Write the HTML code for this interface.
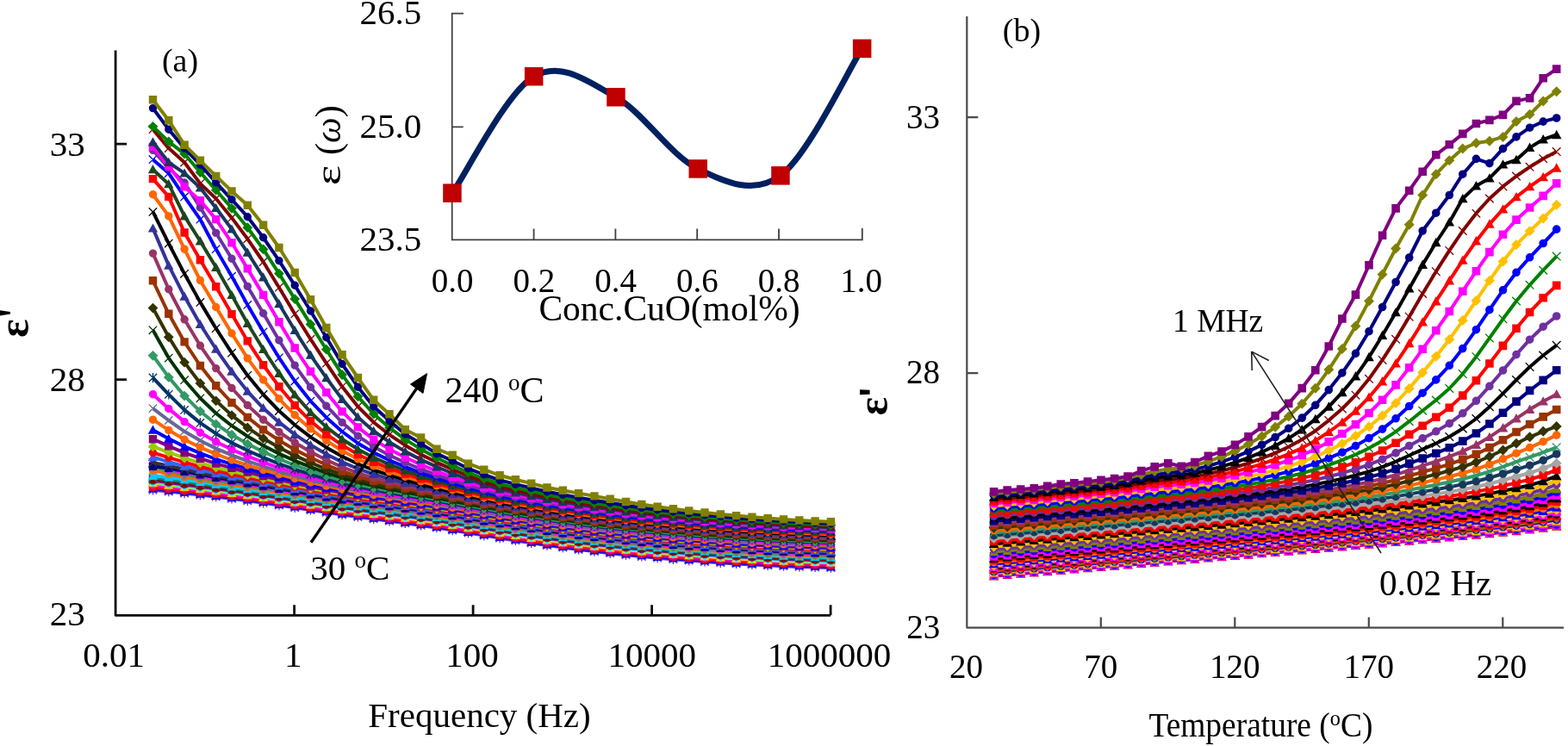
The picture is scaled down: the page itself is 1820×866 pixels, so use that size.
<!DOCTYPE html>
<html><head><meta charset="utf-8"><title>Dielectric constant</title>
<style>html,body{margin:0;padding:0;background:#fff;width:1820px;height:866px;overflow:hidden}svg{display:block}</style>
</head><body>
<svg width="1820" height="866" viewBox="0 0 1820 866" font-family="Liberation Serif, serif">
<rect width="1820" height="866" fill="#fff"/>
<!-- panel a axes -->
<path d="M134.1 58.5V714.3H964" fill="none" stroke="#0d0d0d" stroke-width="2.8" stroke-linejoin="round"/>
<path d="M134.1 167.1h13M134.1 440.7h13M341.6 714.3v-12M549.1 714.3v-12M756.6 714.3v-12M964.1 714.3v-12" stroke="#0d0d0d" stroke-width="2.8"/>
<g font-size="41" fill="#000" text-anchor="end">
<text x="98.7" y="180.5">33</text><text x="98.7" y="453.8">28</text><text x="98.8" y="725.5">23</text>
</g>
<g font-size="41" fill="#000" text-anchor="middle">
<text x="132.2" y="774">0.01</text><text x="340.3" y="774">1</text><text x="548" y="774">100</text><text x="756.8" y="774">10000</text><text x="962.5" y="774">1000000</text>
</g>
<text x="556.5" y="843.5" font-size="41" text-anchor="middle">Frequency (Hz)</text>
<text x="209" y="83.1" font-size="38" text-anchor="middle">(a)</text>
<text transform="translate(33,374) rotate(-90)" font-size="50" font-weight="bold" text-anchor="middle">ε'</text>
<path d="M177.5 568.8L195.8 570.6L214.1 572.5L232.4 574.5L250.7 576.7L269.0 578.9L287.3 581.3L305.6 583.8L323.9 586.5L342.2 589.3L360.5 592.1L378.8 594.8L397.1 597.5L415.4 600.0L433.7 602.4L452.0 604.8L470.3 607.3L488.6 609.9L506.9 612.6L525.2 615.5L543.5 618.6L561.8 621.6L580.1 624.5L598.4 627.4L616.7 630.3L635.0 633.0L653.3 635.6L671.6 638.0L689.9 640.1L708.2 642.2L726.5 644.2L744.8 646.0L763.1 647.7L781.4 649.2L799.7 650.6L818.0 652.0L836.3 653.2L854.6 654.4L872.9 655.4L891.2 656.3L909.5 657.2L927.8 657.9L946.1 658.5L964.4 659.0" fill="none" stroke="#7030A0" stroke-width="4.0" stroke-linejoin="round"/><path d="M172.8 564.1l9.4 9.4M172.8 573.5l9.4 -9.4M177.5 563.1v11.3M191.1 565.9l9.4 9.4M191.1 575.3l9.4 -9.4M195.8 564.9v11.3M209.4 567.8l9.4 9.4M209.4 577.2l9.4 -9.4M214.1 566.9v11.3M227.7 569.8l9.4 9.4M227.7 579.2l9.4 -9.4M232.4 568.9v11.3M246.0 572.0l9.4 9.4M246.0 581.4l9.4 -9.4M250.7 571.0v11.3M264.3 574.2l9.4 9.4M264.3 583.6l9.4 -9.4M269.0 573.3v11.3M282.6 576.6l9.4 9.4M282.6 586.0l9.4 -9.4M287.3 575.6v11.3M300.9 579.1l9.4 9.4M300.9 588.5l9.4 -9.4M305.6 578.2v11.3M319.2 581.8l9.4 9.4M319.2 591.2l9.4 -9.4M323.9 580.9v11.3M337.5 584.6l9.4 9.4M337.5 594.0l9.4 -9.4M342.2 583.7v11.3M355.8 587.4l9.4 9.4M355.8 596.8l9.4 -9.4M360.5 586.5v11.3M374.1 590.1l9.4 9.4M374.1 599.5l9.4 -9.4M378.8 589.2v11.3M392.4 592.8l9.4 9.4M392.4 602.2l9.4 -9.4M397.1 591.8v11.3M410.7 595.3l9.4 9.4M410.7 604.7l9.4 -9.4M415.4 594.3v11.3M429.0 597.7l9.4 9.4M429.0 607.1l9.4 -9.4M433.7 596.8v11.3M447.3 600.1l9.4 9.4M447.3 609.5l9.4 -9.4M452.0 599.2v11.3M465.6 602.6l9.4 9.4M465.6 612.0l9.4 -9.4M470.3 601.7v11.3M483.9 605.2l9.4 9.4M483.9 614.6l9.4 -9.4M488.6 604.2v11.3M502.2 607.9l9.4 9.4M502.2 617.3l9.4 -9.4M506.9 606.9v11.3M520.5 610.8l9.4 9.4M520.5 620.2l9.4 -9.4M525.2 609.9v11.3M538.8 613.9l9.4 9.4M538.8 623.3l9.4 -9.4M543.5 613.0v11.3M557.1 616.9l9.4 9.4M557.1 626.3l9.4 -9.4M561.8 616.0v11.3M575.4 619.8l9.4 9.4M575.4 629.2l9.4 -9.4M580.1 618.9v11.3M593.7 622.7l9.4 9.4M593.7 632.1l9.4 -9.4M598.4 621.8v11.3M612.0 625.6l9.4 9.4M612.0 635.0l9.4 -9.4M616.7 624.7v11.3M630.3 628.3l9.4 9.4M630.3 637.7l9.4 -9.4M635.0 627.4v11.3M648.6 630.9l9.4 9.4M648.6 640.3l9.4 -9.4M653.3 630.0v11.3M666.9 633.3l9.4 9.4M666.9 642.7l9.4 -9.4M671.6 632.3v11.3M685.2 635.4l9.4 9.4M685.2 644.8l9.4 -9.4M689.9 634.5v11.3M703.5 637.5l9.4 9.4M703.5 646.9l9.4 -9.4M708.2 636.6v11.3M721.8 639.5l9.4 9.4M721.8 648.9l9.4 -9.4M726.5 638.5v11.3M740.1 641.3l9.4 9.4M740.1 650.7l9.4 -9.4M744.8 640.3v11.3M758.4 643.0l9.4 9.4M758.4 652.4l9.4 -9.4M763.1 642.0v11.3M776.7 644.5l9.4 9.4M776.7 653.9l9.4 -9.4M781.4 643.6v11.3M795.0 645.9l9.4 9.4M795.0 655.3l9.4 -9.4M799.7 645.0v11.3M813.3 647.3l9.4 9.4M813.3 656.7l9.4 -9.4M818.0 646.3v11.3M831.6 648.5l9.4 9.4M831.6 657.9l9.4 -9.4M836.3 647.6v11.3M849.9 649.7l9.4 9.4M849.9 659.1l9.4 -9.4M854.6 648.7v11.3M868.2 650.7l9.4 9.4M868.2 660.1l9.4 -9.4M872.9 649.8v11.3M886.5 651.6l9.4 9.4M886.5 661.0l9.4 -9.4M891.2 650.7v11.3M904.8 652.5l9.4 9.4M904.8 661.9l9.4 -9.4M909.5 651.5v11.3M923.1 653.2l9.4 9.4M923.1 662.6l9.4 -9.4M927.8 652.2v11.3M941.4 653.8l9.4 9.4M941.4 663.2l9.4 -9.4M946.1 652.8v11.3M959.7 654.3l9.4 9.4M959.7 663.7l9.4 -9.4M964.4 653.4v11.3" fill="none" stroke="#7030A0" stroke-width="1.3"/>
<path d="M177.5 567.1L195.8 569.2L214.1 571.2L232.4 573.2L250.7 575.4L269.0 577.6L287.3 580.0L305.6 582.6L323.9 585.3L342.2 588.1L360.5 590.9L378.8 593.6L397.1 596.2L415.4 598.8L433.7 601.2L452.0 603.6L470.3 606.1L488.6 608.7L506.9 611.4L525.2 614.3L543.5 617.4L561.8 620.4L580.1 623.3L598.4 626.2L616.7 629.1L635.0 631.8L653.3 634.4L671.6 636.8L689.9 638.9L708.2 641.0L726.5 643.0L744.8 644.8L763.1 646.5L781.4 648.0L799.7 649.4L818.0 650.8L836.3 652.0L854.6 653.2L872.9 654.2L891.2 655.1L909.5 656.0L927.8 656.7L946.1 657.3L964.4 657.8" fill="none" stroke="#0000FF" stroke-width="4.0" stroke-linejoin="round"/><path d="M177.5 561.5l5.6 10.2h-11.3zM195.8 563.5l5.6 10.2h-11.3zM214.1 565.5l5.6 10.2h-11.3zM232.4 567.6l5.6 10.2h-11.3zM250.7 569.7l5.6 10.2h-11.3zM269.0 572.0l5.6 10.2h-11.3zM287.3 574.4l5.6 10.2h-11.3zM305.6 576.9l5.6 10.2h-11.3zM323.9 579.7l5.6 10.2h-11.3zM342.2 582.4l5.6 10.2h-11.3zM360.5 585.2l5.6 10.2h-11.3zM378.8 588.0l5.6 10.2h-11.3zM397.1 590.6l5.6 10.2h-11.3zM415.4 593.1l5.6 10.2h-11.3zM433.7 595.6l5.6 10.2h-11.3zM452.0 598.0l5.6 10.2h-11.3zM470.3 600.5l5.6 10.2h-11.3zM488.6 603.0l5.6 10.2h-11.3zM506.9 605.7l5.6 10.2h-11.3zM525.2 608.7l5.6 10.2h-11.3zM543.5 611.8l5.6 10.2h-11.3zM561.8 614.8l5.6 10.2h-11.3zM580.1 617.7l5.6 10.2h-11.3zM598.4 620.6l5.6 10.2h-11.3zM616.7 623.5l5.6 10.2h-11.3zM635.0 626.2l5.6 10.2h-11.3zM653.3 628.8l5.6 10.2h-11.3zM671.6 631.1l5.6 10.2h-11.3zM689.9 633.3l5.6 10.2h-11.3zM708.2 635.4l5.6 10.2h-11.3zM726.5 637.3l5.6 10.2h-11.3zM744.8 639.1l5.6 10.2h-11.3zM763.1 640.8l5.6 10.2h-11.3zM781.4 642.4l5.6 10.2h-11.3zM799.7 643.8l5.6 10.2h-11.3zM818.0 645.1l5.6 10.2h-11.3zM836.3 646.4l5.6 10.2h-11.3zM854.6 647.5l5.6 10.2h-11.3zM872.9 648.6l5.6 10.2h-11.3zM891.2 649.5l5.6 10.2h-11.3zM909.5 650.3l5.6 10.2h-11.3zM927.8 651.0l5.6 10.2h-11.3zM946.1 651.6l5.6 10.2h-11.3zM964.4 652.2l5.6 10.2h-11.3z" fill="#0000FF"/>
<path d="M177.5 566.0L195.8 567.9L214.1 569.9L232.4 572.0L250.7 574.1L269.0 576.4L287.3 578.8L305.6 581.4L323.9 584.1L342.2 586.9L360.5 589.7L378.8 592.4L397.1 595.0L415.4 597.5L433.7 600.0L452.0 602.4L470.3 604.9L488.6 607.5L506.9 610.2L525.2 613.1L543.5 616.2L561.8 619.2L580.1 622.1L598.4 625.0L616.7 627.9L635.0 630.6L653.3 633.2L671.6 635.6L689.9 637.7L708.2 639.8L726.5 641.8L744.8 643.6L763.1 645.3L781.4 646.8L799.7 648.2L818.0 649.6L836.3 650.8L854.6 652.0L872.9 653.0L891.2 653.9L909.5 654.8L927.8 655.5L946.1 656.1L964.4 656.6" fill="none" stroke="#CC0066" stroke-width="4.0" stroke-linejoin="round"/><path d="M172.8 566.0a4.7 4.7 0 1 0 9.4 0a4.7 4.7 0 1 0 -9.4 0zM191.1 567.9a4.7 4.7 0 1 0 9.4 0a4.7 4.7 0 1 0 -9.4 0zM209.4 569.9a4.7 4.7 0 1 0 9.4 0a4.7 4.7 0 1 0 -9.4 0zM227.7 572.0a4.7 4.7 0 1 0 9.4 0a4.7 4.7 0 1 0 -9.4 0zM246.0 574.1a4.7 4.7 0 1 0 9.4 0a4.7 4.7 0 1 0 -9.4 0zM264.3 576.4a4.7 4.7 0 1 0 9.4 0a4.7 4.7 0 1 0 -9.4 0zM282.6 578.8a4.7 4.7 0 1 0 9.4 0a4.7 4.7 0 1 0 -9.4 0zM300.9 581.4a4.7 4.7 0 1 0 9.4 0a4.7 4.7 0 1 0 -9.4 0zM319.2 584.1a4.7 4.7 0 1 0 9.4 0a4.7 4.7 0 1 0 -9.4 0zM337.5 586.9a4.7 4.7 0 1 0 9.4 0a4.7 4.7 0 1 0 -9.4 0zM355.8 589.7a4.7 4.7 0 1 0 9.4 0a4.7 4.7 0 1 0 -9.4 0zM374.1 592.4a4.7 4.7 0 1 0 9.4 0a4.7 4.7 0 1 0 -9.4 0zM392.4 595.0a4.7 4.7 0 1 0 9.4 0a4.7 4.7 0 1 0 -9.4 0zM410.7 597.5a4.7 4.7 0 1 0 9.4 0a4.7 4.7 0 1 0 -9.4 0zM429.0 600.0a4.7 4.7 0 1 0 9.4 0a4.7 4.7 0 1 0 -9.4 0zM447.3 602.4a4.7 4.7 0 1 0 9.4 0a4.7 4.7 0 1 0 -9.4 0zM465.6 604.9a4.7 4.7 0 1 0 9.4 0a4.7 4.7 0 1 0 -9.4 0zM483.9 607.5a4.7 4.7 0 1 0 9.4 0a4.7 4.7 0 1 0 -9.4 0zM502.2 610.2a4.7 4.7 0 1 0 9.4 0a4.7 4.7 0 1 0 -9.4 0zM520.5 613.1a4.7 4.7 0 1 0 9.4 0a4.7 4.7 0 1 0 -9.4 0zM538.8 616.2a4.7 4.7 0 1 0 9.4 0a4.7 4.7 0 1 0 -9.4 0zM557.1 619.2a4.7 4.7 0 1 0 9.4 0a4.7 4.7 0 1 0 -9.4 0zM575.4 622.1a4.7 4.7 0 1 0 9.4 0a4.7 4.7 0 1 0 -9.4 0zM593.7 625.0a4.7 4.7 0 1 0 9.4 0a4.7 4.7 0 1 0 -9.4 0zM612.0 627.9a4.7 4.7 0 1 0 9.4 0a4.7 4.7 0 1 0 -9.4 0zM630.3 630.6a4.7 4.7 0 1 0 9.4 0a4.7 4.7 0 1 0 -9.4 0zM648.6 633.2a4.7 4.7 0 1 0 9.4 0a4.7 4.7 0 1 0 -9.4 0zM666.9 635.6a4.7 4.7 0 1 0 9.4 0a4.7 4.7 0 1 0 -9.4 0zM685.2 637.7a4.7 4.7 0 1 0 9.4 0a4.7 4.7 0 1 0 -9.4 0zM703.5 639.8a4.7 4.7 0 1 0 9.4 0a4.7 4.7 0 1 0 -9.4 0zM721.8 641.8a4.7 4.7 0 1 0 9.4 0a4.7 4.7 0 1 0 -9.4 0zM740.1 643.6a4.7 4.7 0 1 0 9.4 0a4.7 4.7 0 1 0 -9.4 0zM758.4 645.3a4.7 4.7 0 1 0 9.4 0a4.7 4.7 0 1 0 -9.4 0zM776.7 646.8a4.7 4.7 0 1 0 9.4 0a4.7 4.7 0 1 0 -9.4 0zM795.0 648.2a4.7 4.7 0 1 0 9.4 0a4.7 4.7 0 1 0 -9.4 0zM813.3 649.6a4.7 4.7 0 1 0 9.4 0a4.7 4.7 0 1 0 -9.4 0zM831.6 650.8a4.7 4.7 0 1 0 9.4 0a4.7 4.7 0 1 0 -9.4 0zM849.9 652.0a4.7 4.7 0 1 0 9.4 0a4.7 4.7 0 1 0 -9.4 0zM868.2 653.0a4.7 4.7 0 1 0 9.4 0a4.7 4.7 0 1 0 -9.4 0zM886.5 653.9a4.7 4.7 0 1 0 9.4 0a4.7 4.7 0 1 0 -9.4 0zM904.8 654.8a4.7 4.7 0 1 0 9.4 0a4.7 4.7 0 1 0 -9.4 0zM923.1 655.5a4.7 4.7 0 1 0 9.4 0a4.7 4.7 0 1 0 -9.4 0zM941.4 656.1a4.7 4.7 0 1 0 9.4 0a4.7 4.7 0 1 0 -9.4 0zM959.7 656.6a4.7 4.7 0 1 0 9.4 0a4.7 4.7 0 1 0 -9.4 0z" fill="#CC0066"/>
<path d="M177.5 564.9L195.8 566.5L214.1 568.5L232.4 570.6L250.7 572.8L269.0 575.1L287.3 577.5L305.6 580.1L323.9 582.8L342.2 585.6L360.5 588.4L378.8 591.2L397.1 593.8L415.4 596.3L433.7 598.8L452.0 601.2L470.3 603.7L488.6 606.3L506.9 609.0L525.2 611.9L543.5 615.0L561.8 618.0L580.1 620.9L598.4 623.8L616.7 626.7L635.0 629.4L653.3 632.0L671.6 634.4L689.9 636.5L708.2 638.6L726.5 640.6L744.8 642.4L763.1 644.1L781.4 645.6L799.7 647.0L818.0 648.4L836.3 649.6L854.6 650.8L872.9 651.8L891.2 652.7L909.5 653.6L927.8 654.3L946.1 654.9L964.4 655.4" fill="none" stroke="#FF0000" stroke-width="4.0" stroke-linejoin="round"/><path d="M172.8 560.2h9.4v9.4h-9.4zM191.1 561.8h9.4v9.4h-9.4zM209.4 563.8h9.4v9.4h-9.4zM227.7 565.9h9.4v9.4h-9.4zM246.0 568.1h9.4v9.4h-9.4zM264.3 570.4h9.4v9.4h-9.4zM282.6 572.8h9.4v9.4h-9.4zM300.9 575.4h9.4v9.4h-9.4zM319.2 578.1h9.4v9.4h-9.4zM337.5 580.9h9.4v9.4h-9.4zM355.8 583.7h9.4v9.4h-9.4zM374.1 586.5h9.4v9.4h-9.4zM392.4 589.1h9.4v9.4h-9.4zM410.7 591.6h9.4v9.4h-9.4zM429.0 594.1h9.4v9.4h-9.4zM447.3 596.5h9.4v9.4h-9.4zM465.6 599.0h9.4v9.4h-9.4zM483.9 601.6h9.4v9.4h-9.4zM502.2 604.3h9.4v9.4h-9.4zM520.5 607.2h9.4v9.4h-9.4zM538.8 610.3h9.4v9.4h-9.4zM557.1 613.3h9.4v9.4h-9.4zM575.4 616.2h9.4v9.4h-9.4zM593.7 619.1h9.4v9.4h-9.4zM612.0 622.0h9.4v9.4h-9.4zM630.3 624.7h9.4v9.4h-9.4zM648.6 627.3h9.4v9.4h-9.4zM666.9 629.7h9.4v9.4h-9.4zM685.2 631.8h9.4v9.4h-9.4zM703.5 633.9h9.4v9.4h-9.4zM721.8 635.9h9.4v9.4h-9.4zM740.1 637.7h9.4v9.4h-9.4zM758.4 639.4h9.4v9.4h-9.4zM776.7 640.9h9.4v9.4h-9.4zM795.0 642.3h9.4v9.4h-9.4zM813.3 643.7h9.4v9.4h-9.4zM831.6 644.9h9.4v9.4h-9.4zM849.9 646.1h9.4v9.4h-9.4zM868.2 647.1h9.4v9.4h-9.4zM886.5 648.0h9.4v9.4h-9.4zM904.8 648.9h9.4v9.4h-9.4zM923.1 649.6h9.4v9.4h-9.4zM941.4 650.2h9.4v9.4h-9.4zM959.7 650.7h9.4v9.4h-9.4z" fill="#FF0000"/>
<path d="M177.5 562.7L195.8 564.8L214.1 566.9L232.4 569.1L250.7 571.4L269.0 573.7L287.3 576.1L305.6 578.8L323.9 581.5L342.2 584.3L360.5 587.2L378.8 589.9L397.1 592.6L415.4 595.1L433.7 597.6L452.0 600.0L470.3 602.5L488.6 605.0L506.9 607.7L525.2 610.7L543.5 613.8L561.8 616.8L580.1 619.7L598.4 622.6L616.7 625.5L635.0 628.2L653.3 630.8L671.6 633.2L689.9 635.3L708.2 637.4L726.5 639.4L744.8 641.2L763.1 642.9L781.4 644.4L799.7 645.8L818.0 647.2L836.3 648.4L854.6 649.6L872.9 650.6L891.2 651.5L909.5 652.4L927.8 653.1L946.1 653.7L964.4 654.2" fill="none" stroke="#FF00FF" stroke-width="4.0" stroke-linejoin="round"/><path d="M172.8 562.7a4.7 4.7 0 1 0 9.4 0a4.7 4.7 0 1 0 -9.4 0zM191.1 564.8a4.7 4.7 0 1 0 9.4 0a4.7 4.7 0 1 0 -9.4 0zM209.4 566.9a4.7 4.7 0 1 0 9.4 0a4.7 4.7 0 1 0 -9.4 0zM227.7 569.1a4.7 4.7 0 1 0 9.4 0a4.7 4.7 0 1 0 -9.4 0zM246.0 571.4a4.7 4.7 0 1 0 9.4 0a4.7 4.7 0 1 0 -9.4 0zM264.3 573.7a4.7 4.7 0 1 0 9.4 0a4.7 4.7 0 1 0 -9.4 0zM282.6 576.1a4.7 4.7 0 1 0 9.4 0a4.7 4.7 0 1 0 -9.4 0zM300.9 578.8a4.7 4.7 0 1 0 9.4 0a4.7 4.7 0 1 0 -9.4 0zM319.2 581.5a4.7 4.7 0 1 0 9.4 0a4.7 4.7 0 1 0 -9.4 0zM337.5 584.3a4.7 4.7 0 1 0 9.4 0a4.7 4.7 0 1 0 -9.4 0zM355.8 587.2a4.7 4.7 0 1 0 9.4 0a4.7 4.7 0 1 0 -9.4 0zM374.1 589.9a4.7 4.7 0 1 0 9.4 0a4.7 4.7 0 1 0 -9.4 0zM392.4 592.6a4.7 4.7 0 1 0 9.4 0a4.7 4.7 0 1 0 -9.4 0zM410.7 595.1a4.7 4.7 0 1 0 9.4 0a4.7 4.7 0 1 0 -9.4 0zM429.0 597.6a4.7 4.7 0 1 0 9.4 0a4.7 4.7 0 1 0 -9.4 0zM447.3 600.0a4.7 4.7 0 1 0 9.4 0a4.7 4.7 0 1 0 -9.4 0zM465.6 602.5a4.7 4.7 0 1 0 9.4 0a4.7 4.7 0 1 0 -9.4 0zM483.9 605.0a4.7 4.7 0 1 0 9.4 0a4.7 4.7 0 1 0 -9.4 0zM502.2 607.7a4.7 4.7 0 1 0 9.4 0a4.7 4.7 0 1 0 -9.4 0zM520.5 610.7a4.7 4.7 0 1 0 9.4 0a4.7 4.7 0 1 0 -9.4 0zM538.8 613.8a4.7 4.7 0 1 0 9.4 0a4.7 4.7 0 1 0 -9.4 0zM557.1 616.8a4.7 4.7 0 1 0 9.4 0a4.7 4.7 0 1 0 -9.4 0zM575.4 619.7a4.7 4.7 0 1 0 9.4 0a4.7 4.7 0 1 0 -9.4 0zM593.7 622.6a4.7 4.7 0 1 0 9.4 0a4.7 4.7 0 1 0 -9.4 0zM612.0 625.5a4.7 4.7 0 1 0 9.4 0a4.7 4.7 0 1 0 -9.4 0zM630.3 628.2a4.7 4.7 0 1 0 9.4 0a4.7 4.7 0 1 0 -9.4 0zM648.6 630.8a4.7 4.7 0 1 0 9.4 0a4.7 4.7 0 1 0 -9.4 0zM666.9 633.2a4.7 4.7 0 1 0 9.4 0a4.7 4.7 0 1 0 -9.4 0zM685.2 635.3a4.7 4.7 0 1 0 9.4 0a4.7 4.7 0 1 0 -9.4 0zM703.5 637.4a4.7 4.7 0 1 0 9.4 0a4.7 4.7 0 1 0 -9.4 0zM721.8 639.4a4.7 4.7 0 1 0 9.4 0a4.7 4.7 0 1 0 -9.4 0zM740.1 641.2a4.7 4.7 0 1 0 9.4 0a4.7 4.7 0 1 0 -9.4 0zM758.4 642.9a4.7 4.7 0 1 0 9.4 0a4.7 4.7 0 1 0 -9.4 0zM776.7 644.4a4.7 4.7 0 1 0 9.4 0a4.7 4.7 0 1 0 -9.4 0zM795.0 645.8a4.7 4.7 0 1 0 9.4 0a4.7 4.7 0 1 0 -9.4 0zM813.3 647.2a4.7 4.7 0 1 0 9.4 0a4.7 4.7 0 1 0 -9.4 0zM831.6 648.4a4.7 4.7 0 1 0 9.4 0a4.7 4.7 0 1 0 -9.4 0zM849.9 649.6a4.7 4.7 0 1 0 9.4 0a4.7 4.7 0 1 0 -9.4 0zM868.2 650.6a4.7 4.7 0 1 0 9.4 0a4.7 4.7 0 1 0 -9.4 0zM886.5 651.5a4.7 4.7 0 1 0 9.4 0a4.7 4.7 0 1 0 -9.4 0zM904.8 652.4a4.7 4.7 0 1 0 9.4 0a4.7 4.7 0 1 0 -9.4 0zM923.1 653.1a4.7 4.7 0 1 0 9.4 0a4.7 4.7 0 1 0 -9.4 0zM941.4 653.7a4.7 4.7 0 1 0 9.4 0a4.7 4.7 0 1 0 -9.4 0zM959.7 654.2a4.7 4.7 0 1 0 9.4 0a4.7 4.7 0 1 0 -9.4 0z" fill="#FF00FF"/>
<path d="M177.5 560.6L195.8 563.1L214.1 565.3L232.4 567.6L250.7 569.9L269.0 572.3L287.3 574.8L305.6 577.4L323.9 580.2L342.2 583.0L360.5 585.9L378.8 588.7L397.1 591.3L415.4 593.9L433.7 596.3L452.0 598.8L470.3 601.3L488.6 603.8L506.9 606.5L525.2 609.5L543.5 612.6L561.8 615.6L580.1 618.5L598.4 621.4L616.7 624.3L635.0 627.0L653.3 629.6L671.6 632.0L689.9 634.1L708.2 636.2L726.5 638.2L744.8 640.0L763.1 641.7L781.4 643.2L799.7 644.6L818.0 646.0L836.3 647.2L854.6 648.4L872.9 649.4L891.2 650.4L909.5 651.2L927.8 651.9L946.1 652.5L964.4 653.0" fill="none" stroke="#FFCC00" stroke-width="4.0" stroke-linejoin="round"/><path d="M177.5 554.9l5.6 10.2h-11.3zM195.8 557.5l5.6 10.2h-11.3zM214.1 559.7l5.6 10.2h-11.3zM232.4 561.9l5.6 10.2h-11.3zM250.7 564.3l5.6 10.2h-11.3zM269.0 566.7l5.6 10.2h-11.3zM287.3 569.1l5.6 10.2h-11.3zM305.6 571.8l5.6 10.2h-11.3zM323.9 574.6l5.6 10.2h-11.3zM342.2 577.4l5.6 10.2h-11.3zM360.5 580.2l5.6 10.2h-11.3zM378.8 583.0l5.6 10.2h-11.3zM397.1 585.7l5.6 10.2h-11.3zM415.4 588.2l5.6 10.2h-11.3zM433.7 590.7l5.6 10.2h-11.3zM452.0 593.1l5.6 10.2h-11.3zM470.3 595.6l5.6 10.2h-11.3zM488.6 598.2l5.6 10.2h-11.3zM506.9 600.9l5.6 10.2h-11.3zM525.2 603.9l5.6 10.2h-11.3zM543.5 607.0l5.6 10.2h-11.3zM561.8 610.0l5.6 10.2h-11.3zM580.1 612.9l5.6 10.2h-11.3zM598.4 615.8l5.6 10.2h-11.3zM616.7 618.7l5.6 10.2h-11.3zM635.0 621.4l5.6 10.2h-11.3zM653.3 624.0l5.6 10.2h-11.3zM671.6 626.3l5.6 10.2h-11.3zM689.9 628.5l5.6 10.2h-11.3zM708.2 630.6l5.6 10.2h-11.3zM726.5 632.5l5.6 10.2h-11.3zM744.8 634.3l5.6 10.2h-11.3zM763.1 636.0l5.6 10.2h-11.3zM781.4 637.6l5.6 10.2h-11.3zM799.7 639.0l5.6 10.2h-11.3zM818.0 640.3l5.6 10.2h-11.3zM836.3 641.6l5.6 10.2h-11.3zM854.6 642.7l5.6 10.2h-11.3zM872.9 643.8l5.6 10.2h-11.3zM891.2 644.7l5.6 10.2h-11.3zM909.5 645.5l5.6 10.2h-11.3zM927.8 646.2l5.6 10.2h-11.3zM946.1 646.8l5.6 10.2h-11.3zM964.4 647.4l5.6 10.2h-11.3z" fill="#FFCC00"/>
<path d="M177.5 559.5L195.8 561.6L214.1 563.9L232.4 566.2L250.7 568.5L269.0 571.0L287.3 573.5L305.6 576.1L323.9 578.9L342.2 581.8L360.5 584.6L378.8 587.4L397.1 590.1L415.4 592.6L433.7 595.1L452.0 597.6L470.3 600.1L488.6 602.6L506.9 605.3L525.2 608.3L543.5 611.4L561.8 614.4L580.1 617.3L598.4 620.2L616.7 623.1L635.0 625.8L653.3 628.4L671.6 630.8L689.9 632.9L708.2 635.0L726.5 637.0L744.8 638.8L763.1 640.5L781.4 642.0L799.7 643.4L818.0 644.8L836.3 646.0L854.6 647.2L872.9 648.2L891.2 649.2L909.5 650.0L927.8 650.7L946.1 651.3L964.4 651.8" fill="none" stroke="#00FFFF" stroke-width="4.0" stroke-linejoin="round"/><path d="M177.5 553.6l5.9 5.9l-5.9 5.9l-5.9 -5.9zM195.8 555.7l5.9 5.9l-5.9 5.9l-5.9 -5.9zM214.1 558.0l5.9 5.9l-5.9 5.9l-5.9 -5.9zM232.4 560.3l5.9 5.9l-5.9 5.9l-5.9 -5.9zM250.7 562.7l5.9 5.9l-5.9 5.9l-5.9 -5.9zM269.0 565.1l5.9 5.9l-5.9 5.9l-5.9 -5.9zM287.3 567.6l5.9 5.9l-5.9 5.9l-5.9 -5.9zM305.6 570.3l5.9 5.9l-5.9 5.9l-5.9 -5.9zM323.9 573.1l5.9 5.9l-5.9 5.9l-5.9 -5.9zM342.2 575.9l5.9 5.9l-5.9 5.9l-5.9 -5.9zM360.5 578.8l5.9 5.9l-5.9 5.9l-5.9 -5.9zM378.8 581.6l5.9 5.9l-5.9 5.9l-5.9 -5.9zM397.1 584.2l5.9 5.9l-5.9 5.9l-5.9 -5.9zM415.4 586.8l5.9 5.9l-5.9 5.9l-5.9 -5.9zM433.7 589.2l5.9 5.9l-5.9 5.9l-5.9 -5.9zM452.0 591.7l5.9 5.9l-5.9 5.9l-5.9 -5.9zM470.3 594.2l5.9 5.9l-5.9 5.9l-5.9 -5.9zM488.6 596.7l5.9 5.9l-5.9 5.9l-5.9 -5.9zM506.9 599.5l5.9 5.9l-5.9 5.9l-5.9 -5.9zM525.2 602.4l5.9 5.9l-5.9 5.9l-5.9 -5.9zM543.5 605.5l5.9 5.9l-5.9 5.9l-5.9 -5.9zM561.8 608.5l5.9 5.9l-5.9 5.9l-5.9 -5.9zM580.1 611.5l5.9 5.9l-5.9 5.9l-5.9 -5.9zM598.4 614.4l5.9 5.9l-5.9 5.9l-5.9 -5.9zM616.7 617.2l5.9 5.9l-5.9 5.9l-5.9 -5.9zM635.0 620.0l5.9 5.9l-5.9 5.9l-5.9 -5.9zM653.3 622.5l5.9 5.9l-5.9 5.9l-5.9 -5.9zM671.6 624.9l5.9 5.9l-5.9 5.9l-5.9 -5.9zM689.9 627.1l5.9 5.9l-5.9 5.9l-5.9 -5.9zM708.2 629.1l5.9 5.9l-5.9 5.9l-5.9 -5.9zM726.5 631.1l5.9 5.9l-5.9 5.9l-5.9 -5.9zM744.8 632.9l5.9 5.9l-5.9 5.9l-5.9 -5.9zM763.1 634.6l5.9 5.9l-5.9 5.9l-5.9 -5.9zM781.4 636.1l5.9 5.9l-5.9 5.9l-5.9 -5.9zM799.7 637.6l5.9 5.9l-5.9 5.9l-5.9 -5.9zM818.0 638.9l5.9 5.9l-5.9 5.9l-5.9 -5.9zM836.3 640.1l5.9 5.9l-5.9 5.9l-5.9 -5.9zM854.6 641.3l5.9 5.9l-5.9 5.9l-5.9 -5.9zM872.9 642.3l5.9 5.9l-5.9 5.9l-5.9 -5.9zM891.2 643.3l5.9 5.9l-5.9 5.9l-5.9 -5.9zM909.5 644.1l5.9 5.9l-5.9 5.9l-5.9 -5.9zM927.8 644.8l5.9 5.9l-5.9 5.9l-5.9 -5.9zM946.1 645.4l5.9 5.9l-5.9 5.9l-5.9 -5.9zM964.4 646.0l5.9 5.9l-5.9 5.9l-5.9 -5.9z" fill="#00FFFF"/>
<path d="M177.5 557.8L195.8 560.1L214.1 562.4L232.4 564.8L250.7 567.2L269.0 569.6L287.3 572.2L305.6 574.9L323.9 577.7L342.2 580.5L360.5 583.4L378.8 586.2L397.1 588.9L415.4 591.4L433.7 593.9L452.0 596.4L470.3 598.8L488.6 601.4L506.9 604.1L525.2 607.1L543.5 610.2L561.8 613.2L580.1 616.1L598.4 619.0L616.7 621.9L635.0 624.6L653.3 627.2L671.6 629.6L689.9 631.7L708.2 633.8L726.5 635.8L744.8 637.6L763.1 639.3L781.4 640.8L799.7 642.2L818.0 643.6L836.3 644.8L854.6 646.0L872.9 647.0L891.2 648.0L909.5 648.8L927.8 649.5L946.1 650.1L964.4 650.6" fill="none" stroke="#800080" stroke-width="4.0" stroke-linejoin="round"/><path d="M172.8 557.8a4.7 4.7 0 1 0 9.4 0a4.7 4.7 0 1 0 -9.4 0zM191.1 560.1a4.7 4.7 0 1 0 9.4 0a4.7 4.7 0 1 0 -9.4 0zM209.4 562.4a4.7 4.7 0 1 0 9.4 0a4.7 4.7 0 1 0 -9.4 0zM227.7 564.8a4.7 4.7 0 1 0 9.4 0a4.7 4.7 0 1 0 -9.4 0zM246.0 567.2a4.7 4.7 0 1 0 9.4 0a4.7 4.7 0 1 0 -9.4 0zM264.3 569.6a4.7 4.7 0 1 0 9.4 0a4.7 4.7 0 1 0 -9.4 0zM282.6 572.2a4.7 4.7 0 1 0 9.4 0a4.7 4.7 0 1 0 -9.4 0zM300.9 574.9a4.7 4.7 0 1 0 9.4 0a4.7 4.7 0 1 0 -9.4 0zM319.2 577.7a4.7 4.7 0 1 0 9.4 0a4.7 4.7 0 1 0 -9.4 0zM337.5 580.5a4.7 4.7 0 1 0 9.4 0a4.7 4.7 0 1 0 -9.4 0zM355.8 583.4a4.7 4.7 0 1 0 9.4 0a4.7 4.7 0 1 0 -9.4 0zM374.1 586.2a4.7 4.7 0 1 0 9.4 0a4.7 4.7 0 1 0 -9.4 0zM392.4 588.9a4.7 4.7 0 1 0 9.4 0a4.7 4.7 0 1 0 -9.4 0zM410.7 591.4a4.7 4.7 0 1 0 9.4 0a4.7 4.7 0 1 0 -9.4 0zM429.0 593.9a4.7 4.7 0 1 0 9.4 0a4.7 4.7 0 1 0 -9.4 0zM447.3 596.4a4.7 4.7 0 1 0 9.4 0a4.7 4.7 0 1 0 -9.4 0zM465.6 598.8a4.7 4.7 0 1 0 9.4 0a4.7 4.7 0 1 0 -9.4 0zM483.9 601.4a4.7 4.7 0 1 0 9.4 0a4.7 4.7 0 1 0 -9.4 0zM502.2 604.1a4.7 4.7 0 1 0 9.4 0a4.7 4.7 0 1 0 -9.4 0zM520.5 607.1a4.7 4.7 0 1 0 9.4 0a4.7 4.7 0 1 0 -9.4 0zM538.8 610.2a4.7 4.7 0 1 0 9.4 0a4.7 4.7 0 1 0 -9.4 0zM557.1 613.2a4.7 4.7 0 1 0 9.4 0a4.7 4.7 0 1 0 -9.4 0zM575.4 616.1a4.7 4.7 0 1 0 9.4 0a4.7 4.7 0 1 0 -9.4 0zM593.7 619.0a4.7 4.7 0 1 0 9.4 0a4.7 4.7 0 1 0 -9.4 0zM612.0 621.9a4.7 4.7 0 1 0 9.4 0a4.7 4.7 0 1 0 -9.4 0zM630.3 624.6a4.7 4.7 0 1 0 9.4 0a4.7 4.7 0 1 0 -9.4 0zM648.6 627.2a4.7 4.7 0 1 0 9.4 0a4.7 4.7 0 1 0 -9.4 0zM666.9 629.6a4.7 4.7 0 1 0 9.4 0a4.7 4.7 0 1 0 -9.4 0zM685.2 631.7a4.7 4.7 0 1 0 9.4 0a4.7 4.7 0 1 0 -9.4 0zM703.5 633.8a4.7 4.7 0 1 0 9.4 0a4.7 4.7 0 1 0 -9.4 0zM721.8 635.8a4.7 4.7 0 1 0 9.4 0a4.7 4.7 0 1 0 -9.4 0zM740.1 637.6a4.7 4.7 0 1 0 9.4 0a4.7 4.7 0 1 0 -9.4 0zM758.4 639.3a4.7 4.7 0 1 0 9.4 0a4.7 4.7 0 1 0 -9.4 0zM776.7 640.8a4.7 4.7 0 1 0 9.4 0a4.7 4.7 0 1 0 -9.4 0zM795.0 642.2a4.7 4.7 0 1 0 9.4 0a4.7 4.7 0 1 0 -9.4 0zM813.3 643.6a4.7 4.7 0 1 0 9.4 0a4.7 4.7 0 1 0 -9.4 0zM831.6 644.8a4.7 4.7 0 1 0 9.4 0a4.7 4.7 0 1 0 -9.4 0zM849.9 646.0a4.7 4.7 0 1 0 9.4 0a4.7 4.7 0 1 0 -9.4 0zM868.2 647.0a4.7 4.7 0 1 0 9.4 0a4.7 4.7 0 1 0 -9.4 0zM886.5 648.0a4.7 4.7 0 1 0 9.4 0a4.7 4.7 0 1 0 -9.4 0zM904.8 648.8a4.7 4.7 0 1 0 9.4 0a4.7 4.7 0 1 0 -9.4 0zM923.1 649.5a4.7 4.7 0 1 0 9.4 0a4.7 4.7 0 1 0 -9.4 0zM941.4 650.1a4.7 4.7 0 1 0 9.4 0a4.7 4.7 0 1 0 -9.4 0zM959.7 650.6a4.7 4.7 0 1 0 9.4 0a4.7 4.7 0 1 0 -9.4 0z" fill="#800080"/>
<path d="M177.5 556.2L195.8 558.5L214.1 560.9L232.4 563.4L250.7 565.8L269.0 568.3L287.3 570.8L305.6 573.6L323.9 576.4L342.2 579.3L360.5 582.1L378.8 585.0L397.1 587.6L415.4 590.2L433.7 592.7L452.0 595.1L470.3 597.6L488.6 600.2L506.9 602.9L525.2 605.9L543.5 609.0L561.8 612.0L580.1 614.9L598.4 617.8L616.7 620.7L635.0 623.4L653.3 626.0L671.6 628.4L689.9 630.5L708.2 632.6L726.5 634.6L744.8 636.4L763.1 638.1L781.4 639.6L799.7 641.0L818.0 642.4L836.3 643.6L854.6 644.8L872.9 645.8L891.2 646.8L909.5 647.6L927.8 648.3L946.1 648.9L964.4 649.4" fill="none" stroke="#800000" stroke-width="4.0" stroke-linejoin="round"/><path d="M172.8 551.5h9.4v9.4h-9.4zM191.1 553.8h9.4v9.4h-9.4zM209.4 556.2h9.4v9.4h-9.4zM227.7 558.7h9.4v9.4h-9.4zM246.0 561.1h9.4v9.4h-9.4zM264.3 563.6h9.4v9.4h-9.4zM282.6 566.1h9.4v9.4h-9.4zM300.9 568.9h9.4v9.4h-9.4zM319.2 571.7h9.4v9.4h-9.4zM337.5 574.6h9.4v9.4h-9.4zM355.8 577.4h9.4v9.4h-9.4zM374.1 580.3h9.4v9.4h-9.4zM392.4 582.9h9.4v9.4h-9.4zM410.7 585.5h9.4v9.4h-9.4zM429.0 588.0h9.4v9.4h-9.4zM447.3 590.4h9.4v9.4h-9.4zM465.6 592.9h9.4v9.4h-9.4zM483.9 595.5h9.4v9.4h-9.4zM502.2 598.2h9.4v9.4h-9.4zM520.5 601.2h9.4v9.4h-9.4zM538.8 604.3h9.4v9.4h-9.4zM557.1 607.3h9.4v9.4h-9.4zM575.4 610.2h9.4v9.4h-9.4zM593.7 613.1h9.4v9.4h-9.4zM612.0 616.0h9.4v9.4h-9.4zM630.3 618.7h9.4v9.4h-9.4zM648.6 621.3h9.4v9.4h-9.4zM666.9 623.7h9.4v9.4h-9.4zM685.2 625.8h9.4v9.4h-9.4zM703.5 627.9h9.4v9.4h-9.4zM721.8 629.9h9.4v9.4h-9.4zM740.1 631.7h9.4v9.4h-9.4zM758.4 633.4h9.4v9.4h-9.4zM776.7 634.9h9.4v9.4h-9.4zM795.0 636.3h9.4v9.4h-9.4zM813.3 637.7h9.4v9.4h-9.4zM831.6 638.9h9.4v9.4h-9.4zM849.9 640.1h9.4v9.4h-9.4zM868.2 641.1h9.4v9.4h-9.4zM886.5 642.1h9.4v9.4h-9.4zM904.8 642.9h9.4v9.4h-9.4zM923.1 643.6h9.4v9.4h-9.4zM941.4 644.2h9.4v9.4h-9.4zM959.7 644.7h9.4v9.4h-9.4z" fill="#800000"/>
<path d="M177.5 554.5L195.8 556.7L214.1 559.2L232.4 561.7L250.7 564.2L269.0 566.8L287.3 569.4L305.6 572.2L323.9 575.0L342.2 577.9L360.5 580.8L378.8 583.7L397.1 586.4L415.4 588.9L433.7 591.4L452.0 593.9L470.3 596.4L488.6 599.0L506.9 601.7L525.2 604.7L543.5 607.8L561.8 610.8L580.1 613.7L598.4 616.6L616.7 619.5L635.0 622.2L653.3 624.8L671.6 627.2L689.9 629.3L708.2 631.4L726.5 633.4L744.8 635.2L763.1 636.9L781.4 638.4L799.7 639.8L818.0 641.2L836.3 642.4L854.6 643.6L872.9 644.6L891.2 645.6L909.5 646.4L927.8 647.1L946.1 647.7L964.4 648.2" fill="none" stroke="#008080" stroke-width="4.0" stroke-linejoin="round"/><path d="M172.8 549.8l9.4 9.4M172.8 559.2l9.4 -9.4M191.1 552.0l9.4 9.4M191.1 561.4l9.4 -9.4M209.4 554.5l9.4 9.4M209.4 563.9l9.4 -9.4M227.7 557.0l9.4 9.4M227.7 566.4l9.4 -9.4M246.0 559.5l9.4 9.4M246.0 568.9l9.4 -9.4M264.3 562.1l9.4 9.4M264.3 571.5l9.4 -9.4M282.6 564.7l9.4 9.4M282.6 574.1l9.4 -9.4M300.9 567.5l9.4 9.4M300.9 576.9l9.4 -9.4M319.2 570.3l9.4 9.4M319.2 579.7l9.4 -9.4M337.5 573.2l9.4 9.4M337.5 582.6l9.4 -9.4M355.8 576.1l9.4 9.4M355.8 585.5l9.4 -9.4M374.1 579.0l9.4 9.4M374.1 588.4l9.4 -9.4M392.4 581.7l9.4 9.4M392.4 591.1l9.4 -9.4M410.7 584.2l9.4 9.4M410.7 593.6l9.4 -9.4M429.0 586.7l9.4 9.4M429.0 596.1l9.4 -9.4M447.3 589.2l9.4 9.4M447.3 598.6l9.4 -9.4M465.6 591.7l9.4 9.4M465.6 601.1l9.4 -9.4M483.9 594.3l9.4 9.4M483.9 603.7l9.4 -9.4M502.2 597.0l9.4 9.4M502.2 606.4l9.4 -9.4M520.5 600.0l9.4 9.4M520.5 609.4l9.4 -9.4M538.8 603.1l9.4 9.4M538.8 612.5l9.4 -9.4M557.1 606.1l9.4 9.4M557.1 615.5l9.4 -9.4M575.4 609.0l9.4 9.4M575.4 618.4l9.4 -9.4M593.7 611.9l9.4 9.4M593.7 621.3l9.4 -9.4M612.0 614.8l9.4 9.4M612.0 624.2l9.4 -9.4M630.3 617.5l9.4 9.4M630.3 626.9l9.4 -9.4M648.6 620.1l9.4 9.4M648.6 629.5l9.4 -9.4M666.9 622.5l9.4 9.4M666.9 631.9l9.4 -9.4M685.2 624.6l9.4 9.4M685.2 634.0l9.4 -9.4M703.5 626.7l9.4 9.4M703.5 636.1l9.4 -9.4M721.8 628.7l9.4 9.4M721.8 638.1l9.4 -9.4M740.1 630.5l9.4 9.4M740.1 639.9l9.4 -9.4M758.4 632.2l9.4 9.4M758.4 641.6l9.4 -9.4M776.7 633.7l9.4 9.4M776.7 643.1l9.4 -9.4M795.0 635.1l9.4 9.4M795.0 644.5l9.4 -9.4M813.3 636.5l9.4 9.4M813.3 645.9l9.4 -9.4M831.6 637.7l9.4 9.4M831.6 647.1l9.4 -9.4M849.9 638.9l9.4 9.4M849.9 648.3l9.4 -9.4M868.2 639.9l9.4 9.4M868.2 649.3l9.4 -9.4M886.5 640.9l9.4 9.4M886.5 650.3l9.4 -9.4M904.8 641.7l9.4 9.4M904.8 651.1l9.4 -9.4M923.1 642.4l9.4 9.4M923.1 651.8l9.4 -9.4M941.4 643.0l9.4 9.4M941.4 652.4l9.4 -9.4M959.7 643.5l9.4 9.4M959.7 652.9l9.4 -9.4" fill="none" stroke="#008080" stroke-width="1.3"/>
<path d="M177.5 552.3L195.8 553.9L214.1 556.8L232.4 559.5L250.7 562.2L269.0 564.9L287.3 567.7L305.6 570.5L323.9 573.5L342.2 576.5L360.5 579.4L378.8 582.3L397.1 585.0L415.4 587.6L433.7 590.2L452.0 592.6L470.3 595.1L488.6 597.7L506.9 600.5L525.2 603.4L543.5 606.6L561.8 609.6L580.1 612.5L598.4 615.4L616.7 618.3L635.0 621.0L653.3 623.6L671.6 626.0L689.9 628.1L708.2 630.2L726.5 632.2L744.8 634.0L763.1 635.7L781.4 637.2L799.7 638.6L818.0 640.0L836.3 641.2L854.6 642.4L872.9 643.4L891.2 644.4L909.5 645.2L927.8 645.9L946.1 646.5L964.4 647.0" fill="none" stroke="#00CCFF" stroke-width="4.0" stroke-linejoin="round"/><path d="M177.5 546.7l5.6 10.2h-11.3zM195.8 548.3l5.6 10.2h-11.3zM214.1 551.1l5.6 10.2h-11.3zM232.4 553.9l5.6 10.2h-11.3zM250.7 556.6l5.6 10.2h-11.3zM269.0 559.3l5.6 10.2h-11.3zM287.3 562.0l5.6 10.2h-11.3zM305.6 564.9l5.6 10.2h-11.3zM323.9 567.8l5.6 10.2h-11.3zM342.2 570.8l5.6 10.2h-11.3zM360.5 573.8l5.6 10.2h-11.3zM378.8 576.7l5.6 10.2h-11.3zM397.1 579.4l5.6 10.2h-11.3zM415.4 582.0l5.6 10.2h-11.3zM433.7 584.5l5.6 10.2h-11.3zM452.0 587.0l5.6 10.2h-11.3zM470.3 589.5l5.6 10.2h-11.3zM488.6 592.1l5.6 10.2h-11.3zM506.9 594.8l5.6 10.2h-11.3zM525.2 597.8l5.6 10.2h-11.3zM543.5 600.9l5.6 10.2h-11.3zM561.8 603.9l5.6 10.2h-11.3zM580.1 606.9l5.6 10.2h-11.3zM598.4 609.8l5.6 10.2h-11.3zM616.7 612.6l5.6 10.2h-11.3zM635.0 615.4l5.6 10.2h-11.3zM653.3 618.0l5.6 10.2h-11.3zM671.6 620.3l5.6 10.2h-11.3zM689.9 622.5l5.6 10.2h-11.3zM708.2 624.6l5.6 10.2h-11.3zM726.5 626.5l5.6 10.2h-11.3zM744.8 628.3l5.6 10.2h-11.3zM763.1 630.0l5.6 10.2h-11.3zM781.4 631.6l5.6 10.2h-11.3zM799.7 633.0l5.6 10.2h-11.3zM818.0 634.3l5.6 10.2h-11.3zM836.3 635.6l5.6 10.2h-11.3zM854.6 636.7l5.6 10.2h-11.3zM872.9 637.8l5.6 10.2h-11.3zM891.2 638.7l5.6 10.2h-11.3zM909.5 639.5l5.6 10.2h-11.3zM927.8 640.2l5.6 10.2h-11.3zM946.1 640.8l5.6 10.2h-11.3zM964.4 641.4l5.6 10.2h-11.3z" fill="#00CCFF"/>
<path d="M177.5 546.3L195.8 550.3L214.1 553.6L232.4 556.7L250.7 559.7L269.0 562.7L287.3 565.6L305.6 568.6L323.9 571.7L342.2 574.8L360.5 577.8L378.8 580.8L397.1 583.6L415.4 586.3L433.7 588.8L452.0 591.3L470.3 593.8L488.6 596.5L506.9 599.2L525.2 602.2L543.5 605.3L561.8 608.3L580.1 611.3L598.4 614.2L616.7 617.1L635.0 619.8L653.3 622.4L671.6 624.8L689.9 626.9L708.2 629.0L726.5 630.9L744.8 632.8L763.1 634.5L781.4 636.0L799.7 637.4L818.0 638.8L836.3 640.0L854.6 641.2L872.9 642.2L891.2 643.2L909.5 644.0L927.8 644.7L946.1 645.3L964.4 645.8" fill="none" stroke="#FF6600" stroke-width="4.0" stroke-linejoin="round"/><path d="M172.8 546.3a4.7 4.7 0 1 0 9.4 0a4.7 4.7 0 1 0 -9.4 0zM191.1 550.3a4.7 4.7 0 1 0 9.4 0a4.7 4.7 0 1 0 -9.4 0zM209.4 553.6a4.7 4.7 0 1 0 9.4 0a4.7 4.7 0 1 0 -9.4 0zM227.7 556.7a4.7 4.7 0 1 0 9.4 0a4.7 4.7 0 1 0 -9.4 0zM246.0 559.7a4.7 4.7 0 1 0 9.4 0a4.7 4.7 0 1 0 -9.4 0zM264.3 562.7a4.7 4.7 0 1 0 9.4 0a4.7 4.7 0 1 0 -9.4 0zM282.6 565.6a4.7 4.7 0 1 0 9.4 0a4.7 4.7 0 1 0 -9.4 0zM300.9 568.6a4.7 4.7 0 1 0 9.4 0a4.7 4.7 0 1 0 -9.4 0zM319.2 571.7a4.7 4.7 0 1 0 9.4 0a4.7 4.7 0 1 0 -9.4 0zM337.5 574.8a4.7 4.7 0 1 0 9.4 0a4.7 4.7 0 1 0 -9.4 0zM355.8 577.8a4.7 4.7 0 1 0 9.4 0a4.7 4.7 0 1 0 -9.4 0zM374.1 580.8a4.7 4.7 0 1 0 9.4 0a4.7 4.7 0 1 0 -9.4 0zM392.4 583.6a4.7 4.7 0 1 0 9.4 0a4.7 4.7 0 1 0 -9.4 0zM410.7 586.3a4.7 4.7 0 1 0 9.4 0a4.7 4.7 0 1 0 -9.4 0zM429.0 588.8a4.7 4.7 0 1 0 9.4 0a4.7 4.7 0 1 0 -9.4 0zM447.3 591.3a4.7 4.7 0 1 0 9.4 0a4.7 4.7 0 1 0 -9.4 0zM465.6 593.8a4.7 4.7 0 1 0 9.4 0a4.7 4.7 0 1 0 -9.4 0zM483.9 596.5a4.7 4.7 0 1 0 9.4 0a4.7 4.7 0 1 0 -9.4 0zM502.2 599.2a4.7 4.7 0 1 0 9.4 0a4.7 4.7 0 1 0 -9.4 0zM520.5 602.2a4.7 4.7 0 1 0 9.4 0a4.7 4.7 0 1 0 -9.4 0zM538.8 605.3a4.7 4.7 0 1 0 9.4 0a4.7 4.7 0 1 0 -9.4 0zM557.1 608.3a4.7 4.7 0 1 0 9.4 0a4.7 4.7 0 1 0 -9.4 0zM575.4 611.3a4.7 4.7 0 1 0 9.4 0a4.7 4.7 0 1 0 -9.4 0zM593.7 614.2a4.7 4.7 0 1 0 9.4 0a4.7 4.7 0 1 0 -9.4 0zM612.0 617.1a4.7 4.7 0 1 0 9.4 0a4.7 4.7 0 1 0 -9.4 0zM630.3 619.8a4.7 4.7 0 1 0 9.4 0a4.7 4.7 0 1 0 -9.4 0zM648.6 622.4a4.7 4.7 0 1 0 9.4 0a4.7 4.7 0 1 0 -9.4 0zM666.9 624.8a4.7 4.7 0 1 0 9.4 0a4.7 4.7 0 1 0 -9.4 0zM685.2 626.9a4.7 4.7 0 1 0 9.4 0a4.7 4.7 0 1 0 -9.4 0zM703.5 629.0a4.7 4.7 0 1 0 9.4 0a4.7 4.7 0 1 0 -9.4 0zM721.8 630.9a4.7 4.7 0 1 0 9.4 0a4.7 4.7 0 1 0 -9.4 0zM740.1 632.8a4.7 4.7 0 1 0 9.4 0a4.7 4.7 0 1 0 -9.4 0zM758.4 634.5a4.7 4.7 0 1 0 9.4 0a4.7 4.7 0 1 0 -9.4 0zM776.7 636.0a4.7 4.7 0 1 0 9.4 0a4.7 4.7 0 1 0 -9.4 0zM795.0 637.4a4.7 4.7 0 1 0 9.4 0a4.7 4.7 0 1 0 -9.4 0zM813.3 638.8a4.7 4.7 0 1 0 9.4 0a4.7 4.7 0 1 0 -9.4 0zM831.6 640.0a4.7 4.7 0 1 0 9.4 0a4.7 4.7 0 1 0 -9.4 0zM849.9 641.2a4.7 4.7 0 1 0 9.4 0a4.7 4.7 0 1 0 -9.4 0zM868.2 642.2a4.7 4.7 0 1 0 9.4 0a4.7 4.7 0 1 0 -9.4 0zM886.5 643.2a4.7 4.7 0 1 0 9.4 0a4.7 4.7 0 1 0 -9.4 0zM904.8 644.0a4.7 4.7 0 1 0 9.4 0a4.7 4.7 0 1 0 -9.4 0zM923.1 644.7a4.7 4.7 0 1 0 9.4 0a4.7 4.7 0 1 0 -9.4 0zM941.4 645.3a4.7 4.7 0 1 0 9.4 0a4.7 4.7 0 1 0 -9.4 0zM959.7 645.8a4.7 4.7 0 1 0 9.4 0a4.7 4.7 0 1 0 -9.4 0z" fill="#FF6600"/>
<path d="M177.5 541.9L195.8 546.8L214.1 550.5L232.4 554.0L250.7 557.3L269.0 560.5L287.3 563.6L305.6 566.8L323.9 570.0L342.2 573.2L360.5 576.3L378.8 579.3L397.1 582.2L415.4 584.9L433.7 587.5L452.0 590.0L470.3 592.6L488.6 595.2L506.9 597.9L525.2 600.9L543.5 604.1L561.8 607.1L580.1 610.1L598.4 613.0L616.7 615.8L635.0 618.6L653.3 621.2L671.6 623.5L689.9 625.7L708.2 627.8L726.5 629.7L744.8 631.6L763.1 633.3L781.4 634.8L799.7 636.2L818.0 637.5L836.3 638.8L854.6 640.0L872.9 641.0L891.2 641.9L909.5 642.8L927.8 643.5L946.1 644.1L964.4 644.6" fill="none" stroke="#339966" stroke-width="4.0" stroke-linejoin="round"/><path d="M177.5 536.1l5.9 5.9l-5.9 5.9l-5.9 -5.9zM195.8 540.9l5.9 5.9l-5.9 5.9l-5.9 -5.9zM214.1 544.7l5.9 5.9l-5.9 5.9l-5.9 -5.9zM232.4 548.2l5.9 5.9l-5.9 5.9l-5.9 -5.9zM250.7 551.5l5.9 5.9l-5.9 5.9l-5.9 -5.9zM269.0 554.6l5.9 5.9l-5.9 5.9l-5.9 -5.9zM287.3 557.7l5.9 5.9l-5.9 5.9l-5.9 -5.9zM305.6 560.9l5.9 5.9l-5.9 5.9l-5.9 -5.9zM323.9 564.1l5.9 5.9l-5.9 5.9l-5.9 -5.9zM342.2 567.3l5.9 5.9l-5.9 5.9l-5.9 -5.9zM360.5 570.4l5.9 5.9l-5.9 5.9l-5.9 -5.9zM378.8 573.5l5.9 5.9l-5.9 5.9l-5.9 -5.9zM397.1 576.3l5.9 5.9l-5.9 5.9l-5.9 -5.9zM415.4 579.0l5.9 5.9l-5.9 5.9l-5.9 -5.9zM433.7 581.6l5.9 5.9l-5.9 5.9l-5.9 -5.9zM452.0 584.1l5.9 5.9l-5.9 5.9l-5.9 -5.9zM470.3 586.7l5.9 5.9l-5.9 5.9l-5.9 -5.9zM488.6 589.3l5.9 5.9l-5.9 5.9l-5.9 -5.9zM506.9 592.1l5.9 5.9l-5.9 5.9l-5.9 -5.9zM525.2 595.1l5.9 5.9l-5.9 5.9l-5.9 -5.9zM543.5 598.2l5.9 5.9l-5.9 5.9l-5.9 -5.9zM561.8 601.2l5.9 5.9l-5.9 5.9l-5.9 -5.9zM580.1 604.2l5.9 5.9l-5.9 5.9l-5.9 -5.9zM598.4 607.1l5.9 5.9l-5.9 5.9l-5.9 -5.9zM616.7 610.0l5.9 5.9l-5.9 5.9l-5.9 -5.9zM635.0 612.7l5.9 5.9l-5.9 5.9l-5.9 -5.9zM653.3 615.3l5.9 5.9l-5.9 5.9l-5.9 -5.9zM671.6 617.7l5.9 5.9l-5.9 5.9l-5.9 -5.9zM689.9 619.8l5.9 5.9l-5.9 5.9l-5.9 -5.9zM708.2 621.9l5.9 5.9l-5.9 5.9l-5.9 -5.9zM726.5 623.9l5.9 5.9l-5.9 5.9l-5.9 -5.9zM744.8 625.7l5.9 5.9l-5.9 5.9l-5.9 -5.9zM763.1 627.4l5.9 5.9l-5.9 5.9l-5.9 -5.9zM781.4 628.9l5.9 5.9l-5.9 5.9l-5.9 -5.9zM799.7 630.3l5.9 5.9l-5.9 5.9l-5.9 -5.9zM818.0 631.7l5.9 5.9l-5.9 5.9l-5.9 -5.9zM836.3 632.9l5.9 5.9l-5.9 5.9l-5.9 -5.9zM854.6 634.1l5.9 5.9l-5.9 5.9l-5.9 -5.9zM872.9 635.1l5.9 5.9l-5.9 5.9l-5.9 -5.9zM891.2 636.1l5.9 5.9l-5.9 5.9l-5.9 -5.9zM909.5 636.9l5.9 5.9l-5.9 5.9l-5.9 -5.9zM927.8 637.6l5.9 5.9l-5.9 5.9l-5.9 -5.9zM946.1 638.2l5.9 5.9l-5.9 5.9l-5.9 -5.9zM964.4 638.8l5.9 5.9l-5.9 5.9l-5.9 -5.9z" fill="#339966"/>
<path d="M177.5 538.1L195.8 544.7L214.1 548.6L232.4 552.2L250.7 555.6L269.0 558.9L287.3 562.1L305.6 565.3L323.9 568.6L342.2 571.8L360.5 575.0L378.8 578.0L397.1 580.9L415.4 583.6L433.7 586.2L452.0 588.8L470.3 591.3L488.6 594.0L506.9 596.7L525.2 599.7L543.5 602.9L561.8 605.9L580.1 608.8L598.4 611.8L616.7 614.6L635.0 617.4L653.3 620.0L671.6 622.3L689.9 624.5L708.2 626.6L726.5 628.5L744.8 630.4L763.1 632.1L781.4 633.6L799.7 635.0L818.0 636.3L836.3 637.6L854.6 638.8L872.9 639.8L891.2 640.7L909.5 641.6L927.8 642.3L946.1 642.9L964.4 643.4" fill="none" stroke="#FF00FF" stroke-width="4.0" stroke-linejoin="round"/><path d="M172.8 538.1a4.7 4.7 0 1 0 9.4 0a4.7 4.7 0 1 0 -9.4 0zM191.1 544.7a4.7 4.7 0 1 0 9.4 0a4.7 4.7 0 1 0 -9.4 0zM209.4 548.6a4.7 4.7 0 1 0 9.4 0a4.7 4.7 0 1 0 -9.4 0zM227.7 552.2a4.7 4.7 0 1 0 9.4 0a4.7 4.7 0 1 0 -9.4 0zM246.0 555.6a4.7 4.7 0 1 0 9.4 0a4.7 4.7 0 1 0 -9.4 0zM264.3 558.9a4.7 4.7 0 1 0 9.4 0a4.7 4.7 0 1 0 -9.4 0zM282.6 562.1a4.7 4.7 0 1 0 9.4 0a4.7 4.7 0 1 0 -9.4 0zM300.9 565.3a4.7 4.7 0 1 0 9.4 0a4.7 4.7 0 1 0 -9.4 0zM319.2 568.6a4.7 4.7 0 1 0 9.4 0a4.7 4.7 0 1 0 -9.4 0zM337.5 571.8a4.7 4.7 0 1 0 9.4 0a4.7 4.7 0 1 0 -9.4 0zM355.8 575.0a4.7 4.7 0 1 0 9.4 0a4.7 4.7 0 1 0 -9.4 0zM374.1 578.0a4.7 4.7 0 1 0 9.4 0a4.7 4.7 0 1 0 -9.4 0zM392.4 580.9a4.7 4.7 0 1 0 9.4 0a4.7 4.7 0 1 0 -9.4 0zM410.7 583.6a4.7 4.7 0 1 0 9.4 0a4.7 4.7 0 1 0 -9.4 0zM429.0 586.2a4.7 4.7 0 1 0 9.4 0a4.7 4.7 0 1 0 -9.4 0zM447.3 588.8a4.7 4.7 0 1 0 9.4 0a4.7 4.7 0 1 0 -9.4 0zM465.6 591.3a4.7 4.7 0 1 0 9.4 0a4.7 4.7 0 1 0 -9.4 0zM483.9 594.0a4.7 4.7 0 1 0 9.4 0a4.7 4.7 0 1 0 -9.4 0zM502.2 596.7a4.7 4.7 0 1 0 9.4 0a4.7 4.7 0 1 0 -9.4 0zM520.5 599.7a4.7 4.7 0 1 0 9.4 0a4.7 4.7 0 1 0 -9.4 0zM538.8 602.9a4.7 4.7 0 1 0 9.4 0a4.7 4.7 0 1 0 -9.4 0zM557.1 605.9a4.7 4.7 0 1 0 9.4 0a4.7 4.7 0 1 0 -9.4 0zM575.4 608.8a4.7 4.7 0 1 0 9.4 0a4.7 4.7 0 1 0 -9.4 0zM593.7 611.8a4.7 4.7 0 1 0 9.4 0a4.7 4.7 0 1 0 -9.4 0zM612.0 614.6a4.7 4.7 0 1 0 9.4 0a4.7 4.7 0 1 0 -9.4 0zM630.3 617.4a4.7 4.7 0 1 0 9.4 0a4.7 4.7 0 1 0 -9.4 0zM648.6 620.0a4.7 4.7 0 1 0 9.4 0a4.7 4.7 0 1 0 -9.4 0zM666.9 622.3a4.7 4.7 0 1 0 9.4 0a4.7 4.7 0 1 0 -9.4 0zM685.2 624.5a4.7 4.7 0 1 0 9.4 0a4.7 4.7 0 1 0 -9.4 0zM703.5 626.6a4.7 4.7 0 1 0 9.4 0a4.7 4.7 0 1 0 -9.4 0zM721.8 628.5a4.7 4.7 0 1 0 9.4 0a4.7 4.7 0 1 0 -9.4 0zM740.1 630.4a4.7 4.7 0 1 0 9.4 0a4.7 4.7 0 1 0 -9.4 0zM758.4 632.1a4.7 4.7 0 1 0 9.4 0a4.7 4.7 0 1 0 -9.4 0zM776.7 633.6a4.7 4.7 0 1 0 9.4 0a4.7 4.7 0 1 0 -9.4 0zM795.0 635.0a4.7 4.7 0 1 0 9.4 0a4.7 4.7 0 1 0 -9.4 0zM813.3 636.3a4.7 4.7 0 1 0 9.4 0a4.7 4.7 0 1 0 -9.4 0zM831.6 637.6a4.7 4.7 0 1 0 9.4 0a4.7 4.7 0 1 0 -9.4 0zM849.9 638.8a4.7 4.7 0 1 0 9.4 0a4.7 4.7 0 1 0 -9.4 0zM868.2 639.8a4.7 4.7 0 1 0 9.4 0a4.7 4.7 0 1 0 -9.4 0zM886.5 640.7a4.7 4.7 0 1 0 9.4 0a4.7 4.7 0 1 0 -9.4 0zM904.8 641.6a4.7 4.7 0 1 0 9.4 0a4.7 4.7 0 1 0 -9.4 0zM923.1 642.3a4.7 4.7 0 1 0 9.4 0a4.7 4.7 0 1 0 -9.4 0zM941.4 642.9a4.7 4.7 0 1 0 9.4 0a4.7 4.7 0 1 0 -9.4 0zM959.7 643.4a4.7 4.7 0 1 0 9.4 0a4.7 4.7 0 1 0 -9.4 0z" fill="#FF00FF"/>
<path d="M177.5 541.4L195.8 543.2L214.1 547.2L232.4 550.9L250.7 554.3L269.0 557.6L287.3 560.8L305.6 564.0L323.9 567.3L342.2 570.5L360.5 573.7L378.8 576.8L397.1 579.7L415.4 582.4L433.7 585.0L452.0 587.6L470.3 590.1L488.6 592.8L506.9 595.5L525.2 598.5L543.5 601.7L561.8 604.7L580.1 607.6L598.4 610.6L616.7 613.4L635.0 616.2L653.3 618.8L671.6 621.1L689.9 623.3L708.2 625.4L726.5 627.3L744.8 629.2L763.1 630.9L781.4 632.4L799.7 633.8L818.0 635.1L836.3 636.4L854.6 637.6L872.9 638.6L891.2 639.5L909.5 640.4L927.8 641.1L946.1 641.7L964.4 642.2" fill="none" stroke="#000080" stroke-width="4.0" stroke-linejoin="round"/><path d="M172.8 536.7h9.4v9.4h-9.4zM191.1 538.5h9.4v9.4h-9.4zM209.4 542.5h9.4v9.4h-9.4zM227.7 546.2h9.4v9.4h-9.4zM246.0 549.6h9.4v9.4h-9.4zM264.3 552.9h9.4v9.4h-9.4zM282.6 556.1h9.4v9.4h-9.4zM300.9 559.3h9.4v9.4h-9.4zM319.2 562.6h9.4v9.4h-9.4zM337.5 565.8h9.4v9.4h-9.4zM355.8 569.0h9.4v9.4h-9.4zM374.1 572.1h9.4v9.4h-9.4zM392.4 575.0h9.4v9.4h-9.4zM410.7 577.7h9.4v9.4h-9.4zM429.0 580.3h9.4v9.4h-9.4zM447.3 582.9h9.4v9.4h-9.4zM465.6 585.4h9.4v9.4h-9.4zM483.9 588.1h9.4v9.4h-9.4zM502.2 590.8h9.4v9.4h-9.4zM520.5 593.8h9.4v9.4h-9.4zM538.8 597.0h9.4v9.4h-9.4zM557.1 600.0h9.4v9.4h-9.4zM575.4 602.9h9.4v9.4h-9.4zM593.7 605.9h9.4v9.4h-9.4zM612.0 608.7h9.4v9.4h-9.4zM630.3 611.5h9.4v9.4h-9.4zM648.6 614.1h9.4v9.4h-9.4zM666.9 616.4h9.4v9.4h-9.4zM685.2 618.6h9.4v9.4h-9.4zM703.5 620.7h9.4v9.4h-9.4zM721.8 622.6h9.4v9.4h-9.4zM740.1 624.5h9.4v9.4h-9.4zM758.4 626.2h9.4v9.4h-9.4zM776.7 627.7h9.4v9.4h-9.4zM795.0 629.1h9.4v9.4h-9.4zM813.3 630.4h9.4v9.4h-9.4zM831.6 631.7h9.4v9.4h-9.4zM849.9 632.9h9.4v9.4h-9.4zM868.2 633.9h9.4v9.4h-9.4zM886.5 634.8h9.4v9.4h-9.4zM904.8 635.7h9.4v9.4h-9.4zM923.1 636.4h9.4v9.4h-9.4zM941.4 637.0h9.4v9.4h-9.4zM959.7 637.5h9.4v9.4h-9.4z" fill="#000080"/>
<path d="M177.5 537.0L195.8 540.6L214.1 544.8L232.4 548.7L250.7 552.3L269.0 555.8L287.3 559.1L305.6 562.4L323.9 565.8L342.2 569.1L360.5 572.3L378.8 575.4L397.1 578.3L415.4 581.1L433.7 583.7L452.0 586.3L470.3 588.9L488.6 591.5L506.9 594.3L525.2 597.3L543.5 600.5L561.8 603.5L580.1 606.4L598.4 609.3L616.7 612.2L635.0 615.0L653.3 617.6L671.6 619.9L689.9 622.1L708.2 624.2L726.5 626.1L744.8 628.0L763.1 629.7L781.4 631.2L799.7 632.6L818.0 633.9L836.3 635.2L854.6 636.4L872.9 637.4L891.2 638.3L909.5 639.2L927.8 639.9L946.1 640.5L964.4 641.0" fill="none" stroke="#333333" stroke-width="4.0" stroke-linejoin="round"/><path d="M172.8 532.3l9.4 9.4M172.8 541.7l9.4 -9.4M191.1 535.9l9.4 9.4M191.1 545.3l9.4 -9.4M209.4 540.1l9.4 9.4M209.4 549.5l9.4 -9.4M227.7 544.0l9.4 9.4M227.7 553.4l9.4 -9.4M246.0 547.6l9.4 9.4M246.0 557.0l9.4 -9.4M264.3 551.1l9.4 9.4M264.3 560.5l9.4 -9.4M282.6 554.4l9.4 9.4M282.6 563.8l9.4 -9.4M300.9 557.7l9.4 9.4M300.9 567.1l9.4 -9.4M319.2 561.1l9.4 9.4M319.2 570.5l9.4 -9.4M337.5 564.4l9.4 9.4M337.5 573.8l9.4 -9.4M355.8 567.6l9.4 9.4M355.8 577.0l9.4 -9.4M374.1 570.7l9.4 9.4M374.1 580.1l9.4 -9.4M392.4 573.6l9.4 9.4M392.4 583.0l9.4 -9.4M410.7 576.4l9.4 9.4M410.7 585.8l9.4 -9.4M429.0 579.0l9.4 9.4M429.0 588.4l9.4 -9.4M447.3 581.6l9.4 9.4M447.3 591.0l9.4 -9.4M465.6 584.2l9.4 9.4M465.6 593.6l9.4 -9.4M483.9 586.8l9.4 9.4M483.9 596.2l9.4 -9.4M502.2 589.6l9.4 9.4M502.2 599.0l9.4 -9.4M520.5 592.6l9.4 9.4M520.5 602.0l9.4 -9.4M538.8 595.8l9.4 9.4M538.8 605.2l9.4 -9.4M557.1 598.8l9.4 9.4M557.1 608.2l9.4 -9.4M575.4 601.7l9.4 9.4M575.4 611.1l9.4 -9.4M593.7 604.6l9.4 9.4M593.7 614.0l9.4 -9.4M612.0 607.5l9.4 9.4M612.0 616.9l9.4 -9.4M630.3 610.3l9.4 9.4M630.3 619.7l9.4 -9.4M648.6 612.9l9.4 9.4M648.6 622.3l9.4 -9.4M666.9 615.2l9.4 9.4M666.9 624.6l9.4 -9.4M685.2 617.4l9.4 9.4M685.2 626.8l9.4 -9.4M703.5 619.5l9.4 9.4M703.5 628.9l9.4 -9.4M721.8 621.4l9.4 9.4M721.8 630.8l9.4 -9.4M740.1 623.3l9.4 9.4M740.1 632.7l9.4 -9.4M758.4 625.0l9.4 9.4M758.4 634.4l9.4 -9.4M776.7 626.5l9.4 9.4M776.7 635.9l9.4 -9.4M795.0 627.9l9.4 9.4M795.0 637.3l9.4 -9.4M813.3 629.2l9.4 9.4M813.3 638.6l9.4 -9.4M831.6 630.5l9.4 9.4M831.6 639.9l9.4 -9.4M849.9 631.7l9.4 9.4M849.9 641.1l9.4 -9.4M868.2 632.7l9.4 9.4M868.2 642.1l9.4 -9.4M886.5 633.6l9.4 9.4M886.5 643.0l9.4 -9.4M904.8 634.5l9.4 9.4M904.8 643.9l9.4 -9.4M923.1 635.2l9.4 9.4M923.1 644.6l9.4 -9.4M941.4 635.8l9.4 9.4M941.4 645.2l9.4 -9.4M959.7 636.3l9.4 9.4M959.7 645.7l9.4 -9.4" fill="none" stroke="#333333" stroke-width="1.3"/>
<path d="M177.5 530.5L195.8 536.3L214.1 541.1L232.4 545.5L250.7 549.5L269.0 553.2L287.3 556.8L305.6 560.3L323.9 563.9L342.2 567.3L360.5 570.6L378.8 573.8L397.1 576.9L415.4 579.7L433.7 582.3L452.0 584.9L470.3 587.5L488.6 590.2L506.9 593.0L525.2 596.0L543.5 599.2L561.8 602.2L580.1 605.2L598.4 608.1L616.7 611.0L635.0 613.7L653.3 616.3L671.6 618.7L689.9 620.9L708.2 622.9L726.5 624.9L744.8 626.7L763.1 628.4L781.4 630.0L799.7 631.4L818.0 632.7L836.3 634.0L854.6 635.1L872.9 636.2L891.2 637.1L909.5 638.0L927.8 638.7L946.1 639.3L964.4 639.8" fill="none" stroke="#3366FF" stroke-width="4.0" stroke-linejoin="round"/><path d="M177.5 524.8l5.6 10.2h-11.3zM195.8 530.6l5.6 10.2h-11.3zM214.1 535.5l5.6 10.2h-11.3zM232.4 539.9l5.6 10.2h-11.3zM250.7 543.9l5.6 10.2h-11.3zM269.0 547.6l5.6 10.2h-11.3zM287.3 551.2l5.6 10.2h-11.3zM305.6 554.7l5.6 10.2h-11.3zM323.9 558.2l5.6 10.2h-11.3zM342.2 561.7l5.6 10.2h-11.3zM360.5 565.0l5.6 10.2h-11.3zM378.8 568.2l5.6 10.2h-11.3zM397.1 571.2l5.6 10.2h-11.3zM415.4 574.0l5.6 10.2h-11.3zM433.7 576.7l5.6 10.2h-11.3zM452.0 579.3l5.6 10.2h-11.3zM470.3 581.9l5.6 10.2h-11.3zM488.6 584.6l5.6 10.2h-11.3zM506.9 587.4l5.6 10.2h-11.3zM525.2 590.4l5.6 10.2h-11.3zM543.5 593.6l5.6 10.2h-11.3zM561.8 596.6l5.6 10.2h-11.3zM580.1 599.6l5.6 10.2h-11.3zM598.4 602.5l5.6 10.2h-11.3zM616.7 605.3l5.6 10.2h-11.3zM635.0 608.1l5.6 10.2h-11.3zM653.3 610.7l5.6 10.2h-11.3zM671.6 613.1l5.6 10.2h-11.3zM689.9 615.2l5.6 10.2h-11.3zM708.2 617.3l5.6 10.2h-11.3zM726.5 619.3l5.6 10.2h-11.3zM744.8 621.1l5.6 10.2h-11.3zM763.1 622.8l5.6 10.2h-11.3zM781.4 624.4l5.6 10.2h-11.3zM799.7 625.8l5.6 10.2h-11.3zM818.0 627.1l5.6 10.2h-11.3zM836.3 628.3l5.6 10.2h-11.3zM854.6 629.5l5.6 10.2h-11.3zM872.9 630.6l5.6 10.2h-11.3zM891.2 631.5l5.6 10.2h-11.3zM909.5 632.3l5.6 10.2h-11.3zM927.8 633.0l5.6 10.2h-11.3zM946.1 633.6l5.6 10.2h-11.3zM964.4 634.2l5.6 10.2h-11.3z" fill="#3366FF"/>
<path d="M177.5 525.5L195.8 531.1L214.1 536.7L232.4 541.7L250.7 546.2L269.0 550.3L287.3 554.2L305.6 558.0L323.9 561.7L342.2 565.4L360.5 568.8L378.8 572.2L397.1 575.3L415.4 578.2L433.7 580.9L452.0 583.6L470.3 586.2L488.6 588.9L506.9 591.7L525.2 594.7L543.5 597.9L561.8 601.0L580.1 603.9L598.4 606.9L616.7 609.8L635.0 612.5L653.3 615.1L671.6 617.5L689.9 619.7L708.2 621.7L726.5 623.7L744.8 625.5L763.1 627.2L781.4 628.8L799.7 630.2L818.0 631.5L836.3 632.8L854.6 633.9L872.9 635.0L891.2 635.9L909.5 636.8L927.8 637.5L946.1 638.1L964.4 638.6" fill="none" stroke="#FF0000" stroke-width="4.0" stroke-linejoin="round"/><path d="M172.8 525.5a4.7 4.7 0 1 0 9.4 0a4.7 4.7 0 1 0 -9.4 0zM191.1 531.1a4.7 4.7 0 1 0 9.4 0a4.7 4.7 0 1 0 -9.4 0zM209.4 536.7a4.7 4.7 0 1 0 9.4 0a4.7 4.7 0 1 0 -9.4 0zM227.7 541.7a4.7 4.7 0 1 0 9.4 0a4.7 4.7 0 1 0 -9.4 0zM246.0 546.2a4.7 4.7 0 1 0 9.4 0a4.7 4.7 0 1 0 -9.4 0zM264.3 550.3a4.7 4.7 0 1 0 9.4 0a4.7 4.7 0 1 0 -9.4 0zM282.6 554.2a4.7 4.7 0 1 0 9.4 0a4.7 4.7 0 1 0 -9.4 0zM300.9 558.0a4.7 4.7 0 1 0 9.4 0a4.7 4.7 0 1 0 -9.4 0zM319.2 561.7a4.7 4.7 0 1 0 9.4 0a4.7 4.7 0 1 0 -9.4 0zM337.5 565.4a4.7 4.7 0 1 0 9.4 0a4.7 4.7 0 1 0 -9.4 0zM355.8 568.8a4.7 4.7 0 1 0 9.4 0a4.7 4.7 0 1 0 -9.4 0zM374.1 572.2a4.7 4.7 0 1 0 9.4 0a4.7 4.7 0 1 0 -9.4 0zM392.4 575.3a4.7 4.7 0 1 0 9.4 0a4.7 4.7 0 1 0 -9.4 0zM410.7 578.2a4.7 4.7 0 1 0 9.4 0a4.7 4.7 0 1 0 -9.4 0zM429.0 580.9a4.7 4.7 0 1 0 9.4 0a4.7 4.7 0 1 0 -9.4 0zM447.3 583.6a4.7 4.7 0 1 0 9.4 0a4.7 4.7 0 1 0 -9.4 0zM465.6 586.2a4.7 4.7 0 1 0 9.4 0a4.7 4.7 0 1 0 -9.4 0zM483.9 588.9a4.7 4.7 0 1 0 9.4 0a4.7 4.7 0 1 0 -9.4 0zM502.2 591.7a4.7 4.7 0 1 0 9.4 0a4.7 4.7 0 1 0 -9.4 0zM520.5 594.7a4.7 4.7 0 1 0 9.4 0a4.7 4.7 0 1 0 -9.4 0zM538.8 597.9a4.7 4.7 0 1 0 9.4 0a4.7 4.7 0 1 0 -9.4 0zM557.1 601.0a4.7 4.7 0 1 0 9.4 0a4.7 4.7 0 1 0 -9.4 0zM575.4 603.9a4.7 4.7 0 1 0 9.4 0a4.7 4.7 0 1 0 -9.4 0zM593.7 606.9a4.7 4.7 0 1 0 9.4 0a4.7 4.7 0 1 0 -9.4 0zM612.0 609.8a4.7 4.7 0 1 0 9.4 0a4.7 4.7 0 1 0 -9.4 0zM630.3 612.5a4.7 4.7 0 1 0 9.4 0a4.7 4.7 0 1 0 -9.4 0zM648.6 615.1a4.7 4.7 0 1 0 9.4 0a4.7 4.7 0 1 0 -9.4 0zM666.9 617.5a4.7 4.7 0 1 0 9.4 0a4.7 4.7 0 1 0 -9.4 0zM685.2 619.7a4.7 4.7 0 1 0 9.4 0a4.7 4.7 0 1 0 -9.4 0zM703.5 621.7a4.7 4.7 0 1 0 9.4 0a4.7 4.7 0 1 0 -9.4 0zM721.8 623.7a4.7 4.7 0 1 0 9.4 0a4.7 4.7 0 1 0 -9.4 0zM740.1 625.5a4.7 4.7 0 1 0 9.4 0a4.7 4.7 0 1 0 -9.4 0zM758.4 627.2a4.7 4.7 0 1 0 9.4 0a4.7 4.7 0 1 0 -9.4 0zM776.7 628.8a4.7 4.7 0 1 0 9.4 0a4.7 4.7 0 1 0 -9.4 0zM795.0 630.2a4.7 4.7 0 1 0 9.4 0a4.7 4.7 0 1 0 -9.4 0zM813.3 631.5a4.7 4.7 0 1 0 9.4 0a4.7 4.7 0 1 0 -9.4 0zM831.6 632.8a4.7 4.7 0 1 0 9.4 0a4.7 4.7 0 1 0 -9.4 0zM849.9 633.9a4.7 4.7 0 1 0 9.4 0a4.7 4.7 0 1 0 -9.4 0zM868.2 635.0a4.7 4.7 0 1 0 9.4 0a4.7 4.7 0 1 0 -9.4 0zM886.5 635.9a4.7 4.7 0 1 0 9.4 0a4.7 4.7 0 1 0 -9.4 0zM904.8 636.8a4.7 4.7 0 1 0 9.4 0a4.7 4.7 0 1 0 -9.4 0zM923.1 637.5a4.7 4.7 0 1 0 9.4 0a4.7 4.7 0 1 0 -9.4 0zM941.4 638.1a4.7 4.7 0 1 0 9.4 0a4.7 4.7 0 1 0 -9.4 0zM959.7 638.6a4.7 4.7 0 1 0 9.4 0a4.7 4.7 0 1 0 -9.4 0z" fill="#FF0000"/>
<path d="M177.5 518.4L195.8 525.1L214.1 531.7L232.4 537.4L250.7 542.5L269.0 547.1L287.3 551.3L305.6 555.5L323.9 559.4L342.2 563.3L360.5 566.9L378.8 570.4L397.1 573.6L415.4 576.6L433.7 579.4L452.0 582.1L470.3 584.8L488.6 587.5L506.9 590.4L525.2 593.4L543.5 596.6L561.8 599.7L580.1 602.7L598.4 605.6L616.7 608.5L635.0 611.3L653.3 613.9L671.6 616.2L689.9 618.4L708.2 620.5L726.5 622.5L744.8 624.3L763.1 626.0L781.4 627.6L799.7 629.0L818.0 630.3L836.3 631.6L854.6 632.7L872.9 633.8L891.2 634.7L909.5 635.5L927.8 636.3L946.1 636.9L964.4 637.4" fill="none" stroke="#99CC00" stroke-width="4.0" stroke-linejoin="round"/><path d="M177.5 512.5l5.9 5.9l-5.9 5.9l-5.9 -5.9zM195.8 519.3l5.9 5.9l-5.9 5.9l-5.9 -5.9zM214.1 525.8l5.9 5.9l-5.9 5.9l-5.9 -5.9zM232.4 531.5l5.9 5.9l-5.9 5.9l-5.9 -5.9zM250.7 536.6l5.9 5.9l-5.9 5.9l-5.9 -5.9zM269.0 541.2l5.9 5.9l-5.9 5.9l-5.9 -5.9zM287.3 545.5l5.9 5.9l-5.9 5.9l-5.9 -5.9zM305.6 549.6l5.9 5.9l-5.9 5.9l-5.9 -5.9zM323.9 553.6l5.9 5.9l-5.9 5.9l-5.9 -5.9zM342.2 557.4l5.9 5.9l-5.9 5.9l-5.9 -5.9zM360.5 561.0l5.9 5.9l-5.9 5.9l-5.9 -5.9zM378.8 564.5l5.9 5.9l-5.9 5.9l-5.9 -5.9zM397.1 567.8l5.9 5.9l-5.9 5.9l-5.9 -5.9zM415.4 570.8l5.9 5.9l-5.9 5.9l-5.9 -5.9zM433.7 573.6l5.9 5.9l-5.9 5.9l-5.9 -5.9zM452.0 576.2l5.9 5.9l-5.9 5.9l-5.9 -5.9zM470.3 578.9l5.9 5.9l-5.9 5.9l-5.9 -5.9zM488.6 581.7l5.9 5.9l-5.9 5.9l-5.9 -5.9zM506.9 584.5l5.9 5.9l-5.9 5.9l-5.9 -5.9zM525.2 587.6l5.9 5.9l-5.9 5.9l-5.9 -5.9zM543.5 590.8l5.9 5.9l-5.9 5.9l-5.9 -5.9zM561.8 593.8l5.9 5.9l-5.9 5.9l-5.9 -5.9zM580.1 596.8l5.9 5.9l-5.9 5.9l-5.9 -5.9zM598.4 599.8l5.9 5.9l-5.9 5.9l-5.9 -5.9zM616.7 602.6l5.9 5.9l-5.9 5.9l-5.9 -5.9zM635.0 605.4l5.9 5.9l-5.9 5.9l-5.9 -5.9zM653.3 608.0l5.9 5.9l-5.9 5.9l-5.9 -5.9zM671.6 610.4l5.9 5.9l-5.9 5.9l-5.9 -5.9zM689.9 612.6l5.9 5.9l-5.9 5.9l-5.9 -5.9zM708.2 614.6l5.9 5.9l-5.9 5.9l-5.9 -5.9zM726.5 616.6l5.9 5.9l-5.9 5.9l-5.9 -5.9zM744.8 618.4l5.9 5.9l-5.9 5.9l-5.9 -5.9zM763.1 620.1l5.9 5.9l-5.9 5.9l-5.9 -5.9zM781.4 621.7l5.9 5.9l-5.9 5.9l-5.9 -5.9zM799.7 623.1l5.9 5.9l-5.9 5.9l-5.9 -5.9zM818.0 624.4l5.9 5.9l-5.9 5.9l-5.9 -5.9zM836.3 625.7l5.9 5.9l-5.9 5.9l-5.9 -5.9zM854.6 626.9l5.9 5.9l-5.9 5.9l-5.9 -5.9zM872.9 627.9l5.9 5.9l-5.9 5.9l-5.9 -5.9zM891.2 628.9l5.9 5.9l-5.9 5.9l-5.9 -5.9zM909.5 629.7l5.9 5.9l-5.9 5.9l-5.9 -5.9zM927.8 630.4l5.9 5.9l-5.9 5.9l-5.9 -5.9zM946.1 631.0l5.9 5.9l-5.9 5.9l-5.9 -5.9zM964.4 631.6l5.9 5.9l-5.9 5.9l-5.9 -5.9z" fill="#99CC00"/>
<path d="M177.5 509.7L195.8 517.9L214.1 525.6L232.4 532.2L250.7 538.1L269.0 543.3L287.3 548.0L305.6 552.5L323.9 556.8L342.2 560.9L360.5 564.8L378.8 568.5L397.1 571.9L415.4 575.0L433.7 577.9L452.0 580.6L470.3 583.4L488.6 586.1L506.9 589.0L525.2 592.1L543.5 595.3L561.8 598.4L580.1 601.4L598.4 604.4L616.7 607.3L635.0 610.0L653.3 612.6L671.6 615.0L689.9 617.2L708.2 619.3L726.5 621.2L744.8 623.1L763.1 624.8L781.4 626.3L799.7 627.8L818.0 629.1L836.3 630.4L854.6 631.5L872.9 632.6L891.2 633.5L909.5 634.3L927.8 635.0L946.1 635.7L964.4 636.2" fill="none" stroke="#800080" stroke-width="4.0" stroke-linejoin="round"/><path d="M172.8 505.0h9.4v9.4h-9.4zM191.1 513.2h9.4v9.4h-9.4zM209.4 520.9h9.4v9.4h-9.4zM227.7 527.5h9.4v9.4h-9.4zM246.0 533.4h9.4v9.4h-9.4zM264.3 538.6h9.4v9.4h-9.4zM282.6 543.3h9.4v9.4h-9.4zM300.9 547.8h9.4v9.4h-9.4zM319.2 552.1h9.4v9.4h-9.4zM337.5 556.2h9.4v9.4h-9.4zM355.8 560.1h9.4v9.4h-9.4zM374.1 563.8h9.4v9.4h-9.4zM392.4 567.2h9.4v9.4h-9.4zM410.7 570.3h9.4v9.4h-9.4zM429.0 573.2h9.4v9.4h-9.4zM447.3 575.9h9.4v9.4h-9.4zM465.6 578.7h9.4v9.4h-9.4zM483.9 581.4h9.4v9.4h-9.4zM502.2 584.3h9.4v9.4h-9.4zM520.5 587.4h9.4v9.4h-9.4zM538.8 590.6h9.4v9.4h-9.4zM557.1 593.7h9.4v9.4h-9.4zM575.4 596.7h9.4v9.4h-9.4zM593.7 599.7h9.4v9.4h-9.4zM612.0 602.6h9.4v9.4h-9.4zM630.3 605.3h9.4v9.4h-9.4zM648.6 607.9h9.4v9.4h-9.4zM666.9 610.3h9.4v9.4h-9.4zM685.2 612.5h9.4v9.4h-9.4zM703.5 614.6h9.4v9.4h-9.4zM721.8 616.5h9.4v9.4h-9.4zM740.1 618.4h9.4v9.4h-9.4zM758.4 620.1h9.4v9.4h-9.4zM776.7 621.6h9.4v9.4h-9.4zM795.0 623.1h9.4v9.4h-9.4zM813.3 624.4h9.4v9.4h-9.4zM831.6 625.7h9.4v9.4h-9.4zM849.9 626.8h9.4v9.4h-9.4zM868.2 627.9h9.4v9.4h-9.4zM886.5 628.8h9.4v9.4h-9.4zM904.8 629.6h9.4v9.4h-9.4zM923.1 630.3h9.4v9.4h-9.4zM941.4 631.0h9.4v9.4h-9.4zM959.7 631.5h9.4v9.4h-9.4z" fill="#800080"/>
<path d="M177.5 499.3L195.8 509.3L214.1 518.4L232.4 526.2L250.7 533.0L269.0 538.9L287.3 544.2L305.6 549.2L323.9 553.9L342.2 558.3L360.5 562.5L378.8 566.4L397.1 570.0L415.4 573.2L433.7 576.2L452.0 579.1L470.3 581.9L488.6 584.7L506.9 587.6L525.2 590.8L543.5 594.0L561.8 597.1L580.1 600.1L598.4 603.1L616.7 606.0L635.0 608.8L653.3 611.4L671.6 613.8L689.9 615.9L708.2 618.0L726.5 620.0L744.8 621.8L763.1 623.6L781.4 625.1L799.7 626.5L818.0 627.9L836.3 629.1L854.6 630.3L872.9 631.4L891.2 632.3L909.5 633.1L927.8 633.8L946.1 634.5L964.4 635.0" fill="none" stroke="#0000FF" stroke-width="4.0" stroke-linejoin="round"/><path d="M177.5 493.6l5.6 10.2h-11.3zM195.8 503.7l5.6 10.2h-11.3zM214.1 512.8l5.6 10.2h-11.3zM232.4 520.6l5.6 10.2h-11.3zM250.7 527.3l5.6 10.2h-11.3zM269.0 533.3l5.6 10.2h-11.3zM287.3 538.6l5.6 10.2h-11.3zM305.6 543.6l5.6 10.2h-11.3zM323.9 548.3l5.6 10.2h-11.3zM342.2 552.7l5.6 10.2h-11.3zM360.5 556.9l5.6 10.2h-11.3zM378.8 560.7l5.6 10.2h-11.3zM397.1 564.3l5.6 10.2h-11.3zM415.4 567.6l5.6 10.2h-11.3zM433.7 570.6l5.6 10.2h-11.3zM452.0 573.4l5.6 10.2h-11.3zM470.3 576.2l5.6 10.2h-11.3zM488.6 579.1l5.6 10.2h-11.3zM506.9 582.0l5.6 10.2h-11.3zM525.2 585.1l5.6 10.2h-11.3zM543.5 588.4l5.6 10.2h-11.3zM561.8 591.5l5.6 10.2h-11.3zM580.1 594.5l5.6 10.2h-11.3zM598.4 597.5l5.6 10.2h-11.3zM616.7 600.3l5.6 10.2h-11.3zM635.0 603.1l5.6 10.2h-11.3zM653.3 605.7l5.6 10.2h-11.3zM671.6 608.1l5.6 10.2h-11.3zM689.9 610.3l5.6 10.2h-11.3zM708.2 612.4l5.6 10.2h-11.3zM726.5 614.4l5.6 10.2h-11.3zM744.8 616.2l5.6 10.2h-11.3zM763.1 617.9l5.6 10.2h-11.3zM781.4 619.5l5.6 10.2h-11.3zM799.7 620.9l5.6 10.2h-11.3zM818.0 622.2l5.6 10.2h-11.3zM836.3 623.5l5.6 10.2h-11.3zM854.6 624.7l5.6 10.2h-11.3zM872.9 625.7l5.6 10.2h-11.3zM891.2 626.7l5.6 10.2h-11.3zM909.5 627.5l5.6 10.2h-11.3zM927.8 628.2l5.6 10.2h-11.3zM946.1 628.8l5.6 10.2h-11.3zM964.4 629.4l5.6 10.2h-11.3z" fill="#0000FF"/>
<path d="M177.5 487.2L195.8 499.4L214.1 510.2L232.4 519.4L250.7 527.2L269.0 534.0L287.3 540.0L305.6 545.5L323.9 550.7L342.2 555.5L360.5 560.0L378.8 564.1L397.1 568.0L415.4 571.4L433.7 574.5L452.0 577.5L470.3 580.3L488.6 583.2L506.9 586.2L525.2 589.4L543.5 592.7L561.8 595.8L580.1 598.8L598.4 601.8L616.7 604.7L635.0 607.5L653.3 610.1L671.6 612.5L689.9 614.7L708.2 616.8L726.5 618.8L744.8 620.6L763.1 622.3L781.4 623.9L799.7 625.3L818.0 626.7L836.3 627.9L854.6 629.1L872.9 630.1L891.2 631.1L909.5 631.9L927.8 632.6L946.1 633.2L964.4 633.8" fill="none" stroke="#FF6600" stroke-width="4.0" stroke-linejoin="round"/><path d="M172.8 487.2a4.7 4.7 0 1 0 9.4 0a4.7 4.7 0 1 0 -9.4 0zM191.1 499.4a4.7 4.7 0 1 0 9.4 0a4.7 4.7 0 1 0 -9.4 0zM209.4 510.2a4.7 4.7 0 1 0 9.4 0a4.7 4.7 0 1 0 -9.4 0zM227.7 519.4a4.7 4.7 0 1 0 9.4 0a4.7 4.7 0 1 0 -9.4 0zM246.0 527.2a4.7 4.7 0 1 0 9.4 0a4.7 4.7 0 1 0 -9.4 0zM264.3 534.0a4.7 4.7 0 1 0 9.4 0a4.7 4.7 0 1 0 -9.4 0zM282.6 540.0a4.7 4.7 0 1 0 9.4 0a4.7 4.7 0 1 0 -9.4 0zM300.9 545.5a4.7 4.7 0 1 0 9.4 0a4.7 4.7 0 1 0 -9.4 0zM319.2 550.7a4.7 4.7 0 1 0 9.4 0a4.7 4.7 0 1 0 -9.4 0zM337.5 555.5a4.7 4.7 0 1 0 9.4 0a4.7 4.7 0 1 0 -9.4 0zM355.8 560.0a4.7 4.7 0 1 0 9.4 0a4.7 4.7 0 1 0 -9.4 0zM374.1 564.1a4.7 4.7 0 1 0 9.4 0a4.7 4.7 0 1 0 -9.4 0zM392.4 568.0a4.7 4.7 0 1 0 9.4 0a4.7 4.7 0 1 0 -9.4 0zM410.7 571.4a4.7 4.7 0 1 0 9.4 0a4.7 4.7 0 1 0 -9.4 0zM429.0 574.5a4.7 4.7 0 1 0 9.4 0a4.7 4.7 0 1 0 -9.4 0zM447.3 577.5a4.7 4.7 0 1 0 9.4 0a4.7 4.7 0 1 0 -9.4 0zM465.6 580.3a4.7 4.7 0 1 0 9.4 0a4.7 4.7 0 1 0 -9.4 0zM483.9 583.2a4.7 4.7 0 1 0 9.4 0a4.7 4.7 0 1 0 -9.4 0zM502.2 586.2a4.7 4.7 0 1 0 9.4 0a4.7 4.7 0 1 0 -9.4 0zM520.5 589.4a4.7 4.7 0 1 0 9.4 0a4.7 4.7 0 1 0 -9.4 0zM538.8 592.7a4.7 4.7 0 1 0 9.4 0a4.7 4.7 0 1 0 -9.4 0zM557.1 595.8a4.7 4.7 0 1 0 9.4 0a4.7 4.7 0 1 0 -9.4 0zM575.4 598.8a4.7 4.7 0 1 0 9.4 0a4.7 4.7 0 1 0 -9.4 0zM593.7 601.8a4.7 4.7 0 1 0 9.4 0a4.7 4.7 0 1 0 -9.4 0zM612.0 604.7a4.7 4.7 0 1 0 9.4 0a4.7 4.7 0 1 0 -9.4 0zM630.3 607.5a4.7 4.7 0 1 0 9.4 0a4.7 4.7 0 1 0 -9.4 0zM648.6 610.1a4.7 4.7 0 1 0 9.4 0a4.7 4.7 0 1 0 -9.4 0zM666.9 612.5a4.7 4.7 0 1 0 9.4 0a4.7 4.7 0 1 0 -9.4 0zM685.2 614.7a4.7 4.7 0 1 0 9.4 0a4.7 4.7 0 1 0 -9.4 0zM703.5 616.8a4.7 4.7 0 1 0 9.4 0a4.7 4.7 0 1 0 -9.4 0zM721.8 618.8a4.7 4.7 0 1 0 9.4 0a4.7 4.7 0 1 0 -9.4 0zM740.1 620.6a4.7 4.7 0 1 0 9.4 0a4.7 4.7 0 1 0 -9.4 0zM758.4 622.3a4.7 4.7 0 1 0 9.4 0a4.7 4.7 0 1 0 -9.4 0zM776.7 623.9a4.7 4.7 0 1 0 9.4 0a4.7 4.7 0 1 0 -9.4 0zM795.0 625.3a4.7 4.7 0 1 0 9.4 0a4.7 4.7 0 1 0 -9.4 0zM813.3 626.7a4.7 4.7 0 1 0 9.4 0a4.7 4.7 0 1 0 -9.4 0zM831.6 627.9a4.7 4.7 0 1 0 9.4 0a4.7 4.7 0 1 0 -9.4 0zM849.9 629.1a4.7 4.7 0 1 0 9.4 0a4.7 4.7 0 1 0 -9.4 0zM868.2 630.1a4.7 4.7 0 1 0 9.4 0a4.7 4.7 0 1 0 -9.4 0zM886.5 631.1a4.7 4.7 0 1 0 9.4 0a4.7 4.7 0 1 0 -9.4 0zM904.8 631.9a4.7 4.7 0 1 0 9.4 0a4.7 4.7 0 1 0 -9.4 0zM923.1 632.6a4.7 4.7 0 1 0 9.4 0a4.7 4.7 0 1 0 -9.4 0zM941.4 633.2a4.7 4.7 0 1 0 9.4 0a4.7 4.7 0 1 0 -9.4 0zM959.7 633.8a4.7 4.7 0 1 0 9.4 0a4.7 4.7 0 1 0 -9.4 0z" fill="#FF6600"/>
<path d="M177.5 474.1L195.8 488.0L214.1 500.8L232.4 511.5L250.7 520.6L269.0 528.4L287.3 535.2L305.6 541.4L323.9 547.1L342.2 552.4L360.5 557.2L378.8 561.7L397.1 565.8L415.4 569.5L433.7 572.7L452.0 575.8L470.3 578.7L488.6 581.7L506.9 584.7L525.2 588.0L543.5 591.3L561.8 594.5L580.1 597.5L598.4 600.5L616.7 603.4L635.0 606.2L653.3 608.8L671.6 611.2L689.9 613.4L708.2 615.5L726.5 617.5L744.8 619.4L763.1 621.1L781.4 622.7L799.7 624.1L818.0 625.4L836.3 626.7L854.6 627.9L872.9 628.9L891.2 629.9L909.5 630.7L927.8 631.4L946.1 632.0L964.4 632.6" fill="none" stroke="#666699" stroke-width="4.0" stroke-linejoin="round"/><path d="M172.8 469.4l9.4 9.4M172.8 478.8l9.4 -9.4M191.1 483.3l9.4 9.4M191.1 492.7l9.4 -9.4M209.4 496.1l9.4 9.4M209.4 505.5l9.4 -9.4M227.7 506.8l9.4 9.4M227.7 516.2l9.4 -9.4M246.0 515.9l9.4 9.4M246.0 525.3l9.4 -9.4M264.3 523.7l9.4 9.4M264.3 533.1l9.4 -9.4M282.6 530.5l9.4 9.4M282.6 539.9l9.4 -9.4M300.9 536.7l9.4 9.4M300.9 546.1l9.4 -9.4M319.2 542.4l9.4 9.4M319.2 551.8l9.4 -9.4M337.5 547.7l9.4 9.4M337.5 557.1l9.4 -9.4M355.8 552.5l9.4 9.4M355.8 561.9l9.4 -9.4M374.1 557.0l9.4 9.4M374.1 566.4l9.4 -9.4M392.4 561.1l9.4 9.4M392.4 570.5l9.4 -9.4M410.7 564.8l9.4 9.4M410.7 574.2l9.4 -9.4M429.0 568.0l9.4 9.4M429.0 577.4l9.4 -9.4M447.3 571.1l9.4 9.4M447.3 580.5l9.4 -9.4M465.6 574.0l9.4 9.4M465.6 583.4l9.4 -9.4M483.9 577.0l9.4 9.4M483.9 586.4l9.4 -9.4M502.2 580.0l9.4 9.4M502.2 589.4l9.4 -9.4M520.5 583.3l9.4 9.4M520.5 592.7l9.4 -9.4M538.8 586.6l9.4 9.4M538.8 596.0l9.4 -9.4M557.1 589.8l9.4 9.4M557.1 599.2l9.4 -9.4M575.4 592.8l9.4 9.4M575.4 602.2l9.4 -9.4M593.7 595.8l9.4 9.4M593.7 605.2l9.4 -9.4M612.0 598.7l9.4 9.4M612.0 608.1l9.4 -9.4M630.3 601.5l9.4 9.4M630.3 610.9l9.4 -9.4M648.6 604.1l9.4 9.4M648.6 613.5l9.4 -9.4M666.9 606.5l9.4 9.4M666.9 615.9l9.4 -9.4M685.2 608.7l9.4 9.4M685.2 618.1l9.4 -9.4M703.5 610.8l9.4 9.4M703.5 620.2l9.4 -9.4M721.8 612.8l9.4 9.4M721.8 622.2l9.4 -9.4M740.1 614.7l9.4 9.4M740.1 624.1l9.4 -9.4M758.4 616.4l9.4 9.4M758.4 625.8l9.4 -9.4M776.7 618.0l9.4 9.4M776.7 627.4l9.4 -9.4M795.0 619.4l9.4 9.4M795.0 628.8l9.4 -9.4M813.3 620.7l9.4 9.4M813.3 630.1l9.4 -9.4M831.6 622.0l9.4 9.4M831.6 631.4l9.4 -9.4M849.9 623.2l9.4 9.4M849.9 632.6l9.4 -9.4M868.2 624.2l9.4 9.4M868.2 633.6l9.4 -9.4M886.5 625.2l9.4 9.4M886.5 634.6l9.4 -9.4M904.8 626.0l9.4 9.4M904.8 635.4l9.4 -9.4M923.1 626.7l9.4 9.4M923.1 636.1l9.4 -9.4M941.4 627.3l9.4 9.4M941.4 636.7l9.4 -9.4M959.7 627.9l9.4 9.4M959.7 637.3l9.4 -9.4" fill="none" stroke="#666699" stroke-width="1.3"/>
<path d="M177.5 457.7L195.8 474.4L214.1 489.6L232.4 502.2L250.7 512.8L269.0 521.8L287.3 529.6L305.6 536.7L323.9 543.1L342.2 548.9L360.5 554.2L378.8 559.0L397.1 563.4L415.4 567.3L433.7 570.8L452.0 574.0L470.3 577.0L488.6 580.1L506.9 583.2L525.2 586.5L543.5 589.9L561.8 593.1L580.1 596.2L598.4 599.2L616.7 602.1L635.0 604.9L653.3 607.5L671.6 609.9L689.9 612.2L708.2 614.3L726.5 616.3L744.8 618.1L763.1 619.8L781.4 621.4L799.7 622.8L818.0 624.2L836.3 625.5L854.6 626.6L872.9 627.7L891.2 628.7L909.5 629.5L927.8 630.2L946.1 630.8L964.4 631.4" fill="none" stroke="#FF00FF" stroke-width="4.0" stroke-linejoin="round"/><path d="M172.8 457.7a4.7 4.7 0 1 0 9.4 0a4.7 4.7 0 1 0 -9.4 0zM191.1 474.4a4.7 4.7 0 1 0 9.4 0a4.7 4.7 0 1 0 -9.4 0zM209.4 489.6a4.7 4.7 0 1 0 9.4 0a4.7 4.7 0 1 0 -9.4 0zM227.7 502.2a4.7 4.7 0 1 0 9.4 0a4.7 4.7 0 1 0 -9.4 0zM246.0 512.8a4.7 4.7 0 1 0 9.4 0a4.7 4.7 0 1 0 -9.4 0zM264.3 521.8a4.7 4.7 0 1 0 9.4 0a4.7 4.7 0 1 0 -9.4 0zM282.6 529.6a4.7 4.7 0 1 0 9.4 0a4.7 4.7 0 1 0 -9.4 0zM300.9 536.7a4.7 4.7 0 1 0 9.4 0a4.7 4.7 0 1 0 -9.4 0zM319.2 543.1a4.7 4.7 0 1 0 9.4 0a4.7 4.7 0 1 0 -9.4 0zM337.5 548.9a4.7 4.7 0 1 0 9.4 0a4.7 4.7 0 1 0 -9.4 0zM355.8 554.2a4.7 4.7 0 1 0 9.4 0a4.7 4.7 0 1 0 -9.4 0zM374.1 559.0a4.7 4.7 0 1 0 9.4 0a4.7 4.7 0 1 0 -9.4 0zM392.4 563.4a4.7 4.7 0 1 0 9.4 0a4.7 4.7 0 1 0 -9.4 0zM410.7 567.3a4.7 4.7 0 1 0 9.4 0a4.7 4.7 0 1 0 -9.4 0zM429.0 570.8a4.7 4.7 0 1 0 9.4 0a4.7 4.7 0 1 0 -9.4 0zM447.3 574.0a4.7 4.7 0 1 0 9.4 0a4.7 4.7 0 1 0 -9.4 0zM465.6 577.0a4.7 4.7 0 1 0 9.4 0a4.7 4.7 0 1 0 -9.4 0zM483.9 580.1a4.7 4.7 0 1 0 9.4 0a4.7 4.7 0 1 0 -9.4 0zM502.2 583.2a4.7 4.7 0 1 0 9.4 0a4.7 4.7 0 1 0 -9.4 0zM520.5 586.5a4.7 4.7 0 1 0 9.4 0a4.7 4.7 0 1 0 -9.4 0zM538.8 589.9a4.7 4.7 0 1 0 9.4 0a4.7 4.7 0 1 0 -9.4 0zM557.1 593.1a4.7 4.7 0 1 0 9.4 0a4.7 4.7 0 1 0 -9.4 0zM575.4 596.2a4.7 4.7 0 1 0 9.4 0a4.7 4.7 0 1 0 -9.4 0zM593.7 599.2a4.7 4.7 0 1 0 9.4 0a4.7 4.7 0 1 0 -9.4 0zM612.0 602.1a4.7 4.7 0 1 0 9.4 0a4.7 4.7 0 1 0 -9.4 0zM630.3 604.9a4.7 4.7 0 1 0 9.4 0a4.7 4.7 0 1 0 -9.4 0zM648.6 607.5a4.7 4.7 0 1 0 9.4 0a4.7 4.7 0 1 0 -9.4 0zM666.9 609.9a4.7 4.7 0 1 0 9.4 0a4.7 4.7 0 1 0 -9.4 0zM685.2 612.2a4.7 4.7 0 1 0 9.4 0a4.7 4.7 0 1 0 -9.4 0zM703.5 614.3a4.7 4.7 0 1 0 9.4 0a4.7 4.7 0 1 0 -9.4 0zM721.8 616.3a4.7 4.7 0 1 0 9.4 0a4.7 4.7 0 1 0 -9.4 0zM740.1 618.1a4.7 4.7 0 1 0 9.4 0a4.7 4.7 0 1 0 -9.4 0zM758.4 619.8a4.7 4.7 0 1 0 9.4 0a4.7 4.7 0 1 0 -9.4 0zM776.7 621.4a4.7 4.7 0 1 0 9.4 0a4.7 4.7 0 1 0 -9.4 0zM795.0 622.8a4.7 4.7 0 1 0 9.4 0a4.7 4.7 0 1 0 -9.4 0zM813.3 624.2a4.7 4.7 0 1 0 9.4 0a4.7 4.7 0 1 0 -9.4 0zM831.6 625.5a4.7 4.7 0 1 0 9.4 0a4.7 4.7 0 1 0 -9.4 0zM849.9 626.6a4.7 4.7 0 1 0 9.4 0a4.7 4.7 0 1 0 -9.4 0zM868.2 627.7a4.7 4.7 0 1 0 9.4 0a4.7 4.7 0 1 0 -9.4 0zM886.5 628.7a4.7 4.7 0 1 0 9.4 0a4.7 4.7 0 1 0 -9.4 0zM904.8 629.5a4.7 4.7 0 1 0 9.4 0a4.7 4.7 0 1 0 -9.4 0zM923.1 630.2a4.7 4.7 0 1 0 9.4 0a4.7 4.7 0 1 0 -9.4 0zM941.4 630.8a4.7 4.7 0 1 0 9.4 0a4.7 4.7 0 1 0 -9.4 0zM959.7 631.4a4.7 4.7 0 1 0 9.4 0a4.7 4.7 0 1 0 -9.4 0z" fill="#FF00FF"/>
<path d="M177.5 438.5L195.8 457.8L214.1 475.9L232.4 490.9L250.7 503.4L269.0 514.0L287.3 523.0L305.6 531.1L323.9 538.3L342.2 544.8L360.5 550.6L378.8 556.0L397.1 560.8L415.4 565.0L433.7 568.7L452.0 572.0L470.3 575.2L488.6 578.4L506.9 581.6L525.2 585.0L543.5 588.4L561.8 591.7L580.1 594.8L598.4 597.8L616.7 600.7L635.0 603.6L653.3 606.2L671.6 608.6L689.9 610.9L708.2 613.0L726.5 615.0L744.8 616.8L763.1 618.6L781.4 620.2L799.7 621.6L818.0 622.9L836.3 624.2L854.6 625.4L872.9 626.5L891.2 627.4L909.5 628.3L927.8 629.0L946.1 629.6L964.4 630.2" fill="none" stroke="#003366" stroke-width="4.0" stroke-linejoin="round"/><path d="M172.8 433.8l9.4 9.4M172.8 443.2l9.4 -9.4M177.5 432.9v11.3M191.1 453.1l9.4 9.4M191.1 462.5l9.4 -9.4M195.8 452.1v11.3M209.4 471.2l9.4 9.4M209.4 480.6l9.4 -9.4M214.1 470.3v11.3M227.7 486.2l9.4 9.4M227.7 495.6l9.4 -9.4M232.4 485.3v11.3M246.0 498.7l9.4 9.4M246.0 508.1l9.4 -9.4M250.7 497.8v11.3M264.3 509.3l9.4 9.4M264.3 518.7l9.4 -9.4M269.0 508.3v11.3M282.6 518.3l9.4 9.4M282.6 527.7l9.4 -9.4M287.3 517.4v11.3M300.9 526.4l9.4 9.4M300.9 535.8l9.4 -9.4M305.6 525.4v11.3M319.2 533.6l9.4 9.4M319.2 543.0l9.4 -9.4M323.9 532.7v11.3M337.5 540.1l9.4 9.4M337.5 549.5l9.4 -9.4M342.2 539.1v11.3M355.8 545.9l9.4 9.4M355.8 555.3l9.4 -9.4M360.5 545.0v11.3M374.1 551.3l9.4 9.4M374.1 560.7l9.4 -9.4M378.8 550.3v11.3M392.4 556.1l9.4 9.4M392.4 565.5l9.4 -9.4M397.1 555.1v11.3M410.7 560.3l9.4 9.4M410.7 569.7l9.4 -9.4M415.4 559.4v11.3M429.0 564.0l9.4 9.4M429.0 573.4l9.4 -9.4M433.7 563.1v11.3M447.3 567.3l9.4 9.4M447.3 576.7l9.4 -9.4M452.0 566.4v11.3M465.6 570.5l9.4 9.4M465.6 579.9l9.4 -9.4M470.3 569.6v11.3M483.9 573.7l9.4 9.4M483.9 583.1l9.4 -9.4M488.6 572.8v11.3M502.2 576.9l9.4 9.4M502.2 586.3l9.4 -9.4M506.9 576.0v11.3M520.5 580.3l9.4 9.4M520.5 589.7l9.4 -9.4M525.2 579.3v11.3M538.8 583.7l9.4 9.4M538.8 593.1l9.4 -9.4M543.5 582.8v11.3M557.1 587.0l9.4 9.4M557.1 596.4l9.4 -9.4M561.8 586.0v11.3M575.4 590.1l9.4 9.4M575.4 599.5l9.4 -9.4M580.1 589.2v11.3M593.7 593.1l9.4 9.4M593.7 602.5l9.4 -9.4M598.4 592.2v11.3M612.0 596.0l9.4 9.4M612.0 605.4l9.4 -9.4M616.7 595.1v11.3M630.3 598.9l9.4 9.4M630.3 608.3l9.4 -9.4M635.0 597.9v11.3M648.6 601.5l9.4 9.4M648.6 610.9l9.4 -9.4M653.3 600.6v11.3M666.9 603.9l9.4 9.4M666.9 613.3l9.4 -9.4M671.6 603.0v11.3M685.2 606.2l9.4 9.4M685.2 615.6l9.4 -9.4M689.9 605.2v11.3M703.5 608.3l9.4 9.4M703.5 617.7l9.4 -9.4M708.2 607.3v11.3M721.8 610.3l9.4 9.4M721.8 619.7l9.4 -9.4M726.5 609.3v11.3M740.1 612.1l9.4 9.4M740.1 621.5l9.4 -9.4M744.8 611.2v11.3M758.4 613.9l9.4 9.4M758.4 623.3l9.4 -9.4M763.1 612.9v11.3M776.7 615.5l9.4 9.4M776.7 624.9l9.4 -9.4M781.4 614.5v11.3M795.0 616.9l9.4 9.4M795.0 626.3l9.4 -9.4M799.7 615.9v11.3M813.3 618.2l9.4 9.4M813.3 627.6l9.4 -9.4M818.0 617.3v11.3M831.6 619.5l9.4 9.4M831.6 628.9l9.4 -9.4M836.3 618.6v11.3M849.9 620.7l9.4 9.4M849.9 630.1l9.4 -9.4M854.6 619.8v11.3M868.2 621.8l9.4 9.4M868.2 631.2l9.4 -9.4M872.9 620.8v11.3M886.5 622.7l9.4 9.4M886.5 632.1l9.4 -9.4M891.2 621.8v11.3M904.8 623.6l9.4 9.4M904.8 633.0l9.4 -9.4M909.5 622.6v11.3M923.1 624.3l9.4 9.4M923.1 633.7l9.4 -9.4M927.8 623.3v11.3M941.4 624.9l9.4 9.4M941.4 634.3l9.4 -9.4M946.1 624.0v11.3M959.7 625.5l9.4 9.4M959.7 634.9l9.4 -9.4M964.4 624.5v11.3" fill="none" stroke="#003366" stroke-width="1.3"/>
<path d="M177.5 412.8L195.8 437.9L214.1 459.6L232.4 477.5L250.7 492.3L269.0 504.7L287.3 515.2L305.6 524.5L323.9 532.8L342.2 540.0L360.5 546.6L378.8 552.5L397.1 557.8L415.4 562.4L433.7 566.4L452.0 569.9L470.3 573.3L488.6 576.6L506.9 579.9L525.2 583.4L543.5 586.9L561.8 590.2L580.1 593.4L598.4 596.4L616.7 599.4L635.0 602.2L653.3 604.9L671.6 607.3L689.9 609.5L708.2 611.7L726.5 613.7L744.8 615.6L763.1 617.3L781.4 618.9L799.7 620.3L818.0 621.7L836.3 623.0L854.6 624.2L872.9 625.2L891.2 626.2L909.5 627.0L927.8 627.7L946.1 628.4L964.4 628.9" fill="none" stroke="#339966" stroke-width="4.0" stroke-linejoin="round"/><path d="M177.5 406.9l5.9 5.9l-5.9 5.9l-5.9 -5.9zM195.8 432.0l5.9 5.9l-5.9 5.9l-5.9 -5.9zM214.1 453.7l5.9 5.9l-5.9 5.9l-5.9 -5.9zM232.4 471.6l5.9 5.9l-5.9 5.9l-5.9 -5.9zM250.7 486.5l5.9 5.9l-5.9 5.9l-5.9 -5.9zM269.0 498.8l5.9 5.9l-5.9 5.9l-5.9 -5.9zM287.3 509.4l5.9 5.9l-5.9 5.9l-5.9 -5.9zM305.6 518.7l5.9 5.9l-5.9 5.9l-5.9 -5.9zM323.9 526.9l5.9 5.9l-5.9 5.9l-5.9 -5.9zM342.2 534.2l5.9 5.9l-5.9 5.9l-5.9 -5.9zM360.5 540.7l5.9 5.9l-5.9 5.9l-5.9 -5.9zM378.8 546.7l5.9 5.9l-5.9 5.9l-5.9 -5.9zM397.1 552.0l5.9 5.9l-5.9 5.9l-5.9 -5.9zM415.4 556.5l5.9 5.9l-5.9 5.9l-5.9 -5.9zM433.7 560.5l5.9 5.9l-5.9 5.9l-5.9 -5.9zM452.0 564.1l5.9 5.9l-5.9 5.9l-5.9 -5.9zM470.3 567.4l5.9 5.9l-5.9 5.9l-5.9 -5.9zM488.6 570.7l5.9 5.9l-5.9 5.9l-5.9 -5.9zM506.9 574.0l5.9 5.9l-5.9 5.9l-5.9 -5.9zM525.2 577.5l5.9 5.9l-5.9 5.9l-5.9 -5.9zM543.5 581.0l5.9 5.9l-5.9 5.9l-5.9 -5.9zM561.8 584.3l5.9 5.9l-5.9 5.9l-5.9 -5.9zM580.1 587.5l5.9 5.9l-5.9 5.9l-5.9 -5.9zM598.4 590.5l5.9 5.9l-5.9 5.9l-5.9 -5.9zM616.7 593.5l5.9 5.9l-5.9 5.9l-5.9 -5.9zM635.0 596.3l5.9 5.9l-5.9 5.9l-5.9 -5.9zM653.3 599.0l5.9 5.9l-5.9 5.9l-5.9 -5.9zM671.6 601.4l5.9 5.9l-5.9 5.9l-5.9 -5.9zM689.9 603.7l5.9 5.9l-5.9 5.9l-5.9 -5.9zM708.2 605.8l5.9 5.9l-5.9 5.9l-5.9 -5.9zM726.5 607.8l5.9 5.9l-5.9 5.9l-5.9 -5.9zM744.8 609.7l5.9 5.9l-5.9 5.9l-5.9 -5.9zM763.1 611.4l5.9 5.9l-5.9 5.9l-5.9 -5.9zM781.4 613.0l5.9 5.9l-5.9 5.9l-5.9 -5.9zM799.7 614.5l5.9 5.9l-5.9 5.9l-5.9 -5.9zM818.0 615.8l5.9 5.9l-5.9 5.9l-5.9 -5.9zM836.3 617.1l5.9 5.9l-5.9 5.9l-5.9 -5.9zM854.6 618.3l5.9 5.9l-5.9 5.9l-5.9 -5.9zM872.9 619.4l5.9 5.9l-5.9 5.9l-5.9 -5.9zM891.2 620.3l5.9 5.9l-5.9 5.9l-5.9 -5.9zM909.5 621.1l5.9 5.9l-5.9 5.9l-5.9 -5.9zM927.8 621.9l5.9 5.9l-5.9 5.9l-5.9 -5.9zM946.1 622.5l5.9 5.9l-5.9 5.9l-5.9 -5.9zM964.4 623.1l5.9 5.9l-5.9 5.9l-5.9 -5.9z" fill="#339966"/>
<path d="M177.5 383.3L195.8 415.6L214.1 441.2L232.4 462.3L250.7 479.8L269.0 494.2L287.3 506.5L305.6 517.2L323.9 526.6L342.2 534.8L360.5 542.2L378.8 548.8L397.1 554.6L415.4 559.6L433.7 563.9L452.0 567.7L470.3 571.3L488.6 574.7L506.9 578.1L525.2 581.7L543.5 585.3L561.8 588.7L580.1 591.9L598.4 595.0L616.7 598.0L635.0 600.8L653.3 603.5L671.6 606.0L689.9 608.2L708.2 610.4L726.5 612.4L744.8 614.3L763.1 616.0L781.4 617.6L799.7 619.1L818.0 620.4L836.3 621.7L854.6 622.9L872.9 624.0L891.2 624.9L909.5 625.8L927.8 626.5L946.1 627.1L964.4 627.7" fill="none" stroke="#003300" stroke-width="4.0" stroke-linejoin="round"/><path d="M172.8 378.6l9.4 9.4M172.8 388.0l9.4 -9.4M191.1 410.9l9.4 9.4M191.1 420.3l9.4 -9.4M209.4 436.5l9.4 9.4M209.4 445.9l9.4 -9.4M227.7 457.6l9.4 9.4M227.7 467.0l9.4 -9.4M246.0 475.1l9.4 9.4M246.0 484.5l9.4 -9.4M264.3 489.5l9.4 9.4M264.3 498.9l9.4 -9.4M282.6 501.8l9.4 9.4M282.6 511.2l9.4 -9.4M300.9 512.5l9.4 9.4M300.9 521.9l9.4 -9.4M319.2 521.9l9.4 9.4M319.2 531.3l9.4 -9.4M337.5 530.1l9.4 9.4M337.5 539.5l9.4 -9.4M355.8 537.5l9.4 9.4M355.8 546.9l9.4 -9.4M374.1 544.1l9.4 9.4M374.1 553.5l9.4 -9.4M392.4 549.9l9.4 9.4M392.4 559.3l9.4 -9.4M410.7 554.9l9.4 9.4M410.7 564.3l9.4 -9.4M429.0 559.2l9.4 9.4M429.0 568.6l9.4 -9.4M447.3 563.0l9.4 9.4M447.3 572.4l9.4 -9.4M465.6 566.6l9.4 9.4M465.6 576.0l9.4 -9.4M483.9 570.0l9.4 9.4M483.9 579.4l9.4 -9.4M502.2 573.4l9.4 9.4M502.2 582.8l9.4 -9.4M520.5 577.0l9.4 9.4M520.5 586.4l9.4 -9.4M538.8 580.6l9.4 9.4M538.8 590.0l9.4 -9.4M557.1 584.0l9.4 9.4M557.1 593.4l9.4 -9.4M575.4 587.2l9.4 9.4M575.4 596.6l9.4 -9.4M593.7 590.3l9.4 9.4M593.7 599.7l9.4 -9.4M612.0 593.3l9.4 9.4M612.0 602.7l9.4 -9.4M630.3 596.1l9.4 9.4M630.3 605.5l9.4 -9.4M648.6 598.8l9.4 9.4M648.6 608.2l9.4 -9.4M666.9 601.3l9.4 9.4M666.9 610.7l9.4 -9.4M685.2 603.5l9.4 9.4M685.2 612.9l9.4 -9.4M703.5 605.7l9.4 9.4M703.5 615.1l9.4 -9.4M721.8 607.7l9.4 9.4M721.8 617.1l9.4 -9.4M740.1 609.6l9.4 9.4M740.1 619.0l9.4 -9.4M758.4 611.3l9.4 9.4M758.4 620.7l9.4 -9.4M776.7 612.9l9.4 9.4M776.7 622.3l9.4 -9.4M795.0 614.4l9.4 9.4M795.0 623.8l9.4 -9.4M813.3 615.7l9.4 9.4M813.3 625.1l9.4 -9.4M831.6 617.0l9.4 9.4M831.6 626.4l9.4 -9.4M849.9 618.2l9.4 9.4M849.9 627.6l9.4 -9.4M868.2 619.3l9.4 9.4M868.2 628.7l9.4 -9.4M886.5 620.2l9.4 9.4M886.5 629.6l9.4 -9.4M904.8 621.1l9.4 9.4M904.8 630.5l9.4 -9.4M923.1 621.8l9.4 9.4M923.1 631.2l9.4 -9.4M941.4 622.4l9.4 9.4M941.4 631.8l9.4 -9.4M959.7 623.0l9.4 9.4M959.7 632.4l9.4 -9.4" fill="none" stroke="#003300" stroke-width="1.3"/>
<path d="M177.5 357.6L195.8 391.2L214.1 420.6L232.4 445.0L250.7 465.2L269.0 482.1L287.3 496.4L305.6 508.8L323.9 519.5L342.2 528.9L360.5 537.1L378.8 544.5L397.1 551.0L415.4 556.6L433.7 561.2L452.0 565.3L470.3 569.1L488.6 572.7L506.9 576.3L525.2 580.0L543.5 583.7L561.8 587.1L580.1 590.4L598.4 593.5L616.7 596.5L635.0 599.4L653.3 602.1L671.6 604.6L689.9 606.9L708.2 609.0L726.5 611.1L744.8 613.0L763.1 614.7L781.4 616.3L799.7 617.8L818.0 619.2L836.3 620.4L854.6 621.6L872.9 622.7L891.2 623.7L909.5 624.5L927.8 625.3L946.1 625.9L964.4 626.5" fill="none" stroke="#333300" stroke-width="4.0" stroke-linejoin="round"/><path d="M177.5 351.7l5.9 5.9l-5.9 5.9l-5.9 -5.9zM195.8 385.4l5.9 5.9l-5.9 5.9l-5.9 -5.9zM214.1 414.8l5.9 5.9l-5.9 5.9l-5.9 -5.9zM232.4 439.1l5.9 5.9l-5.9 5.9l-5.9 -5.9zM250.7 459.4l5.9 5.9l-5.9 5.9l-5.9 -5.9zM269.0 476.2l5.9 5.9l-5.9 5.9l-5.9 -5.9zM287.3 490.6l5.9 5.9l-5.9 5.9l-5.9 -5.9zM305.6 503.0l5.9 5.9l-5.9 5.9l-5.9 -5.9zM323.9 513.7l5.9 5.9l-5.9 5.9l-5.9 -5.9zM342.2 523.0l5.9 5.9l-5.9 5.9l-5.9 -5.9zM360.5 531.3l5.9 5.9l-5.9 5.9l-5.9 -5.9zM378.8 538.7l5.9 5.9l-5.9 5.9l-5.9 -5.9zM397.1 545.2l5.9 5.9l-5.9 5.9l-5.9 -5.9zM415.4 550.7l5.9 5.9l-5.9 5.9l-5.9 -5.9zM433.7 555.4l5.9 5.9l-5.9 5.9l-5.9 -5.9zM452.0 559.4l5.9 5.9l-5.9 5.9l-5.9 -5.9zM470.3 563.2l5.9 5.9l-5.9 5.9l-5.9 -5.9zM488.6 566.8l5.9 5.9l-5.9 5.9l-5.9 -5.9zM506.9 570.4l5.9 5.9l-5.9 5.9l-5.9 -5.9zM525.2 574.1l5.9 5.9l-5.9 5.9l-5.9 -5.9zM543.5 577.8l5.9 5.9l-5.9 5.9l-5.9 -5.9zM561.8 581.3l5.9 5.9l-5.9 5.9l-5.9 -5.9zM580.1 584.6l5.9 5.9l-5.9 5.9l-5.9 -5.9zM598.4 587.7l5.9 5.9l-5.9 5.9l-5.9 -5.9zM616.7 590.7l5.9 5.9l-5.9 5.9l-5.9 -5.9zM635.0 593.5l5.9 5.9l-5.9 5.9l-5.9 -5.9zM653.3 596.3l5.9 5.9l-5.9 5.9l-5.9 -5.9zM671.6 598.7l5.9 5.9l-5.9 5.9l-5.9 -5.9zM689.9 601.0l5.9 5.9l-5.9 5.9l-5.9 -5.9zM708.2 603.1l5.9 5.9l-5.9 5.9l-5.9 -5.9zM726.5 605.2l5.9 5.9l-5.9 5.9l-5.9 -5.9zM744.8 607.1l5.9 5.9l-5.9 5.9l-5.9 -5.9zM763.1 608.8l5.9 5.9l-5.9 5.9l-5.9 -5.9zM781.4 610.4l5.9 5.9l-5.9 5.9l-5.9 -5.9zM799.7 611.9l5.9 5.9l-5.9 5.9l-5.9 -5.9zM818.0 613.3l5.9 5.9l-5.9 5.9l-5.9 -5.9zM836.3 614.6l5.9 5.9l-5.9 5.9l-5.9 -5.9zM854.6 615.8l5.9 5.9l-5.9 5.9l-5.9 -5.9zM872.9 616.9l5.9 5.9l-5.9 5.9l-5.9 -5.9zM891.2 617.8l5.9 5.9l-5.9 5.9l-5.9 -5.9zM909.5 618.7l5.9 5.9l-5.9 5.9l-5.9 -5.9zM927.8 619.4l5.9 5.9l-5.9 5.9l-5.9 -5.9zM946.1 620.0l5.9 5.9l-5.9 5.9l-5.9 -5.9zM964.4 620.6l5.9 5.9l-5.9 5.9l-5.9 -5.9z" fill="#333300"/>
<path d="M177.5 325.8L195.8 364.3L214.1 396.9L232.4 424.5L250.7 447.7L269.0 467.5L287.3 484.4L305.6 498.9L323.9 511.2L342.2 521.9L360.5 531.3L378.8 539.6L397.1 547.0L415.4 553.1L433.7 558.2L452.0 562.6L470.3 566.7L488.6 570.5L506.9 574.3L525.2 578.1L543.5 581.9L561.8 585.5L580.1 588.9L598.4 592.0L616.7 595.1L635.0 598.0L653.3 600.7L671.6 603.2L689.9 605.5L708.2 607.6L726.5 609.7L744.8 611.6L763.1 613.4L781.4 615.0L799.7 616.5L818.0 617.9L836.3 619.2L854.6 620.4L872.9 621.5L891.2 622.4L909.5 623.3L927.8 624.0L946.1 624.7L964.4 625.3" fill="none" stroke="#993300" stroke-width="4.0" stroke-linejoin="round"/><path d="M172.8 321.1h9.4v9.4h-9.4zM191.1 359.6h9.4v9.4h-9.4zM209.4 392.2h9.4v9.4h-9.4zM227.7 419.8h9.4v9.4h-9.4zM246.0 443.0h9.4v9.4h-9.4zM264.3 462.8h9.4v9.4h-9.4zM282.6 479.7h9.4v9.4h-9.4zM300.9 494.2h9.4v9.4h-9.4zM319.2 506.5h9.4v9.4h-9.4zM337.5 517.2h9.4v9.4h-9.4zM355.8 526.6h9.4v9.4h-9.4zM374.1 534.9h9.4v9.4h-9.4zM392.4 542.3h9.4v9.4h-9.4zM410.7 548.4h9.4v9.4h-9.4zM429.0 553.5h9.4v9.4h-9.4zM447.3 557.9h9.4v9.4h-9.4zM465.6 562.0h9.4v9.4h-9.4zM483.9 565.8h9.4v9.4h-9.4zM502.2 569.6h9.4v9.4h-9.4zM520.5 573.4h9.4v9.4h-9.4zM538.8 577.2h9.4v9.4h-9.4zM557.1 580.8h9.4v9.4h-9.4zM575.4 584.2h9.4v9.4h-9.4zM593.7 587.3h9.4v9.4h-9.4zM612.0 590.4h9.4v9.4h-9.4zM630.3 593.3h9.4v9.4h-9.4zM648.6 596.0h9.4v9.4h-9.4zM666.9 598.5h9.4v9.4h-9.4zM685.2 600.8h9.4v9.4h-9.4zM703.5 602.9h9.4v9.4h-9.4zM721.8 605.0h9.4v9.4h-9.4zM740.1 606.9h9.4v9.4h-9.4zM758.4 608.7h9.4v9.4h-9.4zM776.7 610.3h9.4v9.4h-9.4zM795.0 611.8h9.4v9.4h-9.4zM813.3 613.2h9.4v9.4h-9.4zM831.6 614.5h9.4v9.4h-9.4zM849.9 615.7h9.4v9.4h-9.4zM868.2 616.8h9.4v9.4h-9.4zM886.5 617.7h9.4v9.4h-9.4zM904.8 618.6h9.4v9.4h-9.4zM923.1 619.3h9.4v9.4h-9.4zM941.4 620.0h9.4v9.4h-9.4zM959.7 620.6h9.4v9.4h-9.4z" fill="#993300"/>
<path d="M177.5 294.1L195.8 335.8L214.1 370.8L232.4 401.3L250.7 427.6L269.0 450.5L287.3 470.4L305.6 487.3L323.9 501.5L342.2 513.8L360.5 524.5L378.8 534.0L397.1 542.2L415.4 549.1L433.7 554.8L452.0 559.6L470.3 563.9L488.6 568.1L506.9 572.1L525.2 576.1L543.5 580.1L561.8 583.8L580.1 587.2L598.4 590.4L616.7 593.5L635.0 596.4L653.3 599.2L671.6 601.7L689.9 604.0L708.2 606.2L726.5 608.3L744.8 610.2L763.1 612.0L781.4 613.7L799.7 615.2L818.0 616.6L836.3 617.9L854.6 619.1L872.9 620.2L891.2 621.2L909.5 622.0L927.8 622.8L946.1 623.4L964.4 624.0" fill="none" stroke="#993366" stroke-width="4.0" stroke-linejoin="round"/><path d="M172.8 294.1a4.7 4.7 0 1 0 9.4 0a4.7 4.7 0 1 0 -9.4 0zM191.1 335.8a4.7 4.7 0 1 0 9.4 0a4.7 4.7 0 1 0 -9.4 0zM209.4 370.8a4.7 4.7 0 1 0 9.4 0a4.7 4.7 0 1 0 -9.4 0zM227.7 401.3a4.7 4.7 0 1 0 9.4 0a4.7 4.7 0 1 0 -9.4 0zM246.0 427.6a4.7 4.7 0 1 0 9.4 0a4.7 4.7 0 1 0 -9.4 0zM264.3 450.5a4.7 4.7 0 1 0 9.4 0a4.7 4.7 0 1 0 -9.4 0zM282.6 470.4a4.7 4.7 0 1 0 9.4 0a4.7 4.7 0 1 0 -9.4 0zM300.9 487.3a4.7 4.7 0 1 0 9.4 0a4.7 4.7 0 1 0 -9.4 0zM319.2 501.5a4.7 4.7 0 1 0 9.4 0a4.7 4.7 0 1 0 -9.4 0zM337.5 513.8a4.7 4.7 0 1 0 9.4 0a4.7 4.7 0 1 0 -9.4 0zM355.8 524.5a4.7 4.7 0 1 0 9.4 0a4.7 4.7 0 1 0 -9.4 0zM374.1 534.0a4.7 4.7 0 1 0 9.4 0a4.7 4.7 0 1 0 -9.4 0zM392.4 542.2a4.7 4.7 0 1 0 9.4 0a4.7 4.7 0 1 0 -9.4 0zM410.7 549.1a4.7 4.7 0 1 0 9.4 0a4.7 4.7 0 1 0 -9.4 0zM429.0 554.8a4.7 4.7 0 1 0 9.4 0a4.7 4.7 0 1 0 -9.4 0zM447.3 559.6a4.7 4.7 0 1 0 9.4 0a4.7 4.7 0 1 0 -9.4 0zM465.6 563.9a4.7 4.7 0 1 0 9.4 0a4.7 4.7 0 1 0 -9.4 0zM483.9 568.1a4.7 4.7 0 1 0 9.4 0a4.7 4.7 0 1 0 -9.4 0zM502.2 572.1a4.7 4.7 0 1 0 9.4 0a4.7 4.7 0 1 0 -9.4 0zM520.5 576.1a4.7 4.7 0 1 0 9.4 0a4.7 4.7 0 1 0 -9.4 0zM538.8 580.1a4.7 4.7 0 1 0 9.4 0a4.7 4.7 0 1 0 -9.4 0zM557.1 583.8a4.7 4.7 0 1 0 9.4 0a4.7 4.7 0 1 0 -9.4 0zM575.4 587.2a4.7 4.7 0 1 0 9.4 0a4.7 4.7 0 1 0 -9.4 0zM593.7 590.4a4.7 4.7 0 1 0 9.4 0a4.7 4.7 0 1 0 -9.4 0zM612.0 593.5a4.7 4.7 0 1 0 9.4 0a4.7 4.7 0 1 0 -9.4 0zM630.3 596.4a4.7 4.7 0 1 0 9.4 0a4.7 4.7 0 1 0 -9.4 0zM648.6 599.2a4.7 4.7 0 1 0 9.4 0a4.7 4.7 0 1 0 -9.4 0zM666.9 601.7a4.7 4.7 0 1 0 9.4 0a4.7 4.7 0 1 0 -9.4 0zM685.2 604.0a4.7 4.7 0 1 0 9.4 0a4.7 4.7 0 1 0 -9.4 0zM703.5 606.2a4.7 4.7 0 1 0 9.4 0a4.7 4.7 0 1 0 -9.4 0zM721.8 608.3a4.7 4.7 0 1 0 9.4 0a4.7 4.7 0 1 0 -9.4 0zM740.1 610.2a4.7 4.7 0 1 0 9.4 0a4.7 4.7 0 1 0 -9.4 0zM758.4 612.0a4.7 4.7 0 1 0 9.4 0a4.7 4.7 0 1 0 -9.4 0zM776.7 613.7a4.7 4.7 0 1 0 9.4 0a4.7 4.7 0 1 0 -9.4 0zM795.0 615.2a4.7 4.7 0 1 0 9.4 0a4.7 4.7 0 1 0 -9.4 0zM813.3 616.6a4.7 4.7 0 1 0 9.4 0a4.7 4.7 0 1 0 -9.4 0zM831.6 617.9a4.7 4.7 0 1 0 9.4 0a4.7 4.7 0 1 0 -9.4 0zM849.9 619.1a4.7 4.7 0 1 0 9.4 0a4.7 4.7 0 1 0 -9.4 0zM868.2 620.2a4.7 4.7 0 1 0 9.4 0a4.7 4.7 0 1 0 -9.4 0zM886.5 621.2a4.7 4.7 0 1 0 9.4 0a4.7 4.7 0 1 0 -9.4 0zM904.8 622.0a4.7 4.7 0 1 0 9.4 0a4.7 4.7 0 1 0 -9.4 0zM923.1 622.8a4.7 4.7 0 1 0 9.4 0a4.7 4.7 0 1 0 -9.4 0zM941.4 623.4a4.7 4.7 0 1 0 9.4 0a4.7 4.7 0 1 0 -9.4 0zM959.7 624.0a4.7 4.7 0 1 0 9.4 0a4.7 4.7 0 1 0 -9.4 0z" fill="#993366"/>
<path d="M177.5 265.1L195.8 308.1L214.1 344.1L232.4 376.5L250.7 405.3L269.0 431.3L287.3 454.3L305.6 473.8L323.9 490.2L342.2 504.3L360.5 516.5L378.8 527.2L397.1 536.4L415.4 544.2L433.7 550.5L452.0 555.9L470.3 560.7L488.6 565.2L506.9 569.5L525.2 573.8L543.5 578.0L561.8 581.8L580.1 585.4L598.4 588.7L616.7 591.8L635.0 594.8L653.3 597.6L671.6 600.2L689.9 602.5L708.2 604.8L726.5 606.9L744.8 608.8L763.1 610.6L781.4 612.3L799.7 613.8L818.0 615.2L836.3 616.5L854.6 617.8L872.9 618.9L891.2 619.9L909.5 620.7L927.8 621.5L946.1 622.1L964.4 622.7" fill="none" stroke="#333399" stroke-width="4.0" stroke-linejoin="round"/><path d="M177.5 259.4l5.6 10.2h-11.3zM195.8 302.5l5.6 10.2h-11.3zM214.1 338.5l5.6 10.2h-11.3zM232.4 370.9l5.6 10.2h-11.3zM250.7 399.6l5.6 10.2h-11.3zM269.0 425.6l5.6 10.2h-11.3zM287.3 448.6l5.6 10.2h-11.3zM305.6 468.1l5.6 10.2h-11.3zM323.9 484.6l5.6 10.2h-11.3zM342.2 498.7l5.6 10.2h-11.3zM360.5 510.9l5.6 10.2h-11.3zM378.8 521.6l5.6 10.2h-11.3zM397.1 530.8l5.6 10.2h-11.3zM415.4 538.5l5.6 10.2h-11.3zM433.7 544.9l5.6 10.2h-11.3zM452.0 550.2l5.6 10.2h-11.3zM470.3 555.1l5.6 10.2h-11.3zM488.6 559.6l5.6 10.2h-11.3zM506.9 563.9l5.6 10.2h-11.3zM525.2 568.1l5.6 10.2h-11.3zM543.5 572.3l5.6 10.2h-11.3zM561.8 576.2l5.6 10.2h-11.3zM580.1 579.8l5.6 10.2h-11.3zM598.4 583.0l5.6 10.2h-11.3zM616.7 586.2l5.6 10.2h-11.3zM635.0 589.2l5.6 10.2h-11.3zM653.3 592.0l5.6 10.2h-11.3zM671.6 594.5l5.6 10.2h-11.3zM689.9 596.9l5.6 10.2h-11.3zM708.2 599.1l5.6 10.2h-11.3zM726.5 601.2l5.6 10.2h-11.3zM744.8 603.2l5.6 10.2h-11.3zM763.1 605.0l5.6 10.2h-11.3zM781.4 606.6l5.6 10.2h-11.3zM799.7 608.1l5.6 10.2h-11.3zM818.0 609.6l5.6 10.2h-11.3zM836.3 610.9l5.6 10.2h-11.3zM854.6 612.1l5.6 10.2h-11.3zM872.9 613.2l5.6 10.2h-11.3zM891.2 614.2l5.6 10.2h-11.3zM909.5 615.1l5.6 10.2h-11.3zM927.8 615.8l5.6 10.2h-11.3zM946.1 616.5l5.6 10.2h-11.3zM964.4 617.1l5.6 10.2h-11.3z" fill="#333399"/>
<path d="M177.5 245.9L195.8 282.6L214.1 317.8L232.4 350.9L250.7 381.2L269.0 409.7L287.3 435.8L305.6 458.0L323.9 477.0L342.2 493.3L360.5 507.3L378.8 519.4L397.1 529.8L415.4 538.5L433.7 545.7L452.0 551.7L470.3 557.1L488.6 562.0L506.9 566.7L525.2 571.3L543.5 575.7L561.8 579.7L580.1 583.5L598.4 586.8L616.7 590.0L635.0 593.1L653.3 595.9L671.6 598.6L689.9 600.9L708.2 603.2L726.5 605.3L744.8 607.3L763.1 609.2L781.4 610.9L799.7 612.4L818.0 613.8L836.3 615.2L854.6 616.4L872.9 617.5L891.2 618.6L909.5 619.4L927.8 620.2L946.1 620.9L964.4 621.5" fill="none" stroke="#000000" stroke-width="4.0" stroke-linejoin="round"/><path d="M172.8 241.2l9.4 9.4M172.8 250.6l9.4 -9.4M191.1 277.9l9.4 9.4M191.1 287.3l9.4 -9.4M209.4 313.1l9.4 9.4M209.4 322.5l9.4 -9.4M227.7 346.2l9.4 9.4M227.7 355.6l9.4 -9.4M246.0 376.5l9.4 9.4M246.0 385.9l9.4 -9.4M264.3 405.0l9.4 9.4M264.3 414.4l9.4 -9.4M282.6 431.1l9.4 9.4M282.6 440.5l9.4 -9.4M300.9 453.3l9.4 9.4M300.9 462.7l9.4 -9.4M319.2 472.3l9.4 9.4M319.2 481.7l9.4 -9.4M337.5 488.6l9.4 9.4M337.5 498.0l9.4 -9.4M355.8 502.6l9.4 9.4M355.8 512.0l9.4 -9.4M374.1 514.7l9.4 9.4M374.1 524.1l9.4 -9.4M392.4 525.1l9.4 9.4M392.4 534.5l9.4 -9.4M410.7 533.8l9.4 9.4M410.7 543.2l9.4 -9.4M429.0 541.0l9.4 9.4M429.0 550.4l9.4 -9.4M447.3 547.0l9.4 9.4M447.3 556.4l9.4 -9.4M465.6 552.4l9.4 9.4M465.6 561.8l9.4 -9.4M483.9 557.3l9.4 9.4M483.9 566.7l9.4 -9.4M502.2 562.0l9.4 9.4M502.2 571.4l9.4 -9.4M520.5 566.6l9.4 9.4M520.5 576.0l9.4 -9.4M538.8 571.0l9.4 9.4M538.8 580.4l9.4 -9.4M557.1 575.0l9.4 9.4M557.1 584.4l9.4 -9.4M575.4 578.8l9.4 9.4M575.4 588.2l9.4 -9.4M593.7 582.1l9.4 9.4M593.7 591.5l9.4 -9.4M612.0 585.3l9.4 9.4M612.0 594.7l9.4 -9.4M630.3 588.4l9.4 9.4M630.3 597.8l9.4 -9.4M648.6 591.2l9.4 9.4M648.6 600.6l9.4 -9.4M666.9 593.9l9.4 9.4M666.9 603.3l9.4 -9.4M685.2 596.2l9.4 9.4M685.2 605.6l9.4 -9.4M703.5 598.5l9.4 9.4M703.5 607.9l9.4 -9.4M721.8 600.6l9.4 9.4M721.8 610.0l9.4 -9.4M740.1 602.6l9.4 9.4M740.1 612.0l9.4 -9.4M758.4 604.5l9.4 9.4M758.4 613.9l9.4 -9.4M776.7 606.2l9.4 9.4M776.7 615.6l9.4 -9.4M795.0 607.7l9.4 9.4M795.0 617.1l9.4 -9.4M813.3 609.1l9.4 9.4M813.3 618.5l9.4 -9.4M831.6 610.5l9.4 9.4M831.6 619.9l9.4 -9.4M849.9 611.7l9.4 9.4M849.9 621.1l9.4 -9.4M868.2 612.8l9.4 9.4M868.2 622.2l9.4 -9.4M886.5 613.9l9.4 9.4M886.5 623.3l9.4 -9.4M904.8 614.7l9.4 9.4M904.8 624.1l9.4 -9.4M923.1 615.5l9.4 9.4M923.1 624.9l9.4 -9.4M941.4 616.2l9.4 9.4M941.4 625.6l9.4 -9.4M959.7 616.8l9.4 9.4M959.7 626.2l9.4 -9.4" fill="none" stroke="#000000" stroke-width="1.3"/>
<path d="M177.5 225.7L195.8 250.9L214.1 289.2L232.4 325.5L250.7 356.5L269.0 387.0L287.3 415.9L305.6 441.0L323.9 462.8L342.2 481.8L360.5 497.9L378.8 511.6L397.1 523.2L415.4 532.9L433.7 540.9L452.0 547.6L470.3 553.5L488.6 558.9L506.9 563.9L525.2 568.8L543.5 573.4L561.8 577.7L580.1 581.6L598.4 585.0L616.7 588.3L635.0 591.4L653.3 594.3L671.6 596.9L689.9 599.4L708.2 601.7L726.5 603.8L744.8 605.9L763.1 607.7L781.4 609.4L799.7 611.0L818.0 612.4L836.3 613.8L854.6 615.1L872.9 616.2L891.2 617.2L909.5 618.1L927.8 618.9L946.1 619.6L964.4 620.2" fill="none" stroke="#FF6600" stroke-width="4.0" stroke-linejoin="round"/><path d="M172.8 225.7a4.7 4.7 0 1 0 9.4 0a4.7 4.7 0 1 0 -9.4 0zM191.1 250.9a4.7 4.7 0 1 0 9.4 0a4.7 4.7 0 1 0 -9.4 0zM209.4 289.2a4.7 4.7 0 1 0 9.4 0a4.7 4.7 0 1 0 -9.4 0zM227.7 325.5a4.7 4.7 0 1 0 9.4 0a4.7 4.7 0 1 0 -9.4 0zM246.0 356.5a4.7 4.7 0 1 0 9.4 0a4.7 4.7 0 1 0 -9.4 0zM264.3 387.0a4.7 4.7 0 1 0 9.4 0a4.7 4.7 0 1 0 -9.4 0zM282.6 415.9a4.7 4.7 0 1 0 9.4 0a4.7 4.7 0 1 0 -9.4 0zM300.9 441.0a4.7 4.7 0 1 0 9.4 0a4.7 4.7 0 1 0 -9.4 0zM319.2 462.8a4.7 4.7 0 1 0 9.4 0a4.7 4.7 0 1 0 -9.4 0zM337.5 481.8a4.7 4.7 0 1 0 9.4 0a4.7 4.7 0 1 0 -9.4 0zM355.8 497.9a4.7 4.7 0 1 0 9.4 0a4.7 4.7 0 1 0 -9.4 0zM374.1 511.6a4.7 4.7 0 1 0 9.4 0a4.7 4.7 0 1 0 -9.4 0zM392.4 523.2a4.7 4.7 0 1 0 9.4 0a4.7 4.7 0 1 0 -9.4 0zM410.7 532.9a4.7 4.7 0 1 0 9.4 0a4.7 4.7 0 1 0 -9.4 0zM429.0 540.9a4.7 4.7 0 1 0 9.4 0a4.7 4.7 0 1 0 -9.4 0zM447.3 547.6a4.7 4.7 0 1 0 9.4 0a4.7 4.7 0 1 0 -9.4 0zM465.6 553.5a4.7 4.7 0 1 0 9.4 0a4.7 4.7 0 1 0 -9.4 0zM483.9 558.9a4.7 4.7 0 1 0 9.4 0a4.7 4.7 0 1 0 -9.4 0zM502.2 563.9a4.7 4.7 0 1 0 9.4 0a4.7 4.7 0 1 0 -9.4 0zM520.5 568.8a4.7 4.7 0 1 0 9.4 0a4.7 4.7 0 1 0 -9.4 0zM538.8 573.4a4.7 4.7 0 1 0 9.4 0a4.7 4.7 0 1 0 -9.4 0zM557.1 577.7a4.7 4.7 0 1 0 9.4 0a4.7 4.7 0 1 0 -9.4 0zM575.4 581.6a4.7 4.7 0 1 0 9.4 0a4.7 4.7 0 1 0 -9.4 0zM593.7 585.0a4.7 4.7 0 1 0 9.4 0a4.7 4.7 0 1 0 -9.4 0zM612.0 588.3a4.7 4.7 0 1 0 9.4 0a4.7 4.7 0 1 0 -9.4 0zM630.3 591.4a4.7 4.7 0 1 0 9.4 0a4.7 4.7 0 1 0 -9.4 0zM648.6 594.3a4.7 4.7 0 1 0 9.4 0a4.7 4.7 0 1 0 -9.4 0zM666.9 596.9a4.7 4.7 0 1 0 9.4 0a4.7 4.7 0 1 0 -9.4 0zM685.2 599.4a4.7 4.7 0 1 0 9.4 0a4.7 4.7 0 1 0 -9.4 0zM703.5 601.7a4.7 4.7 0 1 0 9.4 0a4.7 4.7 0 1 0 -9.4 0zM721.8 603.8a4.7 4.7 0 1 0 9.4 0a4.7 4.7 0 1 0 -9.4 0zM740.1 605.9a4.7 4.7 0 1 0 9.4 0a4.7 4.7 0 1 0 -9.4 0zM758.4 607.7a4.7 4.7 0 1 0 9.4 0a4.7 4.7 0 1 0 -9.4 0zM776.7 609.4a4.7 4.7 0 1 0 9.4 0a4.7 4.7 0 1 0 -9.4 0zM795.0 611.0a4.7 4.7 0 1 0 9.4 0a4.7 4.7 0 1 0 -9.4 0zM813.3 612.4a4.7 4.7 0 1 0 9.4 0a4.7 4.7 0 1 0 -9.4 0zM831.6 613.8a4.7 4.7 0 1 0 9.4 0a4.7 4.7 0 1 0 -9.4 0zM849.9 615.1a4.7 4.7 0 1 0 9.4 0a4.7 4.7 0 1 0 -9.4 0zM868.2 616.2a4.7 4.7 0 1 0 9.4 0a4.7 4.7 0 1 0 -9.4 0zM886.5 617.2a4.7 4.7 0 1 0 9.4 0a4.7 4.7 0 1 0 -9.4 0zM904.8 618.1a4.7 4.7 0 1 0 9.4 0a4.7 4.7 0 1 0 -9.4 0zM923.1 618.9a4.7 4.7 0 1 0 9.4 0a4.7 4.7 0 1 0 -9.4 0zM941.4 619.6a4.7 4.7 0 1 0 9.4 0a4.7 4.7 0 1 0 -9.4 0zM959.7 620.2a4.7 4.7 0 1 0 9.4 0a4.7 4.7 0 1 0 -9.4 0z" fill="#FF6600"/>
<path d="M177.5 207.6L195.8 228.4L214.1 270.0L232.4 301.7L250.7 332.8L269.0 364.6L287.3 395.9L305.6 423.8L323.9 448.7L342.2 470.5L360.5 488.8L378.8 504.0L397.1 516.8L415.4 527.5L433.7 536.2L452.0 543.6L470.3 550.0L488.6 555.8L506.9 561.2L525.2 566.3L543.5 571.2L561.8 575.6L580.1 579.7L598.4 583.2L616.7 586.5L635.0 589.7L653.3 592.6L671.6 595.3L689.9 597.8L708.2 600.2L726.5 602.4L744.8 604.4L763.1 606.3L781.4 608.0L799.7 609.6L818.0 611.1L836.3 612.5L854.6 613.7L872.9 614.9L891.2 615.9L909.5 616.8L927.8 617.6L946.1 618.3L964.4 618.9" fill="none" stroke="#FF0000" stroke-width="4.0" stroke-linejoin="round"/><path d="M172.8 202.9h9.4v9.4h-9.4zM191.1 223.7h9.4v9.4h-9.4zM209.4 265.3h9.4v9.4h-9.4zM227.7 297.0h9.4v9.4h-9.4zM246.0 328.1h9.4v9.4h-9.4zM264.3 359.9h9.4v9.4h-9.4zM282.6 391.2h9.4v9.4h-9.4zM300.9 419.1h9.4v9.4h-9.4zM319.2 444.0h9.4v9.4h-9.4zM337.5 465.8h9.4v9.4h-9.4zM355.8 484.1h9.4v9.4h-9.4zM374.1 499.3h9.4v9.4h-9.4zM392.4 512.1h9.4v9.4h-9.4zM410.7 522.8h9.4v9.4h-9.4zM429.0 531.5h9.4v9.4h-9.4zM447.3 538.9h9.4v9.4h-9.4zM465.6 545.3h9.4v9.4h-9.4zM483.9 551.1h9.4v9.4h-9.4zM502.2 556.5h9.4v9.4h-9.4zM520.5 561.6h9.4v9.4h-9.4zM538.8 566.5h9.4v9.4h-9.4zM557.1 570.9h9.4v9.4h-9.4zM575.4 575.0h9.4v9.4h-9.4zM593.7 578.5h9.4v9.4h-9.4zM612.0 581.8h9.4v9.4h-9.4zM630.3 585.0h9.4v9.4h-9.4zM648.6 587.9h9.4v9.4h-9.4zM666.9 590.6h9.4v9.4h-9.4zM685.2 593.1h9.4v9.4h-9.4zM703.5 595.5h9.4v9.4h-9.4zM721.8 597.7h9.4v9.4h-9.4zM740.1 599.7h9.4v9.4h-9.4zM758.4 601.6h9.4v9.4h-9.4zM776.7 603.3h9.4v9.4h-9.4zM795.0 604.9h9.4v9.4h-9.4zM813.3 606.4h9.4v9.4h-9.4zM831.6 607.8h9.4v9.4h-9.4zM849.9 609.0h9.4v9.4h-9.4zM868.2 610.2h9.4v9.4h-9.4zM886.5 611.2h9.4v9.4h-9.4zM904.8 612.1h9.4v9.4h-9.4zM923.1 612.9h9.4v9.4h-9.4zM941.4 613.6h9.4v9.4h-9.4zM959.7 614.2h9.4v9.4h-9.4z" fill="#FF0000"/>
<path d="M177.5 196.7L195.8 213.7L214.1 250.9L232.4 279.9L250.7 310.3L269.0 342.5L287.3 375.5L305.6 405.5L323.9 433.4L342.2 458.1L360.5 478.7L378.8 495.6L397.1 509.8L415.4 521.5L433.7 531.2L452.0 539.2L470.3 546.2L488.6 552.5L506.9 558.3L525.2 563.7L543.5 568.9L561.8 573.5L580.1 577.8L598.4 581.3L616.7 584.7L635.0 587.9L653.3 590.9L671.6 593.7L689.9 596.2L708.2 598.6L726.5 600.8L744.8 602.9L763.1 604.8L781.4 606.6L799.7 608.2L818.0 609.7L836.3 611.1L854.6 612.4L872.9 613.6L891.2 614.6L909.5 615.5L927.8 616.3L946.1 617.0L964.4 617.6" fill="none" stroke="#1E4620" stroke-width="4.0" stroke-linejoin="round"/><path d="M177.5 191.1l5.6 10.2h-11.3zM195.8 208.0l5.6 10.2h-11.3zM214.1 245.2l5.6 10.2h-11.3zM232.4 274.3l5.6 10.2h-11.3zM250.7 304.7l5.6 10.2h-11.3zM269.0 336.9l5.6 10.2h-11.3zM287.3 369.8l5.6 10.2h-11.3zM305.6 399.9l5.6 10.2h-11.3zM323.9 427.7l5.6 10.2h-11.3zM342.2 452.4l5.6 10.2h-11.3zM360.5 473.0l5.6 10.2h-11.3zM378.8 489.9l5.6 10.2h-11.3zM397.1 504.1l5.6 10.2h-11.3zM415.4 515.9l5.6 10.2h-11.3zM433.7 525.5l5.6 10.2h-11.3zM452.0 533.6l5.6 10.2h-11.3zM470.3 540.6l5.6 10.2h-11.3zM488.6 546.9l5.6 10.2h-11.3zM506.9 552.6l5.6 10.2h-11.3zM525.2 558.1l5.6 10.2h-11.3zM543.5 563.2l5.6 10.2h-11.3zM561.8 567.9l5.6 10.2h-11.3zM580.1 572.1l5.6 10.2h-11.3zM598.4 575.7l5.6 10.2h-11.3zM616.7 579.0l5.6 10.2h-11.3zM635.0 582.3l5.6 10.2h-11.3zM653.3 585.3l5.6 10.2h-11.3zM671.6 588.0l5.6 10.2h-11.3zM689.9 590.6l5.6 10.2h-11.3zM708.2 592.9l5.6 10.2h-11.3zM726.5 595.2l5.6 10.2h-11.3zM744.8 597.3l5.6 10.2h-11.3zM763.1 599.2l5.6 10.2h-11.3zM781.4 601.0l5.6 10.2h-11.3zM799.7 602.5l5.6 10.2h-11.3zM818.0 604.0l5.6 10.2h-11.3zM836.3 605.4l5.6 10.2h-11.3zM854.6 606.7l5.6 10.2h-11.3zM872.9 607.9l5.6 10.2h-11.3zM891.2 609.0l5.6 10.2h-11.3zM909.5 609.9l5.6 10.2h-11.3zM927.8 610.7l5.6 10.2h-11.3zM946.1 611.4l5.6 10.2h-11.3zM964.4 612.0l5.6 10.2h-11.3z" fill="#1E4620"/>
<path d="M177.5 185.2L195.8 201.1L214.1 228.4L232.4 254.7L250.7 289.2L269.0 320.7L287.3 353.9L305.6 385.3L323.9 415.3L342.2 442.5L360.5 465.6L378.8 484.7L397.1 501.0L415.4 514.5L433.7 525.4L452.0 534.3L470.3 541.9L488.6 548.8L506.9 555.0L525.2 560.8L543.5 566.3L561.8 571.2L580.1 575.7L598.4 579.3L616.7 582.8L635.0 586.1L653.3 589.1L671.6 592.0L689.9 594.5L708.2 597.0L726.5 599.2L744.8 601.4L763.1 603.3L781.4 605.1L799.7 606.7L818.0 608.3L836.3 609.7L854.6 611.0L872.9 612.2L891.2 613.2L909.5 614.2L927.8 615.0L946.1 615.7L964.4 616.3" fill="none" stroke="#0000FF" stroke-width="4.0" stroke-linejoin="round"/><path d="M172.8 180.5l9.4 9.4M172.8 189.9l9.4 -9.4M191.1 196.4l9.4 9.4M191.1 205.8l9.4 -9.4M209.4 223.7l9.4 9.4M209.4 233.1l9.4 -9.4M227.7 250.0l9.4 9.4M227.7 259.4l9.4 -9.4M246.0 284.5l9.4 9.4M246.0 293.9l9.4 -9.4M264.3 316.0l9.4 9.4M264.3 325.4l9.4 -9.4M282.6 349.2l9.4 9.4M282.6 358.6l9.4 -9.4M300.9 380.6l9.4 9.4M300.9 390.0l9.4 -9.4M319.2 410.6l9.4 9.4M319.2 420.0l9.4 -9.4M337.5 437.8l9.4 9.4M337.5 447.2l9.4 -9.4M355.8 460.9l9.4 9.4M355.8 470.3l9.4 -9.4M374.1 480.0l9.4 9.4M374.1 489.4l9.4 -9.4M392.4 496.3l9.4 9.4M392.4 505.7l9.4 -9.4M410.7 509.8l9.4 9.4M410.7 519.2l9.4 -9.4M429.0 520.7l9.4 9.4M429.0 530.1l9.4 -9.4M447.3 529.6l9.4 9.4M447.3 539.0l9.4 -9.4M465.6 537.2l9.4 9.4M465.6 546.6l9.4 -9.4M483.9 544.1l9.4 9.4M483.9 553.5l9.4 -9.4M502.2 550.3l9.4 9.4M502.2 559.7l9.4 -9.4M520.5 556.1l9.4 9.4M520.5 565.5l9.4 -9.4M538.8 561.6l9.4 9.4M538.8 571.0l9.4 -9.4M557.1 566.5l9.4 9.4M557.1 575.9l9.4 -9.4M575.4 571.0l9.4 9.4M575.4 580.4l9.4 -9.4M593.7 574.6l9.4 9.4M593.7 584.0l9.4 -9.4M612.0 578.1l9.4 9.4M612.0 587.5l9.4 -9.4M630.3 581.4l9.4 9.4M630.3 590.8l9.4 -9.4M648.6 584.4l9.4 9.4M648.6 593.8l9.4 -9.4M666.9 587.3l9.4 9.4M666.9 596.7l9.4 -9.4M685.2 589.8l9.4 9.4M685.2 599.2l9.4 -9.4M703.5 592.3l9.4 9.4M703.5 601.7l9.4 -9.4M721.8 594.5l9.4 9.4M721.8 603.9l9.4 -9.4M740.1 596.7l9.4 9.4M740.1 606.1l9.4 -9.4M758.4 598.6l9.4 9.4M758.4 608.0l9.4 -9.4M776.7 600.4l9.4 9.4M776.7 609.8l9.4 -9.4M795.0 602.0l9.4 9.4M795.0 611.4l9.4 -9.4M813.3 603.6l9.4 9.4M813.3 613.0l9.4 -9.4M831.6 605.0l9.4 9.4M831.6 614.4l9.4 -9.4M849.9 606.3l9.4 9.4M849.9 615.7l9.4 -9.4M868.2 607.5l9.4 9.4M868.2 616.9l9.4 -9.4M886.5 608.5l9.4 9.4M886.5 617.9l9.4 -9.4M904.8 609.5l9.4 9.4M904.8 618.9l9.4 -9.4M923.1 610.3l9.4 9.4M923.1 619.7l9.4 -9.4M941.4 611.0l9.4 9.4M941.4 620.4l9.4 -9.4M959.7 611.6l9.4 9.4M959.7 621.0l9.4 -9.4" fill="none" stroke="#0000FF" stroke-width="1.3"/>
<path d="M177.5 174.3L195.8 195.1L214.1 212.0L232.4 241.0L250.7 270.4L269.0 300.2L287.3 332.4L305.6 363.8L323.9 395.0L342.2 424.1L360.5 449.5L378.8 471.2L397.1 490.4L415.4 506.1L433.7 518.5L452.0 528.5L470.3 537.0L488.6 544.5L506.9 551.3L525.2 557.6L543.5 563.4L561.8 568.6L580.1 573.4L598.4 577.1L616.7 580.7L635.0 584.0L653.3 587.2L671.6 590.1L689.9 592.7L708.2 595.2L726.5 597.6L744.8 599.7L763.1 601.7L781.4 603.6L799.7 605.2L818.0 606.8L836.3 608.2L854.6 609.6L872.9 610.8L891.2 611.9L909.5 612.8L927.8 613.6L946.1 614.4L964.4 615.0" fill="none" stroke="#7030A0" stroke-width="4.0" stroke-linejoin="round"/><path d="M172.8 174.3a4.7 4.7 0 1 0 9.4 0a4.7 4.7 0 1 0 -9.4 0zM191.1 195.1a4.7 4.7 0 1 0 9.4 0a4.7 4.7 0 1 0 -9.4 0zM209.4 212.0a4.7 4.7 0 1 0 9.4 0a4.7 4.7 0 1 0 -9.4 0zM227.7 241.0a4.7 4.7 0 1 0 9.4 0a4.7 4.7 0 1 0 -9.4 0zM246.0 270.4a4.7 4.7 0 1 0 9.4 0a4.7 4.7 0 1 0 -9.4 0zM264.3 300.2a4.7 4.7 0 1 0 9.4 0a4.7 4.7 0 1 0 -9.4 0zM282.6 332.4a4.7 4.7 0 1 0 9.4 0a4.7 4.7 0 1 0 -9.4 0zM300.9 363.8a4.7 4.7 0 1 0 9.4 0a4.7 4.7 0 1 0 -9.4 0zM319.2 395.0a4.7 4.7 0 1 0 9.4 0a4.7 4.7 0 1 0 -9.4 0zM337.5 424.1a4.7 4.7 0 1 0 9.4 0a4.7 4.7 0 1 0 -9.4 0zM355.8 449.5a4.7 4.7 0 1 0 9.4 0a4.7 4.7 0 1 0 -9.4 0zM374.1 471.2a4.7 4.7 0 1 0 9.4 0a4.7 4.7 0 1 0 -9.4 0zM392.4 490.4a4.7 4.7 0 1 0 9.4 0a4.7 4.7 0 1 0 -9.4 0zM410.7 506.1a4.7 4.7 0 1 0 9.4 0a4.7 4.7 0 1 0 -9.4 0zM429.0 518.5a4.7 4.7 0 1 0 9.4 0a4.7 4.7 0 1 0 -9.4 0zM447.3 528.5a4.7 4.7 0 1 0 9.4 0a4.7 4.7 0 1 0 -9.4 0zM465.6 537.0a4.7 4.7 0 1 0 9.4 0a4.7 4.7 0 1 0 -9.4 0zM483.9 544.5a4.7 4.7 0 1 0 9.4 0a4.7 4.7 0 1 0 -9.4 0zM502.2 551.3a4.7 4.7 0 1 0 9.4 0a4.7 4.7 0 1 0 -9.4 0zM520.5 557.6a4.7 4.7 0 1 0 9.4 0a4.7 4.7 0 1 0 -9.4 0zM538.8 563.4a4.7 4.7 0 1 0 9.4 0a4.7 4.7 0 1 0 -9.4 0zM557.1 568.6a4.7 4.7 0 1 0 9.4 0a4.7 4.7 0 1 0 -9.4 0zM575.4 573.4a4.7 4.7 0 1 0 9.4 0a4.7 4.7 0 1 0 -9.4 0zM593.7 577.1a4.7 4.7 0 1 0 9.4 0a4.7 4.7 0 1 0 -9.4 0zM612.0 580.7a4.7 4.7 0 1 0 9.4 0a4.7 4.7 0 1 0 -9.4 0zM630.3 584.0a4.7 4.7 0 1 0 9.4 0a4.7 4.7 0 1 0 -9.4 0zM648.6 587.2a4.7 4.7 0 1 0 9.4 0a4.7 4.7 0 1 0 -9.4 0zM666.9 590.1a4.7 4.7 0 1 0 9.4 0a4.7 4.7 0 1 0 -9.4 0zM685.2 592.7a4.7 4.7 0 1 0 9.4 0a4.7 4.7 0 1 0 -9.4 0zM703.5 595.2a4.7 4.7 0 1 0 9.4 0a4.7 4.7 0 1 0 -9.4 0zM721.8 597.6a4.7 4.7 0 1 0 9.4 0a4.7 4.7 0 1 0 -9.4 0zM740.1 599.7a4.7 4.7 0 1 0 9.4 0a4.7 4.7 0 1 0 -9.4 0zM758.4 601.7a4.7 4.7 0 1 0 9.4 0a4.7 4.7 0 1 0 -9.4 0zM776.7 603.6a4.7 4.7 0 1 0 9.4 0a4.7 4.7 0 1 0 -9.4 0zM795.0 605.2a4.7 4.7 0 1 0 9.4 0a4.7 4.7 0 1 0 -9.4 0zM813.3 606.8a4.7 4.7 0 1 0 9.4 0a4.7 4.7 0 1 0 -9.4 0zM831.6 608.2a4.7 4.7 0 1 0 9.4 0a4.7 4.7 0 1 0 -9.4 0zM849.9 609.6a4.7 4.7 0 1 0 9.4 0a4.7 4.7 0 1 0 -9.4 0zM868.2 610.8a4.7 4.7 0 1 0 9.4 0a4.7 4.7 0 1 0 -9.4 0zM886.5 611.9a4.7 4.7 0 1 0 9.4 0a4.7 4.7 0 1 0 -9.4 0zM904.8 612.8a4.7 4.7 0 1 0 9.4 0a4.7 4.7 0 1 0 -9.4 0zM923.1 613.6a4.7 4.7 0 1 0 9.4 0a4.7 4.7 0 1 0 -9.4 0zM941.4 614.4a4.7 4.7 0 1 0 9.4 0a4.7 4.7 0 1 0 -9.4 0zM959.7 615.0a4.7 4.7 0 1 0 9.4 0a4.7 4.7 0 1 0 -9.4 0z" fill="#7030A0"/>
<path d="M177.5 170.4L195.8 192.9L214.1 216.9L232.4 232.8L250.7 254.6L269.0 281.8L287.3 311.9L305.6 342.4L323.9 373.7L342.2 404.0L360.5 431.3L378.8 455.6L397.1 477.7L415.4 495.9L433.7 510.2L452.0 521.4L470.3 531.0L488.6 539.4L506.9 546.9L525.2 553.8L543.5 560.1L561.8 565.7L580.1 570.7L598.4 574.6L616.7 578.3L635.0 581.8L653.3 585.1L671.6 588.1L689.9 590.8L708.2 593.4L726.5 595.8L744.8 598.0L763.1 600.0L781.4 601.9L799.7 603.6L818.0 605.2L836.3 606.7L854.6 608.1L872.9 609.3L891.2 610.4L909.5 611.4L927.8 612.2L946.1 613.0L964.4 613.7" fill="none" stroke="#FF00FF" stroke-width="4.0" stroke-linejoin="round"/><path d="M172.8 165.7h9.4v9.4h-9.4zM191.1 188.2h9.4v9.4h-9.4zM209.4 212.2h9.4v9.4h-9.4zM227.7 228.1h9.4v9.4h-9.4zM246.0 249.9h9.4v9.4h-9.4zM264.3 277.1h9.4v9.4h-9.4zM282.6 307.2h9.4v9.4h-9.4zM300.9 337.7h9.4v9.4h-9.4zM319.2 369.0h9.4v9.4h-9.4zM337.5 399.3h9.4v9.4h-9.4zM355.8 426.6h9.4v9.4h-9.4zM374.1 450.9h9.4v9.4h-9.4zM392.4 473.0h9.4v9.4h-9.4zM410.7 491.2h9.4v9.4h-9.4zM429.0 505.5h9.4v9.4h-9.4zM447.3 516.7h9.4v9.4h-9.4zM465.6 526.3h9.4v9.4h-9.4zM483.9 534.7h9.4v9.4h-9.4zM502.2 542.2h9.4v9.4h-9.4zM520.5 549.1h9.4v9.4h-9.4zM538.8 555.4h9.4v9.4h-9.4zM557.1 561.0h9.4v9.4h-9.4zM575.4 566.0h9.4v9.4h-9.4zM593.7 569.9h9.4v9.4h-9.4zM612.0 573.6h9.4v9.4h-9.4zM630.3 577.1h9.4v9.4h-9.4zM648.6 580.4h9.4v9.4h-9.4zM666.9 583.4h9.4v9.4h-9.4zM685.2 586.1h9.4v9.4h-9.4zM703.5 588.7h9.4v9.4h-9.4zM721.8 591.1h9.4v9.4h-9.4zM740.1 593.3h9.4v9.4h-9.4zM758.4 595.3h9.4v9.4h-9.4zM776.7 597.2h9.4v9.4h-9.4zM795.0 598.9h9.4v9.4h-9.4zM813.3 600.5h9.4v9.4h-9.4zM831.6 602.0h9.4v9.4h-9.4zM849.9 603.4h9.4v9.4h-9.4zM868.2 604.6h9.4v9.4h-9.4zM886.5 605.7h9.4v9.4h-9.4zM904.8 606.7h9.4v9.4h-9.4zM923.1 607.5h9.4v9.4h-9.4zM941.4 608.3h9.4v9.4h-9.4zM959.7 609.0h9.4v9.4h-9.4z" fill="#FF00FF"/>
<path d="M177.5 165.0L195.8 188.5L214.1 201.1L232.4 218.0L250.7 241.5L269.0 266.0L287.3 293.2L305.6 321.8L323.9 352.7L342.2 383.6L360.5 412.3L378.8 438.7L397.1 463.4L415.4 484.2L433.7 500.4L452.0 513.2L470.3 524.1L488.6 533.6L506.9 541.9L525.2 549.5L543.5 556.4L561.8 562.4L580.1 567.8L598.4 571.9L616.7 575.7L635.0 579.4L653.3 582.8L671.6 585.9L689.9 588.7L708.2 591.3L726.5 593.8L744.8 596.1L763.1 598.3L781.4 600.2L799.7 601.9L818.0 603.6L836.3 605.1L854.6 606.5L872.9 607.8L891.2 609.0L909.5 610.0L927.8 610.8L946.1 611.6L964.4 612.3" fill="none" stroke="#17375E" stroke-width="4.0" stroke-linejoin="round"/><path d="M177.5 159.3l5.6 10.2h-11.3zM195.8 182.8l5.6 10.2h-11.3zM214.1 195.4l5.6 10.2h-11.3zM232.4 212.4l5.6 10.2h-11.3zM250.7 235.9l5.6 10.2h-11.3zM269.0 260.4l5.6 10.2h-11.3zM287.3 287.5l5.6 10.2h-11.3zM305.6 316.2l5.6 10.2h-11.3zM323.9 347.0l5.6 10.2h-11.3zM342.2 377.9l5.6 10.2h-11.3zM360.5 406.6l5.6 10.2h-11.3zM378.8 433.1l5.6 10.2h-11.3zM397.1 457.8l5.6 10.2h-11.3zM415.4 478.5l5.6 10.2h-11.3zM433.7 494.7l5.6 10.2h-11.3zM452.0 507.6l5.6 10.2h-11.3zM470.3 518.4l5.6 10.2h-11.3zM488.6 527.9l5.6 10.2h-11.3zM506.9 536.3l5.6 10.2h-11.3zM525.2 543.8l5.6 10.2h-11.3zM543.5 550.7l5.6 10.2h-11.3zM561.8 556.8l5.6 10.2h-11.3zM580.1 562.2l5.6 10.2h-11.3zM598.4 566.2l5.6 10.2h-11.3zM616.7 570.1l5.6 10.2h-11.3zM635.0 573.8l5.6 10.2h-11.3zM653.3 577.1l5.6 10.2h-11.3zM671.6 580.2l5.6 10.2h-11.3zM689.9 583.1l5.6 10.2h-11.3zM708.2 585.7l5.6 10.2h-11.3zM726.5 588.2l5.6 10.2h-11.3zM744.8 590.5l5.6 10.2h-11.3zM763.1 592.6l5.6 10.2h-11.3zM781.4 594.6l5.6 10.2h-11.3zM799.7 596.3l5.6 10.2h-11.3zM818.0 597.9l5.6 10.2h-11.3zM836.3 599.5l5.6 10.2h-11.3zM854.6 600.9l5.6 10.2h-11.3zM872.9 602.2l5.6 10.2h-11.3zM891.2 603.3l5.6 10.2h-11.3zM909.5 604.3l5.6 10.2h-11.3zM927.8 605.2l5.6 10.2h-11.3zM946.1 605.9l5.6 10.2h-11.3zM964.4 606.6l5.6 10.2h-11.3z" fill="#17375E"/>
<path d="M177.5 150.2L195.8 172.1L214.1 188.5L232.4 213.1L250.7 230.5L269.0 252.9L287.3 277.3L305.6 304.0L323.9 333.7L342.2 364.4L360.5 393.7L378.8 421.7L397.1 448.8L415.4 472.0L433.7 490.2L452.0 504.6L470.3 516.9L488.6 527.5L506.9 536.7L525.2 545.0L543.5 552.5L561.8 559.1L580.1 564.9L598.4 569.1L616.7 573.1L635.0 576.9L653.3 580.4L671.6 583.6L689.9 586.6L708.2 589.3L726.5 591.9L744.8 594.3L763.1 596.4L781.4 598.4L799.7 600.2L818.0 601.9L836.3 603.5L854.6 605.0L872.9 606.3L891.2 607.5L909.5 608.5L927.8 609.4L946.1 610.2L964.4 610.9" fill="none" stroke="#800000" stroke-width="4.0" stroke-linejoin="round"/><path d="M172.8 145.5l9.4 9.4M172.8 154.9l9.4 -9.4M191.1 167.4l9.4 9.4M191.1 176.8l9.4 -9.4M209.4 183.8l9.4 9.4M209.4 193.2l9.4 -9.4M227.7 208.4l9.4 9.4M227.7 217.8l9.4 -9.4M246.0 225.8l9.4 9.4M246.0 235.2l9.4 -9.4M264.3 248.2l9.4 9.4M264.3 257.6l9.4 -9.4M282.6 272.6l9.4 9.4M282.6 282.0l9.4 -9.4M300.9 299.3l9.4 9.4M300.9 308.7l9.4 -9.4M319.2 329.0l9.4 9.4M319.2 338.4l9.4 -9.4M337.5 359.7l9.4 9.4M337.5 369.1l9.4 -9.4M355.8 389.0l9.4 9.4M355.8 398.4l9.4 -9.4M374.1 417.0l9.4 9.4M374.1 426.4l9.4 -9.4M392.4 444.1l9.4 9.4M392.4 453.5l9.4 -9.4M410.7 467.3l9.4 9.4M410.7 476.7l9.4 -9.4M429.0 485.5l9.4 9.4M429.0 494.9l9.4 -9.4M447.3 499.9l9.4 9.4M447.3 509.3l9.4 -9.4M465.6 512.2l9.4 9.4M465.6 521.6l9.4 -9.4M483.9 522.8l9.4 9.4M483.9 532.2l9.4 -9.4M502.2 532.0l9.4 9.4M502.2 541.4l9.4 -9.4M520.5 540.3l9.4 9.4M520.5 549.7l9.4 -9.4M538.8 547.8l9.4 9.4M538.8 557.2l9.4 -9.4M557.1 554.4l9.4 9.4M557.1 563.8l9.4 -9.4M575.4 560.2l9.4 9.4M575.4 569.6l9.4 -9.4M593.7 564.4l9.4 9.4M593.7 573.8l9.4 -9.4M612.0 568.4l9.4 9.4M612.0 577.8l9.4 -9.4M630.3 572.2l9.4 9.4M630.3 581.6l9.4 -9.4M648.6 575.7l9.4 9.4M648.6 585.1l9.4 -9.4M666.9 578.9l9.4 9.4M666.9 588.3l9.4 -9.4M685.2 581.9l9.4 9.4M685.2 591.3l9.4 -9.4M703.5 584.6l9.4 9.4M703.5 594.0l9.4 -9.4M721.8 587.2l9.4 9.4M721.8 596.6l9.4 -9.4M740.1 589.6l9.4 9.4M740.1 599.0l9.4 -9.4M758.4 591.7l9.4 9.4M758.4 601.1l9.4 -9.4M776.7 593.7l9.4 9.4M776.7 603.1l9.4 -9.4M795.0 595.5l9.4 9.4M795.0 604.9l9.4 -9.4M813.3 597.2l9.4 9.4M813.3 606.6l9.4 -9.4M831.6 598.8l9.4 9.4M831.6 608.2l9.4 -9.4M849.9 600.3l9.4 9.4M849.9 609.7l9.4 -9.4M868.2 601.6l9.4 9.4M868.2 611.0l9.4 -9.4M886.5 602.8l9.4 9.4M886.5 612.2l9.4 -9.4M904.8 603.8l9.4 9.4M904.8 613.2l9.4 -9.4M923.1 604.7l9.4 9.4M923.1 614.1l9.4 -9.4M941.4 605.5l9.4 9.4M941.4 614.9l9.4 -9.4M959.7 606.2l9.4 9.4M959.7 615.6l9.4 -9.4" fill="none" stroke="#800000" stroke-width="1.3"/>
<path d="M177.5 146.9L195.8 164.4L214.1 178.6L232.4 200.0L250.7 220.7L269.0 241.8L287.3 264.2L305.6 289.4L323.9 317.6L342.2 347.1L360.5 376.4L378.8 405.7L397.1 434.9L415.4 460.3L433.7 480.5L452.0 496.4L470.3 510.1L488.6 521.4L506.9 531.6L525.2 540.4L543.5 548.5L561.8 555.5L580.1 561.7L598.4 566.1L616.7 570.3L635.0 574.2L653.3 577.8L671.6 581.1L689.9 584.2L708.2 587.0L726.5 589.7L744.8 592.2L763.1 594.5L781.4 596.5L799.7 598.4L818.0 600.2L836.3 601.8L854.6 603.3L872.9 604.7L891.2 605.9L909.5 607.0L927.8 607.9L946.1 608.7L964.4 609.4" fill="none" stroke="#008000" stroke-width="4.0" stroke-linejoin="round"/><path d="M177.5 141.0l5.9 5.9l-5.9 5.9l-5.9 -5.9zM195.8 158.5l5.9 5.9l-5.9 5.9l-5.9 -5.9zM214.1 172.8l5.9 5.9l-5.9 5.9l-5.9 -5.9zM232.4 194.1l5.9 5.9l-5.9 5.9l-5.9 -5.9zM250.7 214.8l5.9 5.9l-5.9 5.9l-5.9 -5.9zM269.0 235.9l5.9 5.9l-5.9 5.9l-5.9 -5.9zM287.3 258.3l5.9 5.9l-5.9 5.9l-5.9 -5.9zM305.6 283.5l5.9 5.9l-5.9 5.9l-5.9 -5.9zM323.9 311.7l5.9 5.9l-5.9 5.9l-5.9 -5.9zM342.2 341.2l5.9 5.9l-5.9 5.9l-5.9 -5.9zM360.5 370.5l5.9 5.9l-5.9 5.9l-5.9 -5.9zM378.8 399.8l5.9 5.9l-5.9 5.9l-5.9 -5.9zM397.1 429.1l5.9 5.9l-5.9 5.9l-5.9 -5.9zM415.4 454.4l5.9 5.9l-5.9 5.9l-5.9 -5.9zM433.7 474.6l5.9 5.9l-5.9 5.9l-5.9 -5.9zM452.0 490.5l5.9 5.9l-5.9 5.9l-5.9 -5.9zM470.3 504.2l5.9 5.9l-5.9 5.9l-5.9 -5.9zM488.6 515.6l5.9 5.9l-5.9 5.9l-5.9 -5.9zM506.9 525.8l5.9 5.9l-5.9 5.9l-5.9 -5.9zM525.2 534.6l5.9 5.9l-5.9 5.9l-5.9 -5.9zM543.5 542.7l5.9 5.9l-5.9 5.9l-5.9 -5.9zM561.8 549.6l5.9 5.9l-5.9 5.9l-5.9 -5.9zM580.1 555.8l5.9 5.9l-5.9 5.9l-5.9 -5.9zM598.4 560.2l5.9 5.9l-5.9 5.9l-5.9 -5.9zM616.7 564.4l5.9 5.9l-5.9 5.9l-5.9 -5.9zM635.0 568.4l5.9 5.9l-5.9 5.9l-5.9 -5.9zM653.3 572.0l5.9 5.9l-5.9 5.9l-5.9 -5.9zM671.6 575.3l5.9 5.9l-5.9 5.9l-5.9 -5.9zM689.9 578.3l5.9 5.9l-5.9 5.9l-5.9 -5.9zM708.2 581.2l5.9 5.9l-5.9 5.9l-5.9 -5.9zM726.5 583.8l5.9 5.9l-5.9 5.9l-5.9 -5.9zM744.8 586.3l5.9 5.9l-5.9 5.9l-5.9 -5.9zM763.1 588.6l5.9 5.9l-5.9 5.9l-5.9 -5.9zM781.4 590.7l5.9 5.9l-5.9 5.9l-5.9 -5.9zM799.7 592.5l5.9 5.9l-5.9 5.9l-5.9 -5.9zM818.0 594.3l5.9 5.9l-5.9 5.9l-5.9 -5.9zM836.3 595.9l5.9 5.9l-5.9 5.9l-5.9 -5.9zM854.6 597.4l5.9 5.9l-5.9 5.9l-5.9 -5.9zM872.9 598.8l5.9 5.9l-5.9 5.9l-5.9 -5.9zM891.2 600.0l5.9 5.9l-5.9 5.9l-5.9 -5.9zM909.5 601.1l5.9 5.9l-5.9 5.9l-5.9 -5.9zM927.8 602.0l5.9 5.9l-5.9 5.9l-5.9 -5.9zM946.1 602.8l5.9 5.9l-5.9 5.9l-5.9 -5.9zM964.4 603.6l5.9 5.9l-5.9 5.9l-5.9 -5.9z" fill="#008000"/>
<path d="M177.5 125.6L195.8 150.2L214.1 172.1L232.4 191.2L250.7 211.9L269.0 231.6L287.3 251.7L305.6 275.8L323.9 302.6L342.2 331.3L360.5 361.0L378.8 391.8L397.1 422.5L415.4 449.2L433.7 471.9L452.0 488.5L470.3 504.0L488.6 515.1L506.9 526.5L525.2 535.0L543.5 543.8L561.8 551.0L580.1 557.4L598.4 562.1L616.7 566.4L635.0 570.7L653.3 574.2L671.6 577.6L689.9 580.7L708.2 583.8L726.5 586.7L744.8 589.4L763.1 591.8L781.4 594.0L799.7 596.0L818.0 597.9L836.3 599.6L854.6 601.2L872.9 602.7L891.2 604.0L909.5 605.1L927.8 606.1L946.1 607.0L964.4 607.8" fill="none" stroke="#000080" stroke-width="4.0" stroke-linejoin="round"/><path d="M172.8 125.6a4.7 4.7 0 1 0 9.4 0a4.7 4.7 0 1 0 -9.4 0zM191.1 150.2a4.7 4.7 0 1 0 9.4 0a4.7 4.7 0 1 0 -9.4 0zM209.4 172.1a4.7 4.7 0 1 0 9.4 0a4.7 4.7 0 1 0 -9.4 0zM227.7 191.2a4.7 4.7 0 1 0 9.4 0a4.7 4.7 0 1 0 -9.4 0zM246.0 211.9a4.7 4.7 0 1 0 9.4 0a4.7 4.7 0 1 0 -9.4 0zM264.3 231.6a4.7 4.7 0 1 0 9.4 0a4.7 4.7 0 1 0 -9.4 0zM282.6 251.7a4.7 4.7 0 1 0 9.4 0a4.7 4.7 0 1 0 -9.4 0zM300.9 275.8a4.7 4.7 0 1 0 9.4 0a4.7 4.7 0 1 0 -9.4 0zM319.2 302.6a4.7 4.7 0 1 0 9.4 0a4.7 4.7 0 1 0 -9.4 0zM337.5 331.3a4.7 4.7 0 1 0 9.4 0a4.7 4.7 0 1 0 -9.4 0zM355.8 361.0a4.7 4.7 0 1 0 9.4 0a4.7 4.7 0 1 0 -9.4 0zM374.1 391.8a4.7 4.7 0 1 0 9.4 0a4.7 4.7 0 1 0 -9.4 0zM392.4 422.5a4.7 4.7 0 1 0 9.4 0a4.7 4.7 0 1 0 -9.4 0zM410.7 449.2a4.7 4.7 0 1 0 9.4 0a4.7 4.7 0 1 0 -9.4 0zM429.0 471.9a4.7 4.7 0 1 0 9.4 0a4.7 4.7 0 1 0 -9.4 0zM447.3 488.5a4.7 4.7 0 1 0 9.4 0a4.7 4.7 0 1 0 -9.4 0zM465.6 504.0a4.7 4.7 0 1 0 9.4 0a4.7 4.7 0 1 0 -9.4 0zM483.9 515.1a4.7 4.7 0 1 0 9.4 0a4.7 4.7 0 1 0 -9.4 0zM502.2 526.5a4.7 4.7 0 1 0 9.4 0a4.7 4.7 0 1 0 -9.4 0zM520.5 535.0a4.7 4.7 0 1 0 9.4 0a4.7 4.7 0 1 0 -9.4 0zM538.8 543.8a4.7 4.7 0 1 0 9.4 0a4.7 4.7 0 1 0 -9.4 0zM557.1 551.0a4.7 4.7 0 1 0 9.4 0a4.7 4.7 0 1 0 -9.4 0zM575.4 557.4a4.7 4.7 0 1 0 9.4 0a4.7 4.7 0 1 0 -9.4 0zM593.7 562.1a4.7 4.7 0 1 0 9.4 0a4.7 4.7 0 1 0 -9.4 0zM612.0 566.4a4.7 4.7 0 1 0 9.4 0a4.7 4.7 0 1 0 -9.4 0zM630.3 570.7a4.7 4.7 0 1 0 9.4 0a4.7 4.7 0 1 0 -9.4 0zM648.6 574.2a4.7 4.7 0 1 0 9.4 0a4.7 4.7 0 1 0 -9.4 0zM666.9 577.6a4.7 4.7 0 1 0 9.4 0a4.7 4.7 0 1 0 -9.4 0zM685.2 580.7a4.7 4.7 0 1 0 9.4 0a4.7 4.7 0 1 0 -9.4 0zM703.5 583.8a4.7 4.7 0 1 0 9.4 0a4.7 4.7 0 1 0 -9.4 0zM721.8 586.7a4.7 4.7 0 1 0 9.4 0a4.7 4.7 0 1 0 -9.4 0zM740.1 589.4a4.7 4.7 0 1 0 9.4 0a4.7 4.7 0 1 0 -9.4 0zM758.4 591.8a4.7 4.7 0 1 0 9.4 0a4.7 4.7 0 1 0 -9.4 0zM776.7 594.0a4.7 4.7 0 1 0 9.4 0a4.7 4.7 0 1 0 -9.4 0zM795.0 596.0a4.7 4.7 0 1 0 9.4 0a4.7 4.7 0 1 0 -9.4 0zM813.3 597.9a4.7 4.7 0 1 0 9.4 0a4.7 4.7 0 1 0 -9.4 0zM831.6 599.6a4.7 4.7 0 1 0 9.4 0a4.7 4.7 0 1 0 -9.4 0zM849.9 601.2a4.7 4.7 0 1 0 9.4 0a4.7 4.7 0 1 0 -9.4 0zM868.2 602.7a4.7 4.7 0 1 0 9.4 0a4.7 4.7 0 1 0 -9.4 0zM886.5 604.0a4.7 4.7 0 1 0 9.4 0a4.7 4.7 0 1 0 -9.4 0zM904.8 605.1a4.7 4.7 0 1 0 9.4 0a4.7 4.7 0 1 0 -9.4 0zM923.1 606.1a4.7 4.7 0 1 0 9.4 0a4.7 4.7 0 1 0 -9.4 0zM941.4 607.0a4.7 4.7 0 1 0 9.4 0a4.7 4.7 0 1 0 -9.4 0zM959.7 607.8a4.7 4.7 0 1 0 9.4 0a4.7 4.7 0 1 0 -9.4 0z" fill="#000080"/>
<path d="M177.5 115.7L195.8 139.8L214.1 168.2L232.4 186.3L250.7 204.4L269.0 221.9L287.3 238.3L305.6 261.3L323.9 287.5L342.2 316.5L360.5 347.7L378.8 380.5L397.1 411.7L415.4 438.5L433.7 464.3L452.0 480.7L470.3 498.7L488.6 508.0L506.9 521.2L525.2 528.3L543.5 538.1L561.8 545.2L580.1 551.8L598.4 556.7L616.7 561.1L635.0 566.0L653.3 569.3L671.6 572.6L689.9 575.9L708.2 579.3L726.5 582.5L744.8 585.5L763.1 588.2L781.4 590.7L799.7 592.9L818.0 595.0L836.3 596.9L854.6 598.6L872.9 600.2L891.2 601.6L909.5 602.9L927.8 604.0L946.1 605.0L964.4 605.8" fill="none" stroke="#808000" stroke-width="4.0" stroke-linejoin="round"/><path d="M172.8 111.0h9.4v9.4h-9.4zM191.1 135.1h9.4v9.4h-9.4zM209.4 163.5h9.4v9.4h-9.4zM227.7 181.6h9.4v9.4h-9.4zM246.0 199.7h9.4v9.4h-9.4zM264.3 217.2h9.4v9.4h-9.4zM282.6 233.6h9.4v9.4h-9.4zM300.9 256.6h9.4v9.4h-9.4zM319.2 282.8h9.4v9.4h-9.4zM337.5 311.8h9.4v9.4h-9.4zM355.8 343.0h9.4v9.4h-9.4zM374.1 375.8h9.4v9.4h-9.4zM392.4 407.0h9.4v9.4h-9.4zM410.7 433.8h9.4v9.4h-9.4zM429.0 459.6h9.4v9.4h-9.4zM447.3 476.0h9.4v9.4h-9.4zM465.6 494.0h9.4v9.4h-9.4zM483.9 503.3h9.4v9.4h-9.4zM502.2 516.5h9.4v9.4h-9.4zM520.5 523.6h9.4v9.4h-9.4zM538.8 533.4h9.4v9.4h-9.4zM557.1 540.5h9.4v9.4h-9.4zM575.4 547.1h9.4v9.4h-9.4zM593.7 552.0h9.4v9.4h-9.4zM612.0 556.4h9.4v9.4h-9.4zM630.3 561.3h9.4v9.4h-9.4zM648.6 564.6h9.4v9.4h-9.4zM666.9 567.9h9.4v9.4h-9.4zM685.2 571.2h9.4v9.4h-9.4zM703.5 574.6h9.4v9.4h-9.4zM721.8 577.8h9.4v9.4h-9.4zM740.1 580.8h9.4v9.4h-9.4zM758.4 583.5h9.4v9.4h-9.4zM776.7 586.0h9.4v9.4h-9.4zM795.0 588.2h9.4v9.4h-9.4zM813.3 590.3h9.4v9.4h-9.4zM831.6 592.2h9.4v9.4h-9.4zM849.9 593.9h9.4v9.4h-9.4zM868.2 595.5h9.4v9.4h-9.4zM886.5 596.9h9.4v9.4h-9.4zM904.8 598.2h9.4v9.4h-9.4zM923.1 599.3h9.4v9.4h-9.4zM941.4 600.3h9.4v9.4h-9.4zM959.7 601.1h9.4v9.4h-9.4z" fill="#808000"/>
<!-- arrow a -->
<path d="M361 629.8L488 444.5" stroke="#000" stroke-width="3.3"/>
<path d="M495.6 433.6L476.5 446L491 456.5Z" fill="#000" stroke="#000" stroke-width="1" stroke-linejoin="round"/>
<text x="516.5" y="466.5" font-size="42">240 <tspan dy="-14" font-size="27">o</tspan><tspan dy="14">C</tspan></text>
<text x="360.3" y="673" font-size="41">30 <tspan dy="-14" font-size="27">o</tspan><tspan dy="14">C</tspan></text>
<!-- inset -->
<path d="M538 15.6H524.7V278.4H1000.8V265" fill="none" stroke="#404040" stroke-width="1.8"/>
<path d="M524.7 147.3h13M619.6 278.4v-13M714.4 278.4v-13M809.2 278.4v-13M904 278.4v-13" stroke="#404040" stroke-width="1.8"/>
<path d="M525.0 224.2C540.8 201.6 587.9 107.3 619.6 88.7C651.3 70.1 683.2 94.9 715.0 112.8C746.8 130.7 778.4 180.8 810.2 196.0C842.0 211.2 874.3 227.1 906.0 203.8C937.7 180.5 984.8 81.0 1000.6 56.4" fill="none" stroke="#002060" stroke-width="7" stroke-linecap="round"/>
<rect x="514.2" y="213.4" width="21.5" height="21.5" fill="#C00000"/><rect x="608.9" y="78.0" width="21.5" height="21.5" fill="#C00000"/><rect x="704.2" y="102.0" width="21.5" height="21.5" fill="#C00000"/><rect x="799.5" y="185.2" width="21.5" height="21.5" fill="#C00000"/><rect x="895.2" y="193.1" width="21.5" height="21.5" fill="#C00000"/><rect x="989.9" y="45.6" width="21.5" height="21.5" fill="#C00000"/>
<g font-size="41" fill="#000" text-anchor="end">
<text x="489.3" y="28">26.5</text><text x="489.3" y="160">25.0</text><text x="489.3" y="291">23.5</text>
</g>
<g font-size="39" fill="#000" text-anchor="middle">
<text x="525" y="339">0.0</text><text x="619.8" y="339">0.2</text><text x="714.6" y="339">0.4</text><text x="809.4" y="339">0.6</text><text x="904.2" y="339">0.8</text><text x="999.7" y="339">1.0</text>
</g>
<text x="777" y="372" font-size="41.5" text-anchor="middle">Conc.CuO(mol%)</text>
<g transform="translate(394.5,214.5) rotate(-90)" font-size="42"><text transform="scale(1.32,1)" x="-0.5" y="0">ε</text><text x="17.5" y="-5" font-size="22">'</text><text x="34.5" y="0">(<tspan font-style="italic">ω</tspan>)</text></g>
<!-- panel b axes -->
<path d="M1122.3 19V728.6H1815" fill="none" stroke="#4a4a4a" stroke-width="2.2" stroke-linejoin="round"/>
<path d="M1122.3 136.1h13M1122.3 433.1h13M1277.8 728.6v-12M1433.3 728.6v-12M1588.8 728.6v-12M1744.3 728.6v-12" stroke="#4a4a4a" stroke-width="2.2"/>
<g font-size="39" fill="#000" text-anchor="end">
<text x="1091" y="148.8">33</text><text x="1091" y="445">28</text><text x="1091.2" y="741">23</text>
</g>
<g font-size="39" fill="#000" text-anchor="middle">
<text x="1121.5" y="786.5">20</text><text x="1277.8" y="786.5">70</text><text x="1433.3" y="786.5">120</text><text x="1588.8" y="786.5">170</text><text x="1743" y="786.5">220</text>
</g>
<text x="1463.4" y="855" font-size="40" text-anchor="middle" textLength="260" lengthAdjust="spacingAndGlyphs">Temperature (<tspan dy="-13" font-size="26">o</tspan><tspan dy="13">C</tspan>)</text>
<text x="1186" y="47.6" font-size="38" text-anchor="middle">(b)</text>
<text transform="translate(1030,466) rotate(-90)" font-size="50" font-weight="bold" text-anchor="middle">ε<tspan font-family="Liberation Sans, sans-serif" font-size="46">'</tspan></text>
<path d="M1153.6 668.7L1169.2 667.4L1184.7 666.1L1200.2 664.8L1215.8 663.5L1231.3 662.2L1246.9 660.9L1262.5 659.6L1278.0 658.3L1293.5 657.0L1309.1 655.7L1324.7 654.4L1340.2 653.1L1355.8 651.8L1371.3 650.5L1386.8 649.2L1402.4 647.9L1418.0 646.6L1433.5 645.3L1449.0 644.0L1464.6 642.7L1480.2 641.4L1495.7 640.1L1511.2 638.8L1526.8 637.4L1542.3 636.1L1557.9 634.8L1573.5 633.5L1589.0 632.1L1604.5 630.8L1620.1 629.4L1635.7 628.0L1651.2 626.6L1666.8 625.3L1682.3 623.9L1697.8 622.5L1713.4 621.0L1728.9 619.6L1744.5 618.1L1760.0 616.6L1775.6 615.0L1791.2 613.2L1806.7 611.1" fill="none" stroke="#C00000" stroke-width="4.0" stroke-linejoin="round"/><path d="M1153.6 663.0l5.8 10.4h-11.5zM1169.2 661.7l5.8 10.4h-11.5zM1184.7 660.4l5.8 10.4h-11.5zM1200.2 659.1l5.8 10.4h-11.5zM1215.8 657.8l5.8 10.4h-11.5zM1231.3 656.5l5.8 10.4h-11.5zM1246.9 655.2l5.8 10.4h-11.5zM1262.5 653.9l5.8 10.4h-11.5zM1278.0 652.6l5.8 10.4h-11.5zM1293.5 651.3l5.8 10.4h-11.5zM1309.1 650.0l5.8 10.4h-11.5zM1324.7 648.7l5.8 10.4h-11.5zM1340.2 647.4l5.8 10.4h-11.5zM1355.8 646.1l5.8 10.4h-11.5zM1371.3 644.8l5.8 10.4h-11.5zM1386.8 643.5l5.8 10.4h-11.5zM1402.4 642.2l5.8 10.4h-11.5zM1418.0 640.9l5.8 10.4h-11.5zM1433.5 639.6l5.8 10.4h-11.5zM1449.0 638.3l5.8 10.4h-11.5zM1464.6 636.9l5.8 10.4h-11.5zM1480.2 635.6l5.8 10.4h-11.5zM1495.7 634.3l5.8 10.4h-11.5zM1511.2 633.0l5.8 10.4h-11.5zM1526.8 631.7l5.8 10.4h-11.5zM1542.3 630.4l5.8 10.4h-11.5zM1557.9 629.0l5.8 10.4h-11.5zM1573.5 627.7l5.8 10.4h-11.5zM1589.0 626.4l5.8 10.4h-11.5zM1604.5 625.0l5.8 10.4h-11.5zM1620.1 623.6l5.8 10.4h-11.5zM1635.7 622.3l5.8 10.4h-11.5zM1651.2 620.9l5.8 10.4h-11.5zM1666.8 619.5l5.8 10.4h-11.5zM1682.3 618.1l5.8 10.4h-11.5zM1697.8 616.7l5.8 10.4h-11.5zM1713.4 615.3l5.8 10.4h-11.5zM1728.9 613.8l5.8 10.4h-11.5zM1744.5 612.3l5.8 10.4h-11.5zM1760.0 610.8l5.8 10.4h-11.5zM1775.6 609.2l5.8 10.4h-11.5zM1791.2 607.4l5.8 10.4h-11.5zM1806.7 605.3l5.8 10.4h-11.5z" fill="#C00000"/>
<path d="M1153.6 668.1L1169.2 666.8L1184.7 665.5L1200.2 664.2L1215.8 662.9L1231.3 661.6L1246.9 660.3L1262.5 659.0L1278.0 657.7L1293.5 656.4L1309.1 655.1L1324.7 653.8L1340.2 652.5L1355.8 651.2L1371.3 649.9L1386.8 648.6L1402.4 647.3L1418.0 646.0L1433.5 644.7L1449.0 643.4L1464.6 642.1L1480.2 640.8L1495.7 639.5L1511.2 638.2L1526.8 636.8L1542.3 635.5L1557.9 634.2L1573.5 632.8L1589.0 631.5L1604.5 630.1L1620.1 628.8L1635.7 627.4L1651.2 626.0L1666.8 624.6L1682.3 623.2L1697.8 621.8L1713.4 620.3L1728.9 618.8L1744.5 617.3L1760.0 615.8L1775.6 614.2L1791.2 612.3L1806.7 610.1" fill="none" stroke="#FF00FF" stroke-width="4.0" stroke-linejoin="round"/><path d="M1148.8 663.3h9.6v9.6h-9.6zM1164.4 662.0h9.6v9.6h-9.6zM1179.9 660.7h9.6v9.6h-9.6zM1195.5 659.4h9.6v9.6h-9.6zM1211.0 658.1h9.6v9.6h-9.6zM1226.5 656.8h9.6v9.6h-9.6zM1242.1 655.5h9.6v9.6h-9.6zM1257.7 654.2h9.6v9.6h-9.6zM1273.2 652.9h9.6v9.6h-9.6zM1288.8 651.6h9.6v9.6h-9.6zM1304.3 650.3h9.6v9.6h-9.6zM1319.9 649.0h9.6v9.6h-9.6zM1335.4 647.7h9.6v9.6h-9.6zM1351.0 646.4h9.6v9.6h-9.6zM1366.5 645.1h9.6v9.6h-9.6zM1382.0 643.8h9.6v9.6h-9.6zM1397.6 642.5h9.6v9.6h-9.6zM1413.2 641.2h9.6v9.6h-9.6zM1428.7 639.9h9.6v9.6h-9.6zM1444.2 638.6h9.6v9.6h-9.6zM1459.8 637.3h9.6v9.6h-9.6zM1475.4 636.0h9.6v9.6h-9.6zM1490.9 634.7h9.6v9.6h-9.6zM1506.5 633.4h9.6v9.6h-9.6zM1522.0 632.0h9.6v9.6h-9.6zM1537.5 630.7h9.6v9.6h-9.6zM1553.1 629.4h9.6v9.6h-9.6zM1568.7 628.0h9.6v9.6h-9.6zM1584.2 626.7h9.6v9.6h-9.6zM1599.8 625.3h9.6v9.6h-9.6zM1615.3 624.0h9.6v9.6h-9.6zM1630.9 622.6h9.6v9.6h-9.6zM1646.4 621.2h9.6v9.6h-9.6zM1662.0 619.8h9.6v9.6h-9.6zM1677.5 618.4h9.6v9.6h-9.6zM1693.0 617.0h9.6v9.6h-9.6zM1708.6 615.5h9.6v9.6h-9.6zM1724.1 614.0h9.6v9.6h-9.6zM1739.7 612.5h9.6v9.6h-9.6zM1755.2 611.0h9.6v9.6h-9.6zM1770.8 609.4h9.6v9.6h-9.6zM1786.4 607.5h9.6v9.6h-9.6zM1801.9 605.3h9.6v9.6h-9.6z" fill="#FF00FF"/>
<path d="M1153.6 667.4L1169.2 666.2L1184.7 664.9L1200.2 663.6L1215.8 662.3L1231.3 661.0L1246.9 659.7L1262.5 658.4L1278.0 657.1L1293.5 655.8L1309.1 654.5L1324.7 653.2L1340.2 651.9L1355.8 650.6L1371.3 649.3L1386.8 648.0L1402.4 646.7L1418.0 645.3L1433.5 644.0L1449.0 642.7L1464.6 641.4L1480.2 640.1L1495.7 638.8L1511.2 637.5L1526.8 636.1L1542.3 634.8L1557.9 633.5L1573.5 632.1L1589.0 630.8L1604.5 629.4L1620.1 628.0L1635.7 626.6L1651.2 625.2L1666.8 623.8L1682.3 622.4L1697.8 621.0L1713.4 619.5L1728.9 618.0L1744.5 616.5L1760.0 614.9L1775.6 613.3L1791.2 611.4L1806.7 609.1" fill="none" stroke="#0000FF" stroke-width="4.0" stroke-linejoin="round"/><path d="M1148.8 667.4a4.8 4.8 0 1 0 9.6 0a4.8 4.8 0 1 0 -9.6 0zM1164.4 666.2a4.8 4.8 0 1 0 9.6 0a4.8 4.8 0 1 0 -9.6 0zM1179.9 664.9a4.8 4.8 0 1 0 9.6 0a4.8 4.8 0 1 0 -9.6 0zM1195.5 663.6a4.8 4.8 0 1 0 9.6 0a4.8 4.8 0 1 0 -9.6 0zM1211.0 662.3a4.8 4.8 0 1 0 9.6 0a4.8 4.8 0 1 0 -9.6 0zM1226.5 661.0a4.8 4.8 0 1 0 9.6 0a4.8 4.8 0 1 0 -9.6 0zM1242.1 659.7a4.8 4.8 0 1 0 9.6 0a4.8 4.8 0 1 0 -9.6 0zM1257.7 658.4a4.8 4.8 0 1 0 9.6 0a4.8 4.8 0 1 0 -9.6 0zM1273.2 657.1a4.8 4.8 0 1 0 9.6 0a4.8 4.8 0 1 0 -9.6 0zM1288.8 655.8a4.8 4.8 0 1 0 9.6 0a4.8 4.8 0 1 0 -9.6 0zM1304.3 654.5a4.8 4.8 0 1 0 9.6 0a4.8 4.8 0 1 0 -9.6 0zM1319.9 653.2a4.8 4.8 0 1 0 9.6 0a4.8 4.8 0 1 0 -9.6 0zM1335.4 651.9a4.8 4.8 0 1 0 9.6 0a4.8 4.8 0 1 0 -9.6 0zM1351.0 650.6a4.8 4.8 0 1 0 9.6 0a4.8 4.8 0 1 0 -9.6 0zM1366.5 649.3a4.8 4.8 0 1 0 9.6 0a4.8 4.8 0 1 0 -9.6 0zM1382.0 648.0a4.8 4.8 0 1 0 9.6 0a4.8 4.8 0 1 0 -9.6 0zM1397.6 646.7a4.8 4.8 0 1 0 9.6 0a4.8 4.8 0 1 0 -9.6 0zM1413.2 645.3a4.8 4.8 0 1 0 9.6 0a4.8 4.8 0 1 0 -9.6 0zM1428.7 644.0a4.8 4.8 0 1 0 9.6 0a4.8 4.8 0 1 0 -9.6 0zM1444.2 642.7a4.8 4.8 0 1 0 9.6 0a4.8 4.8 0 1 0 -9.6 0zM1459.8 641.4a4.8 4.8 0 1 0 9.6 0a4.8 4.8 0 1 0 -9.6 0zM1475.4 640.1a4.8 4.8 0 1 0 9.6 0a4.8 4.8 0 1 0 -9.6 0zM1490.9 638.8a4.8 4.8 0 1 0 9.6 0a4.8 4.8 0 1 0 -9.6 0zM1506.5 637.5a4.8 4.8 0 1 0 9.6 0a4.8 4.8 0 1 0 -9.6 0zM1522.0 636.1a4.8 4.8 0 1 0 9.6 0a4.8 4.8 0 1 0 -9.6 0zM1537.5 634.8a4.8 4.8 0 1 0 9.6 0a4.8 4.8 0 1 0 -9.6 0zM1553.1 633.5a4.8 4.8 0 1 0 9.6 0a4.8 4.8 0 1 0 -9.6 0zM1568.7 632.1a4.8 4.8 0 1 0 9.6 0a4.8 4.8 0 1 0 -9.6 0zM1584.2 630.8a4.8 4.8 0 1 0 9.6 0a4.8 4.8 0 1 0 -9.6 0zM1599.8 629.4a4.8 4.8 0 1 0 9.6 0a4.8 4.8 0 1 0 -9.6 0zM1615.3 628.0a4.8 4.8 0 1 0 9.6 0a4.8 4.8 0 1 0 -9.6 0zM1630.9 626.6a4.8 4.8 0 1 0 9.6 0a4.8 4.8 0 1 0 -9.6 0zM1646.4 625.2a4.8 4.8 0 1 0 9.6 0a4.8 4.8 0 1 0 -9.6 0zM1662.0 623.8a4.8 4.8 0 1 0 9.6 0a4.8 4.8 0 1 0 -9.6 0zM1677.5 622.4a4.8 4.8 0 1 0 9.6 0a4.8 4.8 0 1 0 -9.6 0zM1693.0 621.0a4.8 4.8 0 1 0 9.6 0a4.8 4.8 0 1 0 -9.6 0zM1708.6 619.5a4.8 4.8 0 1 0 9.6 0a4.8 4.8 0 1 0 -9.6 0zM1724.1 618.0a4.8 4.8 0 1 0 9.6 0a4.8 4.8 0 1 0 -9.6 0zM1739.7 616.5a4.8 4.8 0 1 0 9.6 0a4.8 4.8 0 1 0 -9.6 0zM1755.2 614.9a4.8 4.8 0 1 0 9.6 0a4.8 4.8 0 1 0 -9.6 0zM1770.8 613.3a4.8 4.8 0 1 0 9.6 0a4.8 4.8 0 1 0 -9.6 0zM1786.4 611.4a4.8 4.8 0 1 0 9.6 0a4.8 4.8 0 1 0 -9.6 0zM1801.9 609.1a4.8 4.8 0 1 0 9.6 0a4.8 4.8 0 1 0 -9.6 0z" fill="#0000FF"/>
<path d="M1153.6 666.7L1169.2 665.4L1184.7 664.1L1200.2 662.8L1215.8 661.5L1231.3 660.2L1246.9 658.9L1262.5 657.6L1278.0 656.3L1293.5 655.0L1309.1 653.7L1324.7 652.4L1340.2 651.1L1355.8 649.8L1371.3 648.5L1386.8 647.2L1402.4 645.9L1418.0 644.6L1433.5 643.3L1449.0 642.0L1464.6 640.7L1480.2 639.3L1495.7 638.0L1511.2 636.7L1526.8 635.4L1542.3 634.0L1557.9 632.7L1573.5 631.4L1589.0 630.0L1604.5 628.6L1620.1 627.2L1635.7 625.8L1651.2 624.4L1666.8 623.0L1682.3 621.6L1697.8 620.1L1713.4 618.6L1728.9 617.1L1744.5 615.5L1760.0 614.0L1775.6 612.3L1791.2 610.3L1806.7 607.9" fill="none" stroke="#993366" stroke-width="4.0" stroke-linejoin="round"/><path d="M1148.8 661.9l9.6 9.6M1148.8 671.5l9.6 -9.6M1164.4 660.6l9.6 9.6M1164.4 670.2l9.6 -9.6M1179.9 659.3l9.6 9.6M1179.9 668.9l9.6 -9.6M1195.5 658.0l9.6 9.6M1195.5 667.6l9.6 -9.6M1211.0 656.7l9.6 9.6M1211.0 666.3l9.6 -9.6M1226.5 655.4l9.6 9.6M1226.5 665.0l9.6 -9.6M1242.1 654.1l9.6 9.6M1242.1 663.7l9.6 -9.6M1257.7 652.8l9.6 9.6M1257.7 662.4l9.6 -9.6M1273.2 651.5l9.6 9.6M1273.2 661.1l9.6 -9.6M1288.8 650.2l9.6 9.6M1288.8 659.8l9.6 -9.6M1304.3 648.9l9.6 9.6M1304.3 658.5l9.6 -9.6M1319.9 647.6l9.6 9.6M1319.9 657.2l9.6 -9.6M1335.4 646.3l9.6 9.6M1335.4 655.9l9.6 -9.6M1351.0 645.0l9.6 9.6M1351.0 654.6l9.6 -9.6M1366.5 643.7l9.6 9.6M1366.5 653.3l9.6 -9.6M1382.0 642.4l9.6 9.6M1382.0 652.0l9.6 -9.6M1397.6 641.1l9.6 9.6M1397.6 650.7l9.6 -9.6M1413.2 639.8l9.6 9.6M1413.2 649.4l9.6 -9.6M1428.7 638.5l9.6 9.6M1428.7 648.1l9.6 -9.6M1444.2 637.2l9.6 9.6M1444.2 646.8l9.6 -9.6M1459.8 635.9l9.6 9.6M1459.8 645.5l9.6 -9.6M1475.4 634.5l9.6 9.6M1475.4 644.1l9.6 -9.6M1490.9 633.2l9.6 9.6M1490.9 642.8l9.6 -9.6M1506.5 631.9l9.6 9.6M1506.5 641.5l9.6 -9.6M1522.0 630.6l9.6 9.6M1522.0 640.2l9.6 -9.6M1537.5 629.2l9.6 9.6M1537.5 638.8l9.6 -9.6M1553.1 627.9l9.6 9.6M1553.1 637.5l9.6 -9.6M1568.7 626.6l9.6 9.6M1568.7 636.2l9.6 -9.6M1584.2 625.2l9.6 9.6M1584.2 634.8l9.6 -9.6M1599.8 623.8l9.6 9.6M1599.8 633.4l9.6 -9.6M1615.3 622.4l9.6 9.6M1615.3 632.0l9.6 -9.6M1630.9 621.0l9.6 9.6M1630.9 630.6l9.6 -9.6M1646.4 619.6l9.6 9.6M1646.4 629.2l9.6 -9.6M1662.0 618.2l9.6 9.6M1662.0 627.8l9.6 -9.6M1677.5 616.8l9.6 9.6M1677.5 626.4l9.6 -9.6M1693.0 615.3l9.6 9.6M1693.0 624.9l9.6 -9.6M1708.6 613.8l9.6 9.6M1708.6 623.4l9.6 -9.6M1724.1 612.3l9.6 9.6M1724.1 621.9l9.6 -9.6M1739.7 610.7l9.6 9.6M1739.7 620.3l9.6 -9.6M1755.2 609.2l9.6 9.6M1755.2 618.8l9.6 -9.6M1770.8 607.5l9.6 9.6M1770.8 617.1l9.6 -9.6M1786.4 605.5l9.6 9.6M1786.4 615.1l9.6 -9.6M1801.9 603.1l9.6 9.6M1801.9 612.7l9.6 -9.6" fill="none" stroke="#993366" stroke-width="1.3"/>
<path d="M1153.6 665.8L1169.2 664.5L1184.7 663.2L1200.2 661.9L1215.8 660.6L1231.3 659.3L1246.9 658.0L1262.5 656.7L1278.0 655.4L1293.5 654.1L1309.1 652.8L1324.7 651.5L1340.2 650.2L1355.8 648.9L1371.3 647.6L1386.8 646.3L1402.4 645.0L1418.0 643.7L1433.5 642.4L1449.0 641.1L1464.6 639.8L1480.2 638.4L1495.7 637.1L1511.2 635.8L1526.8 634.5L1542.3 633.1L1557.9 631.8L1573.5 630.4L1589.0 629.1L1604.5 627.7L1620.1 626.3L1635.7 624.9L1651.2 623.4L1666.8 622.0L1682.3 620.6L1697.8 619.1L1713.4 617.6L1728.9 616.1L1744.5 614.5L1760.0 612.8L1775.6 611.1L1791.2 609.1L1806.7 606.5" fill="none" stroke="#FF00FF" stroke-width="4.0" stroke-linejoin="round"/><path d="M1148.8 661.0h9.6v9.6h-9.6zM1164.4 659.7h9.6v9.6h-9.6zM1179.9 658.4h9.6v9.6h-9.6zM1195.5 657.1h9.6v9.6h-9.6zM1211.0 655.8h9.6v9.6h-9.6zM1226.5 654.5h9.6v9.6h-9.6zM1242.1 653.2h9.6v9.6h-9.6zM1257.7 651.9h9.6v9.6h-9.6zM1273.2 650.6h9.6v9.6h-9.6zM1288.8 649.3h9.6v9.6h-9.6zM1304.3 648.0h9.6v9.6h-9.6zM1319.9 646.7h9.6v9.6h-9.6zM1335.4 645.4h9.6v9.6h-9.6zM1351.0 644.1h9.6v9.6h-9.6zM1366.5 642.8h9.6v9.6h-9.6zM1382.0 641.5h9.6v9.6h-9.6zM1397.6 640.2h9.6v9.6h-9.6zM1413.2 638.9h9.6v9.6h-9.6zM1428.7 637.6h9.6v9.6h-9.6zM1444.2 636.3h9.6v9.6h-9.6zM1459.8 635.0h9.6v9.6h-9.6zM1475.4 633.6h9.6v9.6h-9.6zM1490.9 632.3h9.6v9.6h-9.6zM1506.5 631.0h9.6v9.6h-9.6zM1522.0 629.7h9.6v9.6h-9.6zM1537.5 628.3h9.6v9.6h-9.6zM1553.1 627.0h9.6v9.6h-9.6zM1568.7 625.6h9.6v9.6h-9.6zM1584.2 624.3h9.6v9.6h-9.6zM1599.8 622.9h9.6v9.6h-9.6zM1615.3 621.5h9.6v9.6h-9.6zM1630.9 620.1h9.6v9.6h-9.6zM1646.4 618.6h9.6v9.6h-9.6zM1662.0 617.2h9.6v9.6h-9.6zM1677.5 615.8h9.6v9.6h-9.6zM1693.0 614.3h9.6v9.6h-9.6zM1708.6 612.8h9.6v9.6h-9.6zM1724.1 611.3h9.6v9.6h-9.6zM1739.7 609.7h9.6v9.6h-9.6zM1755.2 608.0h9.6v9.6h-9.6zM1770.8 606.3h9.6v9.6h-9.6zM1786.4 604.3h9.6v9.6h-9.6zM1801.9 601.7h9.6v9.6h-9.6z" fill="#FF00FF"/>
<path d="M1153.6 664.8L1169.2 663.5L1184.7 662.2L1200.2 660.9L1215.8 659.6L1231.3 658.3L1246.9 657.0L1262.5 655.7L1278.0 654.4L1293.5 653.1L1309.1 651.8L1324.7 650.5L1340.2 649.2L1355.8 647.9L1371.3 646.6L1386.8 645.3L1402.4 644.0L1418.0 642.7L1433.5 641.4L1449.0 640.1L1464.6 638.7L1480.2 637.4L1495.7 636.1L1511.2 634.8L1526.8 633.4L1542.3 632.1L1557.9 630.7L1573.5 629.4L1589.0 628.0L1604.5 626.6L1620.1 625.2L1635.7 623.8L1651.2 622.3L1666.8 620.9L1682.3 619.4L1697.8 618.0L1713.4 616.4L1728.9 614.9L1744.5 613.2L1760.0 611.6L1775.6 609.8L1791.2 607.7L1806.7 605.0" fill="none" stroke="#FFC000" stroke-width="4.0" stroke-linejoin="round"/><path d="M1153.6 659.0l5.8 10.4h-11.5zM1169.2 657.7l5.8 10.4h-11.5zM1184.7 656.4l5.8 10.4h-11.5zM1200.2 655.1l5.8 10.4h-11.5zM1215.8 653.8l5.8 10.4h-11.5zM1231.3 652.5l5.8 10.4h-11.5zM1246.9 651.2l5.8 10.4h-11.5zM1262.5 649.9l5.8 10.4h-11.5zM1278.0 648.6l5.8 10.4h-11.5zM1293.5 647.3l5.8 10.4h-11.5zM1309.1 646.0l5.8 10.4h-11.5zM1324.7 644.7l5.8 10.4h-11.5zM1340.2 643.4l5.8 10.4h-11.5zM1355.8 642.1l5.8 10.4h-11.5zM1371.3 640.8l5.8 10.4h-11.5zM1386.8 639.5l5.8 10.4h-11.5zM1402.4 638.2l5.8 10.4h-11.5zM1418.0 636.9l5.8 10.4h-11.5zM1433.5 635.6l5.8 10.4h-11.5zM1449.0 634.3l5.8 10.4h-11.5zM1464.6 633.0l5.8 10.4h-11.5zM1480.2 631.7l5.8 10.4h-11.5zM1495.7 630.3l5.8 10.4h-11.5zM1511.2 629.0l5.8 10.4h-11.5zM1526.8 627.7l5.8 10.4h-11.5zM1542.3 626.3l5.8 10.4h-11.5zM1557.9 625.0l5.8 10.4h-11.5zM1573.5 623.6l5.8 10.4h-11.5zM1589.0 622.3l5.8 10.4h-11.5zM1604.5 620.9l5.8 10.4h-11.5zM1620.1 619.5l5.8 10.4h-11.5zM1635.7 618.0l5.8 10.4h-11.5zM1651.2 616.6l5.8 10.4h-11.5zM1666.8 615.1l5.8 10.4h-11.5zM1682.3 613.7l5.8 10.4h-11.5zM1697.8 612.2l5.8 10.4h-11.5zM1713.4 610.7l5.8 10.4h-11.5zM1728.9 609.1l5.8 10.4h-11.5zM1744.5 607.5l5.8 10.4h-11.5zM1760.0 605.8l5.8 10.4h-11.5zM1775.6 604.1l5.8 10.4h-11.5zM1791.2 601.9l5.8 10.4h-11.5zM1806.7 599.2l5.8 10.4h-11.5z" fill="#FFC000"/>
<path d="M1153.6 663.7L1169.2 662.4L1184.7 661.1L1200.2 659.8L1215.8 658.5L1231.3 657.2L1246.9 655.9L1262.5 654.6L1278.0 653.3L1293.5 652.0L1309.1 650.7L1324.7 649.4L1340.2 648.1L1355.8 646.8L1371.3 645.5L1386.8 644.1L1402.4 642.8L1418.0 641.5L1433.5 640.2L1449.0 638.9L1464.6 637.6L1480.2 636.3L1495.7 634.9L1511.2 633.6L1526.8 632.3L1542.3 630.9L1557.9 629.6L1573.5 628.2L1589.0 626.8L1604.5 625.4L1620.1 624.0L1635.7 622.5L1651.2 621.1L1666.8 619.6L1682.3 618.2L1697.8 616.7L1713.4 615.1L1728.9 613.5L1744.5 611.8L1760.0 610.1L1775.6 608.4L1791.2 606.1L1806.7 603.3" fill="none" stroke="#0000FF" stroke-width="4.0" stroke-linejoin="round"/><path d="M1148.8 663.7a4.8 4.8 0 1 0 9.6 0a4.8 4.8 0 1 0 -9.6 0zM1164.4 662.4a4.8 4.8 0 1 0 9.6 0a4.8 4.8 0 1 0 -9.6 0zM1179.9 661.1a4.8 4.8 0 1 0 9.6 0a4.8 4.8 0 1 0 -9.6 0zM1195.5 659.8a4.8 4.8 0 1 0 9.6 0a4.8 4.8 0 1 0 -9.6 0zM1211.0 658.5a4.8 4.8 0 1 0 9.6 0a4.8 4.8 0 1 0 -9.6 0zM1226.5 657.2a4.8 4.8 0 1 0 9.6 0a4.8 4.8 0 1 0 -9.6 0zM1242.1 655.9a4.8 4.8 0 1 0 9.6 0a4.8 4.8 0 1 0 -9.6 0zM1257.7 654.6a4.8 4.8 0 1 0 9.6 0a4.8 4.8 0 1 0 -9.6 0zM1273.2 653.3a4.8 4.8 0 1 0 9.6 0a4.8 4.8 0 1 0 -9.6 0zM1288.8 652.0a4.8 4.8 0 1 0 9.6 0a4.8 4.8 0 1 0 -9.6 0zM1304.3 650.7a4.8 4.8 0 1 0 9.6 0a4.8 4.8 0 1 0 -9.6 0zM1319.9 649.4a4.8 4.8 0 1 0 9.6 0a4.8 4.8 0 1 0 -9.6 0zM1335.4 648.1a4.8 4.8 0 1 0 9.6 0a4.8 4.8 0 1 0 -9.6 0zM1351.0 646.8a4.8 4.8 0 1 0 9.6 0a4.8 4.8 0 1 0 -9.6 0zM1366.5 645.5a4.8 4.8 0 1 0 9.6 0a4.8 4.8 0 1 0 -9.6 0zM1382.0 644.1a4.8 4.8 0 1 0 9.6 0a4.8 4.8 0 1 0 -9.6 0zM1397.6 642.8a4.8 4.8 0 1 0 9.6 0a4.8 4.8 0 1 0 -9.6 0zM1413.2 641.5a4.8 4.8 0 1 0 9.6 0a4.8 4.8 0 1 0 -9.6 0zM1428.7 640.2a4.8 4.8 0 1 0 9.6 0a4.8 4.8 0 1 0 -9.6 0zM1444.2 638.9a4.8 4.8 0 1 0 9.6 0a4.8 4.8 0 1 0 -9.6 0zM1459.8 637.6a4.8 4.8 0 1 0 9.6 0a4.8 4.8 0 1 0 -9.6 0zM1475.4 636.3a4.8 4.8 0 1 0 9.6 0a4.8 4.8 0 1 0 -9.6 0zM1490.9 634.9a4.8 4.8 0 1 0 9.6 0a4.8 4.8 0 1 0 -9.6 0zM1506.5 633.6a4.8 4.8 0 1 0 9.6 0a4.8 4.8 0 1 0 -9.6 0zM1522.0 632.3a4.8 4.8 0 1 0 9.6 0a4.8 4.8 0 1 0 -9.6 0zM1537.5 630.9a4.8 4.8 0 1 0 9.6 0a4.8 4.8 0 1 0 -9.6 0zM1553.1 629.6a4.8 4.8 0 1 0 9.6 0a4.8 4.8 0 1 0 -9.6 0zM1568.7 628.2a4.8 4.8 0 1 0 9.6 0a4.8 4.8 0 1 0 -9.6 0zM1584.2 626.8a4.8 4.8 0 1 0 9.6 0a4.8 4.8 0 1 0 -9.6 0zM1599.8 625.4a4.8 4.8 0 1 0 9.6 0a4.8 4.8 0 1 0 -9.6 0zM1615.3 624.0a4.8 4.8 0 1 0 9.6 0a4.8 4.8 0 1 0 -9.6 0zM1630.9 622.5a4.8 4.8 0 1 0 9.6 0a4.8 4.8 0 1 0 -9.6 0zM1646.4 621.1a4.8 4.8 0 1 0 9.6 0a4.8 4.8 0 1 0 -9.6 0zM1662.0 619.6a4.8 4.8 0 1 0 9.6 0a4.8 4.8 0 1 0 -9.6 0zM1677.5 618.2a4.8 4.8 0 1 0 9.6 0a4.8 4.8 0 1 0 -9.6 0zM1693.0 616.7a4.8 4.8 0 1 0 9.6 0a4.8 4.8 0 1 0 -9.6 0zM1708.6 615.1a4.8 4.8 0 1 0 9.6 0a4.8 4.8 0 1 0 -9.6 0zM1724.1 613.5a4.8 4.8 0 1 0 9.6 0a4.8 4.8 0 1 0 -9.6 0zM1739.7 611.8a4.8 4.8 0 1 0 9.6 0a4.8 4.8 0 1 0 -9.6 0zM1755.2 610.1a4.8 4.8 0 1 0 9.6 0a4.8 4.8 0 1 0 -9.6 0zM1770.8 608.4a4.8 4.8 0 1 0 9.6 0a4.8 4.8 0 1 0 -9.6 0zM1786.4 606.1a4.8 4.8 0 1 0 9.6 0a4.8 4.8 0 1 0 -9.6 0zM1801.9 603.3a4.8 4.8 0 1 0 9.6 0a4.8 4.8 0 1 0 -9.6 0z" fill="#0000FF"/>
<path d="M1153.6 662.4L1169.2 661.1L1184.7 659.8L1200.2 658.5L1215.8 657.2L1231.3 655.9L1246.9 654.6L1262.5 653.3L1278.0 652.0L1293.5 650.7L1309.1 649.4L1324.7 648.1L1340.2 646.8L1355.8 645.5L1371.3 644.2L1386.8 642.9L1402.4 641.6L1418.0 640.3L1433.5 639.0L1449.0 637.6L1464.6 636.3L1480.2 635.0L1495.7 633.7L1511.2 632.3L1526.8 631.0L1542.3 629.6L1557.9 628.3L1573.5 626.9L1589.0 625.5L1604.5 624.1L1620.1 622.7L1635.7 621.2L1651.2 619.7L1666.8 618.3L1682.3 616.8L1697.8 615.2L1713.4 613.7L1728.9 612.0L1744.5 610.3L1760.0 608.6L1775.6 606.7L1791.2 604.4L1806.7 601.4" fill="none" stroke="#808000" stroke-width="4.0" stroke-linejoin="round"/><path d="M1153.6 656.4l6.0 6.0l-6.0 6.0l-6.0 -6.0zM1169.2 655.1l6.0 6.0l-6.0 6.0l-6.0 -6.0zM1184.7 653.8l6.0 6.0l-6.0 6.0l-6.0 -6.0zM1200.2 652.5l6.0 6.0l-6.0 6.0l-6.0 -6.0zM1215.8 651.2l6.0 6.0l-6.0 6.0l-6.0 -6.0zM1231.3 649.9l6.0 6.0l-6.0 6.0l-6.0 -6.0zM1246.9 648.6l6.0 6.0l-6.0 6.0l-6.0 -6.0zM1262.5 647.3l6.0 6.0l-6.0 6.0l-6.0 -6.0zM1278.0 646.0l6.0 6.0l-6.0 6.0l-6.0 -6.0zM1293.5 644.7l6.0 6.0l-6.0 6.0l-6.0 -6.0zM1309.1 643.4l6.0 6.0l-6.0 6.0l-6.0 -6.0zM1324.7 642.1l6.0 6.0l-6.0 6.0l-6.0 -6.0zM1340.2 640.8l6.0 6.0l-6.0 6.0l-6.0 -6.0zM1355.8 639.5l6.0 6.0l-6.0 6.0l-6.0 -6.0zM1371.3 638.2l6.0 6.0l-6.0 6.0l-6.0 -6.0zM1386.8 636.9l6.0 6.0l-6.0 6.0l-6.0 -6.0zM1402.4 635.6l6.0 6.0l-6.0 6.0l-6.0 -6.0zM1418.0 634.3l6.0 6.0l-6.0 6.0l-6.0 -6.0zM1433.5 633.0l6.0 6.0l-6.0 6.0l-6.0 -6.0zM1449.0 631.6l6.0 6.0l-6.0 6.0l-6.0 -6.0zM1464.6 630.3l6.0 6.0l-6.0 6.0l-6.0 -6.0zM1480.2 629.0l6.0 6.0l-6.0 6.0l-6.0 -6.0zM1495.7 627.7l6.0 6.0l-6.0 6.0l-6.0 -6.0zM1511.2 626.3l6.0 6.0l-6.0 6.0l-6.0 -6.0zM1526.8 625.0l6.0 6.0l-6.0 6.0l-6.0 -6.0zM1542.3 623.6l6.0 6.0l-6.0 6.0l-6.0 -6.0zM1557.9 622.3l6.0 6.0l-6.0 6.0l-6.0 -6.0zM1573.5 620.9l6.0 6.0l-6.0 6.0l-6.0 -6.0zM1589.0 619.5l6.0 6.0l-6.0 6.0l-6.0 -6.0zM1604.5 618.1l6.0 6.0l-6.0 6.0l-6.0 -6.0zM1620.1 616.7l6.0 6.0l-6.0 6.0l-6.0 -6.0zM1635.7 615.2l6.0 6.0l-6.0 6.0l-6.0 -6.0zM1651.2 613.7l6.0 6.0l-6.0 6.0l-6.0 -6.0zM1666.8 612.3l6.0 6.0l-6.0 6.0l-6.0 -6.0zM1682.3 610.8l6.0 6.0l-6.0 6.0l-6.0 -6.0zM1697.8 609.2l6.0 6.0l-6.0 6.0l-6.0 -6.0zM1713.4 607.7l6.0 6.0l-6.0 6.0l-6.0 -6.0zM1728.9 606.0l6.0 6.0l-6.0 6.0l-6.0 -6.0zM1744.5 604.3l6.0 6.0l-6.0 6.0l-6.0 -6.0zM1760.0 602.6l6.0 6.0l-6.0 6.0l-6.0 -6.0zM1775.6 600.7l6.0 6.0l-6.0 6.0l-6.0 -6.0zM1791.2 598.4l6.0 6.0l-6.0 6.0l-6.0 -6.0zM1806.7 595.4l6.0 6.0l-6.0 6.0l-6.0 -6.0z" fill="#808000"/>
<path d="M1153.6 661.0L1169.2 659.8L1184.7 658.5L1200.2 657.2L1215.8 655.9L1231.3 654.6L1246.9 653.3L1262.5 652.0L1278.0 650.7L1293.5 649.4L1309.1 648.1L1324.7 646.7L1340.2 645.4L1355.8 644.1L1371.3 642.8L1386.8 641.5L1402.4 640.2L1418.0 638.9L1433.5 637.6L1449.0 636.3L1464.6 635.0L1480.2 633.6L1495.7 632.3L1511.2 631.0L1526.8 629.6L1542.3 628.3L1557.9 626.9L1573.5 625.5L1589.0 624.1L1604.5 622.7L1620.1 621.2L1635.7 619.7L1651.2 618.2L1666.8 616.8L1682.3 615.3L1697.8 613.7L1713.4 612.1L1728.9 610.4L1744.5 608.7L1760.0 606.9L1775.6 605.0L1791.2 602.5L1806.7 599.3" fill="none" stroke="#FF0000" stroke-width="4.0" stroke-linejoin="round"/><path d="M1153.6 655.3l5.8 10.4h-11.5zM1169.2 654.0l5.8 10.4h-11.5zM1184.7 652.7l5.8 10.4h-11.5zM1200.2 651.4l5.8 10.4h-11.5zM1215.8 650.1l5.8 10.4h-11.5zM1231.3 648.8l5.8 10.4h-11.5zM1246.9 647.5l5.8 10.4h-11.5zM1262.5 646.2l5.8 10.4h-11.5zM1278.0 644.9l5.8 10.4h-11.5zM1293.5 643.6l5.8 10.4h-11.5zM1309.1 642.3l5.8 10.4h-11.5zM1324.7 641.0l5.8 10.4h-11.5zM1340.2 639.7l5.8 10.4h-11.5zM1355.8 638.4l5.8 10.4h-11.5zM1371.3 637.1l5.8 10.4h-11.5zM1386.8 635.8l5.8 10.4h-11.5zM1402.4 634.5l5.8 10.4h-11.5zM1418.0 633.2l5.8 10.4h-11.5zM1433.5 631.8l5.8 10.4h-11.5zM1449.0 630.5l5.8 10.4h-11.5zM1464.6 629.2l5.8 10.4h-11.5zM1480.2 627.9l5.8 10.4h-11.5zM1495.7 626.5l5.8 10.4h-11.5zM1511.2 625.2l5.8 10.4h-11.5zM1526.8 623.9l5.8 10.4h-11.5zM1542.3 622.5l5.8 10.4h-11.5zM1557.9 621.1l5.8 10.4h-11.5zM1573.5 619.8l5.8 10.4h-11.5zM1589.0 618.4l5.8 10.4h-11.5zM1604.5 616.9l5.8 10.4h-11.5zM1620.1 615.5l5.8 10.4h-11.5zM1635.7 614.0l5.8 10.4h-11.5zM1651.2 612.5l5.8 10.4h-11.5zM1666.8 611.0l5.8 10.4h-11.5zM1682.3 609.5l5.8 10.4h-11.5zM1697.8 607.9l5.8 10.4h-11.5zM1713.4 606.3l5.8 10.4h-11.5zM1728.9 604.7l5.8 10.4h-11.5zM1744.5 602.9l5.8 10.4h-11.5zM1760.0 601.1l5.8 10.4h-11.5zM1775.6 599.2l5.8 10.4h-11.5zM1791.2 596.7l5.8 10.4h-11.5zM1806.7 593.5l5.8 10.4h-11.5z" fill="#FF0000"/>
<path d="M1153.6 659.6L1169.2 658.3L1184.7 657.0L1200.2 655.7L1215.8 654.4L1231.3 653.1L1246.9 651.8L1262.5 650.5L1278.0 649.2L1293.5 647.9L1309.1 646.6L1324.7 645.3L1340.2 644.0L1355.8 642.7L1371.3 641.4L1386.8 640.1L1402.4 638.8L1418.0 637.5L1433.5 636.2L1449.0 634.8L1464.6 633.5L1480.2 632.2L1495.7 630.8L1511.2 629.5L1526.8 628.2L1542.3 626.8L1557.9 625.4L1573.5 624.0L1589.0 622.6L1604.5 621.2L1620.1 619.7L1635.7 618.2L1651.2 616.7L1666.8 615.2L1682.3 613.6L1697.8 612.1L1713.4 610.4L1728.9 608.7L1744.5 606.9L1760.0 605.0L1775.6 603.1L1791.2 600.5L1806.7 597.1" fill="none" stroke="#000000" stroke-width="4.0" stroke-linejoin="round"/><path d="M1148.8 659.6a4.8 4.8 0 1 0 9.6 0a4.8 4.8 0 1 0 -9.6 0zM1164.4 658.3a4.8 4.8 0 1 0 9.6 0a4.8 4.8 0 1 0 -9.6 0zM1179.9 657.0a4.8 4.8 0 1 0 9.6 0a4.8 4.8 0 1 0 -9.6 0zM1195.5 655.7a4.8 4.8 0 1 0 9.6 0a4.8 4.8 0 1 0 -9.6 0zM1211.0 654.4a4.8 4.8 0 1 0 9.6 0a4.8 4.8 0 1 0 -9.6 0zM1226.5 653.1a4.8 4.8 0 1 0 9.6 0a4.8 4.8 0 1 0 -9.6 0zM1242.1 651.8a4.8 4.8 0 1 0 9.6 0a4.8 4.8 0 1 0 -9.6 0zM1257.7 650.5a4.8 4.8 0 1 0 9.6 0a4.8 4.8 0 1 0 -9.6 0zM1273.2 649.2a4.8 4.8 0 1 0 9.6 0a4.8 4.8 0 1 0 -9.6 0zM1288.8 647.9a4.8 4.8 0 1 0 9.6 0a4.8 4.8 0 1 0 -9.6 0zM1304.3 646.6a4.8 4.8 0 1 0 9.6 0a4.8 4.8 0 1 0 -9.6 0zM1319.9 645.3a4.8 4.8 0 1 0 9.6 0a4.8 4.8 0 1 0 -9.6 0zM1335.4 644.0a4.8 4.8 0 1 0 9.6 0a4.8 4.8 0 1 0 -9.6 0zM1351.0 642.7a4.8 4.8 0 1 0 9.6 0a4.8 4.8 0 1 0 -9.6 0zM1366.5 641.4a4.8 4.8 0 1 0 9.6 0a4.8 4.8 0 1 0 -9.6 0zM1382.0 640.1a4.8 4.8 0 1 0 9.6 0a4.8 4.8 0 1 0 -9.6 0zM1397.6 638.8a4.8 4.8 0 1 0 9.6 0a4.8 4.8 0 1 0 -9.6 0zM1413.2 637.5a4.8 4.8 0 1 0 9.6 0a4.8 4.8 0 1 0 -9.6 0zM1428.7 636.2a4.8 4.8 0 1 0 9.6 0a4.8 4.8 0 1 0 -9.6 0zM1444.2 634.8a4.8 4.8 0 1 0 9.6 0a4.8 4.8 0 1 0 -9.6 0zM1459.8 633.5a4.8 4.8 0 1 0 9.6 0a4.8 4.8 0 1 0 -9.6 0zM1475.4 632.2a4.8 4.8 0 1 0 9.6 0a4.8 4.8 0 1 0 -9.6 0zM1490.9 630.8a4.8 4.8 0 1 0 9.6 0a4.8 4.8 0 1 0 -9.6 0zM1506.5 629.5a4.8 4.8 0 1 0 9.6 0a4.8 4.8 0 1 0 -9.6 0zM1522.0 628.2a4.8 4.8 0 1 0 9.6 0a4.8 4.8 0 1 0 -9.6 0zM1537.5 626.8a4.8 4.8 0 1 0 9.6 0a4.8 4.8 0 1 0 -9.6 0zM1553.1 625.4a4.8 4.8 0 1 0 9.6 0a4.8 4.8 0 1 0 -9.6 0zM1568.7 624.0a4.8 4.8 0 1 0 9.6 0a4.8 4.8 0 1 0 -9.6 0zM1584.2 622.6a4.8 4.8 0 1 0 9.6 0a4.8 4.8 0 1 0 -9.6 0zM1599.8 621.2a4.8 4.8 0 1 0 9.6 0a4.8 4.8 0 1 0 -9.6 0zM1615.3 619.7a4.8 4.8 0 1 0 9.6 0a4.8 4.8 0 1 0 -9.6 0zM1630.9 618.2a4.8 4.8 0 1 0 9.6 0a4.8 4.8 0 1 0 -9.6 0zM1646.4 616.7a4.8 4.8 0 1 0 9.6 0a4.8 4.8 0 1 0 -9.6 0zM1662.0 615.2a4.8 4.8 0 1 0 9.6 0a4.8 4.8 0 1 0 -9.6 0zM1677.5 613.6a4.8 4.8 0 1 0 9.6 0a4.8 4.8 0 1 0 -9.6 0zM1693.0 612.1a4.8 4.8 0 1 0 9.6 0a4.8 4.8 0 1 0 -9.6 0zM1708.6 610.4a4.8 4.8 0 1 0 9.6 0a4.8 4.8 0 1 0 -9.6 0zM1724.1 608.7a4.8 4.8 0 1 0 9.6 0a4.8 4.8 0 1 0 -9.6 0zM1739.7 606.9a4.8 4.8 0 1 0 9.6 0a4.8 4.8 0 1 0 -9.6 0zM1755.2 605.0a4.8 4.8 0 1 0 9.6 0a4.8 4.8 0 1 0 -9.6 0zM1770.8 603.1a4.8 4.8 0 1 0 9.6 0a4.8 4.8 0 1 0 -9.6 0zM1786.4 600.5a4.8 4.8 0 1 0 9.6 0a4.8 4.8 0 1 0 -9.6 0zM1801.9 597.1a4.8 4.8 0 1 0 9.6 0a4.8 4.8 0 1 0 -9.6 0z" fill="#000000"/>
<path d="M1153.6 658.1L1169.2 656.8L1184.7 655.5L1200.2 654.2L1215.8 652.9L1231.3 651.6L1246.9 650.3L1262.5 649.0L1278.0 647.7L1293.5 646.4L1309.1 645.1L1324.7 643.8L1340.2 642.5L1355.8 641.2L1371.3 639.9L1386.8 638.6L1402.4 637.3L1418.0 635.9L1433.5 634.6L1449.0 633.3L1464.6 632.0L1480.2 630.6L1495.7 629.3L1511.2 628.0L1526.8 626.6L1542.3 625.2L1557.9 623.8L1573.5 622.4L1589.0 621.0L1604.5 619.6L1620.1 618.1L1635.7 616.5L1651.2 615.0L1666.8 613.5L1682.3 611.9L1697.8 610.3L1713.4 608.6L1728.9 606.8L1744.5 605.0L1760.0 603.1L1775.6 601.0L1791.2 598.3L1806.7 594.6" fill="none" stroke="#FF00FF" stroke-width="4.0" stroke-linejoin="round"/><path d="M1148.8 653.3h9.6v9.6h-9.6zM1164.4 652.0h9.6v9.6h-9.6zM1179.9 650.7h9.6v9.6h-9.6zM1195.5 649.4h9.6v9.6h-9.6zM1211.0 648.1h9.6v9.6h-9.6zM1226.5 646.8h9.6v9.6h-9.6zM1242.1 645.5h9.6v9.6h-9.6zM1257.7 644.2h9.6v9.6h-9.6zM1273.2 642.9h9.6v9.6h-9.6zM1288.8 641.6h9.6v9.6h-9.6zM1304.3 640.3h9.6v9.6h-9.6zM1319.9 639.0h9.6v9.6h-9.6zM1335.4 637.7h9.6v9.6h-9.6zM1351.0 636.4h9.6v9.6h-9.6zM1366.5 635.1h9.6v9.6h-9.6zM1382.0 633.8h9.6v9.6h-9.6zM1397.6 632.5h9.6v9.6h-9.6zM1413.2 631.1h9.6v9.6h-9.6zM1428.7 629.8h9.6v9.6h-9.6zM1444.2 628.5h9.6v9.6h-9.6zM1459.8 627.2h9.6v9.6h-9.6zM1475.4 625.8h9.6v9.6h-9.6zM1490.9 624.5h9.6v9.6h-9.6zM1506.5 623.2h9.6v9.6h-9.6zM1522.0 621.8h9.6v9.6h-9.6zM1537.5 620.4h9.6v9.6h-9.6zM1553.1 619.0h9.6v9.6h-9.6zM1568.7 617.6h9.6v9.6h-9.6zM1584.2 616.2h9.6v9.6h-9.6zM1599.8 614.8h9.6v9.6h-9.6zM1615.3 613.3h9.6v9.6h-9.6zM1630.9 611.7h9.6v9.6h-9.6zM1646.4 610.2h9.6v9.6h-9.6zM1662.0 608.7h9.6v9.6h-9.6zM1677.5 607.1h9.6v9.6h-9.6zM1693.0 605.5h9.6v9.6h-9.6zM1708.6 603.8h9.6v9.6h-9.6zM1724.1 602.0h9.6v9.6h-9.6zM1739.7 600.2h9.6v9.6h-9.6zM1755.2 598.3h9.6v9.6h-9.6zM1770.8 596.2h9.6v9.6h-9.6zM1786.4 593.5h9.6v9.6h-9.6zM1801.9 589.8h9.6v9.6h-9.6z" fill="#FF00FF"/>
<path d="M1153.6 656.4L1169.2 655.1L1184.7 653.8L1200.2 652.5L1215.8 651.2L1231.3 649.9L1246.9 648.6L1262.5 647.3L1278.0 646.0L1293.5 644.7L1309.1 643.4L1324.7 642.1L1340.2 640.8L1355.8 639.5L1371.3 638.2L1386.8 636.9L1402.4 635.6L1418.0 634.3L1433.5 632.9L1449.0 631.6L1464.6 630.3L1480.2 628.9L1495.7 627.6L1511.2 626.3L1526.8 624.9L1542.3 623.5L1557.9 622.1L1573.5 620.7L1589.0 619.3L1604.5 617.8L1620.1 616.3L1635.7 614.7L1651.2 613.1L1666.8 611.6L1682.3 610.0L1697.8 608.4L1713.4 606.6L1728.9 604.8L1744.5 602.9L1760.0 600.9L1775.6 598.8L1791.2 595.9L1806.7 592.0" fill="none" stroke="#FFC000" stroke-width="4.0" stroke-linejoin="round"/><path d="M1153.6 650.4l6.0 6.0l-6.0 6.0l-6.0 -6.0zM1169.2 649.1l6.0 6.0l-6.0 6.0l-6.0 -6.0zM1184.7 647.8l6.0 6.0l-6.0 6.0l-6.0 -6.0zM1200.2 646.5l6.0 6.0l-6.0 6.0l-6.0 -6.0zM1215.8 645.2l6.0 6.0l-6.0 6.0l-6.0 -6.0zM1231.3 643.9l6.0 6.0l-6.0 6.0l-6.0 -6.0zM1246.9 642.6l6.0 6.0l-6.0 6.0l-6.0 -6.0zM1262.5 641.3l6.0 6.0l-6.0 6.0l-6.0 -6.0zM1278.0 640.0l6.0 6.0l-6.0 6.0l-6.0 -6.0zM1293.5 638.7l6.0 6.0l-6.0 6.0l-6.0 -6.0zM1309.1 637.4l6.0 6.0l-6.0 6.0l-6.0 -6.0zM1324.7 636.1l6.0 6.0l-6.0 6.0l-6.0 -6.0zM1340.2 634.8l6.0 6.0l-6.0 6.0l-6.0 -6.0zM1355.8 633.5l6.0 6.0l-6.0 6.0l-6.0 -6.0zM1371.3 632.2l6.0 6.0l-6.0 6.0l-6.0 -6.0zM1386.8 630.9l6.0 6.0l-6.0 6.0l-6.0 -6.0zM1402.4 629.6l6.0 6.0l-6.0 6.0l-6.0 -6.0zM1418.0 628.3l6.0 6.0l-6.0 6.0l-6.0 -6.0zM1433.5 626.9l6.0 6.0l-6.0 6.0l-6.0 -6.0zM1449.0 625.6l6.0 6.0l-6.0 6.0l-6.0 -6.0zM1464.6 624.3l6.0 6.0l-6.0 6.0l-6.0 -6.0zM1480.2 622.9l6.0 6.0l-6.0 6.0l-6.0 -6.0zM1495.7 621.6l6.0 6.0l-6.0 6.0l-6.0 -6.0zM1511.2 620.3l6.0 6.0l-6.0 6.0l-6.0 -6.0zM1526.8 618.9l6.0 6.0l-6.0 6.0l-6.0 -6.0zM1542.3 617.5l6.0 6.0l-6.0 6.0l-6.0 -6.0zM1557.9 616.1l6.0 6.0l-6.0 6.0l-6.0 -6.0zM1573.5 614.7l6.0 6.0l-6.0 6.0l-6.0 -6.0zM1589.0 613.3l6.0 6.0l-6.0 6.0l-6.0 -6.0zM1604.5 611.8l6.0 6.0l-6.0 6.0l-6.0 -6.0zM1620.1 610.3l6.0 6.0l-6.0 6.0l-6.0 -6.0zM1635.7 608.7l6.0 6.0l-6.0 6.0l-6.0 -6.0zM1651.2 607.1l6.0 6.0l-6.0 6.0l-6.0 -6.0zM1666.8 605.6l6.0 6.0l-6.0 6.0l-6.0 -6.0zM1682.3 604.0l6.0 6.0l-6.0 6.0l-6.0 -6.0zM1697.8 602.4l6.0 6.0l-6.0 6.0l-6.0 -6.0zM1713.4 600.6l6.0 6.0l-6.0 6.0l-6.0 -6.0zM1728.9 598.8l6.0 6.0l-6.0 6.0l-6.0 -6.0zM1744.5 596.9l6.0 6.0l-6.0 6.0l-6.0 -6.0zM1760.0 594.9l6.0 6.0l-6.0 6.0l-6.0 -6.0zM1775.6 592.8l6.0 6.0l-6.0 6.0l-6.0 -6.0zM1791.2 589.9l6.0 6.0l-6.0 6.0l-6.0 -6.0zM1806.7 586.0l6.0 6.0l-6.0 6.0l-6.0 -6.0z" fill="#FFC000"/>
<path d="M1153.6 654.6L1169.2 653.3L1184.7 652.0L1200.2 650.7L1215.8 649.4L1231.3 648.1L1246.9 646.8L1262.5 645.5L1278.0 644.2L1293.5 642.9L1309.1 641.6L1324.7 640.3L1340.2 639.0L1355.8 637.7L1371.3 636.4L1386.8 635.1L1402.4 633.7L1418.0 632.4L1433.5 631.1L1449.0 629.8L1464.6 628.4L1480.2 627.1L1495.7 625.7L1511.2 624.4L1526.8 623.0L1542.3 621.6L1557.9 620.2L1573.5 618.8L1589.0 617.4L1604.5 615.9L1620.1 614.3L1635.7 612.7L1651.2 611.1L1666.8 609.5L1682.3 607.9L1697.8 606.2L1713.4 604.5L1728.9 602.6L1744.5 600.6L1760.0 598.5L1775.6 596.3L1791.2 593.2L1806.7 589.0" fill="none" stroke="#0000FF" stroke-width="4.0" stroke-linejoin="round"/><path d="M1153.6 648.8l5.8 10.4h-11.5zM1169.2 647.5l5.8 10.4h-11.5zM1184.7 646.2l5.8 10.4h-11.5zM1200.2 644.9l5.8 10.4h-11.5zM1215.8 643.6l5.8 10.4h-11.5zM1231.3 642.3l5.8 10.4h-11.5zM1246.9 641.0l5.8 10.4h-11.5zM1262.5 639.7l5.8 10.4h-11.5zM1278.0 638.4l5.8 10.4h-11.5zM1293.5 637.1l5.8 10.4h-11.5zM1309.1 635.8l5.8 10.4h-11.5zM1324.7 634.5l5.8 10.4h-11.5zM1340.2 633.2l5.8 10.4h-11.5zM1355.8 631.9l5.8 10.4h-11.5zM1371.3 630.6l5.8 10.4h-11.5zM1386.8 629.3l5.8 10.4h-11.5zM1402.4 628.0l5.8 10.4h-11.5zM1418.0 626.7l5.8 10.4h-11.5zM1433.5 625.3l5.8 10.4h-11.5zM1449.0 624.0l5.8 10.4h-11.5zM1464.6 622.7l5.8 10.4h-11.5zM1480.2 621.3l5.8 10.4h-11.5zM1495.7 620.0l5.8 10.4h-11.5zM1511.2 618.6l5.8 10.4h-11.5zM1526.8 617.3l5.8 10.4h-11.5zM1542.3 615.9l5.8 10.4h-11.5zM1557.9 614.5l5.8 10.4h-11.5zM1573.5 613.0l5.8 10.4h-11.5zM1589.0 611.6l5.8 10.4h-11.5zM1604.5 610.1l5.8 10.4h-11.5zM1620.1 608.6l5.8 10.4h-11.5zM1635.7 607.0l5.8 10.4h-11.5zM1651.2 605.4l5.8 10.4h-11.5zM1666.8 603.8l5.8 10.4h-11.5zM1682.3 602.2l5.8 10.4h-11.5zM1697.8 600.5l5.8 10.4h-11.5zM1713.4 598.7l5.8 10.4h-11.5zM1728.9 596.8l5.8 10.4h-11.5zM1744.5 594.8l5.8 10.4h-11.5zM1760.0 592.8l5.8 10.4h-11.5zM1775.6 590.5l5.8 10.4h-11.5zM1791.2 587.5l5.8 10.4h-11.5zM1806.7 583.3l5.8 10.4h-11.5z" fill="#0000FF"/>
<path d="M1153.6 652.6L1169.2 651.3L1184.7 650.0L1200.2 648.7L1215.8 647.4L1231.3 646.1L1246.9 644.8L1262.5 643.5L1278.0 642.2L1293.5 640.9L1309.1 639.6L1324.7 638.3L1340.2 637.0L1355.8 635.7L1371.3 634.4L1386.8 633.1L1402.4 631.7L1418.0 630.4L1433.5 629.1L1449.0 627.8L1464.6 626.4L1480.2 625.1L1495.7 623.7L1511.2 622.4L1526.8 621.0L1542.3 619.6L1557.9 618.2L1573.5 616.7L1589.0 615.3L1604.5 613.8L1620.1 612.2L1635.7 610.6L1651.2 608.9L1666.8 607.3L1682.3 605.7L1697.8 603.9L1713.4 602.1L1728.9 600.2L1744.5 598.1L1760.0 596.0L1775.6 593.6L1791.2 590.3L1806.7 585.8" fill="none" stroke="#FF6600" stroke-width="4.0" stroke-linejoin="round"/><path d="M1148.8 652.6a4.8 4.8 0 1 0 9.6 0a4.8 4.8 0 1 0 -9.6 0zM1164.4 651.3a4.8 4.8 0 1 0 9.6 0a4.8 4.8 0 1 0 -9.6 0zM1179.9 650.0a4.8 4.8 0 1 0 9.6 0a4.8 4.8 0 1 0 -9.6 0zM1195.5 648.7a4.8 4.8 0 1 0 9.6 0a4.8 4.8 0 1 0 -9.6 0zM1211.0 647.4a4.8 4.8 0 1 0 9.6 0a4.8 4.8 0 1 0 -9.6 0zM1226.5 646.1a4.8 4.8 0 1 0 9.6 0a4.8 4.8 0 1 0 -9.6 0zM1242.1 644.8a4.8 4.8 0 1 0 9.6 0a4.8 4.8 0 1 0 -9.6 0zM1257.7 643.5a4.8 4.8 0 1 0 9.6 0a4.8 4.8 0 1 0 -9.6 0zM1273.2 642.2a4.8 4.8 0 1 0 9.6 0a4.8 4.8 0 1 0 -9.6 0zM1288.8 640.9a4.8 4.8 0 1 0 9.6 0a4.8 4.8 0 1 0 -9.6 0zM1304.3 639.6a4.8 4.8 0 1 0 9.6 0a4.8 4.8 0 1 0 -9.6 0zM1319.9 638.3a4.8 4.8 0 1 0 9.6 0a4.8 4.8 0 1 0 -9.6 0zM1335.4 637.0a4.8 4.8 0 1 0 9.6 0a4.8 4.8 0 1 0 -9.6 0zM1351.0 635.7a4.8 4.8 0 1 0 9.6 0a4.8 4.8 0 1 0 -9.6 0zM1366.5 634.4a4.8 4.8 0 1 0 9.6 0a4.8 4.8 0 1 0 -9.6 0zM1382.0 633.1a4.8 4.8 0 1 0 9.6 0a4.8 4.8 0 1 0 -9.6 0zM1397.6 631.7a4.8 4.8 0 1 0 9.6 0a4.8 4.8 0 1 0 -9.6 0zM1413.2 630.4a4.8 4.8 0 1 0 9.6 0a4.8 4.8 0 1 0 -9.6 0zM1428.7 629.1a4.8 4.8 0 1 0 9.6 0a4.8 4.8 0 1 0 -9.6 0zM1444.2 627.8a4.8 4.8 0 1 0 9.6 0a4.8 4.8 0 1 0 -9.6 0zM1459.8 626.4a4.8 4.8 0 1 0 9.6 0a4.8 4.8 0 1 0 -9.6 0zM1475.4 625.1a4.8 4.8 0 1 0 9.6 0a4.8 4.8 0 1 0 -9.6 0zM1490.9 623.7a4.8 4.8 0 1 0 9.6 0a4.8 4.8 0 1 0 -9.6 0zM1506.5 622.4a4.8 4.8 0 1 0 9.6 0a4.8 4.8 0 1 0 -9.6 0zM1522.0 621.0a4.8 4.8 0 1 0 9.6 0a4.8 4.8 0 1 0 -9.6 0zM1537.5 619.6a4.8 4.8 0 1 0 9.6 0a4.8 4.8 0 1 0 -9.6 0zM1553.1 618.2a4.8 4.8 0 1 0 9.6 0a4.8 4.8 0 1 0 -9.6 0zM1568.7 616.7a4.8 4.8 0 1 0 9.6 0a4.8 4.8 0 1 0 -9.6 0zM1584.2 615.3a4.8 4.8 0 1 0 9.6 0a4.8 4.8 0 1 0 -9.6 0zM1599.8 613.8a4.8 4.8 0 1 0 9.6 0a4.8 4.8 0 1 0 -9.6 0zM1615.3 612.2a4.8 4.8 0 1 0 9.6 0a4.8 4.8 0 1 0 -9.6 0zM1630.9 610.6a4.8 4.8 0 1 0 9.6 0a4.8 4.8 0 1 0 -9.6 0zM1646.4 608.9a4.8 4.8 0 1 0 9.6 0a4.8 4.8 0 1 0 -9.6 0zM1662.0 607.3a4.8 4.8 0 1 0 9.6 0a4.8 4.8 0 1 0 -9.6 0zM1677.5 605.7a4.8 4.8 0 1 0 9.6 0a4.8 4.8 0 1 0 -9.6 0zM1693.0 603.9a4.8 4.8 0 1 0 9.6 0a4.8 4.8 0 1 0 -9.6 0zM1708.6 602.1a4.8 4.8 0 1 0 9.6 0a4.8 4.8 0 1 0 -9.6 0zM1724.1 600.2a4.8 4.8 0 1 0 9.6 0a4.8 4.8 0 1 0 -9.6 0zM1739.7 598.1a4.8 4.8 0 1 0 9.6 0a4.8 4.8 0 1 0 -9.6 0zM1755.2 596.0a4.8 4.8 0 1 0 9.6 0a4.8 4.8 0 1 0 -9.6 0zM1770.8 593.6a4.8 4.8 0 1 0 9.6 0a4.8 4.8 0 1 0 -9.6 0zM1786.4 590.3a4.8 4.8 0 1 0 9.6 0a4.8 4.8 0 1 0 -9.6 0zM1801.9 585.8a4.8 4.8 0 1 0 9.6 0a4.8 4.8 0 1 0 -9.6 0z" fill="#FF6600"/>
<path d="M1153.6 650.5L1169.2 649.2L1184.7 647.9L1200.2 646.6L1215.8 645.3L1231.3 644.0L1246.9 642.7L1262.5 641.4L1278.0 640.1L1293.5 638.8L1309.1 637.5L1324.7 636.2L1340.2 634.9L1355.8 633.6L1371.3 632.3L1386.8 630.9L1402.4 629.6L1418.0 628.3L1433.5 627.0L1449.0 625.6L1464.6 624.3L1480.2 622.9L1495.7 621.6L1511.2 620.2L1526.8 618.8L1542.3 617.4L1557.9 616.0L1573.5 614.5L1589.0 613.1L1604.5 611.5L1620.1 609.9L1635.7 608.2L1651.2 606.6L1666.8 604.9L1682.3 603.2L1697.8 601.5L1713.4 599.6L1728.9 597.6L1744.5 595.4L1760.0 593.2L1775.6 590.7L1791.2 587.2L1806.7 582.3" fill="none" stroke="#FF0000" stroke-width="4.0" stroke-linejoin="round"/><path d="M1148.8 645.7h9.6v9.6h-9.6zM1164.4 644.4h9.6v9.6h-9.6zM1179.9 643.1h9.6v9.6h-9.6zM1195.5 641.8h9.6v9.6h-9.6zM1211.0 640.5h9.6v9.6h-9.6zM1226.5 639.2h9.6v9.6h-9.6zM1242.1 637.9h9.6v9.6h-9.6zM1257.7 636.6h9.6v9.6h-9.6zM1273.2 635.3h9.6v9.6h-9.6zM1288.8 634.0h9.6v9.6h-9.6zM1304.3 632.7h9.6v9.6h-9.6zM1319.9 631.4h9.6v9.6h-9.6zM1335.4 630.1h9.6v9.6h-9.6zM1351.0 628.8h9.6v9.6h-9.6zM1366.5 627.5h9.6v9.6h-9.6zM1382.0 626.1h9.6v9.6h-9.6zM1397.6 624.8h9.6v9.6h-9.6zM1413.2 623.5h9.6v9.6h-9.6zM1428.7 622.2h9.6v9.6h-9.6zM1444.2 620.8h9.6v9.6h-9.6zM1459.8 619.5h9.6v9.6h-9.6zM1475.4 618.1h9.6v9.6h-9.6zM1490.9 616.8h9.6v9.6h-9.6zM1506.5 615.4h9.6v9.6h-9.6zM1522.0 614.0h9.6v9.6h-9.6zM1537.5 612.6h9.6v9.6h-9.6zM1553.1 611.2h9.6v9.6h-9.6zM1568.7 609.7h9.6v9.6h-9.6zM1584.2 608.3h9.6v9.6h-9.6zM1599.8 606.7h9.6v9.6h-9.6zM1615.3 605.1h9.6v9.6h-9.6zM1630.9 603.4h9.6v9.6h-9.6zM1646.4 601.8h9.6v9.6h-9.6zM1662.0 600.1h9.6v9.6h-9.6zM1677.5 598.4h9.6v9.6h-9.6zM1693.0 596.7h9.6v9.6h-9.6zM1708.6 594.8h9.6v9.6h-9.6zM1724.1 592.8h9.6v9.6h-9.6zM1739.7 590.6h9.6v9.6h-9.6zM1755.2 588.4h9.6v9.6h-9.6zM1770.8 585.9h9.6v9.6h-9.6zM1786.4 582.4h9.6v9.6h-9.6zM1801.9 577.5h9.6v9.6h-9.6z" fill="#FF0000"/>
<path d="M1153.6 648.3L1169.2 647.0L1184.7 645.7L1200.2 644.4L1215.8 643.1L1231.3 641.8L1246.9 640.5L1262.5 639.2L1278.0 637.9L1293.5 636.6L1309.1 635.2L1324.7 633.9L1340.2 632.6L1355.8 631.3L1371.3 630.0L1386.8 628.7L1402.4 627.4L1418.0 626.1L1433.5 624.7L1449.0 623.4L1464.6 622.0L1480.2 620.7L1495.7 619.3L1511.2 617.9L1526.8 616.5L1542.3 615.1L1557.9 613.7L1573.5 612.2L1589.0 610.7L1604.5 609.1L1620.1 607.5L1635.7 605.8L1651.2 604.1L1666.8 602.4L1682.3 600.7L1697.8 598.8L1713.4 596.9L1728.9 594.8L1744.5 592.5L1760.0 590.2L1775.6 587.6L1791.2 583.9L1806.7 578.6" fill="none" stroke="#000000" stroke-width="4.0" stroke-linejoin="round"/><path d="M1153.6 642.5l5.8 10.4h-11.5zM1169.2 641.2l5.8 10.4h-11.5zM1184.7 639.9l5.8 10.4h-11.5zM1200.2 638.6l5.8 10.4h-11.5zM1215.8 637.3l5.8 10.4h-11.5zM1231.3 636.0l5.8 10.4h-11.5zM1246.9 634.7l5.8 10.4h-11.5zM1262.5 633.4l5.8 10.4h-11.5zM1278.0 632.1l5.8 10.4h-11.5zM1293.5 630.8l5.8 10.4h-11.5zM1309.1 629.5l5.8 10.4h-11.5zM1324.7 628.2l5.8 10.4h-11.5zM1340.2 626.9l5.8 10.4h-11.5zM1355.8 625.6l5.8 10.4h-11.5zM1371.3 624.2l5.8 10.4h-11.5zM1386.8 622.9l5.8 10.4h-11.5zM1402.4 621.6l5.8 10.4h-11.5zM1418.0 620.3l5.8 10.4h-11.5zM1433.5 619.0l5.8 10.4h-11.5zM1449.0 617.6l5.8 10.4h-11.5zM1464.6 616.3l5.8 10.4h-11.5zM1480.2 614.9l5.8 10.4h-11.5zM1495.7 613.6l5.8 10.4h-11.5zM1511.2 612.2l5.8 10.4h-11.5zM1526.8 610.8l5.8 10.4h-11.5zM1542.3 609.3l5.8 10.4h-11.5zM1557.9 607.9l5.8 10.4h-11.5zM1573.5 606.4l5.8 10.4h-11.5zM1589.0 604.9l5.8 10.4h-11.5zM1604.5 603.4l5.8 10.4h-11.5zM1620.1 601.7l5.8 10.4h-11.5zM1635.7 600.0l5.8 10.4h-11.5zM1651.2 598.3l5.8 10.4h-11.5zM1666.8 596.6l5.8 10.4h-11.5zM1682.3 594.9l5.8 10.4h-11.5zM1697.8 593.1l5.8 10.4h-11.5zM1713.4 591.1l5.8 10.4h-11.5zM1728.9 589.0l5.8 10.4h-11.5zM1744.5 586.8l5.8 10.4h-11.5zM1760.0 584.4l5.8 10.4h-11.5zM1775.6 581.9l5.8 10.4h-11.5zM1791.2 578.1l5.8 10.4h-11.5zM1806.7 572.9l5.8 10.4h-11.5z" fill="#000000"/>
<path d="M1153.6 645.9L1169.2 644.6L1184.7 643.3L1200.2 642.0L1215.8 640.7L1231.3 639.4L1246.9 638.1L1262.5 636.8L1278.0 635.5L1293.5 634.2L1309.1 632.9L1324.7 631.6L1340.2 630.3L1355.8 629.0L1371.3 627.7L1386.8 626.4L1402.4 625.0L1418.0 623.7L1433.5 622.4L1449.0 621.0L1464.6 619.7L1480.2 618.3L1495.7 616.9L1511.2 615.5L1526.8 614.1L1542.3 612.7L1557.9 611.2L1573.5 609.7L1589.0 608.2L1604.5 606.6L1620.1 605.0L1635.7 603.2L1651.2 601.4L1666.8 599.7L1682.3 597.9L1697.8 596.0L1713.4 594.0L1728.9 591.8L1744.5 589.5L1760.0 587.0L1775.6 584.3L1791.2 580.5L1806.7 575.1" fill="none" stroke="#FF00FF" stroke-width="4.0" stroke-linejoin="round"/><path d="M1148.8 641.1h9.6v9.6h-9.6zM1164.4 639.8h9.6v9.6h-9.6zM1179.9 638.5h9.6v9.6h-9.6zM1195.5 637.2h9.6v9.6h-9.6zM1211.0 635.9h9.6v9.6h-9.6zM1226.5 634.6h9.6v9.6h-9.6zM1242.1 633.3h9.6v9.6h-9.6zM1257.7 632.0h9.6v9.6h-9.6zM1273.2 630.7h9.6v9.6h-9.6zM1288.8 629.4h9.6v9.6h-9.6zM1304.3 628.1h9.6v9.6h-9.6zM1319.9 626.8h9.6v9.6h-9.6zM1335.4 625.5h9.6v9.6h-9.6zM1351.0 624.2h9.6v9.6h-9.6zM1366.5 622.9h9.6v9.6h-9.6zM1382.0 621.6h9.6v9.6h-9.6zM1397.6 620.2h9.6v9.6h-9.6zM1413.2 618.9h9.6v9.6h-9.6zM1428.7 617.6h9.6v9.6h-9.6zM1444.2 616.2h9.6v9.6h-9.6zM1459.8 614.9h9.6v9.6h-9.6zM1475.4 613.5h9.6v9.6h-9.6zM1490.9 612.1h9.6v9.6h-9.6zM1506.5 610.7h9.6v9.6h-9.6zM1522.0 609.3h9.6v9.6h-9.6zM1537.5 607.9h9.6v9.6h-9.6zM1553.1 606.4h9.6v9.6h-9.6zM1568.7 604.9h9.6v9.6h-9.6zM1584.2 603.4h9.6v9.6h-9.6zM1599.8 601.8h9.6v9.6h-9.6zM1615.3 600.2h9.6v9.6h-9.6zM1630.9 598.4h9.6v9.6h-9.6zM1646.4 596.6h9.6v9.6h-9.6zM1662.0 594.9h9.6v9.6h-9.6zM1677.5 593.1h9.6v9.6h-9.6zM1693.0 591.2h9.6v9.6h-9.6zM1708.6 589.2h9.6v9.6h-9.6zM1724.1 587.0h9.6v9.6h-9.6zM1739.7 584.7h9.6v9.6h-9.6zM1755.2 582.2h9.6v9.6h-9.6zM1770.8 579.5h9.6v9.6h-9.6zM1786.4 575.7h9.6v9.6h-9.6zM1801.9 570.3h9.6v9.6h-9.6z" fill="#FF00FF"/>
<path d="M1153.6 643.4L1169.2 642.1L1184.7 640.8L1200.2 639.5L1215.8 638.2L1231.3 636.9L1246.9 635.6L1262.5 634.3L1278.0 633.0L1293.5 631.7L1309.1 630.3L1324.7 629.0L1340.2 627.7L1355.8 626.4L1371.3 625.1L1386.8 623.8L1402.4 622.5L1418.0 621.1L1433.5 619.8L1449.0 618.4L1464.6 617.1L1480.2 615.7L1495.7 614.3L1511.2 612.9L1526.8 611.5L1542.3 610.1L1557.9 608.6L1573.5 607.1L1589.0 605.5L1604.5 603.9L1620.1 602.2L1635.7 600.4L1651.2 598.6L1666.8 596.8L1682.3 594.9L1697.8 593.0L1713.4 590.9L1728.9 588.6L1744.5 586.1L1760.0 583.6L1775.6 580.8L1791.2 576.9L1806.7 571.5" fill="none" stroke="#0000FF" stroke-width="4.0" stroke-linejoin="round"/><path d="M1148.8 643.4a4.8 4.8 0 1 0 9.6 0a4.8 4.8 0 1 0 -9.6 0zM1164.4 642.1a4.8 4.8 0 1 0 9.6 0a4.8 4.8 0 1 0 -9.6 0zM1179.9 640.8a4.8 4.8 0 1 0 9.6 0a4.8 4.8 0 1 0 -9.6 0zM1195.5 639.5a4.8 4.8 0 1 0 9.6 0a4.8 4.8 0 1 0 -9.6 0zM1211.0 638.2a4.8 4.8 0 1 0 9.6 0a4.8 4.8 0 1 0 -9.6 0zM1226.5 636.9a4.8 4.8 0 1 0 9.6 0a4.8 4.8 0 1 0 -9.6 0zM1242.1 635.6a4.8 4.8 0 1 0 9.6 0a4.8 4.8 0 1 0 -9.6 0zM1257.7 634.3a4.8 4.8 0 1 0 9.6 0a4.8 4.8 0 1 0 -9.6 0zM1273.2 633.0a4.8 4.8 0 1 0 9.6 0a4.8 4.8 0 1 0 -9.6 0zM1288.8 631.7a4.8 4.8 0 1 0 9.6 0a4.8 4.8 0 1 0 -9.6 0zM1304.3 630.3a4.8 4.8 0 1 0 9.6 0a4.8 4.8 0 1 0 -9.6 0zM1319.9 629.0a4.8 4.8 0 1 0 9.6 0a4.8 4.8 0 1 0 -9.6 0zM1335.4 627.7a4.8 4.8 0 1 0 9.6 0a4.8 4.8 0 1 0 -9.6 0zM1351.0 626.4a4.8 4.8 0 1 0 9.6 0a4.8 4.8 0 1 0 -9.6 0zM1366.5 625.1a4.8 4.8 0 1 0 9.6 0a4.8 4.8 0 1 0 -9.6 0zM1382.0 623.8a4.8 4.8 0 1 0 9.6 0a4.8 4.8 0 1 0 -9.6 0zM1397.6 622.5a4.8 4.8 0 1 0 9.6 0a4.8 4.8 0 1 0 -9.6 0zM1413.2 621.1a4.8 4.8 0 1 0 9.6 0a4.8 4.8 0 1 0 -9.6 0zM1428.7 619.8a4.8 4.8 0 1 0 9.6 0a4.8 4.8 0 1 0 -9.6 0zM1444.2 618.4a4.8 4.8 0 1 0 9.6 0a4.8 4.8 0 1 0 -9.6 0zM1459.8 617.1a4.8 4.8 0 1 0 9.6 0a4.8 4.8 0 1 0 -9.6 0zM1475.4 615.7a4.8 4.8 0 1 0 9.6 0a4.8 4.8 0 1 0 -9.6 0zM1490.9 614.3a4.8 4.8 0 1 0 9.6 0a4.8 4.8 0 1 0 -9.6 0zM1506.5 612.9a4.8 4.8 0 1 0 9.6 0a4.8 4.8 0 1 0 -9.6 0zM1522.0 611.5a4.8 4.8 0 1 0 9.6 0a4.8 4.8 0 1 0 -9.6 0zM1537.5 610.1a4.8 4.8 0 1 0 9.6 0a4.8 4.8 0 1 0 -9.6 0zM1553.1 608.6a4.8 4.8 0 1 0 9.6 0a4.8 4.8 0 1 0 -9.6 0zM1568.7 607.1a4.8 4.8 0 1 0 9.6 0a4.8 4.8 0 1 0 -9.6 0zM1584.2 605.5a4.8 4.8 0 1 0 9.6 0a4.8 4.8 0 1 0 -9.6 0zM1599.8 603.9a4.8 4.8 0 1 0 9.6 0a4.8 4.8 0 1 0 -9.6 0zM1615.3 602.2a4.8 4.8 0 1 0 9.6 0a4.8 4.8 0 1 0 -9.6 0zM1630.9 600.4a4.8 4.8 0 1 0 9.6 0a4.8 4.8 0 1 0 -9.6 0zM1646.4 598.6a4.8 4.8 0 1 0 9.6 0a4.8 4.8 0 1 0 -9.6 0zM1662.0 596.8a4.8 4.8 0 1 0 9.6 0a4.8 4.8 0 1 0 -9.6 0zM1677.5 594.9a4.8 4.8 0 1 0 9.6 0a4.8 4.8 0 1 0 -9.6 0zM1693.0 593.0a4.8 4.8 0 1 0 9.6 0a4.8 4.8 0 1 0 -9.6 0zM1708.6 590.9a4.8 4.8 0 1 0 9.6 0a4.8 4.8 0 1 0 -9.6 0zM1724.1 588.6a4.8 4.8 0 1 0 9.6 0a4.8 4.8 0 1 0 -9.6 0zM1739.7 586.1a4.8 4.8 0 1 0 9.6 0a4.8 4.8 0 1 0 -9.6 0zM1755.2 583.6a4.8 4.8 0 1 0 9.6 0a4.8 4.8 0 1 0 -9.6 0zM1770.8 580.8a4.8 4.8 0 1 0 9.6 0a4.8 4.8 0 1 0 -9.6 0zM1786.4 576.9a4.8 4.8 0 1 0 9.6 0a4.8 4.8 0 1 0 -9.6 0zM1801.9 571.5a4.8 4.8 0 1 0 9.6 0a4.8 4.8 0 1 0 -9.6 0z" fill="#0000FF"/>
<path d="M1153.6 640.6L1169.2 639.3L1184.7 638.0L1200.2 636.7L1215.8 635.4L1231.3 634.1L1246.9 632.8L1262.5 631.5L1278.0 630.2L1293.5 628.9L1309.1 627.5L1324.7 626.2L1340.2 624.9L1355.8 623.6L1371.3 622.3L1386.8 621.0L1402.4 619.7L1418.0 618.3L1433.5 617.0L1449.0 615.6L1464.6 614.3L1480.2 612.9L1495.7 611.5L1511.2 610.1L1526.8 608.6L1542.3 607.2L1557.9 605.7L1573.5 604.1L1589.0 602.6L1604.5 600.9L1620.1 599.1L1635.7 597.3L1651.2 595.4L1666.8 593.6L1682.3 591.7L1697.8 589.7L1713.4 587.5L1728.9 585.1L1744.5 582.4L1760.0 579.7L1775.6 576.8L1791.2 573.0L1806.7 568.0" fill="none" stroke="#808000" stroke-width="4.0" stroke-linejoin="round"/><path d="M1153.6 634.8l5.8 10.4h-11.5zM1169.2 633.5l5.8 10.4h-11.5zM1184.7 632.2l5.8 10.4h-11.5zM1200.2 630.9l5.8 10.4h-11.5zM1215.8 629.6l5.8 10.4h-11.5zM1231.3 628.3l5.8 10.4h-11.5zM1246.9 627.0l5.8 10.4h-11.5zM1262.5 625.7l5.8 10.4h-11.5zM1278.0 624.4l5.8 10.4h-11.5zM1293.5 623.1l5.8 10.4h-11.5zM1309.1 621.8l5.8 10.4h-11.5zM1324.7 620.5l5.8 10.4h-11.5zM1340.2 619.1l5.8 10.4h-11.5zM1355.8 617.8l5.8 10.4h-11.5zM1371.3 616.5l5.8 10.4h-11.5zM1386.8 615.2l5.8 10.4h-11.5zM1402.4 613.9l5.8 10.4h-11.5zM1418.0 612.6l5.8 10.4h-11.5zM1433.5 611.2l5.8 10.4h-11.5zM1449.0 609.9l5.8 10.4h-11.5zM1464.6 608.5l5.8 10.4h-11.5zM1480.2 607.1l5.8 10.4h-11.5zM1495.7 605.7l5.8 10.4h-11.5zM1511.2 604.3l5.8 10.4h-11.5zM1526.8 602.9l5.8 10.4h-11.5zM1542.3 601.4l5.8 10.4h-11.5zM1557.9 599.9l5.8 10.4h-11.5zM1573.5 598.4l5.8 10.4h-11.5zM1589.0 596.8l5.8 10.4h-11.5zM1604.5 595.1l5.8 10.4h-11.5zM1620.1 593.4l5.8 10.4h-11.5zM1635.7 591.5l5.8 10.4h-11.5zM1651.2 589.7l5.8 10.4h-11.5zM1666.8 587.8l5.8 10.4h-11.5zM1682.3 585.9l5.8 10.4h-11.5zM1697.8 583.9l5.8 10.4h-11.5zM1713.4 581.7l5.8 10.4h-11.5zM1728.9 579.3l5.8 10.4h-11.5zM1744.5 576.7l5.8 10.4h-11.5zM1760.0 574.0l5.8 10.4h-11.5zM1775.6 571.1l5.8 10.4h-11.5zM1791.2 567.3l5.8 10.4h-11.5zM1806.7 562.2l5.8 10.4h-11.5z" fill="#808000"/>
<path d="M1153.6 637.6L1169.2 636.3L1184.7 635.0L1200.2 633.7L1215.8 632.4L1231.3 631.1L1246.9 629.8L1262.5 628.5L1278.0 627.2L1293.5 625.9L1309.1 624.6L1324.7 623.2L1340.2 621.9L1355.8 620.6L1371.3 619.3L1386.8 618.0L1402.4 616.7L1418.0 615.3L1433.5 614.0L1449.0 612.6L1464.6 611.2L1480.2 609.9L1495.7 608.5L1511.2 607.0L1526.8 605.6L1542.3 604.1L1557.9 602.6L1573.5 601.0L1589.0 599.4L1604.5 597.7L1620.1 595.9L1635.7 594.0L1651.2 592.0L1666.8 590.1L1682.3 588.2L1697.8 586.1L1713.4 583.8L1728.9 581.3L1744.5 578.5L1760.0 575.6L1775.6 572.5L1791.2 568.3L1806.7 562.6" fill="none" stroke="#7030A0" stroke-width="4.0" stroke-linejoin="round"/><path d="M1148.8 637.6a4.8 4.8 0 1 0 9.6 0a4.8 4.8 0 1 0 -9.6 0zM1164.4 636.3a4.8 4.8 0 1 0 9.6 0a4.8 4.8 0 1 0 -9.6 0zM1179.9 635.0a4.8 4.8 0 1 0 9.6 0a4.8 4.8 0 1 0 -9.6 0zM1195.5 633.7a4.8 4.8 0 1 0 9.6 0a4.8 4.8 0 1 0 -9.6 0zM1211.0 632.4a4.8 4.8 0 1 0 9.6 0a4.8 4.8 0 1 0 -9.6 0zM1226.5 631.1a4.8 4.8 0 1 0 9.6 0a4.8 4.8 0 1 0 -9.6 0zM1242.1 629.8a4.8 4.8 0 1 0 9.6 0a4.8 4.8 0 1 0 -9.6 0zM1257.7 628.5a4.8 4.8 0 1 0 9.6 0a4.8 4.8 0 1 0 -9.6 0zM1273.2 627.2a4.8 4.8 0 1 0 9.6 0a4.8 4.8 0 1 0 -9.6 0zM1288.8 625.9a4.8 4.8 0 1 0 9.6 0a4.8 4.8 0 1 0 -9.6 0zM1304.3 624.6a4.8 4.8 0 1 0 9.6 0a4.8 4.8 0 1 0 -9.6 0zM1319.9 623.2a4.8 4.8 0 1 0 9.6 0a4.8 4.8 0 1 0 -9.6 0zM1335.4 621.9a4.8 4.8 0 1 0 9.6 0a4.8 4.8 0 1 0 -9.6 0zM1351.0 620.6a4.8 4.8 0 1 0 9.6 0a4.8 4.8 0 1 0 -9.6 0zM1366.5 619.3a4.8 4.8 0 1 0 9.6 0a4.8 4.8 0 1 0 -9.6 0zM1382.0 618.0a4.8 4.8 0 1 0 9.6 0a4.8 4.8 0 1 0 -9.6 0zM1397.6 616.7a4.8 4.8 0 1 0 9.6 0a4.8 4.8 0 1 0 -9.6 0zM1413.2 615.3a4.8 4.8 0 1 0 9.6 0a4.8 4.8 0 1 0 -9.6 0zM1428.7 614.0a4.8 4.8 0 1 0 9.6 0a4.8 4.8 0 1 0 -9.6 0zM1444.2 612.6a4.8 4.8 0 1 0 9.6 0a4.8 4.8 0 1 0 -9.6 0zM1459.8 611.2a4.8 4.8 0 1 0 9.6 0a4.8 4.8 0 1 0 -9.6 0zM1475.4 609.9a4.8 4.8 0 1 0 9.6 0a4.8 4.8 0 1 0 -9.6 0zM1490.9 608.5a4.8 4.8 0 1 0 9.6 0a4.8 4.8 0 1 0 -9.6 0zM1506.5 607.0a4.8 4.8 0 1 0 9.6 0a4.8 4.8 0 1 0 -9.6 0zM1522.0 605.6a4.8 4.8 0 1 0 9.6 0a4.8 4.8 0 1 0 -9.6 0zM1537.5 604.1a4.8 4.8 0 1 0 9.6 0a4.8 4.8 0 1 0 -9.6 0zM1553.1 602.6a4.8 4.8 0 1 0 9.6 0a4.8 4.8 0 1 0 -9.6 0zM1568.7 601.0a4.8 4.8 0 1 0 9.6 0a4.8 4.8 0 1 0 -9.6 0zM1584.2 599.4a4.8 4.8 0 1 0 9.6 0a4.8 4.8 0 1 0 -9.6 0zM1599.8 597.7a4.8 4.8 0 1 0 9.6 0a4.8 4.8 0 1 0 -9.6 0zM1615.3 595.9a4.8 4.8 0 1 0 9.6 0a4.8 4.8 0 1 0 -9.6 0zM1630.9 594.0a4.8 4.8 0 1 0 9.6 0a4.8 4.8 0 1 0 -9.6 0zM1646.4 592.0a4.8 4.8 0 1 0 9.6 0a4.8 4.8 0 1 0 -9.6 0zM1662.0 590.1a4.8 4.8 0 1 0 9.6 0a4.8 4.8 0 1 0 -9.6 0zM1677.5 588.2a4.8 4.8 0 1 0 9.6 0a4.8 4.8 0 1 0 -9.6 0zM1693.0 586.1a4.8 4.8 0 1 0 9.6 0a4.8 4.8 0 1 0 -9.6 0zM1708.6 583.8a4.8 4.8 0 1 0 9.6 0a4.8 4.8 0 1 0 -9.6 0zM1724.1 581.3a4.8 4.8 0 1 0 9.6 0a4.8 4.8 0 1 0 -9.6 0zM1739.7 578.5a4.8 4.8 0 1 0 9.6 0a4.8 4.8 0 1 0 -9.6 0zM1755.2 575.6a4.8 4.8 0 1 0 9.6 0a4.8 4.8 0 1 0 -9.6 0zM1770.8 572.5a4.8 4.8 0 1 0 9.6 0a4.8 4.8 0 1 0 -9.6 0zM1786.4 568.3a4.8 4.8 0 1 0 9.6 0a4.8 4.8 0 1 0 -9.6 0zM1801.9 562.6a4.8 4.8 0 1 0 9.6 0a4.8 4.8 0 1 0 -9.6 0z" fill="#7030A0"/>
<path d="M1153.6 634.5L1169.2 633.2L1184.7 631.9L1200.2 630.6L1215.8 629.3L1231.3 628.0L1246.9 626.7L1262.5 625.4L1278.0 624.1L1293.5 622.8L1309.1 621.5L1324.7 620.1L1340.2 618.8L1355.8 617.5L1371.3 616.2L1386.8 614.9L1402.4 613.6L1418.0 612.2L1433.5 610.9L1449.0 609.5L1464.6 608.1L1480.2 606.7L1495.7 605.3L1511.2 603.9L1526.8 602.4L1542.3 600.9L1557.9 599.3L1573.5 597.8L1589.0 596.1L1604.5 594.4L1620.1 592.5L1635.7 590.5L1651.2 588.5L1666.8 586.5L1682.3 584.5L1697.8 582.3L1713.4 579.9L1728.9 577.3L1744.5 574.3L1760.0 571.3L1775.6 568.0L1791.2 563.7L1806.7 557.9" fill="none" stroke="#FFC000" stroke-width="4.0" stroke-linejoin="round"/><path d="M1153.6 628.5l6.0 6.0l-6.0 6.0l-6.0 -6.0zM1169.2 627.2l6.0 6.0l-6.0 6.0l-6.0 -6.0zM1184.7 625.9l6.0 6.0l-6.0 6.0l-6.0 -6.0zM1200.2 624.6l6.0 6.0l-6.0 6.0l-6.0 -6.0zM1215.8 623.3l6.0 6.0l-6.0 6.0l-6.0 -6.0zM1231.3 622.0l6.0 6.0l-6.0 6.0l-6.0 -6.0zM1246.9 620.7l6.0 6.0l-6.0 6.0l-6.0 -6.0zM1262.5 619.4l6.0 6.0l-6.0 6.0l-6.0 -6.0zM1278.0 618.1l6.0 6.0l-6.0 6.0l-6.0 -6.0zM1293.5 616.8l6.0 6.0l-6.0 6.0l-6.0 -6.0zM1309.1 615.5l6.0 6.0l-6.0 6.0l-6.0 -6.0zM1324.7 614.1l6.0 6.0l-6.0 6.0l-6.0 -6.0zM1340.2 612.8l6.0 6.0l-6.0 6.0l-6.0 -6.0zM1355.8 611.5l6.0 6.0l-6.0 6.0l-6.0 -6.0zM1371.3 610.2l6.0 6.0l-6.0 6.0l-6.0 -6.0zM1386.8 608.9l6.0 6.0l-6.0 6.0l-6.0 -6.0zM1402.4 607.6l6.0 6.0l-6.0 6.0l-6.0 -6.0zM1418.0 606.2l6.0 6.0l-6.0 6.0l-6.0 -6.0zM1433.5 604.9l6.0 6.0l-6.0 6.0l-6.0 -6.0zM1449.0 603.5l6.0 6.0l-6.0 6.0l-6.0 -6.0zM1464.6 602.1l6.0 6.0l-6.0 6.0l-6.0 -6.0zM1480.2 600.7l6.0 6.0l-6.0 6.0l-6.0 -6.0zM1495.7 599.3l6.0 6.0l-6.0 6.0l-6.0 -6.0zM1511.2 597.9l6.0 6.0l-6.0 6.0l-6.0 -6.0zM1526.8 596.4l6.0 6.0l-6.0 6.0l-6.0 -6.0zM1542.3 594.9l6.0 6.0l-6.0 6.0l-6.0 -6.0zM1557.9 593.3l6.0 6.0l-6.0 6.0l-6.0 -6.0zM1573.5 591.8l6.0 6.0l-6.0 6.0l-6.0 -6.0zM1589.0 590.1l6.0 6.0l-6.0 6.0l-6.0 -6.0zM1604.5 588.4l6.0 6.0l-6.0 6.0l-6.0 -6.0zM1620.1 586.5l6.0 6.0l-6.0 6.0l-6.0 -6.0zM1635.7 584.5l6.0 6.0l-6.0 6.0l-6.0 -6.0zM1651.2 582.5l6.0 6.0l-6.0 6.0l-6.0 -6.0zM1666.8 580.5l6.0 6.0l-6.0 6.0l-6.0 -6.0zM1682.3 578.5l6.0 6.0l-6.0 6.0l-6.0 -6.0zM1697.8 576.3l6.0 6.0l-6.0 6.0l-6.0 -6.0zM1713.4 573.9l6.0 6.0l-6.0 6.0l-6.0 -6.0zM1728.9 571.3l6.0 6.0l-6.0 6.0l-6.0 -6.0zM1744.5 568.3l6.0 6.0l-6.0 6.0l-6.0 -6.0zM1760.0 565.3l6.0 6.0l-6.0 6.0l-6.0 -6.0zM1775.6 562.0l6.0 6.0l-6.0 6.0l-6.0 -6.0zM1791.2 557.7l6.0 6.0l-6.0 6.0l-6.0 -6.0zM1806.7 551.9l6.0 6.0l-6.0 6.0l-6.0 -6.0z" fill="#FFC000"/>
<path d="M1153.6 631.3L1169.2 630.0L1184.7 628.8L1200.2 627.4L1215.8 626.1L1231.3 624.8L1246.9 623.5L1262.5 622.2L1278.0 620.9L1293.5 619.6L1309.1 618.3L1324.7 617.0L1340.2 615.7L1355.8 614.3L1371.3 613.0L1386.8 611.7L1402.4 610.4L1418.0 609.0L1433.5 607.7L1449.0 606.3L1464.6 604.9L1480.2 603.5L1495.7 602.1L1511.2 600.6L1526.8 599.1L1542.3 597.6L1557.9 596.0L1573.5 594.4L1589.0 592.7L1604.5 590.9L1620.1 589.0L1635.7 586.9L1651.2 584.8L1666.8 582.8L1682.3 580.7L1697.8 578.4L1713.4 575.9L1728.9 573.1L1744.5 569.9L1760.0 566.7L1775.6 563.3L1791.2 558.7L1806.7 552.5" fill="none" stroke="#000000" stroke-width="4.0" stroke-linejoin="round"/><path d="M1153.6 625.6l5.8 10.4h-11.5zM1169.2 624.3l5.8 10.4h-11.5zM1184.7 623.0l5.8 10.4h-11.5zM1200.2 621.7l5.8 10.4h-11.5zM1215.8 620.4l5.8 10.4h-11.5zM1231.3 619.1l5.8 10.4h-11.5zM1246.9 617.8l5.8 10.4h-11.5zM1262.5 616.5l5.8 10.4h-11.5zM1278.0 615.2l5.8 10.4h-11.5zM1293.5 613.9l5.8 10.4h-11.5zM1309.1 612.6l5.8 10.4h-11.5zM1324.7 611.2l5.8 10.4h-11.5zM1340.2 609.9l5.8 10.4h-11.5zM1355.8 608.6l5.8 10.4h-11.5zM1371.3 607.3l5.8 10.4h-11.5zM1386.8 606.0l5.8 10.4h-11.5zM1402.4 604.6l5.8 10.4h-11.5zM1418.0 603.3l5.8 10.4h-11.5zM1433.5 601.9l5.8 10.4h-11.5zM1449.0 600.5l5.8 10.4h-11.5zM1464.6 599.2l5.8 10.4h-11.5zM1480.2 597.7l5.8 10.4h-11.5zM1495.7 596.3l5.8 10.4h-11.5zM1511.2 594.9l5.8 10.4h-11.5zM1526.8 593.4l5.8 10.4h-11.5zM1542.3 591.8l5.8 10.4h-11.5zM1557.9 590.3l5.8 10.4h-11.5zM1573.5 588.6l5.8 10.4h-11.5zM1589.0 587.0l5.8 10.4h-11.5zM1604.5 585.2l5.8 10.4h-11.5zM1620.1 583.2l5.8 10.4h-11.5zM1635.7 581.1l5.8 10.4h-11.5zM1651.2 579.1l5.8 10.4h-11.5zM1666.8 577.1l5.8 10.4h-11.5zM1682.3 574.9l5.8 10.4h-11.5zM1697.8 572.6l5.8 10.4h-11.5zM1713.4 570.1l5.8 10.4h-11.5zM1728.9 567.3l5.8 10.4h-11.5zM1744.5 564.2l5.8 10.4h-11.5zM1760.0 560.9l5.8 10.4h-11.5zM1775.6 557.5l5.8 10.4h-11.5zM1791.2 552.9l5.8 10.4h-11.5zM1806.7 546.8l5.8 10.4h-11.5z" fill="#000000"/>
<path d="M1153.6 628.2L1169.2 626.9L1184.7 625.6L1200.2 624.3L1215.8 623.0L1231.3 621.7L1246.9 620.4L1262.5 619.1L1278.0 617.8L1293.5 616.5L1309.1 615.1L1324.7 613.8L1340.2 612.5L1355.8 611.2L1371.3 609.9L1386.8 608.5L1402.4 607.2L1418.0 605.8L1433.5 604.5L1449.0 603.1L1464.6 601.7L1480.2 600.2L1495.7 598.8L1511.2 597.3L1526.8 595.7L1542.3 594.2L1557.9 592.5L1573.5 590.8L1589.0 589.1L1604.5 587.2L1620.1 585.1L1635.7 582.8L1651.2 580.6L1666.8 578.4L1682.3 576.1L1697.8 573.6L1713.4 570.8L1728.9 567.6L1744.5 564.1L1760.0 560.4L1775.6 556.6L1791.2 551.7L1806.7 545.4" fill="none" stroke="#FF0000" stroke-width="4.0" stroke-linejoin="round"/><path d="M1148.8 623.4h9.6v9.6h-9.6zM1164.4 622.1h9.6v9.6h-9.6zM1179.9 620.8h9.6v9.6h-9.6zM1195.5 619.5h9.6v9.6h-9.6zM1211.0 618.2h9.6v9.6h-9.6zM1226.5 616.9h9.6v9.6h-9.6zM1242.1 615.6h9.6v9.6h-9.6zM1257.7 614.3h9.6v9.6h-9.6zM1273.2 613.0h9.6v9.6h-9.6zM1288.8 611.7h9.6v9.6h-9.6zM1304.3 610.3h9.6v9.6h-9.6zM1319.9 609.0h9.6v9.6h-9.6zM1335.4 607.7h9.6v9.6h-9.6zM1351.0 606.4h9.6v9.6h-9.6zM1366.5 605.1h9.6v9.6h-9.6zM1382.0 603.7h9.6v9.6h-9.6zM1397.6 602.4h9.6v9.6h-9.6zM1413.2 601.0h9.6v9.6h-9.6zM1428.7 599.7h9.6v9.6h-9.6zM1444.2 598.3h9.6v9.6h-9.6zM1459.8 596.9h9.6v9.6h-9.6zM1475.4 595.4h9.6v9.6h-9.6zM1490.9 594.0h9.6v9.6h-9.6zM1506.5 592.5h9.6v9.6h-9.6zM1522.0 590.9h9.6v9.6h-9.6zM1537.5 589.4h9.6v9.6h-9.6zM1553.1 587.7h9.6v9.6h-9.6zM1568.7 586.0h9.6v9.6h-9.6zM1584.2 584.3h9.6v9.6h-9.6zM1599.8 582.4h9.6v9.6h-9.6zM1615.3 580.3h9.6v9.6h-9.6zM1630.9 578.0h9.6v9.6h-9.6zM1646.4 575.8h9.6v9.6h-9.6zM1662.0 573.6h9.6v9.6h-9.6zM1677.5 571.3h9.6v9.6h-9.6zM1693.0 568.8h9.6v9.6h-9.6zM1708.6 566.0h9.6v9.6h-9.6zM1724.1 562.8h9.6v9.6h-9.6zM1739.7 559.3h9.6v9.6h-9.6zM1755.2 555.6h9.6v9.6h-9.6zM1770.8 551.8h9.6v9.6h-9.6zM1786.4 546.9h9.6v9.6h-9.6zM1801.9 540.6h9.6v9.6h-9.6z" fill="#FF0000"/>
<path d="M1153.6 625.0L1169.2 623.7L1184.7 622.4L1200.2 621.1L1215.8 619.7L1231.3 618.4L1246.9 617.1L1262.5 615.8L1278.0 614.5L1293.5 613.2L1309.1 611.9L1324.7 610.5L1340.2 609.2L1355.8 607.9L1371.3 606.6L1386.8 605.3L1402.4 603.9L1418.0 602.5L1433.5 601.1L1449.0 599.7L1464.6 598.3L1480.2 596.8L1495.7 595.3L1511.2 593.8L1526.8 592.2L1542.3 590.6L1557.9 588.8L1573.5 587.1L1589.0 585.2L1604.5 583.2L1620.1 580.9L1635.7 578.4L1651.2 576.0L1666.8 573.6L1682.3 571.0L1697.8 568.2L1713.4 565.1L1728.9 561.5L1744.5 557.5L1760.0 553.3L1775.6 549.0L1791.2 543.9L1806.7 537.7" fill="none" stroke="#A6A6A6" stroke-width="4.0" stroke-linejoin="round"/><path d="M1153.6 619.0l6.0 6.0l-6.0 6.0l-6.0 -6.0zM1169.2 617.7l6.0 6.0l-6.0 6.0l-6.0 -6.0zM1184.7 616.4l6.0 6.0l-6.0 6.0l-6.0 -6.0zM1200.2 615.1l6.0 6.0l-6.0 6.0l-6.0 -6.0zM1215.8 613.7l6.0 6.0l-6.0 6.0l-6.0 -6.0zM1231.3 612.4l6.0 6.0l-6.0 6.0l-6.0 -6.0zM1246.9 611.1l6.0 6.0l-6.0 6.0l-6.0 -6.0zM1262.5 609.8l6.0 6.0l-6.0 6.0l-6.0 -6.0zM1278.0 608.5l6.0 6.0l-6.0 6.0l-6.0 -6.0zM1293.5 607.2l6.0 6.0l-6.0 6.0l-6.0 -6.0zM1309.1 605.9l6.0 6.0l-6.0 6.0l-6.0 -6.0zM1324.7 604.5l6.0 6.0l-6.0 6.0l-6.0 -6.0zM1340.2 603.2l6.0 6.0l-6.0 6.0l-6.0 -6.0zM1355.8 601.9l6.0 6.0l-6.0 6.0l-6.0 -6.0zM1371.3 600.6l6.0 6.0l-6.0 6.0l-6.0 -6.0zM1386.8 599.3l6.0 6.0l-6.0 6.0l-6.0 -6.0zM1402.4 597.9l6.0 6.0l-6.0 6.0l-6.0 -6.0zM1418.0 596.5l6.0 6.0l-6.0 6.0l-6.0 -6.0zM1433.5 595.1l6.0 6.0l-6.0 6.0l-6.0 -6.0zM1449.0 593.7l6.0 6.0l-6.0 6.0l-6.0 -6.0zM1464.6 592.3l6.0 6.0l-6.0 6.0l-6.0 -6.0zM1480.2 590.8l6.0 6.0l-6.0 6.0l-6.0 -6.0zM1495.7 589.3l6.0 6.0l-6.0 6.0l-6.0 -6.0zM1511.2 587.8l6.0 6.0l-6.0 6.0l-6.0 -6.0zM1526.8 586.2l6.0 6.0l-6.0 6.0l-6.0 -6.0zM1542.3 584.6l6.0 6.0l-6.0 6.0l-6.0 -6.0zM1557.9 582.8l6.0 6.0l-6.0 6.0l-6.0 -6.0zM1573.5 581.1l6.0 6.0l-6.0 6.0l-6.0 -6.0zM1589.0 579.2l6.0 6.0l-6.0 6.0l-6.0 -6.0zM1604.5 577.2l6.0 6.0l-6.0 6.0l-6.0 -6.0zM1620.1 574.9l6.0 6.0l-6.0 6.0l-6.0 -6.0zM1635.7 572.4l6.0 6.0l-6.0 6.0l-6.0 -6.0zM1651.2 570.0l6.0 6.0l-6.0 6.0l-6.0 -6.0zM1666.8 567.6l6.0 6.0l-6.0 6.0l-6.0 -6.0zM1682.3 565.0l6.0 6.0l-6.0 6.0l-6.0 -6.0zM1697.8 562.2l6.0 6.0l-6.0 6.0l-6.0 -6.0zM1713.4 559.1l6.0 6.0l-6.0 6.0l-6.0 -6.0zM1728.9 555.5l6.0 6.0l-6.0 6.0l-6.0 -6.0zM1744.5 551.5l6.0 6.0l-6.0 6.0l-6.0 -6.0zM1760.0 547.3l6.0 6.0l-6.0 6.0l-6.0 -6.0zM1775.6 543.0l6.0 6.0l-6.0 6.0l-6.0 -6.0zM1791.2 537.9l6.0 6.0l-6.0 6.0l-6.0 -6.0zM1806.7 531.7l6.0 6.0l-6.0 6.0l-6.0 -6.0z" fill="#A6A6A6"/>
<path d="M1153.6 621.6L1169.2 620.3L1184.7 619.0L1200.2 617.7L1215.8 616.4L1231.3 615.1L1246.9 613.8L1262.5 612.4L1278.0 611.1L1293.5 609.8L1309.1 608.5L1324.7 607.1L1340.2 605.8L1355.8 604.5L1371.3 603.2L1386.8 601.8L1402.4 600.5L1418.0 599.1L1433.5 597.7L1449.0 596.2L1464.6 594.8L1480.2 593.3L1495.7 591.7L1511.2 590.1L1526.8 588.5L1542.3 586.7L1557.9 584.9L1573.5 583.1L1589.0 581.0L1604.5 578.9L1620.1 576.4L1635.7 573.6L1651.2 570.9L1666.8 568.3L1682.3 565.4L1697.8 562.3L1713.4 558.8L1728.9 554.7L1744.5 550.0L1760.0 545.2L1775.6 540.2L1791.2 534.3L1806.7 527.0" fill="none" stroke="#17375E" stroke-width="4.0" stroke-linejoin="round"/><path d="M1148.8 621.6a4.8 4.8 0 1 0 9.6 0a4.8 4.8 0 1 0 -9.6 0zM1164.4 620.3a4.8 4.8 0 1 0 9.6 0a4.8 4.8 0 1 0 -9.6 0zM1179.9 619.0a4.8 4.8 0 1 0 9.6 0a4.8 4.8 0 1 0 -9.6 0zM1195.5 617.7a4.8 4.8 0 1 0 9.6 0a4.8 4.8 0 1 0 -9.6 0zM1211.0 616.4a4.8 4.8 0 1 0 9.6 0a4.8 4.8 0 1 0 -9.6 0zM1226.5 615.1a4.8 4.8 0 1 0 9.6 0a4.8 4.8 0 1 0 -9.6 0zM1242.1 613.8a4.8 4.8 0 1 0 9.6 0a4.8 4.8 0 1 0 -9.6 0zM1257.7 612.4a4.8 4.8 0 1 0 9.6 0a4.8 4.8 0 1 0 -9.6 0zM1273.2 611.1a4.8 4.8 0 1 0 9.6 0a4.8 4.8 0 1 0 -9.6 0zM1288.8 609.8a4.8 4.8 0 1 0 9.6 0a4.8 4.8 0 1 0 -9.6 0zM1304.3 608.5a4.8 4.8 0 1 0 9.6 0a4.8 4.8 0 1 0 -9.6 0zM1319.9 607.1a4.8 4.8 0 1 0 9.6 0a4.8 4.8 0 1 0 -9.6 0zM1335.4 605.8a4.8 4.8 0 1 0 9.6 0a4.8 4.8 0 1 0 -9.6 0zM1351.0 604.5a4.8 4.8 0 1 0 9.6 0a4.8 4.8 0 1 0 -9.6 0zM1366.5 603.2a4.8 4.8 0 1 0 9.6 0a4.8 4.8 0 1 0 -9.6 0zM1382.0 601.8a4.8 4.8 0 1 0 9.6 0a4.8 4.8 0 1 0 -9.6 0zM1397.6 600.5a4.8 4.8 0 1 0 9.6 0a4.8 4.8 0 1 0 -9.6 0zM1413.2 599.1a4.8 4.8 0 1 0 9.6 0a4.8 4.8 0 1 0 -9.6 0zM1428.7 597.7a4.8 4.8 0 1 0 9.6 0a4.8 4.8 0 1 0 -9.6 0zM1444.2 596.2a4.8 4.8 0 1 0 9.6 0a4.8 4.8 0 1 0 -9.6 0zM1459.8 594.8a4.8 4.8 0 1 0 9.6 0a4.8 4.8 0 1 0 -9.6 0zM1475.4 593.3a4.8 4.8 0 1 0 9.6 0a4.8 4.8 0 1 0 -9.6 0zM1490.9 591.7a4.8 4.8 0 1 0 9.6 0a4.8 4.8 0 1 0 -9.6 0zM1506.5 590.1a4.8 4.8 0 1 0 9.6 0a4.8 4.8 0 1 0 -9.6 0zM1522.0 588.5a4.8 4.8 0 1 0 9.6 0a4.8 4.8 0 1 0 -9.6 0zM1537.5 586.7a4.8 4.8 0 1 0 9.6 0a4.8 4.8 0 1 0 -9.6 0zM1553.1 584.9a4.8 4.8 0 1 0 9.6 0a4.8 4.8 0 1 0 -9.6 0zM1568.7 583.1a4.8 4.8 0 1 0 9.6 0a4.8 4.8 0 1 0 -9.6 0zM1584.2 581.0a4.8 4.8 0 1 0 9.6 0a4.8 4.8 0 1 0 -9.6 0zM1599.8 578.9a4.8 4.8 0 1 0 9.6 0a4.8 4.8 0 1 0 -9.6 0zM1615.3 576.4a4.8 4.8 0 1 0 9.6 0a4.8 4.8 0 1 0 -9.6 0zM1630.9 573.6a4.8 4.8 0 1 0 9.6 0a4.8 4.8 0 1 0 -9.6 0zM1646.4 570.9a4.8 4.8 0 1 0 9.6 0a4.8 4.8 0 1 0 -9.6 0zM1662.0 568.3a4.8 4.8 0 1 0 9.6 0a4.8 4.8 0 1 0 -9.6 0zM1677.5 565.4a4.8 4.8 0 1 0 9.6 0a4.8 4.8 0 1 0 -9.6 0zM1693.0 562.3a4.8 4.8 0 1 0 9.6 0a4.8 4.8 0 1 0 -9.6 0zM1708.6 558.8a4.8 4.8 0 1 0 9.6 0a4.8 4.8 0 1 0 -9.6 0zM1724.1 554.7a4.8 4.8 0 1 0 9.6 0a4.8 4.8 0 1 0 -9.6 0zM1739.7 550.0a4.8 4.8 0 1 0 9.6 0a4.8 4.8 0 1 0 -9.6 0zM1755.2 545.2a4.8 4.8 0 1 0 9.6 0a4.8 4.8 0 1 0 -9.6 0zM1770.8 540.2a4.8 4.8 0 1 0 9.6 0a4.8 4.8 0 1 0 -9.6 0zM1786.4 534.3a4.8 4.8 0 1 0 9.6 0a4.8 4.8 0 1 0 -9.6 0zM1801.9 527.0a4.8 4.8 0 1 0 9.6 0a4.8 4.8 0 1 0 -9.6 0z" fill="#17375E"/>
<path d="M1153.6 618.4L1169.2 617.1L1184.7 615.8L1200.2 614.5L1215.8 613.2L1231.3 611.8L1246.9 610.5L1262.5 609.2L1278.0 607.9L1293.5 606.6L1309.1 605.3L1324.7 603.9L1340.2 602.5L1355.8 601.2L1371.3 599.9L1386.8 598.6L1402.4 597.2L1418.0 595.8L1433.5 594.3L1449.0 592.9L1464.6 591.4L1480.2 589.8L1495.7 588.2L1511.2 586.6L1526.8 584.8L1542.3 583.0L1557.9 581.1L1573.5 579.1L1589.0 576.9L1604.5 574.5L1620.1 571.7L1635.7 568.7L1651.2 565.7L1666.8 562.7L1682.3 559.5L1697.8 556.0L1713.4 552.0L1728.9 547.3L1744.5 541.8L1760.0 536.2L1775.6 530.7L1791.2 525.1L1806.7 519.3" fill="none" stroke="#339966" stroke-width="4.0" stroke-linejoin="round"/><path d="M1148.8 613.6l9.6 9.6M1148.8 623.2l9.6 -9.6M1164.4 612.3l9.6 9.6M1164.4 621.9l9.6 -9.6M1179.9 611.0l9.6 9.6M1179.9 620.6l9.6 -9.6M1195.5 609.7l9.6 9.6M1195.5 619.3l9.6 -9.6M1211.0 608.4l9.6 9.6M1211.0 618.0l9.6 -9.6M1226.5 607.0l9.6 9.6M1226.5 616.6l9.6 -9.6M1242.1 605.7l9.6 9.6M1242.1 615.3l9.6 -9.6M1257.7 604.4l9.6 9.6M1257.7 614.0l9.6 -9.6M1273.2 603.1l9.6 9.6M1273.2 612.7l9.6 -9.6M1288.8 601.8l9.6 9.6M1288.8 611.4l9.6 -9.6M1304.3 600.5l9.6 9.6M1304.3 610.1l9.6 -9.6M1319.9 599.1l9.6 9.6M1319.9 608.7l9.6 -9.6M1335.4 597.7l9.6 9.6M1335.4 607.3l9.6 -9.6M1351.0 596.4l9.6 9.6M1351.0 606.0l9.6 -9.6M1366.5 595.1l9.6 9.6M1366.5 604.7l9.6 -9.6M1382.0 593.8l9.6 9.6M1382.0 603.4l9.6 -9.6M1397.6 592.4l9.6 9.6M1397.6 602.0l9.6 -9.6M1413.2 591.0l9.6 9.6M1413.2 600.6l9.6 -9.6M1428.7 589.5l9.6 9.6M1428.7 599.1l9.6 -9.6M1444.2 588.1l9.6 9.6M1444.2 597.7l9.6 -9.6M1459.8 586.6l9.6 9.6M1459.8 596.2l9.6 -9.6M1475.4 585.0l9.6 9.6M1475.4 594.6l9.6 -9.6M1490.9 583.4l9.6 9.6M1490.9 593.0l9.6 -9.6M1506.5 581.8l9.6 9.6M1506.5 591.4l9.6 -9.6M1522.0 580.0l9.6 9.6M1522.0 589.6l9.6 -9.6M1537.5 578.2l9.6 9.6M1537.5 587.8l9.6 -9.6M1553.1 576.3l9.6 9.6M1553.1 585.9l9.6 -9.6M1568.7 574.3l9.6 9.6M1568.7 583.9l9.6 -9.6M1584.2 572.1l9.6 9.6M1584.2 581.7l9.6 -9.6M1599.8 569.7l9.6 9.6M1599.8 579.3l9.6 -9.6M1615.3 566.9l9.6 9.6M1615.3 576.5l9.6 -9.6M1630.9 563.9l9.6 9.6M1630.9 573.5l9.6 -9.6M1646.4 560.9l9.6 9.6M1646.4 570.5l9.6 -9.6M1662.0 557.9l9.6 9.6M1662.0 567.5l9.6 -9.6M1677.5 554.7l9.6 9.6M1677.5 564.3l9.6 -9.6M1693.0 551.2l9.6 9.6M1693.0 560.8l9.6 -9.6M1708.6 547.2l9.6 9.6M1708.6 556.8l9.6 -9.6M1724.1 542.5l9.6 9.6M1724.1 552.1l9.6 -9.6M1739.7 537.0l9.6 9.6M1739.7 546.6l9.6 -9.6M1755.2 531.4l9.6 9.6M1755.2 541.0l9.6 -9.6M1770.8 525.9l9.6 9.6M1770.8 535.5l9.6 -9.6M1786.4 520.3l9.6 9.6M1786.4 529.9l9.6 -9.6M1801.9 514.5l9.6 9.6M1801.9 524.1l9.6 -9.6" fill="none" stroke="#339966" stroke-width="1.3"/>
<path d="M1153.6 615.5L1169.2 614.2L1184.7 612.9L1200.2 611.5L1215.8 610.2L1231.3 608.9L1246.9 607.6L1262.5 606.3L1278.0 605.0L1293.5 603.7L1309.1 602.3L1324.7 600.9L1340.2 599.5L1355.8 598.2L1371.3 596.9L1386.8 595.6L1402.4 594.2L1418.0 592.7L1433.5 591.3L1449.0 589.7L1464.6 588.2L1480.2 586.6L1495.7 584.9L1511.2 583.2L1526.8 581.4L1542.3 579.4L1557.9 577.4L1573.5 575.2L1589.0 572.8L1604.5 570.2L1620.1 567.1L1635.7 563.6L1651.2 560.2L1666.8 556.9L1682.3 553.3L1697.8 549.3L1713.4 544.7L1728.9 539.1L1744.5 532.8L1760.0 526.2L1775.6 519.6L1791.2 512.7L1806.7 505.1" fill="none" stroke="#FF6600" stroke-width="4.0" stroke-linejoin="round"/><path d="M1148.8 615.5a4.8 4.8 0 1 0 9.6 0a4.8 4.8 0 1 0 -9.6 0zM1164.4 614.2a4.8 4.8 0 1 0 9.6 0a4.8 4.8 0 1 0 -9.6 0zM1179.9 612.9a4.8 4.8 0 1 0 9.6 0a4.8 4.8 0 1 0 -9.6 0zM1195.5 611.5a4.8 4.8 0 1 0 9.6 0a4.8 4.8 0 1 0 -9.6 0zM1211.0 610.2a4.8 4.8 0 1 0 9.6 0a4.8 4.8 0 1 0 -9.6 0zM1226.5 608.9a4.8 4.8 0 1 0 9.6 0a4.8 4.8 0 1 0 -9.6 0zM1242.1 607.6a4.8 4.8 0 1 0 9.6 0a4.8 4.8 0 1 0 -9.6 0zM1257.7 606.3a4.8 4.8 0 1 0 9.6 0a4.8 4.8 0 1 0 -9.6 0zM1273.2 605.0a4.8 4.8 0 1 0 9.6 0a4.8 4.8 0 1 0 -9.6 0zM1288.8 603.7a4.8 4.8 0 1 0 9.6 0a4.8 4.8 0 1 0 -9.6 0zM1304.3 602.3a4.8 4.8 0 1 0 9.6 0a4.8 4.8 0 1 0 -9.6 0zM1319.9 600.9a4.8 4.8 0 1 0 9.6 0a4.8 4.8 0 1 0 -9.6 0zM1335.4 599.5a4.8 4.8 0 1 0 9.6 0a4.8 4.8 0 1 0 -9.6 0zM1351.0 598.2a4.8 4.8 0 1 0 9.6 0a4.8 4.8 0 1 0 -9.6 0zM1366.5 596.9a4.8 4.8 0 1 0 9.6 0a4.8 4.8 0 1 0 -9.6 0zM1382.0 595.6a4.8 4.8 0 1 0 9.6 0a4.8 4.8 0 1 0 -9.6 0zM1397.6 594.2a4.8 4.8 0 1 0 9.6 0a4.8 4.8 0 1 0 -9.6 0zM1413.2 592.7a4.8 4.8 0 1 0 9.6 0a4.8 4.8 0 1 0 -9.6 0zM1428.7 591.3a4.8 4.8 0 1 0 9.6 0a4.8 4.8 0 1 0 -9.6 0zM1444.2 589.7a4.8 4.8 0 1 0 9.6 0a4.8 4.8 0 1 0 -9.6 0zM1459.8 588.2a4.8 4.8 0 1 0 9.6 0a4.8 4.8 0 1 0 -9.6 0zM1475.4 586.6a4.8 4.8 0 1 0 9.6 0a4.8 4.8 0 1 0 -9.6 0zM1490.9 584.9a4.8 4.8 0 1 0 9.6 0a4.8 4.8 0 1 0 -9.6 0zM1506.5 583.2a4.8 4.8 0 1 0 9.6 0a4.8 4.8 0 1 0 -9.6 0zM1522.0 581.4a4.8 4.8 0 1 0 9.6 0a4.8 4.8 0 1 0 -9.6 0zM1537.5 579.4a4.8 4.8 0 1 0 9.6 0a4.8 4.8 0 1 0 -9.6 0zM1553.1 577.4a4.8 4.8 0 1 0 9.6 0a4.8 4.8 0 1 0 -9.6 0zM1568.7 575.2a4.8 4.8 0 1 0 9.6 0a4.8 4.8 0 1 0 -9.6 0zM1584.2 572.8a4.8 4.8 0 1 0 9.6 0a4.8 4.8 0 1 0 -9.6 0zM1599.8 570.2a4.8 4.8 0 1 0 9.6 0a4.8 4.8 0 1 0 -9.6 0zM1615.3 567.1a4.8 4.8 0 1 0 9.6 0a4.8 4.8 0 1 0 -9.6 0zM1630.9 563.6a4.8 4.8 0 1 0 9.6 0a4.8 4.8 0 1 0 -9.6 0zM1646.4 560.2a4.8 4.8 0 1 0 9.6 0a4.8 4.8 0 1 0 -9.6 0zM1662.0 556.9a4.8 4.8 0 1 0 9.6 0a4.8 4.8 0 1 0 -9.6 0zM1677.5 553.3a4.8 4.8 0 1 0 9.6 0a4.8 4.8 0 1 0 -9.6 0zM1693.0 549.3a4.8 4.8 0 1 0 9.6 0a4.8 4.8 0 1 0 -9.6 0zM1708.6 544.7a4.8 4.8 0 1 0 9.6 0a4.8 4.8 0 1 0 -9.6 0zM1724.1 539.1a4.8 4.8 0 1 0 9.6 0a4.8 4.8 0 1 0 -9.6 0zM1739.7 532.8a4.8 4.8 0 1 0 9.6 0a4.8 4.8 0 1 0 -9.6 0zM1755.2 526.2a4.8 4.8 0 1 0 9.6 0a4.8 4.8 0 1 0 -9.6 0zM1770.8 519.6a4.8 4.8 0 1 0 9.6 0a4.8 4.8 0 1 0 -9.6 0zM1786.4 512.7a4.8 4.8 0 1 0 9.6 0a4.8 4.8 0 1 0 -9.6 0zM1801.9 505.1a4.8 4.8 0 1 0 9.6 0a4.8 4.8 0 1 0 -9.6 0z" fill="#FF6600"/>
<path d="M1153.6 612.7L1169.2 611.4L1184.7 610.1L1200.2 608.8L1215.8 607.5L1231.3 606.1L1246.9 604.8L1262.5 603.5L1278.0 602.2L1293.5 600.9L1309.1 599.5L1324.7 598.1L1340.2 596.7L1355.8 595.4L1371.3 594.1L1386.8 592.7L1402.4 591.3L1418.0 589.8L1433.5 588.3L1449.0 586.7L1464.6 585.1L1480.2 583.5L1495.7 581.7L1511.2 579.9L1526.8 577.9L1542.3 575.8L1557.9 573.6L1573.5 571.3L1589.0 568.6L1604.5 565.7L1620.1 562.2L1635.7 558.3L1651.2 554.4L1666.8 550.6L1682.3 546.5L1697.8 541.9L1713.4 536.5L1728.9 530.0L1744.5 522.5L1760.0 514.7L1775.6 507.3L1791.2 500.8L1806.7 495.0" fill="none" stroke="#333300" stroke-width="4.0" stroke-linejoin="round"/><path d="M1153.6 606.7l6.0 6.0l-6.0 6.0l-6.0 -6.0zM1169.2 605.4l6.0 6.0l-6.0 6.0l-6.0 -6.0zM1184.7 604.1l6.0 6.0l-6.0 6.0l-6.0 -6.0zM1200.2 602.8l6.0 6.0l-6.0 6.0l-6.0 -6.0zM1215.8 601.5l6.0 6.0l-6.0 6.0l-6.0 -6.0zM1231.3 600.1l6.0 6.0l-6.0 6.0l-6.0 -6.0zM1246.9 598.8l6.0 6.0l-6.0 6.0l-6.0 -6.0zM1262.5 597.5l6.0 6.0l-6.0 6.0l-6.0 -6.0zM1278.0 596.2l6.0 6.0l-6.0 6.0l-6.0 -6.0zM1293.5 594.9l6.0 6.0l-6.0 6.0l-6.0 -6.0zM1309.1 593.5l6.0 6.0l-6.0 6.0l-6.0 -6.0zM1324.7 592.1l6.0 6.0l-6.0 6.0l-6.0 -6.0zM1340.2 590.7l6.0 6.0l-6.0 6.0l-6.0 -6.0zM1355.8 589.4l6.0 6.0l-6.0 6.0l-6.0 -6.0zM1371.3 588.1l6.0 6.0l-6.0 6.0l-6.0 -6.0zM1386.8 586.7l6.0 6.0l-6.0 6.0l-6.0 -6.0zM1402.4 585.3l6.0 6.0l-6.0 6.0l-6.0 -6.0zM1418.0 583.8l6.0 6.0l-6.0 6.0l-6.0 -6.0zM1433.5 582.3l6.0 6.0l-6.0 6.0l-6.0 -6.0zM1449.0 580.7l6.0 6.0l-6.0 6.0l-6.0 -6.0zM1464.6 579.1l6.0 6.0l-6.0 6.0l-6.0 -6.0zM1480.2 577.5l6.0 6.0l-6.0 6.0l-6.0 -6.0zM1495.7 575.7l6.0 6.0l-6.0 6.0l-6.0 -6.0zM1511.2 573.9l6.0 6.0l-6.0 6.0l-6.0 -6.0zM1526.8 571.9l6.0 6.0l-6.0 6.0l-6.0 -6.0zM1542.3 569.8l6.0 6.0l-6.0 6.0l-6.0 -6.0zM1557.9 567.6l6.0 6.0l-6.0 6.0l-6.0 -6.0zM1573.5 565.3l6.0 6.0l-6.0 6.0l-6.0 -6.0zM1589.0 562.6l6.0 6.0l-6.0 6.0l-6.0 -6.0zM1604.5 559.7l6.0 6.0l-6.0 6.0l-6.0 -6.0zM1620.1 556.2l6.0 6.0l-6.0 6.0l-6.0 -6.0zM1635.7 552.3l6.0 6.0l-6.0 6.0l-6.0 -6.0zM1651.2 548.4l6.0 6.0l-6.0 6.0l-6.0 -6.0zM1666.8 544.6l6.0 6.0l-6.0 6.0l-6.0 -6.0zM1682.3 540.5l6.0 6.0l-6.0 6.0l-6.0 -6.0zM1697.8 535.9l6.0 6.0l-6.0 6.0l-6.0 -6.0zM1713.4 530.5l6.0 6.0l-6.0 6.0l-6.0 -6.0zM1728.9 524.0l6.0 6.0l-6.0 6.0l-6.0 -6.0zM1744.5 516.5l6.0 6.0l-6.0 6.0l-6.0 -6.0zM1760.0 508.7l6.0 6.0l-6.0 6.0l-6.0 -6.0zM1775.6 501.3l6.0 6.0l-6.0 6.0l-6.0 -6.0zM1791.2 494.8l6.0 6.0l-6.0 6.0l-6.0 -6.0zM1806.7 489.0l6.0 6.0l-6.0 6.0l-6.0 -6.0z" fill="#333300"/>
<path d="M1153.6 610.0L1169.2 608.7L1184.7 607.4L1200.2 606.1L1215.8 604.8L1231.3 603.4L1246.9 602.1L1262.5 600.8L1278.0 599.5L1293.5 598.2L1309.1 596.8L1324.7 595.4L1340.2 593.9L1355.8 592.6L1371.3 591.3L1386.8 589.9L1402.4 588.4L1418.0 586.9L1433.5 585.4L1449.0 583.8L1464.6 582.1L1480.2 580.3L1495.7 578.5L1511.2 576.6L1526.8 574.5L1542.3 572.2L1557.9 569.8L1573.5 567.2L1589.0 564.3L1604.5 561.0L1620.1 557.0L1635.7 552.4L1651.2 548.0L1666.8 543.6L1682.3 538.9L1697.8 533.5L1713.4 527.3L1728.9 519.6L1744.5 510.7L1760.0 501.5L1775.6 492.5L1791.2 483.9L1806.7 475.5" fill="none" stroke="#993300" stroke-width="4.0" stroke-linejoin="round"/><path d="M1148.8 605.2h9.6v9.6h-9.6zM1164.4 603.9h9.6v9.6h-9.6zM1179.9 602.6h9.6v9.6h-9.6zM1195.5 601.3h9.6v9.6h-9.6zM1211.0 600.0h9.6v9.6h-9.6zM1226.5 598.6h9.6v9.6h-9.6zM1242.1 597.3h9.6v9.6h-9.6zM1257.7 596.0h9.6v9.6h-9.6zM1273.2 594.7h9.6v9.6h-9.6zM1288.8 593.4h9.6v9.6h-9.6zM1304.3 592.0h9.6v9.6h-9.6zM1319.9 590.6h9.6v9.6h-9.6zM1335.4 589.1h9.6v9.6h-9.6zM1351.0 587.8h9.6v9.6h-9.6zM1366.5 586.5h9.6v9.6h-9.6zM1382.0 585.1h9.6v9.6h-9.6zM1397.6 583.6h9.6v9.6h-9.6zM1413.2 582.1h9.6v9.6h-9.6zM1428.7 580.6h9.6v9.6h-9.6zM1444.2 579.0h9.6v9.6h-9.6zM1459.8 577.3h9.6v9.6h-9.6zM1475.4 575.5h9.6v9.6h-9.6zM1490.9 573.7h9.6v9.6h-9.6zM1506.5 571.8h9.6v9.6h-9.6zM1522.0 569.7h9.6v9.6h-9.6zM1537.5 567.4h9.6v9.6h-9.6zM1553.1 565.0h9.6v9.6h-9.6zM1568.7 562.4h9.6v9.6h-9.6zM1584.2 559.5h9.6v9.6h-9.6zM1599.8 556.2h9.6v9.6h-9.6zM1615.3 552.2h9.6v9.6h-9.6zM1630.9 547.6h9.6v9.6h-9.6zM1646.4 543.2h9.6v9.6h-9.6zM1662.0 538.8h9.6v9.6h-9.6zM1677.5 534.1h9.6v9.6h-9.6zM1693.0 528.7h9.6v9.6h-9.6zM1708.6 522.5h9.6v9.6h-9.6zM1724.1 514.8h9.6v9.6h-9.6zM1739.7 505.9h9.6v9.6h-9.6zM1755.2 496.7h9.6v9.6h-9.6zM1770.8 487.7h9.6v9.6h-9.6zM1786.4 479.1h9.6v9.6h-9.6zM1801.9 470.7h9.6v9.6h-9.6z" fill="#993300"/>
<path d="M1153.6 607.4L1169.2 606.1L1184.7 604.8L1200.2 603.4L1215.8 602.1L1231.3 600.8L1246.9 599.5L1262.5 598.2L1278.0 596.8L1293.5 595.5L1309.1 594.1L1324.7 592.6L1340.2 591.2L1355.8 589.8L1371.3 588.5L1386.8 587.1L1402.4 585.6L1418.0 584.1L1433.5 582.5L1449.0 580.8L1464.6 579.0L1480.2 577.2L1495.7 575.2L1511.2 573.1L1526.8 570.8L1542.3 568.4L1557.9 565.7L1573.5 562.8L1589.0 559.5L1604.5 555.8L1620.1 551.2L1635.7 545.9L1651.2 540.7L1666.8 535.7L1682.3 530.2L1697.8 523.9L1713.4 516.5L1728.9 507.4L1744.5 496.8L1760.0 485.8L1775.6 475.3L1791.2 466.0L1806.7 457.7" fill="none" stroke="#993366" stroke-width="4.0" stroke-linejoin="round"/><path d="M1153.6 601.6l5.8 10.4h-11.5zM1169.2 600.3l5.8 10.4h-11.5zM1184.7 599.0l5.8 10.4h-11.5zM1200.2 597.7l5.8 10.4h-11.5zM1215.8 596.4l5.8 10.4h-11.5zM1231.3 595.0l5.8 10.4h-11.5zM1246.9 593.7l5.8 10.4h-11.5zM1262.5 592.4l5.8 10.4h-11.5zM1278.0 591.1l5.8 10.4h-11.5zM1293.5 589.7l5.8 10.4h-11.5zM1309.1 588.3l5.8 10.4h-11.5zM1324.7 586.9l5.8 10.4h-11.5zM1340.2 585.4l5.8 10.4h-11.5zM1355.8 584.1l5.8 10.4h-11.5zM1371.3 582.8l5.8 10.4h-11.5zM1386.8 581.4l5.8 10.4h-11.5zM1402.4 579.9l5.8 10.4h-11.5zM1418.0 578.3l5.8 10.4h-11.5zM1433.5 576.7l5.8 10.4h-11.5zM1449.0 575.0l5.8 10.4h-11.5zM1464.6 573.3l5.8 10.4h-11.5zM1480.2 571.4l5.8 10.4h-11.5zM1495.7 569.5l5.8 10.4h-11.5zM1511.2 567.4l5.8 10.4h-11.5zM1526.8 565.1l5.8 10.4h-11.5zM1542.3 562.6l5.8 10.4h-11.5zM1557.9 559.9l5.8 10.4h-11.5zM1573.5 557.0l5.8 10.4h-11.5zM1589.0 553.8l5.8 10.4h-11.5zM1604.5 550.0l5.8 10.4h-11.5zM1620.1 545.4l5.8 10.4h-11.5zM1635.7 540.1l5.8 10.4h-11.5zM1651.2 534.9l5.8 10.4h-11.5zM1666.8 529.9l5.8 10.4h-11.5zM1682.3 524.4l5.8 10.4h-11.5zM1697.8 518.1l5.8 10.4h-11.5zM1713.4 510.7l5.8 10.4h-11.5zM1728.9 501.7l5.8 10.4h-11.5zM1744.5 491.1l5.8 10.4h-11.5zM1760.0 480.0l5.8 10.4h-11.5zM1775.6 469.5l5.8 10.4h-11.5zM1791.2 460.2l5.8 10.4h-11.5zM1806.7 451.9l5.8 10.4h-11.5z" fill="#993366"/>
<path d="M1153.6 604.7L1169.2 603.4L1184.7 602.1L1200.2 600.8L1215.8 599.5L1231.3 598.1L1246.9 596.8L1262.5 595.5L1278.0 594.1L1293.5 592.8L1309.1 591.4L1324.7 589.9L1340.2 588.4L1355.8 587.0L1371.3 585.7L1386.8 584.3L1402.4 582.7L1418.0 581.1L1433.5 579.4L1449.0 577.7L1464.6 575.8L1480.2 573.8L1495.7 571.7L1511.2 569.4L1526.8 566.8L1542.3 564.0L1557.9 561.0L1573.5 557.7L1589.0 554.0L1604.5 549.6L1620.1 544.3L1635.7 538.1L1651.2 532.1L1666.8 526.2L1682.3 519.7L1697.8 512.1L1713.4 503.0L1728.9 492.0L1744.5 479.3L1760.0 466.1L1775.6 453.4L1791.2 441.4L1806.7 429.8" fill="none" stroke="#000080" stroke-width="4.0" stroke-linejoin="round"/><path d="M1148.8 599.9h9.6v9.6h-9.6zM1164.4 598.6h9.6v9.6h-9.6zM1179.9 597.3h9.6v9.6h-9.6zM1195.5 596.0h9.6v9.6h-9.6zM1211.0 594.7h9.6v9.6h-9.6zM1226.5 593.3h9.6v9.6h-9.6zM1242.1 592.0h9.6v9.6h-9.6zM1257.7 590.7h9.6v9.6h-9.6zM1273.2 589.3h9.6v9.6h-9.6zM1288.8 588.0h9.6v9.6h-9.6zM1304.3 586.6h9.6v9.6h-9.6zM1319.9 585.1h9.6v9.6h-9.6zM1335.4 583.6h9.6v9.6h-9.6zM1351.0 582.2h9.6v9.6h-9.6zM1366.5 580.9h9.6v9.6h-9.6zM1382.0 579.5h9.6v9.6h-9.6zM1397.6 577.9h9.6v9.6h-9.6zM1413.2 576.3h9.6v9.6h-9.6zM1428.7 574.6h9.6v9.6h-9.6zM1444.2 572.9h9.6v9.6h-9.6zM1459.8 571.0h9.6v9.6h-9.6zM1475.4 569.0h9.6v9.6h-9.6zM1490.9 566.9h9.6v9.6h-9.6zM1506.5 564.6h9.6v9.6h-9.6zM1522.0 562.0h9.6v9.6h-9.6zM1537.5 559.2h9.6v9.6h-9.6zM1553.1 556.2h9.6v9.6h-9.6zM1568.7 552.9h9.6v9.6h-9.6zM1584.2 549.2h9.6v9.6h-9.6zM1599.8 544.8h9.6v9.6h-9.6zM1615.3 539.5h9.6v9.6h-9.6zM1630.9 533.3h9.6v9.6h-9.6zM1646.4 527.3h9.6v9.6h-9.6zM1662.0 521.4h9.6v9.6h-9.6zM1677.5 514.9h9.6v9.6h-9.6zM1693.0 507.3h9.6v9.6h-9.6zM1708.6 498.2h9.6v9.6h-9.6zM1724.1 487.2h9.6v9.6h-9.6zM1739.7 474.5h9.6v9.6h-9.6zM1755.2 461.3h9.6v9.6h-9.6zM1770.8 448.6h9.6v9.6h-9.6zM1786.4 436.6h9.6v9.6h-9.6zM1801.9 425.0h9.6v9.6h-9.6z" fill="#000080"/>
<path d="M1153.6 602.0L1169.2 600.7L1184.7 599.4L1200.2 598.1L1215.8 596.7L1231.3 595.4L1246.9 594.0L1262.5 592.7L1278.0 591.4L1293.5 590.0L1309.1 588.6L1324.7 587.0L1340.2 585.5L1355.8 584.1L1371.3 582.8L1386.8 581.3L1402.4 579.7L1418.0 578.0L1433.5 576.2L1449.0 574.3L1464.6 572.2L1480.2 570.1L1495.7 567.7L1511.2 565.2L1526.8 562.3L1542.3 559.1L1557.9 555.6L1573.5 551.7L1589.0 547.3L1604.5 542.1L1620.1 535.9L1635.7 528.7L1651.2 521.6L1666.8 514.7L1682.3 507.0L1697.8 497.5L1713.4 486.0L1728.9 472.2L1744.5 456.8L1760.0 441.0L1775.6 425.9L1791.2 412.5L1806.7 400.8" fill="none" stroke="#000000" stroke-width="4.0" stroke-linejoin="round"/><path d="M1148.8 597.2l9.6 9.6M1148.8 606.8l9.6 -9.6M1164.4 595.9l9.6 9.6M1164.4 605.5l9.6 -9.6M1179.9 594.6l9.6 9.6M1179.9 604.2l9.6 -9.6M1195.5 593.3l9.6 9.6M1195.5 602.9l9.6 -9.6M1211.0 591.9l9.6 9.6M1211.0 601.5l9.6 -9.6M1226.5 590.6l9.6 9.6M1226.5 600.2l9.6 -9.6M1242.1 589.2l9.6 9.6M1242.1 598.8l9.6 -9.6M1257.7 587.9l9.6 9.6M1257.7 597.5l9.6 -9.6M1273.2 586.6l9.6 9.6M1273.2 596.2l9.6 -9.6M1288.8 585.2l9.6 9.6M1288.8 594.8l9.6 -9.6M1304.3 583.8l9.6 9.6M1304.3 593.4l9.6 -9.6M1319.9 582.2l9.6 9.6M1319.9 591.8l9.6 -9.6M1335.4 580.7l9.6 9.6M1335.4 590.3l9.6 -9.6M1351.0 579.3l9.6 9.6M1351.0 588.9l9.6 -9.6M1366.5 578.0l9.6 9.6M1366.5 587.6l9.6 -9.6M1382.0 576.5l9.6 9.6M1382.0 586.1l9.6 -9.6M1397.6 574.9l9.6 9.6M1397.6 584.5l9.6 -9.6M1413.2 573.2l9.6 9.6M1413.2 582.8l9.6 -9.6M1428.7 571.4l9.6 9.6M1428.7 581.0l9.6 -9.6M1444.2 569.5l9.6 9.6M1444.2 579.1l9.6 -9.6M1459.8 567.4l9.6 9.6M1459.8 577.0l9.6 -9.6M1475.4 565.3l9.6 9.6M1475.4 574.9l9.6 -9.6M1490.9 562.9l9.6 9.6M1490.9 572.5l9.6 -9.6M1506.5 560.4l9.6 9.6M1506.5 570.0l9.6 -9.6M1522.0 557.5l9.6 9.6M1522.0 567.1l9.6 -9.6M1537.5 554.3l9.6 9.6M1537.5 563.9l9.6 -9.6M1553.1 550.8l9.6 9.6M1553.1 560.4l9.6 -9.6M1568.7 546.9l9.6 9.6M1568.7 556.5l9.6 -9.6M1584.2 542.5l9.6 9.6M1584.2 552.1l9.6 -9.6M1599.8 537.3l9.6 9.6M1599.8 546.9l9.6 -9.6M1615.3 531.1l9.6 9.6M1615.3 540.7l9.6 -9.6M1630.9 523.9l9.6 9.6M1630.9 533.5l9.6 -9.6M1646.4 516.8l9.6 9.6M1646.4 526.4l9.6 -9.6M1662.0 509.9l9.6 9.6M1662.0 519.5l9.6 -9.6M1677.5 502.2l9.6 9.6M1677.5 511.8l9.6 -9.6M1693.0 492.7l9.6 9.6M1693.0 502.3l9.6 -9.6M1708.6 481.2l9.6 9.6M1708.6 490.8l9.6 -9.6M1724.1 467.4l9.6 9.6M1724.1 477.0l9.6 -9.6M1739.7 452.0l9.6 9.6M1739.7 461.6l9.6 -9.6M1755.2 436.2l9.6 9.6M1755.2 445.8l9.6 -9.6M1770.8 421.1l9.6 9.6M1770.8 430.7l9.6 -9.6M1786.4 407.7l9.6 9.6M1786.4 417.3l9.6 -9.6M1801.9 396.0l9.6 9.6M1801.9 405.6l9.6 -9.6" fill="none" stroke="#000000" stroke-width="1.3"/>
<path d="M1153.6 599.2L1169.2 597.8L1184.7 596.5L1200.2 595.2L1215.8 593.8L1231.3 592.5L1246.9 591.1L1262.5 589.8L1278.0 588.5L1293.5 587.1L1309.1 585.6L1324.7 584.0L1340.2 582.4L1355.8 580.9L1371.3 579.6L1386.8 578.1L1402.4 576.4L1418.0 574.6L1433.5 572.7L1449.0 570.6L1464.6 568.3L1480.2 565.9L1495.7 563.3L1511.2 560.4L1526.8 557.1L1542.3 553.3L1557.9 549.2L1573.5 544.7L1589.0 539.4L1604.5 533.2L1620.1 525.9L1635.7 517.5L1651.2 508.9L1666.8 500.8L1682.3 491.6L1697.8 479.8L1713.4 465.3L1728.9 448.3L1744.5 430.0L1760.0 411.6L1775.6 394.2L1791.2 379.2L1806.7 367.0" fill="none" stroke="#7030A0" stroke-width="4.0" stroke-linejoin="round"/><path d="M1148.8 599.2a4.8 4.8 0 1 0 9.6 0a4.8 4.8 0 1 0 -9.6 0zM1164.4 597.8a4.8 4.8 0 1 0 9.6 0a4.8 4.8 0 1 0 -9.6 0zM1179.9 596.5a4.8 4.8 0 1 0 9.6 0a4.8 4.8 0 1 0 -9.6 0zM1195.5 595.2a4.8 4.8 0 1 0 9.6 0a4.8 4.8 0 1 0 -9.6 0zM1211.0 593.8a4.8 4.8 0 1 0 9.6 0a4.8 4.8 0 1 0 -9.6 0zM1226.5 592.5a4.8 4.8 0 1 0 9.6 0a4.8 4.8 0 1 0 -9.6 0zM1242.1 591.1a4.8 4.8 0 1 0 9.6 0a4.8 4.8 0 1 0 -9.6 0zM1257.7 589.8a4.8 4.8 0 1 0 9.6 0a4.8 4.8 0 1 0 -9.6 0zM1273.2 588.5a4.8 4.8 0 1 0 9.6 0a4.8 4.8 0 1 0 -9.6 0zM1288.8 587.1a4.8 4.8 0 1 0 9.6 0a4.8 4.8 0 1 0 -9.6 0zM1304.3 585.6a4.8 4.8 0 1 0 9.6 0a4.8 4.8 0 1 0 -9.6 0zM1319.9 584.0a4.8 4.8 0 1 0 9.6 0a4.8 4.8 0 1 0 -9.6 0zM1335.4 582.4a4.8 4.8 0 1 0 9.6 0a4.8 4.8 0 1 0 -9.6 0zM1351.0 580.9a4.8 4.8 0 1 0 9.6 0a4.8 4.8 0 1 0 -9.6 0zM1366.5 579.6a4.8 4.8 0 1 0 9.6 0a4.8 4.8 0 1 0 -9.6 0zM1382.0 578.1a4.8 4.8 0 1 0 9.6 0a4.8 4.8 0 1 0 -9.6 0zM1397.6 576.4a4.8 4.8 0 1 0 9.6 0a4.8 4.8 0 1 0 -9.6 0zM1413.2 574.6a4.8 4.8 0 1 0 9.6 0a4.8 4.8 0 1 0 -9.6 0zM1428.7 572.7a4.8 4.8 0 1 0 9.6 0a4.8 4.8 0 1 0 -9.6 0zM1444.2 570.6a4.8 4.8 0 1 0 9.6 0a4.8 4.8 0 1 0 -9.6 0zM1459.8 568.3a4.8 4.8 0 1 0 9.6 0a4.8 4.8 0 1 0 -9.6 0zM1475.4 565.9a4.8 4.8 0 1 0 9.6 0a4.8 4.8 0 1 0 -9.6 0zM1490.9 563.3a4.8 4.8 0 1 0 9.6 0a4.8 4.8 0 1 0 -9.6 0zM1506.5 560.4a4.8 4.8 0 1 0 9.6 0a4.8 4.8 0 1 0 -9.6 0zM1522.0 557.1a4.8 4.8 0 1 0 9.6 0a4.8 4.8 0 1 0 -9.6 0zM1537.5 553.3a4.8 4.8 0 1 0 9.6 0a4.8 4.8 0 1 0 -9.6 0zM1553.1 549.2a4.8 4.8 0 1 0 9.6 0a4.8 4.8 0 1 0 -9.6 0zM1568.7 544.7a4.8 4.8 0 1 0 9.6 0a4.8 4.8 0 1 0 -9.6 0zM1584.2 539.4a4.8 4.8 0 1 0 9.6 0a4.8 4.8 0 1 0 -9.6 0zM1599.8 533.2a4.8 4.8 0 1 0 9.6 0a4.8 4.8 0 1 0 -9.6 0zM1615.3 525.9a4.8 4.8 0 1 0 9.6 0a4.8 4.8 0 1 0 -9.6 0zM1630.9 517.5a4.8 4.8 0 1 0 9.6 0a4.8 4.8 0 1 0 -9.6 0zM1646.4 508.9a4.8 4.8 0 1 0 9.6 0a4.8 4.8 0 1 0 -9.6 0zM1662.0 500.8a4.8 4.8 0 1 0 9.6 0a4.8 4.8 0 1 0 -9.6 0zM1677.5 491.6a4.8 4.8 0 1 0 9.6 0a4.8 4.8 0 1 0 -9.6 0zM1693.0 479.8a4.8 4.8 0 1 0 9.6 0a4.8 4.8 0 1 0 -9.6 0zM1708.6 465.3a4.8 4.8 0 1 0 9.6 0a4.8 4.8 0 1 0 -9.6 0zM1724.1 448.3a4.8 4.8 0 1 0 9.6 0a4.8 4.8 0 1 0 -9.6 0zM1739.7 430.0a4.8 4.8 0 1 0 9.6 0a4.8 4.8 0 1 0 -9.6 0zM1755.2 411.6a4.8 4.8 0 1 0 9.6 0a4.8 4.8 0 1 0 -9.6 0zM1770.8 394.2a4.8 4.8 0 1 0 9.6 0a4.8 4.8 0 1 0 -9.6 0zM1786.4 379.2a4.8 4.8 0 1 0 9.6 0a4.8 4.8 0 1 0 -9.6 0zM1801.9 367.0a4.8 4.8 0 1 0 9.6 0a4.8 4.8 0 1 0 -9.6 0z" fill="#7030A0"/>
<path d="M1153.6 596.2L1169.2 594.9L1184.7 593.6L1200.2 592.2L1215.8 590.9L1231.3 589.5L1246.9 588.1L1262.5 586.8L1278.0 585.4L1293.5 584.0L1309.1 582.5L1324.7 580.8L1340.2 579.1L1355.8 577.6L1371.3 576.3L1386.8 574.8L1402.4 573.0L1418.0 571.0L1433.5 568.9L1449.0 566.6L1464.6 564.1L1480.2 561.4L1495.7 558.4L1511.2 555.1L1526.8 551.3L1542.3 546.9L1557.9 542.1L1573.5 536.7L1589.0 530.3L1604.5 523.0L1620.1 514.3L1635.7 504.4L1651.2 494.2L1666.8 484.3L1682.3 473.3L1697.8 459.1L1713.4 441.7L1728.9 422.0L1744.5 401.4L1760.0 381.3L1775.6 362.5L1791.2 345.8L1806.7 331.4" fill="none" stroke="#FF0000" stroke-width="4.0" stroke-linejoin="round"/><path d="M1148.8 591.4h9.6v9.6h-9.6zM1164.4 590.1h9.6v9.6h-9.6zM1179.9 588.8h9.6v9.6h-9.6zM1195.5 587.4h9.6v9.6h-9.6zM1211.0 586.1h9.6v9.6h-9.6zM1226.5 584.7h9.6v9.6h-9.6zM1242.1 583.3h9.6v9.6h-9.6zM1257.7 582.0h9.6v9.6h-9.6zM1273.2 580.6h9.6v9.6h-9.6zM1288.8 579.2h9.6v9.6h-9.6zM1304.3 577.7h9.6v9.6h-9.6zM1319.9 576.0h9.6v9.6h-9.6zM1335.4 574.3h9.6v9.6h-9.6zM1351.0 572.8h9.6v9.6h-9.6zM1366.5 571.5h9.6v9.6h-9.6zM1382.0 570.0h9.6v9.6h-9.6zM1397.6 568.2h9.6v9.6h-9.6zM1413.2 566.2h9.6v9.6h-9.6zM1428.7 564.1h9.6v9.6h-9.6zM1444.2 561.8h9.6v9.6h-9.6zM1459.8 559.3h9.6v9.6h-9.6zM1475.4 556.6h9.6v9.6h-9.6zM1490.9 553.6h9.6v9.6h-9.6zM1506.5 550.3h9.6v9.6h-9.6zM1522.0 546.5h9.6v9.6h-9.6zM1537.5 542.1h9.6v9.6h-9.6zM1553.1 537.3h9.6v9.6h-9.6zM1568.7 531.9h9.6v9.6h-9.6zM1584.2 525.5h9.6v9.6h-9.6zM1599.8 518.2h9.6v9.6h-9.6zM1615.3 509.5h9.6v9.6h-9.6zM1630.9 499.6h9.6v9.6h-9.6zM1646.4 489.4h9.6v9.6h-9.6zM1662.0 479.5h9.6v9.6h-9.6zM1677.5 468.5h9.6v9.6h-9.6zM1693.0 454.3h9.6v9.6h-9.6zM1708.6 436.9h9.6v9.6h-9.6zM1724.1 417.2h9.6v9.6h-9.6zM1739.7 396.6h9.6v9.6h-9.6zM1755.2 376.5h9.6v9.6h-9.6zM1770.8 357.7h9.6v9.6h-9.6zM1786.4 341.0h9.6v9.6h-9.6zM1801.9 326.6h9.6v9.6h-9.6z" fill="#FF0000"/>
<path d="M1153.6 593.2L1169.2 591.8L1184.7 590.5L1200.2 589.2L1215.8 587.8L1231.3 586.4L1246.9 585.0L1262.5 583.7L1278.0 582.3L1293.5 580.9L1309.1 579.2L1324.7 577.5L1340.2 575.7L1355.8 574.2L1371.3 572.9L1386.8 571.3L1402.4 569.3L1418.0 567.2L1433.5 565.0L1449.0 562.4L1464.6 559.6L1480.2 556.6L1495.7 553.2L1511.2 549.4L1526.8 544.9L1542.3 539.8L1557.9 534.1L1573.5 527.7L1589.0 520.2L1604.5 511.4L1620.1 501.1L1635.7 489.2L1651.2 476.7L1666.8 464.5L1682.3 451.0L1697.8 434.1L1713.4 414.2L1728.9 392.4L1744.5 370.3L1760.0 349.5L1775.6 330.8L1791.2 313.7L1806.7 297.6" fill="none" stroke="#008000" stroke-width="4.0" stroke-linejoin="round"/><path d="M1148.8 588.4l9.6 9.6M1148.8 598.0l9.6 -9.6M1164.4 587.0l9.6 9.6M1164.4 596.6l9.6 -9.6M1179.9 585.7l9.6 9.6M1179.9 595.3l9.6 -9.6M1195.5 584.4l9.6 9.6M1195.5 594.0l9.6 -9.6M1211.0 583.0l9.6 9.6M1211.0 592.6l9.6 -9.6M1226.5 581.6l9.6 9.6M1226.5 591.2l9.6 -9.6M1242.1 580.2l9.6 9.6M1242.1 589.8l9.6 -9.6M1257.7 578.9l9.6 9.6M1257.7 588.5l9.6 -9.6M1273.2 577.5l9.6 9.6M1273.2 587.1l9.6 -9.6M1288.8 576.1l9.6 9.6M1288.8 585.7l9.6 -9.6M1304.3 574.4l9.6 9.6M1304.3 584.0l9.6 -9.6M1319.9 572.7l9.6 9.6M1319.9 582.3l9.6 -9.6M1335.4 570.9l9.6 9.6M1335.4 580.5l9.6 -9.6M1351.0 569.4l9.6 9.6M1351.0 579.0l9.6 -9.6M1366.5 568.1l9.6 9.6M1366.5 577.7l9.6 -9.6M1382.0 566.5l9.6 9.6M1382.0 576.1l9.6 -9.6M1397.6 564.5l9.6 9.6M1397.6 574.1l9.6 -9.6M1413.2 562.4l9.6 9.6M1413.2 572.0l9.6 -9.6M1428.7 560.2l9.6 9.6M1428.7 569.8l9.6 -9.6M1444.2 557.6l9.6 9.6M1444.2 567.2l9.6 -9.6M1459.8 554.8l9.6 9.6M1459.8 564.4l9.6 -9.6M1475.4 551.8l9.6 9.6M1475.4 561.4l9.6 -9.6M1490.9 548.4l9.6 9.6M1490.9 558.0l9.6 -9.6M1506.5 544.6l9.6 9.6M1506.5 554.2l9.6 -9.6M1522.0 540.1l9.6 9.6M1522.0 549.7l9.6 -9.6M1537.5 535.0l9.6 9.6M1537.5 544.6l9.6 -9.6M1553.1 529.3l9.6 9.6M1553.1 538.9l9.6 -9.6M1568.7 522.9l9.6 9.6M1568.7 532.5l9.6 -9.6M1584.2 515.4l9.6 9.6M1584.2 525.0l9.6 -9.6M1599.8 506.6l9.6 9.6M1599.8 516.2l9.6 -9.6M1615.3 496.3l9.6 9.6M1615.3 505.9l9.6 -9.6M1630.9 484.4l9.6 9.6M1630.9 494.0l9.6 -9.6M1646.4 471.9l9.6 9.6M1646.4 481.5l9.6 -9.6M1662.0 459.7l9.6 9.6M1662.0 469.3l9.6 -9.6M1677.5 446.2l9.6 9.6M1677.5 455.8l9.6 -9.6M1693.0 429.3l9.6 9.6M1693.0 438.9l9.6 -9.6M1708.6 409.4l9.6 9.6M1708.6 419.0l9.6 -9.6M1724.1 387.6l9.6 9.6M1724.1 397.2l9.6 -9.6M1739.7 365.5l9.6 9.6M1739.7 375.1l9.6 -9.6M1755.2 344.7l9.6 9.6M1755.2 354.3l9.6 -9.6M1770.8 326.0l9.6 9.6M1770.8 335.6l9.6 -9.6M1786.4 308.9l9.6 9.6M1786.4 318.5l9.6 -9.6M1801.9 292.8l9.6 9.6M1801.9 302.4l9.6 -9.6" fill="none" stroke="#008000" stroke-width="1.3"/>
<path d="M1153.6 590.2L1169.2 588.8L1184.7 587.5L1200.2 586.2L1215.8 584.7L1231.3 583.3L1246.9 581.9L1262.5 580.6L1278.0 579.2L1293.5 577.7L1309.1 576.0L1324.7 574.1L1340.2 572.2L1355.8 570.7L1371.3 569.3L1386.8 567.7L1402.4 565.6L1418.0 563.3L1433.5 560.8L1449.0 558.0L1464.6 554.8L1480.2 551.4L1495.7 547.5L1511.2 543.1L1526.8 537.9L1542.3 531.9L1557.9 525.2L1573.5 517.6L1589.0 508.6L1604.5 498.1L1620.1 485.8L1635.7 471.5L1651.2 456.2L1666.8 440.9L1682.3 424.3L1697.8 404.6L1713.4 382.7L1728.9 359.6L1744.5 336.8L1760.0 316.3L1775.6 298.8L1791.2 282.5L1806.7 266.2" fill="none" stroke="#0000FF" stroke-width="4.0" stroke-linejoin="round"/><path d="M1148.8 590.2a4.8 4.8 0 1 0 9.6 0a4.8 4.8 0 1 0 -9.6 0zM1164.4 588.8a4.8 4.8 0 1 0 9.6 0a4.8 4.8 0 1 0 -9.6 0zM1179.9 587.5a4.8 4.8 0 1 0 9.6 0a4.8 4.8 0 1 0 -9.6 0zM1195.5 586.2a4.8 4.8 0 1 0 9.6 0a4.8 4.8 0 1 0 -9.6 0zM1211.0 584.7a4.8 4.8 0 1 0 9.6 0a4.8 4.8 0 1 0 -9.6 0zM1226.5 583.3a4.8 4.8 0 1 0 9.6 0a4.8 4.8 0 1 0 -9.6 0zM1242.1 581.9a4.8 4.8 0 1 0 9.6 0a4.8 4.8 0 1 0 -9.6 0zM1257.7 580.6a4.8 4.8 0 1 0 9.6 0a4.8 4.8 0 1 0 -9.6 0zM1273.2 579.2a4.8 4.8 0 1 0 9.6 0a4.8 4.8 0 1 0 -9.6 0zM1288.8 577.7a4.8 4.8 0 1 0 9.6 0a4.8 4.8 0 1 0 -9.6 0zM1304.3 576.0a4.8 4.8 0 1 0 9.6 0a4.8 4.8 0 1 0 -9.6 0zM1319.9 574.1a4.8 4.8 0 1 0 9.6 0a4.8 4.8 0 1 0 -9.6 0zM1335.4 572.2a4.8 4.8 0 1 0 9.6 0a4.8 4.8 0 1 0 -9.6 0zM1351.0 570.7a4.8 4.8 0 1 0 9.6 0a4.8 4.8 0 1 0 -9.6 0zM1366.5 569.3a4.8 4.8 0 1 0 9.6 0a4.8 4.8 0 1 0 -9.6 0zM1382.0 567.7a4.8 4.8 0 1 0 9.6 0a4.8 4.8 0 1 0 -9.6 0zM1397.6 565.6a4.8 4.8 0 1 0 9.6 0a4.8 4.8 0 1 0 -9.6 0zM1413.2 563.3a4.8 4.8 0 1 0 9.6 0a4.8 4.8 0 1 0 -9.6 0zM1428.7 560.8a4.8 4.8 0 1 0 9.6 0a4.8 4.8 0 1 0 -9.6 0zM1444.2 558.0a4.8 4.8 0 1 0 9.6 0a4.8 4.8 0 1 0 -9.6 0zM1459.8 554.8a4.8 4.8 0 1 0 9.6 0a4.8 4.8 0 1 0 -9.6 0zM1475.4 551.4a4.8 4.8 0 1 0 9.6 0a4.8 4.8 0 1 0 -9.6 0zM1490.9 547.5a4.8 4.8 0 1 0 9.6 0a4.8 4.8 0 1 0 -9.6 0zM1506.5 543.1a4.8 4.8 0 1 0 9.6 0a4.8 4.8 0 1 0 -9.6 0zM1522.0 537.9a4.8 4.8 0 1 0 9.6 0a4.8 4.8 0 1 0 -9.6 0zM1537.5 531.9a4.8 4.8 0 1 0 9.6 0a4.8 4.8 0 1 0 -9.6 0zM1553.1 525.2a4.8 4.8 0 1 0 9.6 0a4.8 4.8 0 1 0 -9.6 0zM1568.7 517.6a4.8 4.8 0 1 0 9.6 0a4.8 4.8 0 1 0 -9.6 0zM1584.2 508.6a4.8 4.8 0 1 0 9.6 0a4.8 4.8 0 1 0 -9.6 0zM1599.8 498.1a4.8 4.8 0 1 0 9.6 0a4.8 4.8 0 1 0 -9.6 0zM1615.3 485.8a4.8 4.8 0 1 0 9.6 0a4.8 4.8 0 1 0 -9.6 0zM1630.9 471.5a4.8 4.8 0 1 0 9.6 0a4.8 4.8 0 1 0 -9.6 0zM1646.4 456.2a4.8 4.8 0 1 0 9.6 0a4.8 4.8 0 1 0 -9.6 0zM1662.0 440.9a4.8 4.8 0 1 0 9.6 0a4.8 4.8 0 1 0 -9.6 0zM1677.5 424.3a4.8 4.8 0 1 0 9.6 0a4.8 4.8 0 1 0 -9.6 0zM1693.0 404.6a4.8 4.8 0 1 0 9.6 0a4.8 4.8 0 1 0 -9.6 0zM1708.6 382.7a4.8 4.8 0 1 0 9.6 0a4.8 4.8 0 1 0 -9.6 0zM1724.1 359.6a4.8 4.8 0 1 0 9.6 0a4.8 4.8 0 1 0 -9.6 0zM1739.7 336.8a4.8 4.8 0 1 0 9.6 0a4.8 4.8 0 1 0 -9.6 0zM1755.2 316.3a4.8 4.8 0 1 0 9.6 0a4.8 4.8 0 1 0 -9.6 0zM1770.8 298.8a4.8 4.8 0 1 0 9.6 0a4.8 4.8 0 1 0 -9.6 0zM1786.4 282.5a4.8 4.8 0 1 0 9.6 0a4.8 4.8 0 1 0 -9.6 0zM1801.9 266.2a4.8 4.8 0 1 0 9.6 0a4.8 4.8 0 1 0 -9.6 0z" fill="#0000FF"/>
<path d="M1153.6 587.2L1169.2 585.9L1184.7 584.6L1200.2 583.2L1215.8 581.8L1231.3 580.3L1246.9 578.9L1262.5 577.5L1278.0 576.1L1293.5 574.6L1309.1 572.8L1324.7 570.8L1340.2 568.8L1355.8 567.2L1371.3 565.8L1386.8 564.1L1402.4 561.8L1418.0 559.3L1433.5 556.5L1449.0 553.3L1464.6 549.8L1480.2 545.8L1495.7 541.3L1511.2 536.2L1526.8 530.1L1542.3 523.0L1557.9 515.1L1573.5 506.0L1589.0 495.2L1604.5 482.6L1620.1 468.0L1635.7 450.9L1651.2 432.5L1666.8 413.8L1682.3 394.1L1697.8 372.1L1713.4 348.9L1728.9 325.7L1744.5 303.4L1760.0 284.1L1775.6 268.3L1791.2 253.5L1806.7 237.8" fill="none" stroke="#FFC000" stroke-width="4.0" stroke-linejoin="round"/><path d="M1153.6 581.2l6.0 6.0l-6.0 6.0l-6.0 -6.0zM1169.2 579.9l6.0 6.0l-6.0 6.0l-6.0 -6.0zM1184.7 578.6l6.0 6.0l-6.0 6.0l-6.0 -6.0zM1200.2 577.2l6.0 6.0l-6.0 6.0l-6.0 -6.0zM1215.8 575.8l6.0 6.0l-6.0 6.0l-6.0 -6.0zM1231.3 574.3l6.0 6.0l-6.0 6.0l-6.0 -6.0zM1246.9 572.9l6.0 6.0l-6.0 6.0l-6.0 -6.0zM1262.5 571.5l6.0 6.0l-6.0 6.0l-6.0 -6.0zM1278.0 570.1l6.0 6.0l-6.0 6.0l-6.0 -6.0zM1293.5 568.6l6.0 6.0l-6.0 6.0l-6.0 -6.0zM1309.1 566.8l6.0 6.0l-6.0 6.0l-6.0 -6.0zM1324.7 564.8l6.0 6.0l-6.0 6.0l-6.0 -6.0zM1340.2 562.8l6.0 6.0l-6.0 6.0l-6.0 -6.0zM1355.8 561.2l6.0 6.0l-6.0 6.0l-6.0 -6.0zM1371.3 559.8l6.0 6.0l-6.0 6.0l-6.0 -6.0zM1386.8 558.1l6.0 6.0l-6.0 6.0l-6.0 -6.0zM1402.4 555.8l6.0 6.0l-6.0 6.0l-6.0 -6.0zM1418.0 553.3l6.0 6.0l-6.0 6.0l-6.0 -6.0zM1433.5 550.5l6.0 6.0l-6.0 6.0l-6.0 -6.0zM1449.0 547.3l6.0 6.0l-6.0 6.0l-6.0 -6.0zM1464.6 543.8l6.0 6.0l-6.0 6.0l-6.0 -6.0zM1480.2 539.8l6.0 6.0l-6.0 6.0l-6.0 -6.0zM1495.7 535.3l6.0 6.0l-6.0 6.0l-6.0 -6.0zM1511.2 530.2l6.0 6.0l-6.0 6.0l-6.0 -6.0zM1526.8 524.1l6.0 6.0l-6.0 6.0l-6.0 -6.0zM1542.3 517.0l6.0 6.0l-6.0 6.0l-6.0 -6.0zM1557.9 509.1l6.0 6.0l-6.0 6.0l-6.0 -6.0zM1573.5 500.0l6.0 6.0l-6.0 6.0l-6.0 -6.0zM1589.0 489.2l6.0 6.0l-6.0 6.0l-6.0 -6.0zM1604.5 476.6l6.0 6.0l-6.0 6.0l-6.0 -6.0zM1620.1 462.0l6.0 6.0l-6.0 6.0l-6.0 -6.0zM1635.7 444.9l6.0 6.0l-6.0 6.0l-6.0 -6.0zM1651.2 426.5l6.0 6.0l-6.0 6.0l-6.0 -6.0zM1666.8 407.8l6.0 6.0l-6.0 6.0l-6.0 -6.0zM1682.3 388.1l6.0 6.0l-6.0 6.0l-6.0 -6.0zM1697.8 366.1l6.0 6.0l-6.0 6.0l-6.0 -6.0zM1713.4 342.9l6.0 6.0l-6.0 6.0l-6.0 -6.0zM1728.9 319.7l6.0 6.0l-6.0 6.0l-6.0 -6.0zM1744.5 297.4l6.0 6.0l-6.0 6.0l-6.0 -6.0zM1760.0 278.1l6.0 6.0l-6.0 6.0l-6.0 -6.0zM1775.6 262.3l6.0 6.0l-6.0 6.0l-6.0 -6.0zM1791.2 247.5l6.0 6.0l-6.0 6.0l-6.0 -6.0zM1806.7 231.8l6.0 6.0l-6.0 6.0l-6.0 -6.0z" fill="#FFC000"/>
<path d="M1153.6 584.5L1169.2 583.1L1184.7 581.8L1200.2 580.4L1215.8 578.9L1231.3 577.4L1246.9 576.0L1262.5 574.6L1278.0 573.2L1293.5 571.6L1309.1 569.7L1324.7 567.5L1340.2 565.3L1355.8 563.7L1371.3 562.3L1386.8 560.4L1402.4 558.0L1418.0 555.2L1433.5 552.0L1449.0 548.4L1464.6 544.3L1480.2 539.7L1495.7 534.5L1511.2 528.5L1526.8 521.3L1542.3 512.9L1557.9 503.5L1573.5 492.6L1589.0 479.5L1604.5 464.3L1620.1 446.9L1635.7 426.8L1651.2 405.3L1666.8 383.7L1682.3 361.5L1697.8 338.2L1713.4 314.8L1728.9 292.6L1744.5 272.3L1760.0 255.1L1775.6 241.0L1791.2 227.4L1806.7 212.9" fill="none" stroke="#FF00FF" stroke-width="4.0" stroke-linejoin="round"/><path d="M1148.8 579.7h9.6v9.6h-9.6zM1164.4 578.3h9.6v9.6h-9.6zM1179.9 577.0h9.6v9.6h-9.6zM1195.5 575.6h9.6v9.6h-9.6zM1211.0 574.1h9.6v9.6h-9.6zM1226.5 572.6h9.6v9.6h-9.6zM1242.1 571.2h9.6v9.6h-9.6zM1257.7 569.8h9.6v9.6h-9.6zM1273.2 568.4h9.6v9.6h-9.6zM1288.8 566.8h9.6v9.6h-9.6zM1304.3 564.9h9.6v9.6h-9.6zM1319.9 562.7h9.6v9.6h-9.6zM1335.4 560.5h9.6v9.6h-9.6zM1351.0 558.9h9.6v9.6h-9.6zM1366.5 557.5h9.6v9.6h-9.6zM1382.0 555.6h9.6v9.6h-9.6zM1397.6 553.2h9.6v9.6h-9.6zM1413.2 550.4h9.6v9.6h-9.6zM1428.7 547.2h9.6v9.6h-9.6zM1444.2 543.6h9.6v9.6h-9.6zM1459.8 539.5h9.6v9.6h-9.6zM1475.4 534.9h9.6v9.6h-9.6zM1490.9 529.7h9.6v9.6h-9.6zM1506.5 523.7h9.6v9.6h-9.6zM1522.0 516.5h9.6v9.6h-9.6zM1537.5 508.1h9.6v9.6h-9.6zM1553.1 498.7h9.6v9.6h-9.6zM1568.7 487.8h9.6v9.6h-9.6zM1584.2 474.7h9.6v9.6h-9.6zM1599.8 459.5h9.6v9.6h-9.6zM1615.3 442.1h9.6v9.6h-9.6zM1630.9 422.0h9.6v9.6h-9.6zM1646.4 400.5h9.6v9.6h-9.6zM1662.0 378.9h9.6v9.6h-9.6zM1677.5 356.7h9.6v9.6h-9.6zM1693.0 333.4h9.6v9.6h-9.6zM1708.6 310.0h9.6v9.6h-9.6zM1724.1 287.8h9.6v9.6h-9.6zM1739.7 267.5h9.6v9.6h-9.6zM1755.2 250.3h9.6v9.6h-9.6zM1770.8 236.2h9.6v9.6h-9.6zM1786.4 222.6h9.6v9.6h-9.6zM1801.9 208.1h9.6v9.6h-9.6z" fill="#FF00FF"/>
<path d="M1153.6 581.9L1169.2 580.5L1184.7 579.2L1200.2 577.8L1215.8 576.3L1231.3 574.7L1246.9 573.3L1262.5 571.9L1278.0 570.4L1293.5 568.8L1309.1 566.8L1324.7 564.3L1340.2 562.0L1355.8 560.2L1371.3 558.8L1386.8 556.8L1402.4 554.1L1418.0 551.0L1433.5 547.4L1449.0 543.3L1464.6 538.6L1480.2 533.2L1495.7 527.1L1511.2 520.1L1526.8 511.6L1542.3 501.5L1557.9 490.2L1573.5 477.1L1589.0 461.2L1604.5 442.8L1620.1 421.9L1635.7 398.6L1651.2 374.0L1666.8 349.7L1682.3 325.8L1697.8 302.2L1713.4 279.9L1728.9 260.1L1744.5 242.9L1760.0 228.7L1775.6 216.7L1791.2 205.6L1806.7 195.1" fill="none" stroke="#FF0000" stroke-width="4.0" stroke-linejoin="round"/><path d="M1153.6 576.2l5.8 10.4h-11.5zM1169.2 574.8l5.8 10.4h-11.5zM1184.7 573.4l5.8 10.4h-11.5zM1200.2 572.0l5.8 10.4h-11.5zM1215.8 570.5l5.8 10.4h-11.5zM1231.3 569.0l5.8 10.4h-11.5zM1246.9 567.5l5.8 10.4h-11.5zM1262.5 566.1l5.8 10.4h-11.5zM1278.0 564.6l5.8 10.4h-11.5zM1293.5 563.0l5.8 10.4h-11.5zM1309.1 561.0l5.8 10.4h-11.5zM1324.7 558.6l5.8 10.4h-11.5zM1340.2 556.2l5.8 10.4h-11.5zM1355.8 554.5l5.8 10.4h-11.5zM1371.3 553.1l5.8 10.4h-11.5zM1386.8 551.1l5.8 10.4h-11.5zM1402.4 548.3l5.8 10.4h-11.5zM1418.0 545.2l5.8 10.4h-11.5zM1433.5 541.7l5.8 10.4h-11.5zM1449.0 537.5l5.8 10.4h-11.5zM1464.6 532.8l5.8 10.4h-11.5zM1480.2 527.4l5.8 10.4h-11.5zM1495.7 521.4l5.8 10.4h-11.5zM1511.2 514.3l5.8 10.4h-11.5zM1526.8 505.8l5.8 10.4h-11.5zM1542.3 495.8l5.8 10.4h-11.5zM1557.9 484.4l5.8 10.4h-11.5zM1573.5 471.3l5.8 10.4h-11.5zM1589.0 455.5l5.8 10.4h-11.5zM1604.5 437.0l5.8 10.4h-11.5zM1620.1 416.2l5.8 10.4h-11.5zM1635.7 392.8l5.8 10.4h-11.5zM1651.2 368.2l5.8 10.4h-11.5zM1666.8 344.0l5.8 10.4h-11.5zM1682.3 320.1l5.8 10.4h-11.5zM1697.8 296.4l5.8 10.4h-11.5zM1713.4 274.1l5.8 10.4h-11.5zM1728.9 254.3l5.8 10.4h-11.5zM1744.5 237.2l5.8 10.4h-11.5zM1760.0 222.9l5.8 10.4h-11.5zM1775.6 210.9l5.8 10.4h-11.5zM1791.2 199.9l5.8 10.4h-11.5zM1806.7 189.3l5.8 10.4h-11.5z" fill="#FF0000"/>
<path d="M1153.6 579.5L1169.2 578.1L1184.7 576.7L1200.2 575.3L1215.8 573.7L1231.3 572.2L1246.9 570.7L1262.5 569.2L1278.0 567.7L1293.5 566.0L1309.1 563.8L1324.7 561.1L1340.2 558.5L1355.8 556.7L1371.3 555.3L1386.8 553.1L1402.4 550.1L1418.0 546.5L1433.5 542.5L1449.0 537.7L1464.6 532.2L1480.2 525.9L1495.7 518.7L1511.2 510.3L1526.8 500.2L1542.3 488.1L1557.9 474.5L1573.5 458.7L1589.0 439.8L1604.5 417.9L1620.1 393.8L1635.7 367.7L1651.2 341.0L1666.8 315.2L1682.3 290.9L1697.8 268.0L1713.4 247.7L1728.9 230.5L1744.5 216.4L1760.0 204.5L1775.6 193.8L1791.2 184.2L1806.7 176.1" fill="none" stroke="#800000" stroke-width="4.0" stroke-linejoin="round"/><path d="M1148.8 574.7l9.6 9.6M1148.8 584.3l9.6 -9.6M1164.4 573.3l9.6 9.6M1164.4 582.9l9.6 -9.6M1179.9 571.9l9.6 9.6M1179.9 581.5l9.6 -9.6M1195.5 570.5l9.6 9.6M1195.5 580.1l9.6 -9.6M1211.0 568.9l9.6 9.6M1211.0 578.5l9.6 -9.6M1226.5 567.4l9.6 9.6M1226.5 577.0l9.6 -9.6M1242.1 565.9l9.6 9.6M1242.1 575.5l9.6 -9.6M1257.7 564.4l9.6 9.6M1257.7 574.0l9.6 -9.6M1273.2 562.9l9.6 9.6M1273.2 572.5l9.6 -9.6M1288.8 561.2l9.6 9.6M1288.8 570.8l9.6 -9.6M1304.3 559.0l9.6 9.6M1304.3 568.6l9.6 -9.6M1319.9 556.3l9.6 9.6M1319.9 565.9l9.6 -9.6M1335.4 553.7l9.6 9.6M1335.4 563.3l9.6 -9.6M1351.0 551.9l9.6 9.6M1351.0 561.5l9.6 -9.6M1366.5 550.5l9.6 9.6M1366.5 560.1l9.6 -9.6M1382.0 548.3l9.6 9.6M1382.0 557.9l9.6 -9.6M1397.6 545.3l9.6 9.6M1397.6 554.9l9.6 -9.6M1413.2 541.7l9.6 9.6M1413.2 551.3l9.6 -9.6M1428.7 537.7l9.6 9.6M1428.7 547.3l9.6 -9.6M1444.2 532.9l9.6 9.6M1444.2 542.5l9.6 -9.6M1459.8 527.4l9.6 9.6M1459.8 537.0l9.6 -9.6M1475.4 521.1l9.6 9.6M1475.4 530.7l9.6 -9.6M1490.9 513.9l9.6 9.6M1490.9 523.5l9.6 -9.6M1506.5 505.5l9.6 9.6M1506.5 515.1l9.6 -9.6M1522.0 495.4l9.6 9.6M1522.0 505.0l9.6 -9.6M1537.5 483.3l9.6 9.6M1537.5 492.9l9.6 -9.6M1553.1 469.7l9.6 9.6M1553.1 479.3l9.6 -9.6M1568.7 453.9l9.6 9.6M1568.7 463.5l9.6 -9.6M1584.2 435.0l9.6 9.6M1584.2 444.6l9.6 -9.6M1599.8 413.1l9.6 9.6M1599.8 422.7l9.6 -9.6M1615.3 389.0l9.6 9.6M1615.3 398.6l9.6 -9.6M1630.9 362.9l9.6 9.6M1630.9 372.5l9.6 -9.6M1646.4 336.2l9.6 9.6M1646.4 345.8l9.6 -9.6M1662.0 310.4l9.6 9.6M1662.0 320.0l9.6 -9.6M1677.5 286.1l9.6 9.6M1677.5 295.7l9.6 -9.6M1693.0 263.2l9.6 9.6M1693.0 272.8l9.6 -9.6M1708.6 242.9l9.6 9.6M1708.6 252.5l9.6 -9.6M1724.1 225.7l9.6 9.6M1724.1 235.3l9.6 -9.6M1739.7 211.6l9.6 9.6M1739.7 221.2l9.6 -9.6M1755.2 199.7l9.6 9.6M1755.2 209.3l9.6 -9.6M1770.8 189.0l9.6 9.6M1770.8 198.6l9.6 -9.6M1786.4 179.4l9.6 9.6M1786.4 189.0l9.6 -9.6M1801.9 171.3l9.6 9.6M1801.9 180.9l9.6 -9.6" fill="none" stroke="#800000" stroke-width="1.3"/>
<path d="M1153.6 577.2L1169.2 575.8L1184.7 574.4L1200.2 572.9L1215.8 571.3L1231.3 569.6L1246.9 568.1L1262.5 566.6L1278.0 565.1L1293.5 563.3L1309.1 560.9L1324.7 557.9L1340.2 555.0L1355.8 553.0L1371.3 551.5L1386.8 549.2L1402.4 545.7L1418.0 541.6L1433.5 536.9L1449.0 531.4L1464.6 524.8L1480.2 517.4L1495.7 508.9L1511.2 498.8L1526.8 486.6L1542.3 472.0L1557.9 455.6L1573.5 436.8L1589.0 414.6L1604.5 389.5L1620.1 362.7L1635.7 334.9L1651.2 307.4L1666.8 281.5L1682.3 258.0L1697.8 230.6L1713.4 215.8L1728.9 206.9L1744.5 190.9L1760.0 185.6L1775.6 171.4L1791.2 161.9L1806.7 156.5" fill="none" stroke="#000000" stroke-width="4.0" stroke-linejoin="round"/><path d="M1153.6 571.4l5.8 10.4h-11.5zM1169.2 570.0l5.8 10.4h-11.5zM1184.7 568.6l5.8 10.4h-11.5zM1200.2 567.2l5.8 10.4h-11.5zM1215.8 565.5l5.8 10.4h-11.5zM1231.3 563.9l5.8 10.4h-11.5zM1246.9 562.4l5.8 10.4h-11.5zM1262.5 560.9l5.8 10.4h-11.5zM1278.0 559.3l5.8 10.4h-11.5zM1293.5 557.5l5.8 10.4h-11.5zM1309.1 555.1l5.8 10.4h-11.5zM1324.7 552.1l5.8 10.4h-11.5zM1340.2 549.2l5.8 10.4h-11.5zM1355.8 547.2l5.8 10.4h-11.5zM1371.3 545.8l5.8 10.4h-11.5zM1386.8 543.4l5.8 10.4h-11.5zM1402.4 539.9l5.8 10.4h-11.5zM1418.0 535.9l5.8 10.4h-11.5zM1433.5 531.2l5.8 10.4h-11.5zM1449.0 525.6l5.8 10.4h-11.5zM1464.6 519.1l5.8 10.4h-11.5zM1480.2 511.6l5.8 10.4h-11.5zM1495.7 503.1l5.8 10.4h-11.5zM1511.2 493.0l5.8 10.4h-11.5zM1526.8 480.8l5.8 10.4h-11.5zM1542.3 466.3l5.8 10.4h-11.5zM1557.9 449.8l5.8 10.4h-11.5zM1573.5 431.0l5.8 10.4h-11.5zM1589.0 408.8l5.8 10.4h-11.5zM1604.5 383.7l5.8 10.4h-11.5zM1620.1 356.9l5.8 10.4h-11.5zM1635.7 329.2l5.8 10.4h-11.5zM1651.2 301.6l5.8 10.4h-11.5zM1666.8 275.8l5.8 10.4h-11.5zM1682.3 252.2l5.8 10.4h-11.5zM1697.8 224.9l5.8 10.4h-11.5zM1713.4 210.1l5.8 10.4h-11.5zM1728.9 201.2l5.8 10.4h-11.5zM1744.5 185.2l5.8 10.4h-11.5zM1760.0 179.8l5.8 10.4h-11.5zM1775.6 165.6l5.8 10.4h-11.5zM1791.2 156.1l5.8 10.4h-11.5zM1806.7 150.8l5.8 10.4h-11.5z" fill="#000000"/>
<path d="M1153.6 575.0L1169.2 573.5L1184.7 572.1L1200.2 570.6L1215.8 568.9L1231.3 567.2L1246.9 565.6L1262.5 564.1L1278.0 562.5L1293.5 560.6L1309.1 557.9L1324.7 554.5L1340.2 551.2L1355.8 549.1L1371.3 547.5L1386.8 545.0L1402.4 541.0L1418.0 536.2L1433.5 530.7L1449.0 524.1L1464.6 516.4L1480.2 507.5L1495.7 497.3L1511.2 485.1L1526.8 470.3L1542.3 452.6L1557.9 432.8L1573.5 410.4L1589.0 384.7L1604.5 356.5L1620.1 327.5L1635.7 299.0L1651.2 268.0L1666.8 247.2L1682.3 226.5L1697.8 202.2L1713.4 184.4L1728.9 189.7L1744.5 172.6L1760.0 158.9L1775.6 148.2L1791.2 141.1L1806.7 137.0" fill="none" stroke="#000080" stroke-width="4.0" stroke-linejoin="round"/><path d="M1148.8 575.0a4.8 4.8 0 1 0 9.6 0a4.8 4.8 0 1 0 -9.6 0zM1164.4 573.5a4.8 4.8 0 1 0 9.6 0a4.8 4.8 0 1 0 -9.6 0zM1179.9 572.1a4.8 4.8 0 1 0 9.6 0a4.8 4.8 0 1 0 -9.6 0zM1195.5 570.6a4.8 4.8 0 1 0 9.6 0a4.8 4.8 0 1 0 -9.6 0zM1211.0 568.9a4.8 4.8 0 1 0 9.6 0a4.8 4.8 0 1 0 -9.6 0zM1226.5 567.2a4.8 4.8 0 1 0 9.6 0a4.8 4.8 0 1 0 -9.6 0zM1242.1 565.6a4.8 4.8 0 1 0 9.6 0a4.8 4.8 0 1 0 -9.6 0zM1257.7 564.1a4.8 4.8 0 1 0 9.6 0a4.8 4.8 0 1 0 -9.6 0zM1273.2 562.5a4.8 4.8 0 1 0 9.6 0a4.8 4.8 0 1 0 -9.6 0zM1288.8 560.6a4.8 4.8 0 1 0 9.6 0a4.8 4.8 0 1 0 -9.6 0zM1304.3 557.9a4.8 4.8 0 1 0 9.6 0a4.8 4.8 0 1 0 -9.6 0zM1319.9 554.5a4.8 4.8 0 1 0 9.6 0a4.8 4.8 0 1 0 -9.6 0zM1335.4 551.2a4.8 4.8 0 1 0 9.6 0a4.8 4.8 0 1 0 -9.6 0zM1351.0 549.1a4.8 4.8 0 1 0 9.6 0a4.8 4.8 0 1 0 -9.6 0zM1366.5 547.5a4.8 4.8 0 1 0 9.6 0a4.8 4.8 0 1 0 -9.6 0zM1382.0 545.0a4.8 4.8 0 1 0 9.6 0a4.8 4.8 0 1 0 -9.6 0zM1397.6 541.0a4.8 4.8 0 1 0 9.6 0a4.8 4.8 0 1 0 -9.6 0zM1413.2 536.2a4.8 4.8 0 1 0 9.6 0a4.8 4.8 0 1 0 -9.6 0zM1428.7 530.7a4.8 4.8 0 1 0 9.6 0a4.8 4.8 0 1 0 -9.6 0zM1444.2 524.1a4.8 4.8 0 1 0 9.6 0a4.8 4.8 0 1 0 -9.6 0zM1459.8 516.4a4.8 4.8 0 1 0 9.6 0a4.8 4.8 0 1 0 -9.6 0zM1475.4 507.5a4.8 4.8 0 1 0 9.6 0a4.8 4.8 0 1 0 -9.6 0zM1490.9 497.3a4.8 4.8 0 1 0 9.6 0a4.8 4.8 0 1 0 -9.6 0zM1506.5 485.1a4.8 4.8 0 1 0 9.6 0a4.8 4.8 0 1 0 -9.6 0zM1522.0 470.3a4.8 4.8 0 1 0 9.6 0a4.8 4.8 0 1 0 -9.6 0zM1537.5 452.6a4.8 4.8 0 1 0 9.6 0a4.8 4.8 0 1 0 -9.6 0zM1553.1 432.8a4.8 4.8 0 1 0 9.6 0a4.8 4.8 0 1 0 -9.6 0zM1568.7 410.4a4.8 4.8 0 1 0 9.6 0a4.8 4.8 0 1 0 -9.6 0zM1584.2 384.7a4.8 4.8 0 1 0 9.6 0a4.8 4.8 0 1 0 -9.6 0zM1599.8 356.5a4.8 4.8 0 1 0 9.6 0a4.8 4.8 0 1 0 -9.6 0zM1615.3 327.5a4.8 4.8 0 1 0 9.6 0a4.8 4.8 0 1 0 -9.6 0zM1630.9 299.0a4.8 4.8 0 1 0 9.6 0a4.8 4.8 0 1 0 -9.6 0zM1646.4 268.0a4.8 4.8 0 1 0 9.6 0a4.8 4.8 0 1 0 -9.6 0zM1662.0 247.2a4.8 4.8 0 1 0 9.6 0a4.8 4.8 0 1 0 -9.6 0zM1677.5 226.5a4.8 4.8 0 1 0 9.6 0a4.8 4.8 0 1 0 -9.6 0zM1693.0 202.2a4.8 4.8 0 1 0 9.6 0a4.8 4.8 0 1 0 -9.6 0zM1708.6 184.4a4.8 4.8 0 1 0 9.6 0a4.8 4.8 0 1 0 -9.6 0zM1724.1 189.7a4.8 4.8 0 1 0 9.6 0a4.8 4.8 0 1 0 -9.6 0zM1739.7 172.6a4.8 4.8 0 1 0 9.6 0a4.8 4.8 0 1 0 -9.6 0zM1755.2 158.9a4.8 4.8 0 1 0 9.6 0a4.8 4.8 0 1 0 -9.6 0zM1770.8 148.2a4.8 4.8 0 1 0 9.6 0a4.8 4.8 0 1 0 -9.6 0zM1786.4 141.1a4.8 4.8 0 1 0 9.6 0a4.8 4.8 0 1 0 -9.6 0zM1801.9 137.0a4.8 4.8 0 1 0 9.6 0a4.8 4.8 0 1 0 -9.6 0z" fill="#000080"/>
<path d="M1153.6 572.9L1169.2 571.4L1184.7 570.0L1200.2 568.4L1215.8 566.6L1231.3 564.8L1246.9 563.1L1262.5 561.5L1278.0 559.9L1293.5 557.8L1309.1 554.8L1324.7 550.9L1340.2 547.1L1355.8 544.8L1371.3 543.2L1386.8 540.4L1402.4 535.7L1418.0 530.2L1433.5 523.7L1449.0 515.8L1464.6 506.5L1480.2 495.8L1495.7 483.4L1511.2 468.7L1526.8 450.7L1542.3 429.1L1557.9 405.0L1573.5 378.6L1589.0 349.4L1604.5 318.5L1620.1 288.5L1635.7 260.8L1651.2 226.5L1666.8 202.2L1682.3 186.2L1697.8 172.6L1713.4 166.0L1728.9 163.7L1744.5 158.9L1760.0 141.1L1775.6 132.8L1791.2 117.4L1806.7 106.2" fill="none" stroke="#808000" stroke-width="4.0" stroke-linejoin="round"/><path d="M1153.6 566.9l6.0 6.0l-6.0 6.0l-6.0 -6.0zM1169.2 565.4l6.0 6.0l-6.0 6.0l-6.0 -6.0zM1184.7 564.0l6.0 6.0l-6.0 6.0l-6.0 -6.0zM1200.2 562.4l6.0 6.0l-6.0 6.0l-6.0 -6.0zM1215.8 560.6l6.0 6.0l-6.0 6.0l-6.0 -6.0zM1231.3 558.8l6.0 6.0l-6.0 6.0l-6.0 -6.0zM1246.9 557.1l6.0 6.0l-6.0 6.0l-6.0 -6.0zM1262.5 555.5l6.0 6.0l-6.0 6.0l-6.0 -6.0zM1278.0 553.9l6.0 6.0l-6.0 6.0l-6.0 -6.0zM1293.5 551.8l6.0 6.0l-6.0 6.0l-6.0 -6.0zM1309.1 548.8l6.0 6.0l-6.0 6.0l-6.0 -6.0zM1324.7 544.9l6.0 6.0l-6.0 6.0l-6.0 -6.0zM1340.2 541.1l6.0 6.0l-6.0 6.0l-6.0 -6.0zM1355.8 538.8l6.0 6.0l-6.0 6.0l-6.0 -6.0zM1371.3 537.2l6.0 6.0l-6.0 6.0l-6.0 -6.0zM1386.8 534.4l6.0 6.0l-6.0 6.0l-6.0 -6.0zM1402.4 529.7l6.0 6.0l-6.0 6.0l-6.0 -6.0zM1418.0 524.2l6.0 6.0l-6.0 6.0l-6.0 -6.0zM1433.5 517.7l6.0 6.0l-6.0 6.0l-6.0 -6.0zM1449.0 509.8l6.0 6.0l-6.0 6.0l-6.0 -6.0zM1464.6 500.5l6.0 6.0l-6.0 6.0l-6.0 -6.0zM1480.2 489.8l6.0 6.0l-6.0 6.0l-6.0 -6.0zM1495.7 477.4l6.0 6.0l-6.0 6.0l-6.0 -6.0zM1511.2 462.7l6.0 6.0l-6.0 6.0l-6.0 -6.0zM1526.8 444.7l6.0 6.0l-6.0 6.0l-6.0 -6.0zM1542.3 423.1l6.0 6.0l-6.0 6.0l-6.0 -6.0zM1557.9 399.0l6.0 6.0l-6.0 6.0l-6.0 -6.0zM1573.5 372.6l6.0 6.0l-6.0 6.0l-6.0 -6.0zM1589.0 343.4l6.0 6.0l-6.0 6.0l-6.0 -6.0zM1604.5 312.5l6.0 6.0l-6.0 6.0l-6.0 -6.0zM1620.1 282.5l6.0 6.0l-6.0 6.0l-6.0 -6.0zM1635.7 254.8l6.0 6.0l-6.0 6.0l-6.0 -6.0zM1651.2 220.5l6.0 6.0l-6.0 6.0l-6.0 -6.0zM1666.8 196.2l6.0 6.0l-6.0 6.0l-6.0 -6.0zM1682.3 180.2l6.0 6.0l-6.0 6.0l-6.0 -6.0zM1697.8 166.6l6.0 6.0l-6.0 6.0l-6.0 -6.0zM1713.4 160.0l6.0 6.0l-6.0 6.0l-6.0 -6.0zM1728.9 157.7l6.0 6.0l-6.0 6.0l-6.0 -6.0zM1744.5 152.9l6.0 6.0l-6.0 6.0l-6.0 -6.0zM1760.0 135.1l6.0 6.0l-6.0 6.0l-6.0 -6.0zM1775.6 126.8l6.0 6.0l-6.0 6.0l-6.0 -6.0zM1791.2 111.4l6.0 6.0l-6.0 6.0l-6.0 -6.0zM1806.7 100.2l6.0 6.0l-6.0 6.0l-6.0 -6.0z" fill="#808000"/>
<path d="M1153.6 570.9L1169.2 569.1L1184.7 568.0L1200.2 566.8L1215.8 564.4L1231.3 562.0L1246.9 560.8L1262.5 559.1L1278.0 557.3L1293.5 555.5L1309.1 553.1L1324.7 546.6L1340.2 541.9L1355.8 537.7L1371.3 541.3L1386.8 536.5L1402.4 529.4L1418.0 524.1L1433.5 516.4L1449.0 506.9L1464.6 495.6L1480.2 482.6L1495.7 468.4L1511.2 450.6L1526.8 429.8L1542.3 402.0L1557.9 370.0L1573.5 342.1L1589.0 307.7L1604.5 273.3L1620.1 241.9L1635.7 221.2L1651.2 199.2L1666.8 179.7L1682.3 167.8L1697.8 155.4L1713.4 143.5L1728.9 139.4L1744.5 133.4L1760.0 117.4L1775.6 113.9L1791.2 90.7L1806.7 80.1" fill="none" stroke="#800080" stroke-width="4.0" stroke-linejoin="round"/><path d="M1148.8 566.1h9.6v9.6h-9.6zM1164.4 564.3h9.6v9.6h-9.6zM1179.9 563.2h9.6v9.6h-9.6zM1195.5 562.0h9.6v9.6h-9.6zM1211.0 559.6h9.6v9.6h-9.6zM1226.5 557.2h9.6v9.6h-9.6zM1242.1 556.0h9.6v9.6h-9.6zM1257.7 554.3h9.6v9.6h-9.6zM1273.2 552.5h9.6v9.6h-9.6zM1288.8 550.7h9.6v9.6h-9.6zM1304.3 548.3h9.6v9.6h-9.6zM1319.9 541.8h9.6v9.6h-9.6zM1335.4 537.1h9.6v9.6h-9.6zM1351.0 532.9h9.6v9.6h-9.6zM1366.5 536.5h9.6v9.6h-9.6zM1382.0 531.7h9.6v9.6h-9.6zM1397.6 524.6h9.6v9.6h-9.6zM1413.2 519.3h9.6v9.6h-9.6zM1428.7 511.6h9.6v9.6h-9.6zM1444.2 502.1h9.6v9.6h-9.6zM1459.8 490.8h9.6v9.6h-9.6zM1475.4 477.8h9.6v9.6h-9.6zM1490.9 463.6h9.6v9.6h-9.6zM1506.5 445.8h9.6v9.6h-9.6zM1522.0 425.0h9.6v9.6h-9.6zM1537.5 397.2h9.6v9.6h-9.6zM1553.1 365.2h9.6v9.6h-9.6zM1568.7 337.3h9.6v9.6h-9.6zM1584.2 302.9h9.6v9.6h-9.6zM1599.8 268.5h9.6v9.6h-9.6zM1615.3 237.1h9.6v9.6h-9.6zM1630.9 216.4h9.6v9.6h-9.6zM1646.4 194.4h9.6v9.6h-9.6zM1662.0 174.9h9.6v9.6h-9.6zM1677.5 163.0h9.6v9.6h-9.6zM1693.0 150.6h9.6v9.6h-9.6zM1708.6 138.7h9.6v9.6h-9.6zM1724.1 134.6h9.6v9.6h-9.6zM1739.7 128.6h9.6v9.6h-9.6zM1755.2 112.6h9.6v9.6h-9.6zM1770.8 109.1h9.6v9.6h-9.6zM1786.4 85.9h9.6v9.6h-9.6zM1801.9 75.3h9.6v9.6h-9.6z" fill="#800080"/>
<!-- arrow b -->
<path d="M1603 642L1452.7 408.1M1452.7 408.1L1472.8 418.5M1452.7 408.1L1453.2 430" fill="none" stroke="#222" stroke-width="1.6"/>
<text x="1361" y="385" font-size="37.5">1 MHz</text>
<text x="1601" y="691.3" font-size="41.2">0.02 Hz</text>
</svg>
</body></html>
